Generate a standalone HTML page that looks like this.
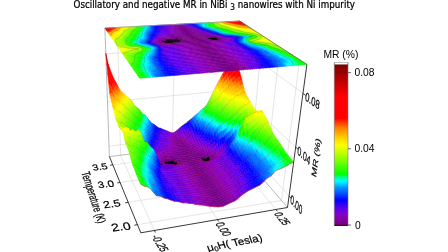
<!DOCTYPE html><html><head><meta charset="utf-8"><title>MR plot</title><style>html,body{margin:0;padding:0;background:#fff}svg{display:block}.s path{fill:currentColor;stroke:currentColor;stroke-width:.5;stroke-linejoin:round}.s .m{fill:none;stroke:#f03030;stroke-width:.65;stroke-opacity:.8}</style></head><body><svg width="448" height="252" viewBox="0 0 448 252"><rect width="448" height="252" fill="#fff"/><g stroke="#d4d4d4" stroke-width="0.6"><line x1="154.5" y1="230.5" x2="120.6" y2="155.2" /><line x1="120.6" y1="155.2" x2="117.4" y2="27.5" /><line x1="217.4" y1="219.6" x2="172.2" y2="148.7" /><line x1="172.2" y1="148.7" x2="175" y2="24.5" /><line x1="275.8" y1="209.5" x2="220.8" y2="142.5" /><line x1="220.8" y1="142.5" x2="228.9" y2="21.6" /><line x1="137.4" y1="224.7" x2="281.5" y2="200.5" /><line x1="281.5" y1="200.5" x2="299.6" y2="59.8" /><line x1="128.2" y1="202.3" x2="265" y2="181.3" /><line x1="265" y1="181.3" x2="279.9" y2="47" /><line x1="120.1" y1="182.5" x2="250.2" y2="164.1" /><line x1="250.2" y1="164.1" x2="262.4" y2="35.8" /><line x1="112.8" y1="164.9" x2="236.9" y2="148.6" /><line x1="236.9" y1="148.6" x2="247" y2="25.8" /><line x1="109" y1="146.2" x2="231.4" y2="131.5" /><line x1="231.4" y1="131.5" x2="289.1" y2="196" /><line x1="107.5" y1="101.9" x2="234.5" y2="89.8" /><line x1="234.5" y1="89.8" x2="295.7" y2="147.2" /><line x1="105.8" y1="53.8" x2="237.9" y2="45" /><line x1="237.9" y1="45" x2="302.9" y2="93.5" /></g><g stroke="#9a9a9a" stroke-width="0.7"><line x1="109.4" y1="156.6" x2="230.6" y2="141.3" /><line x1="230.6" y1="141.3" x2="287.5" y2="207.5" /><line x1="230.6" y1="141.3" x2="239.7" y2="21.1" /><line x1="109.4" y1="156.6" x2="104.9" y2="28.1" /><line x1="104.9" y1="28.1" x2="239.7" y2="21.1" /><line x1="239.7" y1="21.1" x2="306.9" y2="64.5" /></g><g class="s"><path class="m" d="M105.8 53.5l2.3 10.5l2.2 6.2l2.1 5.5l2.1 4.6l2 3.2l2 4.2l2 3.1l1.9 2.1l1.9 1.5l1.9 1.5l1.9 2.2l1.9 .9l1.9 2.3l1.9 3.5l1.8 1.8l1.9 1.5l1.8 1.4l1.8 2.4l1.9 2.4l1.8 .5l1.8 2l1.7 2.6l1.8 2.2l1.8 1.9l1.7 .8l1.8 1.2l1.7 1.4l1.8 1.1l1.7 .3l1.7 .9l1.7 .6l1.8 .7l1.7 .7l1.7 .8l1.7 .5l1.6 .5l1.8-.6l1.7-1.2l1.7-1.3l1.8-1.7l1.7-1.4l1.7-1.3l1.7-1.3l1.8-1l1.7-1.6l1.7-1.5l1.8-1.3l1.7-1.6l1.8-1.7l1.7-1.3l1.7-1.2l1.8-2.2l1.7-1.5l1.8-1.2l1.7-1.6l1.8-2.3l1.8-3.4l1.9-3.7l1.9-4.1l1.9-3.7l1.9-4l1.9-3.7l1.9-3.3l1.9-3.6l1.8-2.8l1.9-2.4l1.8-2l1.8-1.6l1.8-1.9l1.7-1l1.7-.7l1.7-.6"/><path d="M225.2 75.9l1.9-2.5l1.8-2.1l1.8-1.4l1.8-1.7l1.8-1.5l1.7-.8l1.7-.5l-1.1-3.7l-1.7 .6l-1.7 .7l-1.7 1l-1.8 1.9l-1.8 1.6l-1.8 2l-1.9 2.4z" color="#f00"/><path d="M223.4 78.4l1.8-2.5l-1-4l-1.8 2.8z" color="#f10"/><path d="M221.5 81.6l1.9-3.2l-1-3.7l-1.9 3.6z" color="#f50"/><path d="M219.7 84.2l1.8-2.6l-1-3.3l-1.9 3.3z" color="#f90"/><path d="M217.8 87.8l1.9-3.6l-1.1-2.6l-1.9 3.7z" color="#fb0"/><path d="M215.9 91.3l1.9-3.5l-1.1-2.5l-1.9 4z" color="#fd0"/><path d="M214 94.4l1.9-3.1l-1.1-2l-1.9 3.7z" color="#df0"/><path d="M212.1 97.8l1.9-3.4l-1.1-1.4l-1.9 4.1z" color="#bf0"/><path d="M210.3 101l1.8-3.2l-1.1-.7l-1.9 3.7z" color="#7f0"/><path d="M208.5 103.9l1.8-2.9l-1.2-.2l-1.8 3.4z" color="#4f0"/><path d="M206.7 106.5l1.8-2.6l-1.2 .3l-1.8 2.3z" color="#2f0"/><path d="M204.9 108.5l1.8-2l-1.2 0l-1.7 1.6z" color="#0f0"/><path d="M203.1 109.8l1.8-1.3l-1.1-.4l-1.8 1.2z" color="#0f8"/><path d="M201.4 111.2l1.7-1.4l-1.1-.5l-1.7 1.5z" color="#0fb"/><path d="M199.6 113.4l1.8-2.2l-1.1-.4l-1.8 2.2z" color="#0fe"/><path d="M197.9 114.5l1.7-1.1l-1.1-.4l-1.7 1.2z" color="#0cf"/><path d="M196.1 116.1l1.8-1.6l-1.1-.3l-1.7 1.3z" color="#0af"/><path d="M194.4 117.9l1.7-1.8l-1-.6l-1.8 1.7z" color="#09f"/><path d="M192.6 120l1.8-2.1l-1.1-.7l-1.7 1.6z" color="#06f"/><path d="M190.8 122l1.8-2l-1-1.2l-1.8 1.3z" color="#04f"/><path d="M189.1 123.7l1.7-1.7l-1-1.9l-1.7 1.5z" color="#02f"/><path d="M187.3 125.7l1.8-2l-1-2.1l-1.7 1.6z" color="#00f"/><path d="M185.6 126.9l1.7-1.2l-.9-2.5l-1.8 1z" color="#10f"/><path d="M183.8 128.3l1.8-1.4l-1-2.7l-1.7 1.3z" color="#20f"/><path d="M182.1 129.7l1.7-1.4l-.9-2.8l-1.7 1.3z" color="#30e"/><path d="M180.4 131.2l1.7-1.5l-.9-2.9l-1.7 1.4z" color="#50e"/><path d="M178.6 132.8l1.8-1.6l-.9-3l-1.8 1.7z" color="#60d"/><path d="M176.9 134.2l1.7-1.4l-.9-2.9l-1.7 1.3z" color="#70c"/><path d="M175.2 135l1.7-.8l-.9-3l-1.7 1.2z" color="#80c"/><path d="M173.5 135.3l1.7-.3l-.9-2.6l-1.8 .6z" color="#80b"/><path d="M170.1 134.1l1.7 .6l1.7 .6l-1-2.3l-1.6-.5l-1.7-.5z" color="#80c"/><path d="M168.4 133.4l1.7 .7l-.9-2.1l-1.7-.8z" color="#70c"/><path d="M166.6 132.6l1.8 .8l-.9-2.2l-1.7-.7z" color="#60d"/><path d="M164.9 131.9l1.7 .7l-.8-2.1l-1.8-.7z" color="#60e"/><path d="M163.2 131.3l1.7 .6l-.9-2.1l-1.7-.6z" color="#50e"/><path d="M161.5 130.7l1.7 .6l-.9-2.1l-1.7-.9z" color="#30e"/><path d="M159.7 130.4l1.8 .3l-.9-2.4l-1.7-.3z" color="#20f"/><path d="M158 129.3l1.7 1.1l-.8-2.4l-1.8-1.1z" color="#10f"/><path d="M156.2 128l1.8 1.3l-.9-2.4l-1.7-1.4z" color="#00f"/><path d="M154.5 127l1.7 1l-.8-2.5l-1.8-1.2z" color="#01f"/><path d="M152.7 126.1l1.8 .9l-.9-2.7l-1.7-.8z" color="#04f"/><path d="M151 124.1l1.7 2l-.8-2.6l-1.8-1.9z" color="#05f"/><path d="M149.2 121.7l1.8 2.4l-.9-2.5l-1.8-2.2z" color="#07f"/><path d="M147.4 119.4l1.8 2.3l-.9-2.3l-1.7-2.6z" color="#0cf"/><path d="M145.6 117.6l1.8 1.8l-.8-2.6l-1.8-2z" color="#0fe"/><path d="M143.8 116.8l1.8 .8l-.8-2.8l-1.8-.5z" color="#0f8"/><path d="M142 114.8l1.8 2l-.8-2.5l-1.9-2.4z" color="#0f3"/><path d="M140.1 112.4l1.9 2.4l-.9-2.9l-1.8-2.4z" color="#2f0"/><path d="M138.3 111l1.8 1.4l-.8-2.9l-1.8-1.4z" color="#4f0"/><path d="M136.4 109.4l1.9 1.6l-.8-2.9l-1.9-1.5z" color="#5f0"/><path d="M134.6 107.8l1.8 1.6l-.8-2.8l-1.8-1.8z" color="#7f0"/><path d="M132.7 105.1l1.9 2.7l-.8-3l-1.9-3.5z" color="#9f0"/><path d="M130.8 102.9l1.9 2.2l-.8-3.8l-1.9-2.3z" color="#cf0"/><path d="M128.9 101.7l1.9 1.2l-.8-3.9l-1.9-.9z" color="#df0"/><path d="M127 99.5l1.9 2.2l-.8-3.6l-1.9-2.2z" color="#ff0"/><path d="M125.1 98.1l1.9 1.4l-.8-3.6l-1.9-1.5z" color="#fe0"/><path d="M123.2 96.7l1.9 1.4l-.8-3.7l-1.9-1.5z" color="#fd0"/><path d="M121.2 94.4l2 2.3l-.8-3.8l-1.9-2.1z" color="#fb0"/><path d="M119.3 91.4l1.9 3l-.7-3.6l-2-3.1z" color="#fa0"/><path d="M117.3 87.8l2 3.6l-.8-3.7l-2-4.2z" color="#f50"/><path d="M115.3 85.3l2 2.5l-.8-4.3l-2-3.2z" color="#f10"/><path d="M109 71.3l2.1 5.5l2.1 4.8l2.1 3.7l-.8-5l-2.1-4.6l-2.1-5.5l-2.2-6.2z" color="#f00"/><path d="M106.8 63.6l2.2 7.7l-.9-7.3l-2.3-10.5z" color="#c00"/><path d="M228.1 77.4l1.9-2.4l1.7-1l1.8-1.6l1.8-2l1.8-.9l1.7-.5l-1.1-3.6l-1.7 .5l-1.7 .8l-1.8 1.5l-1.8 1.7l-1.8 1.4l-1.8 2.1z" color="#f00"/><path d="M226.3 80l1.8-2.6l-1-4l-1.9 2.5z" color="#f30"/><path d="M224.4 82.2l1.9-2.2l-1.1-4.1l-1.8 2.5z" color="#f50"/><path d="M222.6 84.9l1.8-2.7l-1-3.8l-1.9 3.2z" color="#f80"/><path d="M220.8 86.7l1.8-1.8l-1.1-3.3l-1.8 2.6z" color="#fb0"/><path d="M218.9 90.3l1.9-3.6l-1.1-2.5l-1.9 3.6z" color="#fc0"/><path d="M217 93.5l1.9-3.2l-1.1-2.5l-1.9 3.5z" color="#ff0"/><path d="M215.2 95.9l1.8-2.4l-1.1-2.2l-1.9 3.1z" color="#df0"/><path d="M213.3 98.6l1.9-2.7l-1.2-1.5l-1.9 3.4z" color="#bf0"/><path d="M211.5 101.3l1.8-2.7l-1.2-.8l-1.8 3.2z" color="#8f0"/><path d="M209.7 103.7l1.8-2.4l-1.2-.3l-1.8 2.9z" color="#6f0"/><path d="M207.8 106.5l1.9-2.8l-1.2 .2l-1.8 2.6z" color="#3f0"/><path d="M206 108.9l1.8-2.4l-1.1 0l-1.8 2z" color="#1f0"/><path d="M204.3 110.2l1.7-1.3l-1.1-.4l-1.8 1.3z" color="#0f3"/><path d="M202.5 111.6l1.8-1.4l-1.2-.4l-1.7 1.4z" color="#0f8"/><path d="M200.7 113.8l1.8-2.2l-1.1-.4l-1.8 2.2z" color="#0fb"/><path d="M199 114.8l1.7-1l-1.1-.4l-1.7 1.1z" color="#0ef"/><path d="M197.2 116.7l1.8-1.9l-1.1-.3l-1.8 1.6z" color="#0cf"/><path d="M195.4 118.7l1.8-2l-1.1-.6l-1.7 1.8z" color="#09f"/><path d="M193.6 121.3l1.8-2.6l-1-.8l-1.8 2.1z" color="#06f"/><path d="M191.8 123.9l1.8-2.6l-1-1.3l-1.8 2z" color="#04f"/><path d="M190.1 125.8l1.7-1.9l-1-1.9l-1.7 1.7z" color="#01f"/><path d="M188.3 128.2l1.8-2.4l-1-2.1l-1.8 2z" color="#10f"/><path d="M186.5 129.7l1.8-1.5l-1-2.5l-1.7 1.2z" color="#20f"/><path d="M184.8 131.2l1.7-1.5l-.9-2.8l-1.8 1.4z" color="#30e"/><path d="M183 132.6l1.8-1.4l-1-2.9l-1.7 1.4z" color="#60e"/><path d="M181.3 134.2l1.7-1.6l-.9-2.9l-1.7 1.5z" color="#60d"/><path d="M179.5 135.7l1.8-1.5l-.9-3l-1.8 1.6z" color="#70c"/><path d="M177.8 137.3l1.7-1.6l-.9-2.9l-1.7 1.4z" color="#80b"/><path d="M174.4 137.6l1.7 .1l1.7-.4l-.9-3.1l-1.7 .8l-1.7 .3z" color="#80a"/><path d="M172.7 136.8l1.7 .8l-.9-2.3l-1.7-.6z" color="#80b"/><path d="M169.3 135.6l1.7 .7l1.7 .5l-.9-2.1l-1.7-.6l-1.7-.7z" color="#80c"/><path d="M167.5 134.8l1.8 .8l-.9-2.2l-1.8-.8z" color="#70c"/><path d="M165.8 134l1.7 .8l-.9-2.2l-1.7-.7z" color="#60d"/><path d="M164.1 133.5l1.7 .5l-.9-2.1l-1.7-.6z" color="#60e"/><path d="M162.3 133l1.8 .5l-.9-2.2l-1.7-.6z" color="#50e"/><path d="M160.6 132.8l1.7 .2l-.8-2.3l-1.8-.3z" color="#30e"/><path d="M158.8 131.7l1.8 1.1l-.9-2.4l-1.7-1.1z" color="#20f"/><path d="M157.1 130.6l1.7 1.1l-.8-2.4l-1.8-1.3z" color="#10f"/><path d="M155.3 129.8l1.8 .8l-.9-2.6l-1.7-1z" color="#00f"/><path d="M153.6 128.7l1.7 1.1l-.8-2.8l-1.8-.9z" color="#01f"/><path d="M151.8 126.5l1.8 2.2l-.9-2.6l-1.7-2z" color="#04f"/><path d="M150 124.1l1.8 2.4l-.8-2.4l-1.8-2.4z" color="#06f"/><path d="M148.2 122.1l1.8 2l-.8-2.4l-1.8-2.3z" color="#0af"/><path d="M146.4 120.5l1.8 1.6l-.8-2.7l-1.8-1.8z" color="#0ef"/><path d="M144.6 119.4l1.8 1.1l-.8-2.9l-1.8-.8z" color="#0fe"/><path d="M142.8 117.8l1.8 1.6l-.8-2.6l-1.8-2z" color="#0f8"/><path d="M140.9 115.3l1.9 2.5l-.8-3l-1.9-2.4z" color="#0f0"/><path d="M139.1 113.8l1.8 1.5l-.8-2.9l-1.8-1.4z" color="#2f0"/><path d="M137.2 112.2l1.9 1.6l-.8-2.8l-1.9-1.6z" color="#4f0"/><path d="M135.4 110.8l1.8 1.4l-.8-2.8l-1.8-1.6z" color="#6f0"/><path d="M133.5 108.8l1.9 2l-.8-3l-1.9-2.7z" color="#8f0"/><path d="M131.6 106.9l1.9 1.9l-.8-3.7l-1.9-2.2z" color="#af0"/><path d="M129.7 105.3l1.9 1.6l-.8-4l-1.9-1.2z" color="#cf0"/><path d="M127.8 103.2l1.9 2.1l-.8-3.6l-1.9-2.2z" color="#df0"/><path d="M125.9 101.8l1.9 1.4l-.8-3.7l-1.9-1.4z" color="#ef0"/><path d="M124 100.5l1.9 1.3l-.8-3.7l-1.9-1.4z" color="#fe0"/><path d="M122 98.1l2 2.4l-.8-3.8l-2-2.3z" color="#fd0"/><path d="M120 95.1l2 3l-.8-3.7l-1.9-3z" color="#fb0"/><path d="M118.1 92.1l1.9 3l-.7-3.7l-2-3.6z" color="#f90"/><path d="M116.1 90.5l2 1.6l-.8-4.3l-2-2.5z" color="#f50"/><path d="M114.1 87.5l2 3l-.8-5.2l-2.1-3.7z" color="#f30"/><path d="M107.7 73.7l2.2 4.9l2.1 4.9l2.1 4l-.9-5.9l-2.1-4.8l-2.1-5.5l-2.2-7.7z" color="#f00"/><path d="M232.8 78.1l1.7-1.5l1.9-2.5l1.8-1l1.7-.4l-1.1-3.7l-1.7 .5l-1.8 .9l-1.8 2l-1.8 1.6z" color="#f00"/><path d="M231 78.8l1.8-.7l-1.1-4.1l-1.7 1z" color="#f10"/><path d="M229.1 81.4l1.9-2.6l-1-3.8l-1.9 2.4z" color="#f30"/><path d="M227.3 84.1l1.8-2.7l-1-4l-1.8 2.6z" color="#f70"/><path d="M225.5 85.9l1.8-1.8l-1-4.1l-1.9 2.2z" color="#f90"/><path d="M221.9 89.3l1.7-1.1l1.9-2.3l-1.1-3.7l-1.8 2.7l-1.8 1.8z" color="#fb0"/><path d="M220 92.8l1.9-3.5l-1.1-2.6l-1.9 3.6z" color="#fd0"/><path d="M218.1 95.6l1.9-2.8l-1.1-2.5l-1.9 3.2z" color="#ef0"/><path d="M216.3 97.3l1.8-1.7l-1.1-2.1l-1.8 2.4z" color="#df0"/><path d="M214.5 99.3l1.8-2l-1.1-1.4l-1.9 2.7z" color="#bf0"/><path d="M212.7 101.5l1.8-2.2l-1.2-.7l-1.8 2.7z" color="#9f0"/><path d="M210.9 103.4l1.8-1.9l-1.2-.2l-1.8 2.4z" color="#7f0"/><path d="M209 106.5l1.9-3.1l-1.2 .3l-1.9 2.8z" color="#4f0"/><path d="M207.2 109.4l1.8-2.9l-1.2 0l-1.8 2.4z" color="#2f0"/><path d="M205.4 110.7l1.8-1.3l-1.2-.5l-1.7 1.3z" color="#0f0"/><path d="M203.7 112l1.7-1.3l-1.1-.5l-1.8 1.4z" color="#0f3"/><path d="M201.8 114.2l1.9-2.2l-1.2-.4l-1.8 2.2z" color="#0fb"/><path d="M200.1 115.1l1.7-.9l-1.1-.4l-1.7 1z" color="#0fe"/><path d="M198.3 117.3l1.8-2.2l-1.1-.3l-1.8 1.9z" color="#0ef"/><path d="M196.5 119.4l1.8-2.1l-1.1-.6l-1.8 2z" color="#0af"/><path d="M194.7 122.6l1.8-3.2l-1.1-.7l-1.8 2.6z" color="#07f"/><path d="M192.8 125.8l1.9-3.2l-1.1-1.3l-1.8 2.6z" color="#04f"/><path d="M191.1 128l1.7-2.2l-1-1.9l-1.7 1.9z" color="#01f"/><path d="M189.2 130.8l1.9-2.8l-1-2.2l-1.8 2.4z" color="#20f"/><path d="M187.5 132.5l1.7-1.7l-.9-2.6l-1.8 1.5z" color="#50e"/><path d="M185.7 134l1.8-1.5l-1-2.8l-1.7 1.5z" color="#60e"/><path d="M184 135.6l1.7-1.6l-.9-2.8l-1.8 1.4z" color="#60d"/><path d="M182.2 137.3l1.8-1.7l-1-3l-1.7 1.6z" color="#80c"/><path d="M180.5 138.7l1.7-1.4l-.9-3.1l-1.8 1.5z" color="#80b"/><path d="M178.7 140.3l1.8-1.6l-1-3l-1.7 1.6z" color="#80a"/><path d="M175.3 139.9l1.7 .5l1.7-.1l-.9-3l-1.7 .4l-1.7-.1z" color="#809"/><path d="M173.6 139.1l1.7 .8l-.9-2.3l-1.7-.8z" color="#80a"/><path d="M171.9 138.5l1.7 .6l-.9-2.3l-1.7-.5z" color="#80b"/><path d="M170.2 137.8l1.7 .7l-.9-2.2l-1.7-.7z" color="#80c"/><path d="M168.4 137l1.8 .8l-.9-2.2l-1.8-.8z" color="#70c"/><path d="M166.7 136.2l1.7 .8l-.9-2.2l-1.7-.8z" color="#60d"/><path d="M163.2 135.4l1.8 .2l1.7 .6l-.9-2.2l-1.7-.5l-1.8-.5z" color="#60e"/><path d="M159.7 134.1l1.8 1.2l1.7 .1l-.9-2.4l-1.7-.2l-1.8-1.1z" color="#50e"/><path d="M158 133.1l1.7 1l-.9-2.4l-1.7-1.1z" color="#20f"/><path d="M156.2 132.5l1.8 .6l-.9-2.5l-1.8-.8z" color="#10f"/><path d="M154.4 131.4l1.8 1.1l-.9-2.7l-1.7-1.1z" color="#00f"/><path d="M152.6 129l1.8 2.4l-.8-2.7l-1.8-2.2z" color="#02f"/><path d="M150.9 126.5l1.7 2.5l-.8-2.5l-1.8-2.4z" color="#05f"/><path d="M149.1 124.7l1.8 1.8l-.9-2.4l-1.8-2z" color="#09f"/><path d="M147.2 123.3l1.9 1.4l-.9-2.6l-1.8-1.6z" color="#0cf"/><path d="M145.4 122l1.8 1.3l-.8-2.8l-1.8-1.1z" color="#0ef"/><path d="M143.6 120.8l1.8 1.2l-.8-2.6l-1.8-1.6z" color="#0fb"/><path d="M141.8 118.3l1.8 2.5l-.8-3l-1.9-2.5z" color="#0f3"/><path d="M139.9 116.6l1.9 1.7l-.9-3l-1.8-1.5z" color="#1f0"/><path d="M138.1 115l1.8 1.6l-.8-2.8l-1.9-1.6z" color="#2f0"/><path d="M136.2 113.8l1.9 1.2l-.9-2.8l-1.8-1.4z" color="#4f0"/><path d="M134.3 112.6l1.9 1.2l-.8-3l-1.9-2z" color="#6f0"/><path d="M132.4 110.9l1.9 1.7l-.8-3.8l-1.9-1.9z" color="#7f0"/><path d="M130.5 109l1.9 1.9l-.8-4l-1.9-1.6z" color="#9f0"/><path d="M128.6 106.8l1.9 2.2l-.8-3.7l-1.9-2.1z" color="#bf0"/><path d="M124.8 104.4l1.9 1.2l1.9 1.2l-.8-3.6l-1.9-1.4l-1.9-1.3z" color="#df0"/><path d="M122.8 101.7l2 2.7l-.8-3.9l-2-2.4z" color="#ff0"/><path d="M120.8 98.9l2 2.8l-.8-3.6l-2-3z" color="#fd0"/><path d="M118.8 96.4l2 2.5l-.8-3.8l-1.9-3z" color="#fb0"/><path d="M116.9 95.6l1.9 .8l-.7-4.3l-2-1.6z" color="#f90"/><path d="M114.9 93.4l2 2.2l-.8-5.1l-2-3z" color="#f70"/><path d="M112.8 90.1l2.1 3.3l-.8-5.9l-2.1-4z" color="#f40"/><path d="M108.7 83.8l2.1 2.2l2 4.1l-.8-6.6l-2.1-4.9l-2.2-4.9z" color="#f00"/><path d="M237.5 77.9l1.8-1.2l1.7-.3l-1.1-3.7l-1.7 .4l-1.8 1z" color="#f00"/><path d="M235.6 80.8l1.9-2.9l-1.1-3.8l-1.9 2.5z" color="#f10"/><path d="M232.1 82.6l1.7-.4l1.8-1.4l-1.1-4.2l-1.7 1.5l-1.8 .7z" color="#f40"/><path d="M230.2 85.4l1.9-2.8l-1.1-3.8l-1.9 2.6z" color="#f70"/><path d="M228.3 88.2l1.9-2.8l-1.1-4l-1.8 2.7z" color="#f90"/><path d="M226.5 89.7l1.8-1.5l-1-4.1l-1.8 1.8z" color="#fb0"/><path d="M224.7 91.5l1.8-1.8l-1-3.8l-1.9 2.3z" color="#fc0"/><path d="M223 91.9l1.7-.4l-1.1-3.3l-1.7 1.1z" color="#fd0"/><path d="M221.1 95.3l1.9-3.4l-1.1-2.6l-1.9 3.5z" color="#fe0"/><path d="M217.5 98.8l1.7-1.1l1.9-2.4l-1.1-2.5l-1.9 2.8l-1.8 1.7z" color="#df0"/><path d="M215.7 100.1l1.8-1.3l-1.2-1.5l-1.8 2z" color="#bf0"/><path d="M213.9 101.8l1.8-1.7l-1.2-.8l-1.8 2.2z" color="#af0"/><path d="M212.1 103.2l1.8-1.4l-1.2-.3l-1.8 1.9z" color="#8f0"/><path d="M210.2 106.5l1.9-3.3l-1.2 .2l-1.9 3.1z" color="#6f0"/><path d="M208.3 109.8l1.9-3.3l-1.2 0l-1.8 2.9z" color="#3f0"/><path d="M206.6 111.1l1.7-1.3l-1.1-.4l-1.8 1.3z" color="#1f0"/><path d="M204.8 112.4l1.8-1.3l-1.2-.4l-1.7 1.3z" color="#0f0"/><path d="M203 114.6l1.8-2.2l-1.1-.4l-1.9 2.2z" color="#0f8"/><path d="M201.2 115.4l1.8-.8l-1.2-.4l-1.7 .9z" color="#0fb"/><path d="M199.4 117.9l1.8-2.5l-1.1-.3l-1.8 2.2z" color="#0fe"/><path d="M197.6 120.2l1.8-2.3l-1.1-.6l-1.8 2.1z" color="#0cf"/><path d="M195.7 123.9l1.9-3.7l-1.1-.8l-1.8 3.2z" color="#07f"/><path d="M193.9 127.8l1.8-3.9l-1-1.3l-1.9 3.2z" color="#04f"/><path d="M192.1 130.1l1.8-2.3l-1.1-2l-1.7 2.2z" color="#00f"/><path d="M190.2 133.4l1.9-3.3l-1-2.1l-1.9 2.8z" color="#30e"/><path d="M188.5 135.2l1.7-1.8l-1-2.6l-1.7 1.7z" color="#60e"/><path d="M186.7 136.9l1.8-1.7l-1-2.7l-1.8 1.5z" color="#60d"/><path d="M184.9 138.5l1.8-1.6l-1-2.9l-1.7 1.6z" color="#80c"/><path d="M183.1 140.3l1.8-1.8l-.9-2.9l-1.8 1.7z" color="#80b"/><path d="M181.4 141.7l1.7-1.4l-.9-3l-1.7 1.4z" color="#809"/><path d="M179.6 143.4l1.8-1.7l-.9-3l-1.8 1.6z" color="#709"/><path d="M177.9 143.1l1.7 .3l-.9-3.1l-1.7 .1z" color="#708"/><path d="M176.2 142.3l1.7 .8l-.9-2.7l-1.7-.5z" color="#709"/><path d="M174.5 141.3l1.7 1l-.9-2.4l-1.7-.8z" color="#809"/><path d="M172.8 140.7l1.7 .6l-.9-2.2l-1.7-.6z" color="#80a"/><path d="M171.1 140.1l1.7 .6l-.9-2.2l-1.7-.7z" color="#80b"/><path d="M169.3 139.3l1.8 .8l-.9-2.3l-1.8-.8z" color="#80c"/><path d="M167.6 138.3l1.7 1l-.9-2.3l-1.7-.8z" color="#70c"/><path d="M164.1 137.8l1.8 0l1.7 .5l-.9-2.1l-1.7-.6l-1.8-.2z" color="#60d"/><path d="M160.6 136.6l1.8 1.2l1.7 0l-.9-2.4l-1.7-.1l-1.8-1.2z" color="#60e"/><path d="M158.8 135.7l1.8 .9l-.9-2.5l-1.7-1z" color="#30e"/><path d="M157.1 135.3l1.7 .4l-.8-2.6l-1.8-.6z" color="#20f"/><path d="M155.3 134.1l1.8 1.2l-.9-2.8l-1.8-1.1z" color="#10f"/><path d="M153.5 131.5l1.8 2.6l-.9-2.7l-1.8-2.4z" color="#01f"/><path d="M151.7 128.9l1.8 2.6l-.9-2.5l-1.7-2.5z" color="#04f"/><path d="M149.9 127.4l1.8 1.5l-.8-2.4l-1.8-1.8z" color="#07f"/><path d="M148.1 126.2l1.8 1.2l-.8-2.7l-1.9-1.4z" color="#09f"/><path d="M146.3 124.7l1.8 1.5l-.9-2.9l-1.8-1.3z" color="#0cf"/><path d="M144.4 123.8l1.9 .9l-.9-2.7l-1.8-1.2z" color="#0ef"/><path d="M142.6 121.2l1.8 2.6l-.8-3l-1.8-2.5z" color="#0fb"/><path d="M140.7 119.5l1.9 1.7l-.8-2.9l-1.9-1.7z" color="#0f3"/><path d="M138.9 117.9l1.8 1.6l-.8-2.9l-1.8-1.6z" color="#1f0"/><path d="M137 116.9l1.9 1l-.8-2.9l-1.9-1.2z" color="#3f0"/><path d="M135.1 116.4l1.9 .5l-.8-3.1l-1.9-1.2z" color="#4f0"/><path d="M133.2 114.9l1.9 1.5l-.8-3.8l-1.9-1.7z" color="#5f0"/><path d="M131.3 112.6l1.9 2.3l-.8-4l-1.9-1.9z" color="#7f0"/><path d="M129.4 110.5l1.9 2.1l-.8-3.6l-1.9-2.2z" color="#9f0"/><path d="M127.5 109.4l1.9 1.1l-.8-3.7l-1.9-1.2z" color="#bf0"/><path d="M125.6 108.2l1.9 1.2l-.8-3.8l-1.9-1.2z" color="#cf0"/><path d="M123.6 105.4l2 2.8l-.8-3.8l-2-2.7z" color="#df0"/><path d="M121.6 102.6l2 2.8l-.8-3.7l-2-2.8z" color="#fe0"/><path d="M119.6 100.7l2 1.9l-.8-3.7l-2-2.5z" color="#fd0"/><path d="M115.7 99.3l2 1.4l1.9 0l-.8-4.3l-1.9-.8l-2-2.2z" color="#fb0"/><path d="M113.7 96.8l2 2.5l-.8-5.9l-2.1-3.3z" color="#f90"/><path d="M111.6 93.3l2.1 3.5l-.9-6.7l-2-4.1z" color="#f50"/><path d="M109.7 93.8l1.9-.5l-.8-7.3l-2.1-2.2z" color="#f30"/><path class="m" d="M109.7 93.8l1.9-.5l2.1 3.5l2 2.5l2 1.4l1.9 0l2 1.9l2 2.8l2 2.8l1.9 1.2l1.9 1.1l1.9 2.1l1.9 2.3l1.9 1.5l1.9 .5l1.9 1l1.8 1.6l1.9 1.7l1.8 2.6l1.9 .9l1.8 1.5l1.8 1.2l1.8 1.5l1.8 2.6l1.8 2.6l1.8 1.2l1.7 .4l1.8 .9l1.8 1.2l1.7 0l1.8 0l1.7 .5l1.7 1l1.8 .8l1.7 .6l1.7 .6l1.7 1l1.7 .8l1.7 .3l1.8-1.7l1.7-1.4l1.8-1.8l1.8-1.6l1.8-1.7l1.7-1.8l1.9-3.3l1.8-2.3l1.8-3.9l1.9-3.7l1.8-2.3l1.8-2.5l1.8-.8l1.8-2.2l1.8-1.3l1.7-1.3l1.9-3.3l1.9-3.3l1.8-1.4l1.8-1.7l1.8-1.3l1.7-1.1l1.9-2.4l1.9-3.4l1.7-.4l1.8-1.8l1.8-1.5l1.9-2.8l1.9-2.8l1.7-.4l1.8-1.4l1.9-2.9l1.8-1.2l1.7-.3"/><path d="M240.3 80.8l1.7-.3l-1-4.1l-1.7 .3z" color="#f10"/><path d="M238.6 81.7l1.7-.9l-1-4.1l-1.8 1.2z" color="#f30"/><path d="M236.7 84.4l1.9-2.7l-1.1-3.8l-1.9 2.9z" color="#f40"/><path d="M234.9 85.6l1.8-1.2l-1.1-3.6l-1.8 1.4z" color="#f70"/><path d="M233.2 86l1.7-.4l-1.1-3.4l-1.7 .4z" color="#f80"/><path d="M231.3 88.6l1.9-2.6l-1.1-3.4l-1.9 2.8z" color="#f90"/><path d="M229.4 90.9l1.9-2.3l-1.1-3.2l-1.9 2.8z" color="#fb0"/><path d="M227.6 92.3l1.8-1.4l-1.1-2.7l-1.8 1.5z" color="#fc0"/><path d="M225.8 94.2l1.8-1.9l-1.1-2.6l-1.8 1.8z" color="#fd0"/><path d="M224.1 94.9l1.7-.7l-1.1-2.7l-1.7 .4z" color="#fe0"/><path d="M222.2 98l1.9-3.1l-1.1-3l-1.9 3.4z" color="#ff0"/><path d="M220.3 100.6l1.9-2.6l-1.1-2.7l-1.9 2.4z" color="#df0"/><path d="M218.5 102l1.8-1.4l-1.1-2.9l-1.7 1.1z" color="#bf0"/><path d="M216.7 103.3l1.8-1.3l-1-3.2l-1.8 1.3z" color="#af0"/><path d="M214.9 104.8l1.8-1.5l-1-3.2l-1.8 1.7z" color="#9f0"/><path d="M213.1 106.4l1.8-1.6l-1-3l-1.8 1.4z" color="#8f0"/><path d="M211.3 109.3l1.8-2.9l-1-3.2l-1.9 3.3z" color="#6f0"/><path d="M209.4 112.5l1.9-3.2l-1.1-2.8l-1.9 3.3z" color="#3f0"/><path d="M207.6 113.8l1.8-1.3l-1.1-2.7l-1.7 1.3z" color="#1f0"/><path d="M205.8 115l1.8-1.2l-1-2.7l-1.8 1.3z" color="#0f0"/><path d="M204 117.4l1.8-2.4l-1-2.6l-1.8 2.2z" color="#0f8"/><path d="M202.2 118.5l1.8-1.1l-1-2.8l-1.8 .8z" color="#0fb"/><path d="M200.4 121.2l1.8-2.7l-1-3.1l-1.8 2.5z" color="#0ef"/><path d="M198.6 123.6l1.8-2.4l-1-3.3l-1.8 2.3z" color="#0af"/><path d="M196.7 127.3l1.9-3.7l-1-3.4l-1.9 3.7z" color="#06f"/><path d="M194.9 130.6l1.8-3.3l-1-3.4l-1.8 3.9z" color="#02f"/><path d="M193.1 132.8l1.8-2.2l-1-2.8l-1.8 2.3z" color="#10f"/><path d="M191.2 135.7l1.9-2.9l-1-2.7l-1.9 3.3z" color="#50e"/><path d="M189.4 137.4l1.8-1.7l-1-2.3l-1.7 1.8z" color="#60d"/><path d="M187.7 139l1.7-1.6l-.9-2.2l-1.8 1.7z" color="#70c"/><path d="M185.9 140.4l1.8-1.4l-1-2.1l-1.8 1.6z" color="#80b"/><path d="M184.1 142l1.8-1.6l-1-1.9l-1.8 1.8z" color="#80a"/><path d="M182.4 143.4l1.7-1.4l-1-1.7l-1.7 1.4z" color="#709"/><path d="M177.2 143.8l1.7 .7l1.7 .3l1.8-1.4l-1-1.7l-1.8 1.7l-1.7-.3l-1.7-.8z" color="#708"/><path d="M175.5 142.9l1.7 .9l-1-1.5l-1.7-1z" color="#709"/><path d="M173.7 142.3l1.8 .6l-1-1.6l-1.7-.6z" color="#809"/><path d="M172 141.8l1.7 .5l-.9-1.6l-1.7-.6z" color="#80a"/><path d="M170.3 141l1.7 .8l-.9-1.7l-1.8-.8z" color="#80b"/><path d="M168.5 140.2l1.8 .8l-1-1.7l-1.7-1z" color="#80c"/><path d="M166.8 139.7l1.7 .5l-.9-1.9l-1.7-.5z" color="#70c"/><path d="M163.3 139.4l1.7 .1l1.8 .2l-.9-1.9l-1.8 0l-1.7 0z" color="#60d"/><path d="M161.5 138.3l1.8 1.1l-.9-1.6l-1.8-1.2z" color="#60e"/><path d="M159.7 137.5l1.8 .8l-.9-1.7l-1.8-.9z" color="#50e"/><path d="M157.9 137.1l1.8 .4l-.9-1.8l-1.7-.4z" color="#30e"/><path d="M156.1 136.1l1.8 1l-.8-1.8l-1.8-1.2z" color="#20f"/><path d="M154.4 134l1.7 2.1l-.8-2l-1.8-2.6z" color="#00f"/><path d="M152.6 131.8l1.8 2.2l-.9-2.5l-1.8-2.6z" color="#02f"/><path d="M150.8 130.3l1.8 1.5l-.9-2.9l-1.8-1.5z" color="#05f"/><path d="M148.9 128.9l1.9 1.4l-.9-2.9l-1.8-1.2z" color="#07f"/><path d="M147.1 127.4l1.8 1.5l-.8-2.7l-1.8-1.5z" color="#09f"/><path d="M145.3 126.4l1.8 1l-.8-2.7l-1.9-.9z" color="#0cf"/><path d="M143.4 123.9l1.9 2.5l-.9-2.6l-1.8-2.6z" color="#0fe"/><path d="M141.6 122.1l1.8 1.8l-.8-2.7l-1.9-1.7z" color="#0f8"/><path d="M139.7 120.4l1.9 1.7l-.9-2.6l-1.8-1.6z" color="#0f0"/><path d="M137.8 119.1l1.9 1.3l-.8-2.5l-1.9-1z" color="#1f0"/><path d="M135.9 118.7l1.9 .4l-.8-2.2l-1.9-.5z" color="#2f0"/><path d="M134 117.3l1.9 1.4l-.8-2.3l-1.9-1.5z" color="#3f0"/><path d="M132.1 115.5l1.9 1.8l-.8-2.4l-1.9-2.3z" color="#5f0"/><path d="M130.2 113.5l1.9 2l-.8-2.9l-1.9-2.1z" color="#7f0"/><path d="M128.3 112.2l1.9 1.3l-.8-3l-1.9-1.1z" color="#9f0"/><path d="M126.3 111.1l2 1.1l-.8-2.8l-1.9-1.2z" color="#af0"/><path d="M124.4 108.5l1.9 2.6l-.7-2.9l-2-2.8z" color="#cf0"/><path d="M122.4 106.2l2 2.3l-.8-3.1l-2-2.8z" color="#ef0"/><path d="M120.4 104.3l2 1.9l-.8-3.6l-2-1.9z" color="#fe0"/><path d="M116.5 102.4l2 1.3l1.9 .6l-.8-3.6l-1.9 0l-2-1.4z" color="#fd0"/><path d="M114.5 100.4l2 2l-.8-3.1l-2-2.5z" color="#fb0"/><path d="M112.4 97l2.1 3.4l-.8-3.6l-2.1-3.5z" color="#f90"/><path d="M110.4 96.9l2 .1l-.8-3.7l-1.9 .5z" color="#f80"/><path d="M239.7 85.6l1.7-.6l1.7-.5l-1.1-4l-1.7 .3l-1.7 .9z" color="#f50"/><path d="M237.8 88l1.9-2.4l-1.1-3.9l-1.9 2.7z" color="#f80"/><path d="M236 89l1.8-1l-1.1-3.6l-1.8 1.2z" color="#f90"/><path d="M234.3 89.4l1.7-.4l-1.1-3.4l-1.7 .4z" color="#fa0"/><path d="M232.4 91.8l1.9-2.4l-1.1-3.4l-1.9 2.6z" color="#fb0"/><path d="M230.6 93.7l1.8-1.9l-1.1-3.2l-1.9 2.3z" color="#fc0"/><path d="M228.8 94.9l1.8-1.2l-1.2-2.8l-1.8 1.4z" color="#fd0"/><path d="M227 96.8l1.8-1.9l-1.2-2.6l-1.8 1.9z" color="#fe0"/><path d="M225.2 97.9l1.8-1.1l-1.2-2.6l-1.7 .7z" color="#ff0"/><path d="M223.3 100.8l1.9-2.9l-1.1-3l-1.9 3.1z" color="#df0"/><path d="M221.4 103.4l1.9-2.6l-1.1-2.8l-1.9 2.6z" color="#cf0"/><path d="M219.6 105.2l1.8-1.8l-1.1-2.8l-1.8 1.4z" color="#af0"/><path d="M217.8 106.5l1.8-1.3l-1.1-3.2l-1.8 1.3z" color="#8f0"/><path d="M216 107.8l1.8-1.3l-1.1-3.2l-1.8 1.5z" color="#7f0"/><path d="M214.2 109.6l1.8-1.8l-1.1-3l-1.8 1.6z" color="#6f0"/><path d="M212.3 112.2l1.9-2.6l-1.1-3.2l-1.8 2.9z" color="#4f0"/><path d="M210.5 115.2l1.8-3l-1-2.9l-1.9 3.2z" color="#1f0"/><path d="M208.7 116.6l1.8-1.4l-1.1-2.7l-1.8 1.3z" color="#0f3"/><path d="M206.9 117.7l1.8-1.1l-1.1-2.8l-1.8 1.2z" color="#0f8"/><path d="M205.1 120.2l1.8-2.5l-1.1-2.7l-1.8 2.4z" color="#0fb"/><path d="M203.3 121.7l1.8-1.5l-1.1-2.8l-1.8 1.1z" color="#0ef"/><path d="M201.4 124.5l1.9-2.8l-1.1-3.2l-1.8 2.7z" color="#0af"/><path d="M199.6 127.1l1.8-2.6l-1-3.3l-1.8 2.4z" color="#07f"/><path d="M197.7 130.7l1.9-3.6l-1-3.5l-1.9 3.7z" color="#04f"/><path d="M195.8 133.5l1.9-2.8l-1-3.4l-1.8 3.3z" color="#00f"/><path d="M194.1 135.4l1.7-1.9l-.9-2.9l-1.8 2.2z" color="#30e"/><path d="M192.2 138l1.9-2.6l-1-2.6l-1.9 2.9z" color="#60e"/><path d="M190.4 139.6l1.8-1.6l-1-2.3l-1.8 1.7z" color="#70c"/><path d="M188.7 141.1l1.7-1.5l-1-2.2l-1.7 1.6z" color="#80c"/><path d="M186.9 142.4l1.8-1.3l-1-2.1l-1.8 1.4z" color="#80b"/><path d="M185.1 143.8l1.8-1.4l-1-2l-1.8 1.6z" color="#809"/><path d="M183.4 145.1l1.7-1.3l-1-1.8l-1.7 1.4z" color="#709"/><path d="M178.2 145.4l1.7 .6l1.7 .3l1.8-1.2l-1-1.7l-1.8 1.4l-1.7-.3l-1.7-.7z" color="#708"/><path d="M176.4 144.6l1.8 .8l-1-1.6l-1.7-.9z" color="#709"/><path d="M174.7 144l1.7 .6l-.9-1.7l-1.8-.6z" color="#809"/><path d="M173 143.5l1.7 .5l-1-1.7l-1.7-.5z" color="#80a"/><path d="M171.2 142.8l1.8 .7l-1-1.7l-1.7-.8z" color="#80b"/><path d="M169.5 142.1l1.7 .7l-.9-1.8l-1.8-.8z" color="#80c"/><path d="M165.9 141.2l1.8 .4l1.8 .5l-1-1.9l-1.7-.5l-1.8-.2z" color="#70c"/><path d="M164.2 141l1.7 .2l-.9-1.7l-1.7-.1z" color="#60d"/><path d="M162.4 140l1.8 1l-.9-1.6l-1.8-1.1z" color="#60e"/><path d="M158.8 138.9l1.8 .5l1.8 .6l-.9-1.7l-1.8-.8l-1.8-.4z" color="#50e"/><path d="M157 138.2l1.8 .7l-.9-1.8l-1.8-1z" color="#30e"/><path d="M155.2 136.5l1.8 1.7l-.9-2.1l-1.7-2.1z" color="#10f"/><path d="M153.4 134.8l1.8 1.7l-.8-2.5l-1.8-2.2z" color="#01f"/><path d="M151.6 133.3l1.8 1.5l-.8-3l-1.8-1.5z" color="#04f"/><path d="M149.8 131.5l1.8 1.8l-.8-3l-1.9-1.4z" color="#06f"/><path d="M148 130.2l1.8 1.3l-.9-2.6l-1.8-1.5z" color="#07f"/><path d="M146.1 129l1.9 1.2l-.9-2.8l-1.8-1z" color="#0af"/><path d="M144.3 126.6l1.8 2.4l-.8-2.6l-1.9-2.5z" color="#0ef"/><path d="M142.4 124.8l1.9 1.8l-.9-2.7l-1.8-1.8z" color="#0fb"/><path d="M140.5 123l1.9 1.8l-.8-2.7l-1.9-1.7z" color="#0f3"/><path d="M138.6 121.4l1.9 1.6l-.8-2.6l-1.9-1.3z" color="#0f0"/><path d="M136.7 121l1.9 .4l-.8-2.3l-1.9-.4z" color="#1f0"/><path d="M134.8 119.8l1.9 1.2l-.8-2.3l-1.9-1.4z" color="#2f0"/><path d="M132.9 118.5l1.9 1.3l-.8-2.5l-1.9-1.8z" color="#4f0"/><path d="M131 116.4l1.9 2.1l-.8-3l-1.9-2z" color="#6f0"/><path d="M129.1 114.9l1.9 1.5l-.8-2.9l-1.9-1.3z" color="#8f0"/><path d="M127.1 113.9l2 1l-.8-2.7l-2-1.1z" color="#9f0"/><path d="M125.2 111.6l1.9 2.3l-.8-2.8l-1.9-2.6z" color="#bf0"/><path d="M123.2 109.8l2 1.8l-.8-3.1l-2-2.3z" color="#df0"/><path d="M121.2 107.8l2 2l-.8-3.6l-2-1.9z" color="#ef0"/><path d="M119.2 106.8l2 1l-.8-3.5l-1.9-.6z" color="#ff0"/><path d="M117.3 105.6l1.9 1.2l-.7-3.1l-2-1.3z" color="#fe0"/><path d="M115.2 103.9l2.1 1.7l-.8-3.2l-2-2z" color="#fd0"/><path d="M113.2 100.8l2 3.1l-.7-3.5l-2.1-3.4z" color="#fb0"/><path d="M111.2 100l2 .8l-.8-3.8l-2-.1z" color="#fa0"/><path d="M240.8 89.5l1.7-.4l1.7-.5l-1.1-4.1l-1.7 .5l-1.7 .6z" color="#f90"/><path d="M238.9 91.6l1.9-2.1l-1.1-3.9l-1.9 2.4z" color="#fa0"/><path d="M235.4 92.8l1.7-.3l1.8-.9l-1.1-3.6l-1.8 1l-1.7 .4z" color="#fb0"/><path d="M233.5 95l1.9-2.2l-1.1-3.4l-1.9 2.4z" color="#fc0"/><path d="M231.7 96.5l1.8-1.5l-1.1-3.2l-1.8 1.9z" color="#fd0"/><path d="M230 97.5l1.7-1l-1.1-2.8l-1.8 1.2z" color="#fe0"/><path d="M228.1 99.5l1.9-2l-1.2-2.6l-1.8 1.9z" color="#ff0"/><path d="M226.3 100.9l1.8-1.4l-1.1-2.7l-1.8 1.1z" color="#df0"/><path d="M224.4 103.5l1.9-2.6l-1.1-3l-1.9 2.9z" color="#cf0"/><path d="M222.5 106.3l1.9-2.8l-1.1-2.7l-1.9 2.6z" color="#af0"/><path d="M220.7 108.4l1.8-2.1l-1.1-2.9l-1.8 1.8z" color="#8f0"/><path d="M218.9 109.8l1.8-1.4l-1.1-3.2l-1.8 1.3z" color="#7f0"/><path d="M217.1 110.9l1.8-1.1l-1.1-3.3l-1.8 1.3z" color="#5f0"/><path d="M215.3 112.8l1.8-1.9l-1.1-3.1l-1.8 1.8z" color="#4f0"/><path d="M213.4 115l1.9-2.2l-1.1-3.2l-1.9 2.6z" color="#2f0"/><path d="M211.5 117.9l1.9-2.9l-1.1-2.8l-1.8 3z" color="#0f0"/><path d="M209.7 119.3l1.8-1.4l-1-2.7l-1.8 1.4z" color="#0f8"/><path d="M208 120.3l1.7-1l-1-2.7l-1.8 1.1z" color="#0fb"/><path d="M206.1 123l1.9-2.7l-1.1-2.6l-1.8 2.5z" color="#0ef"/><path d="M204.3 124.9l1.8-1.9l-1-2.8l-1.8 1.5z" color="#0af"/><path d="M202.4 127.8l1.9-2.9l-1-3.2l-1.9 2.8z" color="#07f"/><path d="M200.6 130.5l1.8-2.7l-1-3.3l-1.8 2.6z" color="#05f"/><path d="M198.7 134.1l1.9-3.6l-1-3.4l-1.9 3.6z" color="#01f"/><path d="M196.9 136.4l1.8-2.3l-1-3.4l-1.9 2.8z" color="#20f"/><path d="M195.1 138.1l1.8-1.7l-1.1-2.9l-1.7 1.9z" color="#50e"/><path d="M193.2 140.4l1.9-2.3l-1-2.7l-1.9 2.6z" color="#60d"/><path d="M191.5 141.9l1.7-1.5l-1-2.4l-1.8 1.6z" color="#80c"/><path d="M189.7 143.3l1.8-1.4l-1.1-2.3l-1.7 1.5z" color="#80b"/><path d="M187.9 144.3l1.8-1l-1-2.2l-1.8 1.3z" color="#80a"/><path d="M186.1 145.6l1.8-1.3l-1-1.9l-1.8 1.4z" color="#809"/><path d="M184.4 146.8l1.7-1.2l-1-1.8l-1.7 1.3z" color="#709"/><path d="M179.1 147l1.8 .5l1.7 .2l1.8-.9l-1-1.7l-1.8 1.2l-1.7-.3l-1.7-.6z" color="#708"/><path d="M177.4 146.3l1.7 .7l-.9-1.6l-1.8-.8z" color="#709"/><path d="M175.7 145.7l1.7 .6l-1-1.7l-1.7-.6z" color="#809"/><path d="M173.9 145.2l1.8 .5l-1-1.7l-1.7-.5z" color="#80a"/><path d="M172.2 144.6l1.7 .6l-.9-1.7l-1.8-.7z" color="#80b"/><path d="M168.6 143.5l1.8 .5l1.8 .6l-1-1.8l-1.7-.7l-1.8-.5z" color="#80c"/><path d="M166.9 142.9l1.7 .6l-.9-1.9l-1.8-.4z" color="#70c"/><path d="M163.3 141.7l1.8 .9l1.8 .3l-1-1.7l-1.7-.2l-1.8-1z" color="#60d"/><path d="M161.5 141.2l1.8 .5l-.9-1.7l-1.8-.6z" color="#60e"/><path d="M159.7 140.7l1.8 .5l-.9-1.8l-1.8-.5z" color="#50e"/><path d="M157.9 140.3l1.8 .4l-.9-1.8l-1.8-.7z" color="#30e"/><path d="M156.1 138.9l1.8 1.4l-.9-2.1l-1.8-1.7z" color="#20f"/><path d="M154.3 137.9l1.8 1l-.9-2.4l-1.8-1.7z" color="#00f"/><path d="M152.5 136.3l1.8 1.6l-.9-3.1l-1.8-1.5z" color="#01f"/><path d="M150.7 134.1l1.8 2.2l-.9-3l-1.8-1.8z" color="#04f"/><path d="M148.8 133.1l1.9 1l-.9-2.6l-1.8-1.3z" color="#06f"/><path d="M147 131.6l1.8 1.5l-.8-2.9l-1.9-1.2z" color="#07f"/><path d="M145.1 129.4l1.9 2.2l-.9-2.6l-1.8-2.4z" color="#0af"/><path d="M143.2 127.4l1.9 2l-.8-2.8l-1.9-1.8z" color="#0fe"/><path d="M141.3 125.6l1.9 1.8l-.8-2.6l-1.9-1.8z" color="#0fb"/><path d="M139.5 123.7l1.8 1.9l-.8-2.6l-1.9-1.6z" color="#0f3"/><path d="M135.7 122.3l1.9 1l1.9 .4l-.9-2.3l-1.9-.4l-1.9-1.2z" color="#1f0"/><path d="M133.7 121.4l2 .9l-.9-2.5l-1.9-1.3z" color="#3f0"/><path d="M131.8 119.5l1.9 1.9l-.8-2.9l-1.9-2.1z" color="#4f0"/><path d="M129.9 117.8l1.9 1.7l-.8-3.1l-1.9-1.5z" color="#6f0"/><path d="M127.9 116.8l2 1l-.8-2.9l-2-1z" color="#8f0"/><path d="M126 114.7l1.9 2.1l-.8-2.9l-1.9-2.3z" color="#9f0"/><path d="M124 113.4l2 1.3l-.8-3.1l-2-1.8z" color="#bf0"/><path d="M122 111.4l2 2l-.8-3.6l-2-2z" color="#df0"/><path d="M120 109.8l2 1.6l-.8-3.6l-2-1z" color="#ef0"/><path d="M118 108.8l2 1l-.8-3l-1.9-1.2z" color="#ff0"/><path d="M116 107.5l2 1.3l-.7-3.2l-2.1-1.7z" color="#fe0"/><path d="M114 104.6l2 2.9l-.8-3.6l-2-3.1z" color="#fd0"/><path d="M111.9 103.1l2.1 1.5l-.8-3.8l-2-.8z" color="#fb0"/><path d="M241.9 93.4l1.7-.1l1.7-.6l-1.1-4.1l-1.7 .5l-1.7 .4z" color="#fb0"/><path d="M240 95.2l1.9-1.8l-1.1-3.9l-1.9 2.1z" color="#fc0"/><path d="M234.7 98.3l1.8-2l1.8-.4l1.7-.7l-1.1-3.6l-1.8 .9l-1.7 .3l-1.9 2.2z" color="#fd0"/><path d="M231.1 100.1l1.8-.8l1.8-1l-1.2-3.3l-1.8 1.5l-1.7 1z" color="#ff0"/><path d="M227.4 104l1.9-1.8l1.8-2.1l-1.1-2.6l-1.9 2l-1.8 1.4z" color="#df0"/><path d="M225.5 106.3l1.9-2.3l-1.1-3.1l-1.9 2.6z" color="#bf0"/><path d="M223.6 109.2l1.9-2.9l-1.1-2.8l-1.9 2.8z" color="#9f0"/><path d="M221.8 111.6l1.8-2.4l-1.1-2.9l-1.8 2.1z" color="#6f0"/><path d="M220 113l1.8-1.4l-1.1-3.2l-1.8 1.4z" color="#5f0"/><path d="M218.2 114l1.8-1l-1.1-3.2l-1.8 1.1z" color="#4f0"/><path d="M216.3 116.1l1.9-2.1l-1.1-3.1l-1.8 1.9z" color="#2f0"/><path d="M214.5 117.9l1.8-1.8l-1-3.3l-1.9 2.2z" color="#1f0"/><path d="M212.6 120.7l1.9-2.8l-1.1-2.9l-1.9 2.9z" color="#0f8"/><path d="M210.8 122.1l1.8-1.4l-1.1-2.8l-1.8 1.4z" color="#0fb"/><path d="M209 123l1.8-.9l-1.1-2.8l-1.7 1z" color="#0fe"/><path d="M207.2 125.8l1.8-2.8l-1-2.7l-1.9 2.7z" color="#0cf"/><path d="M205.3 128.1l1.9-2.3l-1.1-2.8l-1.8 1.9z" color="#09f"/><path d="M203.4 131.2l1.9-3.1l-1-3.2l-1.9 2.9z" color="#05f"/><path d="M201.6 134l1.8-2.8l-1-3.4l-1.8 2.7z" color="#02f"/><path d="M199.7 137.6l1.9-3.6l-1-3.5l-1.9 3.6z" color="#10f"/><path d="M197.9 139.3l1.8-1.7l-1-3.5l-1.8 2.3z" color="#50e"/><path d="M196.1 140.8l1.8-1.5l-1-2.9l-1.8 1.7z" color="#60e"/><path d="M194.3 142.7l1.8-1.9l-1-2.7l-1.9 2.3z" color="#70c"/><path d="M192.5 144.1l1.8-1.4l-1.1-2.3l-1.7 1.5z" color="#80b"/><path d="M190.7 145.5l1.8-1.4l-1-2.2l-1.8 1.4z" color="#80a"/><path d="M187.1 147.4l1.8-1.2l1.8-.7l-1-2.2l-1.8 1l-1.8 1.3z" color="#809"/><path d="M185.4 148.5l1.7-1.1l-1-1.8l-1.7 1.2z" color="#709"/><path d="M180.1 148.5l1.8 .5l1.7 .1l1.8-.6l-1-1.7l-1.8 .9l-1.7-.2l-1.8-.5z" color="#708"/><path d="M178.4 147.9l1.7 .6l-1-1.5l-1.7-.7z" color="#709"/><path d="M176.6 147.4l1.8 .5l-1-1.6l-1.7-.6z" color="#809"/><path d="M173.1 146.4l1.8 .6l1.7 .4l-.9-1.7l-1.8-.5l-1.7-.6z" color="#80a"/><path d="M171.4 145.9l1.7 .5l-.9-1.8l-1.8-.6z" color="#80b"/><path d="M169.6 145.5l1.8 .4l-1-1.9l-1.8-.5z" color="#80c"/><path d="M166 144.2l1.8 .5l1.8 .8l-1-2l-1.7-.6l-1.8-.3z" color="#70c"/><path d="M164.2 143.5l1.8 .7l-.9-1.6l-1.8-.9z" color="#60d"/><path d="M162.4 143.1l1.8 .4l-.9-1.8l-1.8-.5z" color="#60e"/><path d="M158.8 142.4l1.8 .1l1.8 .6l-.9-1.9l-1.8-.5l-1.8-.4z" color="#50e"/><path d="M157 141.5l1.8 .9l-.9-2.1l-1.8-1.4z" color="#30e"/><path d="M155.2 140.9l1.8 .6l-.9-2.6l-1.8-1z" color="#20f"/><path d="M153.4 139.3l1.8 1.6l-.9-3l-1.8-1.6z" color="#00f"/><path d="M151.5 136.8l1.9 2.5l-.9-3l-1.8-2.2z" color="#02f"/><path d="M149.7 135.9l1.8 .9l-.8-2.7l-1.9-1z" color="#05f"/><path d="M147.8 134.3l1.9 1.6l-.9-2.8l-1.8-1.5z" color="#06f"/><path d="M146 132.1l1.8 2.2l-.8-2.7l-1.9-2.2z" color="#09f"/><path d="M144.1 130.1l1.9 2l-.9-2.7l-1.9-2z" color="#0cf"/><path d="M142.2 128.2l1.9 1.9l-.9-2.7l-1.9-1.8z" color="#0fe"/><path d="M140.3 126l1.9 2.2l-.9-2.6l-1.8-1.9z" color="#0f8"/><path d="M138.4 125.7l1.9 .3l-.8-2.3l-1.9-.4z" color="#0f0"/><path d="M134.6 124.4l1.9 .4l1.9 .9l-.8-2.4l-1.9-1l-2-.9z" color="#1f0"/><path d="M132.6 122.5l2 1.9l-.9-3l-1.9-1.9z" color="#3f0"/><path d="M130.7 120.6l1.9 1.9l-.8-3l-1.9-1.7z" color="#5f0"/><path d="M128.7 119.6l2 1l-.8-2.8l-2-1z" color="#6f0"/><path d="M126.8 117.8l1.9 1.8l-.8-2.8l-1.9-2.1z" color="#8f0"/><path d="M124.8 117.1l2 .7l-.8-3.1l-2-1.3z" color="#9f0"/><path d="M122.8 115l2 2.1l-.8-3.7l-2-2z" color="#bf0"/><path d="M118.8 112l2 .9l2 2.1l-.8-3.6l-2-1.6l-2-1z" color="#df0"/><path d="M116.8 111.1l2 .9l-.8-3.2l-2-1.3z" color="#ef0"/><path d="M114.7 108.5l2.1 2.6l-.8-3.6l-2-2.9z" color="#fe0"/><path d="M112.7 106.2l2 2.3l-.7-3.9l-2.1-1.5z" color="#fc0"/><path class="m" d="M112.7 106.2l2 2.3l2.1 2.6l2 .9l2 .9l2 2.1l2 2.1l2 .7l1.9 1.8l2 1l1.9 1.9l2 1.9l1.9 .4l1.9 .9l1.9 .3l1.9 2.2l1.9 1.9l1.9 2l1.8 2.2l1.9 1.6l1.8 .9l1.9 2.5l1.8 1.6l1.8 .6l1.8 .9l1.8 .1l1.8 .6l1.8 .4l1.8 .7l1.8 .5l1.8 .8l1.8 .4l1.7 .5l1.8 .6l1.7 .4l1.8 .5l1.7 .6l1.8 .5l1.7 .1l1.8-.6l1.7-1.1l1.8-1.2l1.8-.7l1.8-1.4l1.8-1.4l1.8-1.9l1.8-1.5l1.8-1.7l1.9-3.6l1.8-2.8l1.9-3.1l1.9-2.3l1.8-2.8l1.8-.9l1.8-1.4l1.9-2.8l1.8-1.8l1.9-2.1l1.8-1l1.8-1.4l1.8-2.4l1.9-2.9l1.9-2.3l1.9-1.8l1.8-2.1l1.8-.8l1.8-1l1.8-2l1.8-.4l1.7-.7l1.9-1.8l1.7-.1l1.7-.6"/><path d="M244.8 95.6l1.7-.6l-1.2-2.3l-1.7 .6z" color="#fc0"/><path d="M241.2 97.7l1.9-1.5l1.7-.6l-1.2-2.3l-1.7 .1l-1.9 1.8z" color="#fd0"/><path d="M237.7 98.9l1.8-.4l1.7-.8l-1.2-2.5l-1.7 .7l-1.8 .4z" color="#fe0"/><path d="M235.9 100.8l1.8-1.9l-1.2-2.6l-1.8 2z" color="#ff0"/><path d="M234.1 102.1l1.8-1.3l-1.2-2.5l-1.8 1z" color="#ef0"/><path d="M230.4 105.3l1.8-1.9l1.9-1.3l-1.2-2.8l-1.8 .8l-1.8 2.1z" color="#df0"/><path d="M228.6 106.9l1.8-1.6l-1.1-3.1l-1.9 1.8z" color="#bf0"/><path d="M226.7 109.2l1.9-2.3l-1.2-2.9l-1.9 2.3z" color="#9f0"/><path d="M224.8 111.8l1.9-2.6l-1.2-2.9l-1.9 2.9z" color="#7f0"/><path d="M222.9 114.2l1.9-2.4l-1.2-2.6l-1.8 2.4z" color="#5f0"/><path d="M221.1 115.5l1.8-1.3l-1.1-2.6l-1.8 1.4z" color="#3f0"/><path d="M219.3 116.5l1.8-1l-1.1-2.5l-1.8 1z" color="#2f0"/><path d="M217.5 118.4l1.8-1.9l-1.1-2.5l-1.9 2.1z" color="#1f0"/><path d="M215.6 120l1.9-1.6l-1.2-2.3l-1.8 1.8z" color="#0f3"/><path d="M213.8 122.7l1.8-2.7l-1.1-2.1l-1.9 2.8z" color="#0fb"/><path d="M211.9 124.5l1.9-1.8l-1.2-2l-1.8 1.4z" color="#0ef"/><path d="M210.1 126.5l1.8-2l-1.1-2.4l-1.8 .9z" color="#0cf"/><path d="M208.2 129.2l1.9-2.7l-1.1-3.5l-1.8 2.8z" color="#09f"/><path d="M206.3 131.6l1.9-2.4l-1-3.4l-1.9 2.3z" color="#06f"/><path d="M204.5 134.4l1.8-2.8l-1-3.5l-1.9 3.1z" color="#04f"/><path d="M202.6 137l1.9-2.6l-1.1-3.2l-1.8 2.8z" color="#00f"/><path d="M200.7 140.1l1.9-3.1l-1-3l-1.9 3.6z" color="#30e"/><path d="M198.9 141.7l1.8-1.6l-1-2.5l-1.8 1.7z" color="#60e"/><path d="M197.1 143.2l1.8-1.5l-1-2.4l-1.8 1.5z" color="#60d"/><path d="M195.3 144.9l1.8-1.7l-1-2.4l-1.8 1.9z" color="#80c"/><path d="M193.5 146.2l1.8-1.3l-1-2.2l-1.8 1.4z" color="#80b"/><path d="M191.7 147.3l1.8-1.1l-1-2.1l-1.8 1.4z" color="#80a"/><path d="M190 148l1.7-.7l-1-1.8l-1.8 .7z" color="#809"/><path d="M188.2 149.1l1.8-1.1l-1.1-1.8l-1.8 1.2z" color="#709"/><path d="M181.1 150.3l1.8 .3l1.7 .1l1.8-.7l1.8-.9l-1.1-1.7l-1.7 1.1l-1.8 .6l-1.7-.1l-1.8-.5z" color="#708"/><path d="M179.4 149.9l1.7 .4l-1-1.8l-1.7-.6z" color="#709"/><path d="M175.8 149.3l1.8 .2l1.8 .4l-1-2l-1.8-.5l-1.7-.4z" color="#809"/><path d="M174.1 148.8l1.7 .5l-.9-2.3l-1.8-.6z" color="#80a"/><path d="M170.5 148l1.8 .3l1.8 .5l-1-2.4l-1.7-.5l-1.8-.4z" color="#80b"/><path d="M168.7 147.4l1.8 .6l-.9-2.5l-1.8-.8z" color="#80c"/><path d="M165.1 146.4l1.8 .6l1.8 .4l-.9-2.7l-1.8-.5l-1.8-.7z" color="#70c"/><path d="M163.3 146l1.8 .4l-.9-2.9l-1.8-.4z" color="#60d"/><path d="M159.7 145.4l1.8 .1l1.8 .5l-.9-2.9l-1.8-.6l-1.8-.1z" color="#60e"/><path d="M157.9 144.4l1.8 1l-.9-3l-1.8-.9z" color="#50e"/><path d="M156.1 143.9l1.8 .5l-.9-2.9l-1.8-.6z" color="#30e"/><path d="M154.2 142.4l1.9 1.5l-.9-3l-1.8-1.6z" color="#20f"/><path d="M152.4 140.3l1.8 2.1l-.8-3.1l-1.9-2.5z" color="#00f"/><path d="M150.5 139.4l1.9 .9l-.9-3.5l-1.8-.9z" color="#02f"/><path d="M148.7 137.4l1.8 2l-.8-3.5l-1.9-1.6z" color="#05f"/><path d="M146.8 135.1l1.9 2.3l-.9-3.1l-1.8-2.2z" color="#07f"/><path d="M144.9 132.7l1.9 2.4l-.8-3l-1.9-2z" color="#0af"/><path d="M143 130.7l1.9 2l-.8-2.6l-1.9-1.9z" color="#0ef"/><path d="M141.1 128.7l1.9 2l-.8-2.5l-1.9-2.2z" color="#0fb"/><path d="M137.3 127.7l1.9 .8l1.9 .2l-.8-2.7l-1.9-.3l-1.9-.9z" color="#0f3"/><path d="M135.4 127l1.9 .7l-.8-2.9l-1.9-.4z" color="#0f0"/><path d="M133.4 125l2 2l-.8-2.6l-2-1.9z" color="#2f0"/><path d="M131.5 123.6l1.9 1.4l-.8-2.5l-1.9-1.9z" color="#3f0"/><path d="M129.5 122.4l2 1.2l-.8-3l-2-1z" color="#5f0"/><path d="M127.6 120.8l1.9 1.6l-.8-2.8l-1.9-1.8z" color="#6f0"/><path d="M125.6 119.9l2 .9l-.8-3l-2-.7z" color="#8f0"/><path d="M123.6 117.9l2 2l-.8-2.8l-2-2.1z" color="#9f0"/><path d="M121.6 115.7l2 2.2l-.8-2.9l-2-2.1z" color="#bf0"/><path d="M117.6 114.2l2 .4l2 1.1l-.8-2.8l-2-.9l-2-.9z" color="#df0"/><path d="M115.5 111.6l2.1 2.6l-.8-3.1l-2.1-2.6z" color="#ff0"/><path d="M113.4 109.2l2.1 2.4l-.8-3.1l-2-2.3z" color="#fd0"/><path d="M244.3 99l1.8-1.1l1.7-.6l-1.3-2.3l-1.7 .6l-1.7 .6z" color="#fd0"/><path d="M242.5 100.1l1.8-1.1l-1.2-2.8l-1.9 1.5z" color="#fe0"/><path d="M238.9 101.6l1.8-.5l1.8-1l-1.3-2.4l-1.7 .8l-1.8 .4z" color="#ff0"/><path d="M237.1 103.3l1.8-1.7l-1.2-2.7l-1.8 1.9z" color="#ef0"/><path d="M235.2 105l1.9-1.7l-1.2-2.5l-1.8 1.3z" color="#df0"/><path d="M233.4 106.8l1.8-1.8l-1.1-2.9l-1.9 1.3z" color="#cf0"/><path d="M231.5 108.4l1.9-1.6l-1.2-3.4l-1.8 1.9z" color="#bf0"/><path d="M229.7 109.8l1.8-1.4l-1.1-3.1l-1.8 1.6z" color="#9f0"/><path d="M227.8 112.1l1.9-2.3l-1.1-2.9l-1.9 2.3z" color="#8f0"/><path d="M225.9 114.5l1.9-2.4l-1.1-2.9l-1.9 2.6z" color="#6f0"/><path d="M224.1 116.8l1.8-2.3l-1.1-2.7l-1.9 2.4z" color="#4f0"/><path d="M222.2 118.1l1.9-1.3l-1.2-2.6l-1.8 1.3z" color="#2f0"/><path d="M220.4 119.1l1.8-1l-1.1-2.6l-1.8 1z" color="#1f0"/><path d="M218.6 120.6l1.8-1.5l-1.1-2.6l-1.8 1.9z" color="#0f0"/><path d="M216.8 122l1.8-1.4l-1.1-2.2l-1.9 1.6z" color="#0f3"/><path d="M214.9 124.8l1.9-2.8l-1.2-2l-1.8 2.7z" color="#0fb"/><path d="M213 127l1.9-2.2l-1.1-2.1l-1.9 1.8z" color="#0ef"/><path d="M211.1 129.9l1.9-2.9l-1.1-2.5l-1.8 2z" color="#0af"/><path d="M209.2 132.6l1.9-2.7l-1-3.4l-1.9 2.7z" color="#06f"/><path d="M207.4 135.2l1.8-2.6l-1-3.4l-1.9 2.4z" color="#04f"/><path d="M205.5 137.6l1.9-2.4l-1.1-3.6l-1.8 2.8z" color="#01f"/><path d="M203.6 140l1.9-2.4l-1-3.2l-1.9 2.6z" color="#20f"/><path d="M201.8 142.7l1.8-2.7l-1-3l-1.9 3.1z" color="#50e"/><path d="M200 144.2l1.8-1.5l-1.1-2.6l-1.8 1.6z" color="#60d"/><path d="M198.2 145.5l1.8-1.3l-1.1-2.5l-1.8 1.5z" color="#70c"/><path d="M196.4 147l1.8-1.5l-1.1-2.3l-1.8 1.7z" color="#80b"/><path d="M194.6 148.2l1.8-1.2l-1.1-2.1l-1.8 1.3z" color="#80a"/><path d="M191 149.8l1.8-.6l1.8-1l-1.1-2l-1.8 1.1l-1.7 .7z" color="#809"/><path d="M189.2 150.8l1.8-1l-1-1.8l-1.8 1.1z" color="#709"/><path d="M182.1 152.1l1.8 .1l1.7 .1l1.8-.7l1.8-.8l-1-1.7l-1.8 .9l-1.8 .7l-1.7-.1l-1.8-.3z" color="#708"/><path d="M176.8 151.5l1.8 .1l1.8 .2l1.7 .3l-1-1.8l-1.7-.4l-1.8-.4l-1.8-.2z" color="#709"/><path d="M175 151.2l1.8 .3l-1-2.2l-1.7-.5z" color="#809"/><path d="M171.5 150.5l1.8 .2l1.7 .5l-.9-2.4l-1.8-.5l-1.8-.3z" color="#80a"/><path d="M169.7 150.1l1.8 .4l-1-2.5l-1.8-.6z" color="#80b"/><path d="M166.1 149.3l1.8 .5l1.8 .3l-1-2.7l-1.8-.4l-1.8-.6z" color="#80c"/><path d="M162.4 148.5l1.9 .4l1.8 .4l-1-2.9l-1.8-.4l-1.8-.5z" color="#70c"/><path d="M160.6 148.4l1.8 .1l-.9-3l-1.8-.1z" color="#60d"/><path d="M158.8 147.5l1.8 .9l-.9-3l-1.8-1z" color="#60e"/><path d="M157 146.9l1.8 .6l-.9-3.1l-1.8-.5z" color="#50e"/><path d="M155.1 145.6l1.9 1.3l-.9-3l-1.9-1.5z" color="#30e"/><path d="M153.3 143.8l1.8 1.8l-.9-3.2l-1.8-2.1z" color="#10f"/><path d="M151.4 142.9l1.9 .9l-.9-3.5l-1.9-.9z" color="#00f"/><path d="M149.6 140.6l1.8 2.3l-.9-3.5l-1.8-2z" color="#02f"/><path d="M147.7 138l1.9 2.6l-.9-3.2l-1.9-2.3z" color="#05f"/><path d="M145.8 135.4l1.9 2.6l-.9-2.9l-1.9-2.4z" color="#09f"/><path d="M143.9 133.1l1.9 2.3l-.9-2.7l-1.9-2z" color="#0cf"/><path d="M142 131.5l1.9 1.6l-.9-2.4l-1.9-2z" color="#0fe"/><path d="M140.1 131.4l1.9 .1l-.9-2.8l-1.9-.2z" color="#0fb"/><path d="M138.1 130.7l2 .7l-.9-2.9l-1.9-.8z" color="#0f8"/><path d="M136.2 129.6l1.9 1.1l-.8-3l-1.9-.7z" color="#0f3"/><path d="M134.3 127.5l1.9 2.1l-.8-2.6l-2-2z" color="#1f0"/><path d="M132.3 126.7l2 .8l-.9-2.5l-1.9-1.4z" color="#2f0"/><path d="M130.3 125.2l2 1.5l-.8-3.1l-2-1.2z" color="#4f0"/><path d="M128.4 123.8l1.9 1.4l-.8-2.8l-1.9-1.6z" color="#5f0"/><path d="M126.4 122.8l2 1l-.8-3l-2-.9z" color="#6f0"/><path d="M124.4 120.8l2 2l-.8-2.9l-2-2z" color="#8f0"/><path d="M122.4 118.5l2 2.3l-.8-2.9l-2-2.2z" color="#af0"/><path d="M120.3 117.3l2.1 1.2l-.8-2.8l-2-1.1z" color="#cf0"/><path d="M116.3 114.7l2.1 2.5l1.9 .1l-.7-2.7l-2-.4l-2.1-2.6z" color="#df0"/><path d="M114.2 112.2l2.1 2.5l-.8-3.1l-2.1-2.4z" color="#ff0"/><path d="M247.3 100.2l1.8-.6l-1.3-2.3l-1.7 .6z" color="#fd0"/><path d="M245.5 101.8l1.8-1.6l-1.2-2.3l-1.8 1.1z" color="#fe0"/><path d="M243.7 102.6l1.8-.8l-1.2-2.8l-1.8 1.1z" color="#ff0"/><path d="M240.1 104.4l1.8-.7l1.8-1.1l-1.2-2.5l-1.8 1l-1.8 .5z" color="#ef0"/><path d="M238.3 105.8l1.8-1.4l-1.2-2.8l-1.8 1.7z" color="#df0"/><path d="M236.4 107.9l1.9-2.1l-1.2-2.5l-1.9 1.7z" color="#cf0"/><path d="M234.5 110.1l1.9-2.2l-1.2-2.9l-1.8 1.8z" color="#af0"/><path d="M232.7 111.5l1.8-1.4l-1.1-3.3l-1.9 1.6z" color="#9f0"/><path d="M230.9 112.7l1.8-1.2l-1.2-3.1l-1.8 1.4z" color="#8f0"/><path d="M229 115.1l1.9-2.4l-1.2-2.9l-1.9 2.3z" color="#6f0"/><path d="M227.1 117.1l1.9-2l-1.2-3l-1.9 2.4z" color="#4f0"/><path d="M225.2 119.4l1.9-2.3l-1.2-2.6l-1.8 2.3z" color="#2f0"/><path d="M223.4 120.6l1.8-1.2l-1.1-2.6l-1.9 1.3z" color="#1f0"/><path d="M221.6 121.7l1.8-1.1l-1.2-2.5l-1.8 1z" color="#0f0"/><path d="M219.8 122.9l1.8-1.2l-1.2-2.6l-1.8 1.5z" color="#0f3"/><path d="M218 124.1l1.8-1.2l-1.2-2.3l-1.8 1.4z" color="#0f8"/><path d="M216.1 126.8l1.9-2.7l-1.2-2.1l-1.9 2.8z" color="#0fe"/><path d="M214.2 129.5l1.9-2.7l-1.2-2l-1.9 2.2z" color="#0cf"/><path d="M212.2 133.4l2-3.9l-1.2-2.5l-1.9 2.9z" color="#07f"/><path d="M210.3 136l1.9-2.6l-1.1-3.5l-1.9 2.7z" color="#04f"/><path d="M208.4 138.8l1.9-2.8l-1.1-3.4l-1.8 2.6z" color="#01f"/><path d="M206.5 140.8l1.9-2l-1-3.6l-1.9 2.4z" color="#10f"/><path d="M204.7 143l1.8-2.2l-1-3.2l-1.9 2.4z" color="#30e"/><path d="M202.8 145.2l1.9-2.2l-1.1-3l-1.8 2.7z" color="#60e"/><path d="M201 146.7l1.8-1.5l-1-2.5l-1.8 1.5z" color="#70c"/><path d="M199.2 147.9l1.8-1.2l-1-2.5l-1.8 1.3z" color="#80c"/><path d="M197.4 149.2l1.8-1.3l-1-2.4l-1.8 1.5z" color="#80b"/><path d="M195.6 150.3l1.8-1.1l-1-2.2l-1.8 1.2z" color="#80a"/><path d="M193.8 151l1.8-.7l-1-2.1l-1.8 1z" color="#809"/><path d="M190.3 152.5l1.8-.8l1.7-.7l-1-1.8l-1.8 .6l-1.8 1z" color="#709"/><path d="M181.4 153.7l1.7 .2l1.8 0l1.8 0l1.8-.8l1.8-.6l-1.1-1.7l-1.8 .8l-1.8 .7l-1.7-.1l-1.8-.1l-1.7-.3z" color="#708"/><path d="M176 153.5l1.8 .3l1.8-.1l1.8 0l-1-1.9l-1.8-.2l-1.8-.1l-1.8-.3z" color="#709"/><path d="M172.4 153.1l1.8 .1l1.8 .3l-1-2.3l-1.7-.5l-1.8-.2z" color="#809"/><path d="M168.8 152.6l1.8 .2l1.8 .3l-.9-2.6l-1.8-.4l-1.8-.3z" color="#80a"/><path d="M165.2 151.8l1.8 .5l1.8 .3l-.9-2.8l-1.8-.5l-1.8-.4z" color="#80b"/><path d="M163.3 151.5l1.9 .3l-.9-2.9l-1.9-.4z" color="#80c"/><path d="M159.7 150.5l1.8 .9l1.8 .1l-.9-3l-1.8-.1l-1.8-.9z" color="#70c"/><path d="M157.8 150l1.9 .5l-.9-3l-1.8-.6z" color="#60d"/><path d="M156 148.8l1.8 1.2l-.8-3.1l-1.9-1.3z" color="#60e"/><path d="M154.2 147.4l1.8 1.4l-.9-3.2l-1.8-1.8z" color="#30e"/><path d="M152.3 146.4l1.9 1l-.9-3.6l-1.9-.9z" color="#20f"/><path d="M150.4 143.8l1.9 2.6l-.9-3.5l-1.8-2.3z" color="#00f"/><path d="M148.6 141l1.8 2.8l-.8-3.2l-1.9-2.6z" color="#04f"/><path d="M146.7 138.1l1.9 2.9l-.9-3l-1.9-2.6z" color="#07f"/><path d="M144.8 135.6l1.9 2.5l-.9-2.7l-1.9-2.3z" color="#0af"/><path d="M142.8 134.4l2 1.2l-.9-2.5l-1.9-1.6z" color="#0ef"/><path d="M140.9 134.3l1.9 .1l-.8-2.9l-1.9-.1z" color="#0fe"/><path d="M139 133.7l1.9 .6l-.8-2.9l-2-.7z" color="#0fb"/><path d="M137.1 132.2l1.9 1.5l-.9-3l-1.9-1.1z" color="#0f8"/><path d="M135.1 130.1l2 2.1l-.9-2.6l-1.9-2.1z" color="#0f0"/><path d="M133.1 129.8l2 .3l-.8-2.6l-2-.8z" color="#1f0"/><path d="M131.2 128.1l1.9 1.7l-.8-3.1l-2-1.5z" color="#2f0"/><path d="M129.2 126.9l2 1.2l-.9-2.9l-1.9-1.4z" color="#4f0"/><path d="M127.2 125.7l2 1.2l-.8-3.1l-2-1z" color="#5f0"/><path d="M125.2 123.8l2 1.9l-.8-2.9l-2-2z" color="#7f0"/><path d="M123.2 121.3l2 2.5l-.8-3l-2-2.3z" color="#9f0"/><path d="M119.1 120.3l2-.3l2.1 1.3l-.8-2.8l-2.1-1.2l-1.9-.1z" color="#bf0"/><path d="M117.1 117.9l2 2.4l-.7-3.1l-2.1-2.5z" color="#df0"/><path d="M115 115.3l2.1 2.6l-.8-3.2l-2.1-2.5z" color="#ef0"/><path d="M248.6 102.6l1.8-.7l-1.3-2.3l-1.8 .6z" color="#fe0"/><path d="M246.7 104.6l1.9-2l-1.3-2.4l-1.8 1.6z" color="#ff0"/><path d="M245 105.1l1.7-.5l-1.2-2.8l-1.8 .8z" color="#ef0"/><path d="M241.4 107.1l1.7-.8l1.9-1.2l-1.3-2.5l-1.8 1.1l-1.8 .7z" color="#df0"/><path d="M239.5 108.3l1.9-1.2l-1.3-2.7l-1.8 1.4z" color="#cf0"/><path d="M237.6 110.9l1.9-2.6l-1.2-2.5l-1.9 2.1z" color="#bf0"/><path d="M235.7 113.5l1.9-2.6l-1.2-3l-1.9 2.2z" color="#9f0"/><path d="M233.8 114.7l1.9-1.2l-1.2-3.4l-1.8 1.4z" color="#7f0"/><path d="M232 115.6l1.8-.9l-1.1-3.2l-1.8 1.2z" color="#6f0"/><path d="M230.1 118l1.9-2.4l-1.1-2.9l-1.9 2.4z" color="#5f0"/><path d="M228.3 119.8l1.8-1.8l-1.1-2.9l-1.9 2z" color="#3f0"/><path d="M226.4 122.1l1.9-2.3l-1.2-2.7l-1.9 2.3z" color="#1f0"/><path d="M224.6 123.2l1.8-1.1l-1.2-2.7l-1.8 1.2z" color="#0f0"/><path d="M222.7 124.3l1.9-1.1l-1.2-2.6l-1.8 1.1z" color="#0f3"/><path d="M220.9 125.3l1.8-1l-1.1-2.6l-1.8 1.2z" color="#0f8"/><path d="M219.1 126.2l1.8-.9l-1.1-2.4l-1.8 1.2z" color="#0fb"/><path d="M217.2 128.9l1.9-2.7l-1.1-2.1l-1.9 2.7z" color="#0ef"/><path d="M215.3 132l1.9-3.1l-1.1-2.1l-1.9 2.7z" color="#0af"/><path d="M213.2 136.9l2.1-4.9l-1.1-2.5l-2 3.9z" color="#06f"/><path d="M211.3 139.5l1.9-2.6l-1-3.5l-1.9 2.6z" color="#01f"/><path d="M209.4 142.4l1.9-2.9l-1-3.5l-1.9 2.8z" color="#10f"/><path d="M207.6 144.1l1.8-1.7l-1-3.6l-1.9 2z" color="#30e"/><path d="M205.8 146l1.8-1.9l-1.1-3.3l-1.8 2.2z" color="#60e"/><path d="M203.9 147.8l1.9-1.8l-1.1-3l-1.9 2.2z" color="#70c"/><path d="M202.1 149.2l1.8-1.4l-1.1-2.6l-1.8 1.5z" color="#80c"/><path d="M200.3 150.3l1.8-1.1l-1.1-2.5l-1.8 1.2z" color="#80b"/><path d="M198.5 151.4l1.8-1.1l-1.1-2.4l-1.8 1.3z" color="#80a"/><path d="M196.7 152.4l1.8-1l-1.1-2.2l-1.8 1.1z" color="#809"/><path d="M193.1 153.5l1.8-.6l1.8-.5l-1.1-2.1l-1.8 .7l-1.7 .7z" color="#709"/><path d="M187.7 155.5l1.8-.8l1.8-.5l1.8-.7l-1-1.8l-1.8 .8l-1.8 .6l-1.8 .8z" color="#708"/><path d="M185.9 155.6l1.8-.1l-1-1.6l-1.8 0z" color="#707"/><path d="M177 155.9l1.8 .3l1.8-.4l1.8-.1l1.8 0l1.7-.1l-1-1.7l-1.8 0l-1.7-.2l-1.8 0l-1.8 .1l-1.8-.3z" color="#708"/><path d="M173.4 155.7l1.8 0l1.8 .2l-1-2.4l-1.8-.3l-1.8-.1z" color="#709"/><path d="M169.7 155.4l1.9 .2l1.8 .1l-1-2.6l-1.8-.3l-1.8-.2z" color="#809"/><path d="M166.1 154.8l1.8 .5l1.8 .1l-.9-2.8l-1.8-.3l-1.8-.5z" color="#80a"/><path d="M162.4 154.4l1.9 .2l1.8 .2l-.9-3l-1.9-.3l-1.8-.1z" color="#80b"/><path d="M160.6 153.5l1.8 .9l-.9-3l-1.8-.9z" color="#80c"/><path d="M158.8 153l1.8 .5l-.9-3l-1.9-.5z" color="#70c"/><path d="M156.9 152.1l1.9 .9l-1-3l-1.8-1.2z" color="#60d"/><path d="M155 151l1.9 1.1l-.9-3.3l-1.8-1.4z" color="#60e"/><path d="M153.2 149.9l1.8 1.1l-.8-3.6l-1.9-1z" color="#50e"/><path d="M151.3 147l1.9 2.9l-.9-3.5l-1.9-2.6z" color="#20f"/><path d="M149.4 144l1.9 3l-.9-3.2l-1.8-2.8z" color="#01f"/><path d="M147.5 140.8l1.9 3.2l-.8-3l-1.9-2.9z" color="#05f"/><path d="M145.6 138.1l1.9 2.7l-.8-2.7l-1.9-2.5z" color="#09f"/><path d="M143.7 137.2l1.9 .9l-.8-2.5l-2-1.2z" color="#0cf"/><path d="M139.8 136.8l2 .4l1.9 0l-.9-2.8l-1.9-.1l-1.9-.6z" color="#0ef"/><path d="M137.9 134.8l1.9 2l-.8-3.1l-1.9-1.5z" color="#0fb"/><path d="M135.9 132.7l2 2.1l-.8-2.6l-2-2.1z" color="#0f3"/><path d="M134 132.9l1.9-.2l-.8-2.6l-2-.3z" color="#0f0"/><path d="M132 130.9l2 2l-.9-3.1l-1.9-1.7z" color="#1f0"/><path d="M130 130l2 .9l-.8-2.8l-2-1.2z" color="#2f0"/><path d="M128 128.6l2 1.4l-.8-3.1l-2-1.2z" color="#4f0"/><path d="M126 126.7l2 1.9l-.8-2.9l-2-1.9z" color="#5f0"/><path d="M124 124.2l2 2.5l-.8-2.9l-2-2.5z" color="#8f0"/><path d="M121.9 122.7l2.1 1.5l-.8-2.9l-2.1-1.3z" color="#9f0"/><path d="M119.9 123.4l2-.7l-.8-2.7l-2 .3z" color="#af0"/><path d="M117.9 121l2 2.4l-.8-3.1l-2-2.4z" color="#bf0"/><path d="M115.8 118.3l2.1 2.7l-.8-3.1l-2.1-2.6z" color="#df0"/><path class="m" d="M115.8 118.3l2.1 2.7l2 2.4l2-.7l2.1 1.5l2 2.5l2 1.9l2 1.4l2 .9l2 2l1.9-.2l2 2.1l1.9 2l2 .4l1.9 0l1.9 .9l1.9 2.7l1.9 3.2l1.9 3l1.9 2.9l1.8 1.1l1.9 1.1l1.9 .9l1.8 .5l1.8 .9l1.9 .2l1.8 .2l1.8 .5l1.8 .1l1.9 .2l1.8 .1l1.8 0l1.8 .2l1.8 .3l1.8-.4l1.8-.1l1.8 0l1.7-.1l1.8-.1l1.8-.8l1.8-.5l1.8-.7l1.8-.6l1.8-.5l1.8-1l1.8-1.1l1.8-1.1l1.8-1.4l1.9-1.8l1.8-1.9l1.8-1.7l1.9-2.9l1.9-2.6l2.1-4.9l1.9-3.1l1.9-2.7l1.8-.9l1.8-1l1.9-1.1l1.8-1.1l1.9-2.3l1.8-1.8l1.9-2.4l1.8-.9l1.9-1.2l1.9-2.6l1.9-2.6l1.9-1.2l1.7-.8l1.9-1.2l1.7-.5l1.9-2l1.8-.7"/><path d="M249.9 105.1l1.8-1l-1.3-2.2l-1.8 .7z" color="#ff0"/><path d="M246.1 108.9l1.9-1.7l1.9-2.1l-1.3-2.5l-1.9 2l-1.7 .5z" color="#df0"/><path d="M244.2 110.6l1.9-1.7l-1.1-3.8l-1.9 1.2z" color="#cf0"/><path d="M242.4 111.6l1.8-1l-1.1-4.3l-1.7 .8z" color="#bf0"/><path d="M240.6 113.5l1.8-1.9l-1-4.5l-1.9 1.2z" color="#af0"/><path d="M238.7 115.6l1.9-2.1l-1.1-5.2l-1.9 2.6z" color="#8f0"/><path d="M236.7 118l2-2.4l-1.1-4.7l-1.9 2.6z" color="#6f0"/><path d="M234.9 119.7l1.8-1.7l-1-4.5l-1.9 1.2z" color="#5f0"/><path d="M233.1 120.3l1.8-.6l-1.1-5l-1.8 .9z" color="#4f0"/><path d="M231.1 123.2l2-2.9l-1.1-4.7l-1.9 2.4z" color="#2f0"/><path d="M229.3 125.3l1.8-2.1l-1-5.2l-1.8 1.8z" color="#0f0"/><path d="M227.4 127.2l1.9-1.9l-1-5.5l-1.9 2.3z" color="#0f3"/><path d="M225.6 128.5l1.8-1.3l-1-5.1l-1.8 1.1z" color="#0fb"/><path d="M223.7 130.1l1.9-1.6l-1-5.3l-1.9 1.1z" color="#0fe"/><path d="M221.9 131.4l1.8-1.3l-1-5.8l-1.8 1z" color="#0ef"/><path d="M220.1 132.3l1.8-.9l-1-6.1l-1.8 .9z" color="#0cf"/><path d="M218.2 134.6l1.9-2.3l-1-6.1l-1.9 2.7z" color="#0af"/><path d="M216.2 137.4l2-2.8l-1-5.7l-1.9 3.1z" color="#06f"/><path d="M214.2 141.5l2-4.1l-.9-5.4l-2.1 4.9z" color="#02f"/><path d="M212.4 143.7l1.8-2.2l-1-4.6l-1.9 2.6z" color="#10f"/><path d="M210.5 146.3l1.9-2.6l-1.1-4.2l-1.9 2.9z" color="#30e"/><path d="M208.6 147.9l1.9-1.6l-1.1-3.9l-1.8 1.7z" color="#60e"/><path d="M206.8 149.6l1.8-1.7l-1-3.8l-1.8 1.9z" color="#70c"/><path d="M205 151.2l1.8-1.6l-1-3.6l-1.9 1.8z" color="#80c"/><path d="M201.4 153l1.7-.7l1.9-1.1l-1.1-3.4l-1.8 1.4l-1.8 1.1z" color="#80a"/><path d="M199.6 153.8l1.8-.8l-1.1-2.7l-1.8 1.1z" color="#809"/><path d="M194.2 155.2l1.8-.4l1.8-.5l1.8-.5l-1.1-2.4l-1.8 1l-1.8 .5l-1.8 .6z" color="#709"/><path d="M188.8 157l1.8-.6l1.8-.5l1.8-.7l-1.1-1.7l-1.8 .7l-1.8 .5l-1.8 .8z" color="#708"/><path d="M187 157.1l1.8-.1l-1.1-1.5l-1.8 .1z" color="#707"/><path d="M176.2 157.6l1.8 0l1.8 .1l1.8-.3l1.8-.1l1.8 0l1.8-.2l-1.1-1.5l-1.7 .1l-1.8 0l-1.8 .1l-1.8 .4l-1.8-.3l-1.8-.2z" color="#708"/><path d="M168.9 158.2l1.8 0l1.8-.1l1.9-.3l1.8-.2l-1-1.9l-1.8 0l-1.8-.1l-1.9-.2l-1.8-.1z" color="#709"/><path d="M163.3 158.1l1.9 .2l1.8-.1l1.9 0l-1-2.9l-1.8-.5l-1.8-.2l-1.9-.2z" color="#809"/><path d="M161.5 157.3l1.8 .8l-.9-3.7l-1.8-.9z" color="#80a"/><path d="M159.7 156.7l1.8 .6l-.9-3.8l-1.8-.5z" color="#80b"/><path d="M157.8 155.8l1.9 .9l-.9-3.7l-1.9-.9z" color="#80c"/><path d="M155.9 154.7l1.9 1.1l-.9-3.7l-1.9-1.1z" color="#70c"/><path d="M154.1 153.6l1.8 1.1l-.9-3.7l-1.8-1.1z" color="#60d"/><path d="M152.2 150.7l1.9 2.9l-.9-3.7l-1.9-2.9z" color="#30e"/><path d="M150.3 148.1l1.9 2.6l-.9-3.7l-1.9-3z" color="#00f"/><path d="M148.4 145.2l1.9 2.9l-.9-4.1l-1.9-3.2z" color="#04f"/><path d="M146.5 142.4l1.9 2.8l-.9-4.4l-1.9-2.7z" color="#06f"/><path d="M144.6 140.7l1.9 1.7l-.9-4.3l-1.9-.9z" color="#0af"/><path d="M140.7 139.6l1.9 .4l2 .7l-.9-3.5l-1.9 0l-2-.4z" color="#0cf"/><path d="M138.8 138l1.9 1.6l-.9-2.8l-1.9-2z" color="#0ef"/><path d="M136.8 135.2l2 2.8l-.9-3.2l-2-2.1z" color="#0f8"/><path d="M134.8 135.2l2 0l-.9-2.5l-1.9 .2z" color="#0f3"/><path d="M132.8 133.6l2 1.6l-.8-2.3l-2-2z" color="#0f0"/><path d="M130.8 132.7l2 .9l-.8-2.7l-2-.9z" color="#1f0"/><path d="M128.8 131.1l2 1.6l-.8-2.7l-2-1.4z" color="#3f0"/><path d="M126.8 129.1l2 2l-.8-2.5l-2-1.9z" color="#4f0"/><path d="M124.7 126l2.1 3.1l-.8-2.4l-2-2.5z" color="#7f0"/><path d="M120.7 125.3l2-.4l2 1.1l-.7-1.8l-2.1-1.5l-2 .7z" color="#9f0"/><path d="M118.6 123l2.1 2.3l-.8-1.9l-2-2.4z" color="#af0"/><path d="M116.5 120.4l2.1 2.6l-.7-2l-2.1-2.7z" color="#df0"/><path d="M251.2 107.5l1.8-1.1l-1.3-2.3l-1.8 1z" color="#ef0"/><path d="M249.3 109.8l1.9-2.3l-1.3-2.4l-1.9 2.1z" color="#df0"/><path d="M247.3 112.6l2-2.8l-1.3-2.6l-1.9 1.7z" color="#bf0"/><path d="M245.4 115l1.9-2.4l-1.2-3.7l-1.9 1.7z" color="#9f0"/><path d="M243.5 116.2l1.9-1.2l-1.2-4.4l-1.8 1z" color="#8f0"/><path d="M241.6 118.8l1.9-2.6l-1.1-4.6l-1.8 1.9z" color="#7f0"/><path d="M239.7 120.3l1.9-1.5l-1-5.3l-1.9 2.1z" color="#5f0"/><path d="M237.8 122.6l1.9-2.3l-1-4.7l-2 2.4z" color="#3f0"/><path d="M235.9 124.7l1.9-2.1l-1.1-4.6l-1.8 1.7z" color="#1f0"/><path d="M234.2 125l1.7-.3l-1-5l-1.8 .6z" color="#0f0"/><path d="M232.2 128.3l2-3.3l-1.1-4.7l-2 2.9z" color="#0f3"/><path d="M230.2 130.7l2-2.4l-1.1-5.1l-1.8 2.1z" color="#0fb"/><path d="M228.4 132.3l1.8-1.6l-.9-5.4l-1.9 1.9z" color="#0ef"/><path d="M226.5 133.8l1.9-1.5l-1-5.1l-1.8 1.3z" color="#0cf"/><path d="M224.7 135.9l1.8-2.1l-.9-5.3l-1.9 1.6z" color="#09f"/><path d="M222.8 137.5l1.9-1.6l-1-5.8l-1.8 1.3z" color="#07f"/><path d="M221 138.4l1.8-.9l-.9-6.1l-1.8 .9z" color="#06f"/><path d="M219.1 140.3l1.9-1.9l-.9-6.1l-1.9 2.3z" color="#05f"/><path d="M217.2 142.8l1.9-2.5l-.9-5.7l-2 2.8z" color="#02f"/><path d="M215.3 146.1l1.9-3.3l-1-5.4l-2 4.1z" color="#10f"/><path d="M213.4 148l1.9-1.9l-1.1-4.6l-1.8 2.2z" color="#50e"/><path d="M211.5 150.2l1.9-2.2l-1-4.3l-1.9 2.6z" color="#60d"/><path d="M209.7 151.6l1.8-1.4l-1-3.9l-1.9 1.6z" color="#80c"/><path d="M207.8 153.1l1.9-1.5l-1.1-3.7l-1.8 1.7z" color="#80b"/><path d="M206 154.5l1.8-1.4l-1-3.5l-1.8 1.6z" color="#80a"/><path d="M204.2 155.5l1.8-1l-1-3.3l-1.9 1.1z" color="#809"/><path d="M197.1 156.6l1.8-.3l1.7-.1l1.8-.5l1.8-.2l-1.1-3.2l-1.7 .7l-1.8 .8l-1.8 .5l-1.8 .5z" color="#709"/><path d="M189.9 158.5l1.8-.4l1.8-.6l1.8-.5l1.8-.4l-1.1-1.8l-1.8 .4l-1.8 .7l-1.8 .5l-1.8 .6z" color="#708"/><path d="M186.3 159l1.8-.3l1.8-.2l-1.1-1.5l-1.8 .1l-1.8 .2z" color="#707"/><path d="M164.3 161.8l1.8 .2l1.9-.4l1.8-.3l1.9-.3l1.8-.4l1.8-.7l1.9-.3l1.8-.2l1.8-.2l1.8-.1l1.9-.2l1.8 .1l-1.1-1.7l-1.8 0l-1.8 .1l-1.8 .3l-1.8-.1l-1.8 0l-1.8 .2l-1.9 .3l-1.8 .1l-1.8 0l-1.9 0l-1.8 .1l-1.9-.2z" color="#708"/><path d="M162.4 161l1.9 .8l-1-3.7l-1.8-.8z" color="#709"/><path d="M160.6 160.4l1.8 .6l-.9-3.7l-1.8-.6z" color="#809"/><path d="M158.7 159.5l1.9 .9l-.9-3.7l-1.9-.9z" color="#80a"/><path d="M156.8 158.5l1.9 1l-.9-3.7l-1.9-1.1z" color="#80b"/><path d="M155 157.3l1.8 1.2l-.9-3.8l-1.8-1.1z" color="#80c"/><path d="M153.1 154.5l1.9 2.8l-.9-3.7l-1.9-2.9z" color="#60e"/><path d="M151.2 152.2l1.9 2.3l-.9-3.8l-1.9-2.6z" color="#30e"/><path d="M149.3 149.7l1.9 2.5l-.9-4.1l-1.9-2.9z" color="#00f"/><path d="M147.4 146.7l1.9 3l-.9-4.5l-1.9-2.8z" color="#04f"/><path d="M145.5 144.2l1.9 2.5l-.9-4.3l-1.9-1.7z" color="#06f"/><path d="M143.5 142.8l2 1.4l-.9-3.5l-2-.7z" color="#09f"/><path d="M141.6 142.5l1.9 .3l-.9-2.8l-1.9-.4z" color="#0af"/><path d="M139.6 141.2l2 1.3l-.9-2.9l-1.9-1.6z" color="#0cf"/><path d="M137.6 137.8l2 3.4l-.8-3.2l-2-2.8z" color="#0fe"/><path d="M135.7 137.6l1.9 .2l-.8-2.6l-2 0z" color="#0f8"/><path d="M133.7 136.3l2 1.3l-.9-2.4l-2-1.6z" color="#0f3"/><path d="M131.7 135.5l2 .8l-.9-2.7l-2-.9z" color="#0f0"/><path d="M129.7 133.6l2 1.9l-.9-2.8l-2-1.6z" color="#2f0"/><path d="M127.6 131.5l2.1 2.1l-.9-2.5l-2-2z" color="#3f0"/><path d="M125.5 127.9l2.1 3.6l-.8-2.4l-2.1-3.1z" color="#6f0"/><path d="M123.5 127.2l2 .7l-.8-1.9l-2-1.1z" color="#8f0"/><path d="M121.5 127.3l2-.1l-.8-2.3l-2 .4z" color="#9f0"/><path d="M119.4 125l2.1 2.3l-.8-2l-2.1-2.3z" color="#af0"/><path d="M117.3 122.4l2.1 2.6l-.8-2l-2.1-2.6z" color="#cf0"/><path d="M252.5 110l1.9-1.3l-1.4-2.3l-1.8 1.1z" color="#df0"/><path d="M250.5 112.5l2-2.5l-1.3-2.5l-1.9 2.3z" color="#cf0"/><path d="M248.5 116.4l2-3.9l-1.2-2.7l-2 2.8z" color="#af0"/><path d="M246.5 119.4l2-3l-1.2-3.8l-1.9 2.4z" color="#7f0"/><path d="M244.6 120.8l1.9-1.4l-1.1-4.4l-1.9 1.2z" color="#5f0"/><path d="M242.6 124.1l2-3.3l-1.1-4.6l-1.9 2.6z" color="#3f0"/><path d="M240.8 125.1l1.8-1l-1-5.3l-1.9 1.5z" color="#2f0"/><path d="M238.9 127.2l1.9-2.1l-1.1-4.8l-1.9 2.3z" color="#0f0"/><path d="M236.9 129.8l2-2.6l-1.1-4.6l-1.9 2.1z" color="#0f8"/><path d="M235.2 129.7l1.7 .1l-1-5.1l-1.7 .3z" color="#0fb"/><path d="M233.2 133.5l2-3.8l-1-4.7l-2 3.3z" color="#0fe"/><path d="M231.2 136.2l2-2.7l-1-5.2l-2 2.4z" color="#0af"/><path d="M229.4 137.5l1.8-1.3l-1-5.5l-1.8 1.6z" color="#07f"/><path d="M227.5 139.1l1.9-1.6l-1-5.2l-1.9 1.5z" color="#06f"/><path d="M225.6 141.7l1.9-2.6l-1-5.3l-1.8 2.1z" color="#04f"/><path d="M223.7 143.7l1.9-2l-.9-5.8l-1.9 1.6z" color="#01f"/><path d="M221.9 144.6l1.8-.9l-.9-6.2l-1.8 .9z" color="#00f"/><path d="M220.1 146.1l1.8-1.5l-.9-6.2l-1.9 1.9z" color="#10f"/><path d="M218.2 148.2l1.9-2.1l-1-5.8l-1.9 2.5z" color="#20f"/><path d="M216.3 150.8l1.9-2.6l-1-5.4l-1.9 3.3z" color="#60e"/><path d="M214.4 152.3l1.9-1.5l-1-4.7l-1.9 1.9z" color="#70c"/><path d="M212.6 154.1l1.8-1.8l-1-4.3l-1.9 2.2z" color="#80c"/><path d="M210.7 155.4l1.9-1.3l-1.1-3.9l-1.8 1.4z" color="#80a"/><path d="M208.9 156.8l1.8-1.4l-1-3.8l-1.9 1.5z" color="#809"/><path d="M207.1 157.9l1.8-1.1l-1.1-3.7l-1.8 1.4z" color="#709"/><path d="M191 160l1.8-.2l1.8-.6l1.8-.4l1.8-.3l1.8-.2l1.7 .3l1.8-.1l1.8 .2l1.8-.8l-1.1-3.4l-1.8 1l-1.8 .2l-1.8 .5l-1.7 .1l-1.8 .3l-1.8 .4l-1.8 .5l-1.8 .6l-1.8 .4z" color="#708"/><path d="M187.3 160.7l1.8-.3l1.9-.4l-1.1-1.5l-1.8 .2l-1.8 .3z" color="#707"/><path d="M176.3 162l1.9-.4l1.8-.5l1.9-.4l1.8 0l1.8-.1l1.8 .1l-1-1.7l-1.8-.1l-1.9 .2l-1.8 .1l-1.8 .2l-1.8 .2l-1.9 .3z" color="#708"/><path d="M174.5 163.1l1.8-1.1l-1-2.1l-1.8 .7z" color="#707"/><path d="M165.2 165.5l1.8 .3l1.9-.8l1.9-.7l1.8-.4l1.9-.8l-1-2.5l-1.8 .4l-1.9 .3l-1.8 .3l-1.9 .4l-1.8-.2z" color="#000"/><path d="M163.3 164.8l1.9 .7l-.9-3.7l-1.9-.8z" color="#707"/><path d="M161.5 164.2l1.8 .6l-.9-3.8l-1.8-.6z" color="#708"/><path d="M159.6 163.2l1.9 1l-.9-3.8l-1.9-.9z" color="#709"/><path d="M157.8 162.3l1.8 .9l-.9-3.7l-1.9-1z" color="#809"/><path d="M155.9 161l1.9 1.3l-1-3.8l-1.8-1.2z" color="#80a"/><path d="M154 158.3l1.9 2.7l-.9-3.7l-1.9-2.8z" color="#70c"/><path d="M152.1 156.3l1.9 2l-.9-3.8l-1.9-2.3z" color="#60e"/><path d="M150.2 154.2l1.9 2.1l-.9-4.1l-1.9-2.5z" color="#30e"/><path d="M148.3 151l1.9 3.2l-.9-4.5l-1.9-3z" color="#00f"/><path d="M146.3 147.7l2 3.3l-.9-4.3l-1.9-2.5z" color="#04f"/><path d="M144.4 145.6l1.9 2.1l-.8-3.5l-2-1.4z" color="#07f"/><path d="M142.4 145.4l2 .2l-.9-2.8l-1.9-.3z" color="#09f"/><path d="M140.5 144.4l1.9 1l-.8-2.9l-2-1.3z" color="#0af"/><path d="M138.5 140.3l2 4.1l-.9-3.2l-2-3.4z" color="#0ef"/><path d="M136.5 140l2 .3l-.9-2.5l-1.9-.2z" color="#0fb"/><path d="M134.5 139l2 1l-.8-2.4l-2-1.3z" color="#0f8"/><path d="M132.5 138.3l2 .7l-.8-2.7l-2-.8z" color="#0f3"/><path d="M130.5 136.1l2 2.2l-.8-2.8l-2-1.9z" color="#1f0"/><path d="M128.4 133.9l2.1 2.2l-.8-2.5l-2.1-2.1z" color="#3f0"/><path d="M126.3 129.7l2.1 4.2l-.8-2.4l-2.1-3.6z" color="#6f0"/><path d="M122.3 129.3l2 .2l2 .2l-.8-1.8l-2-.7l-2 .1z" color="#8f0"/><path d="M120.2 126.9l2.1 2.4l-.8-2l-2.1-2.3z" color="#9f0"/><path d="M118.1 124.5l2.1 2.4l-.8-1.9l-2.1-2.6z" color="#cf0"/><path d="M253.8 112.5l1.9-1.5l-1.3-2.3l-1.9 1.3z" color="#df0"/><path d="M251.8 115.1l2-2.6l-1.3-2.5l-2 2.5z" color="#bf0"/><path d="M249.6 120.2l2.2-5.1l-1.3-2.6l-2 3.9z" color="#8f0"/><path d="M247.6 123.8l2-3.6l-1.1-3.8l-2 3z" color="#4f0"/><path d="M245.7 125.4l1.9-1.6l-1.1-4.4l-1.9 1.4z" color="#2f0"/><path d="M243.6 129.4l2.1-4l-1.1-4.6l-2 3.3z" color="#0f0"/><path d="M241.9 129.8l1.7-.4l-1-5.3l-1.8 1z" color="#0f8"/><path d="M240 131.9l1.9-2.1l-1.1-4.7l-1.9 2.1z" color="#0fb"/><path d="M238 134.9l2-3l-1.1-4.7l-2 2.6z" color="#0ef"/><path d="M236.3 134.4l1.7 .5l-1.1-5.1l-1.7-.1z" color="#0cf"/><path d="M234.2 138.7l2.1-4.3l-1.1-4.7l-2 3.8z" color="#09f"/><path d="M232.2 141.7l2-3l-1-5.2l-2 2.7z" color="#05f"/><path d="M230.4 142.7l1.8-1l-1-5.5l-1.8 1.3z" color="#02f"/><path d="M228.5 144.4l1.9-1.7l-1-5.2l-1.9 1.6z" color="#01f"/><path d="M226.6 147.5l1.9-3.1l-1-5.3l-1.9 2.6z" color="#10f"/><path d="M224.7 149.8l1.9-2.3l-1-5.8l-1.9 2z" color="#30e"/><path d="M222.9 150.7l1.8-.9l-1-6.1l-1.8 .9z" color="#50e"/><path d="M221 151.9l1.9-1.2l-1-6.1l-1.8 1.5z" color="#60e"/><path d="M219.2 153.7l1.8-1.8l-.9-5.8l-1.9 2.1z" color="#60d"/><path d="M217.3 155.4l1.9-1.7l-1-5.5l-1.9 2.6z" color="#80c"/><path d="M215.5 156.6l1.8-1.2l-1-4.6l-1.9 1.5z" color="#80a"/><path d="M213.6 158l1.9-1.4l-1.1-4.3l-1.8 1.8z" color="#809"/><path d="M211.8 159.3l1.8-1.3l-1-3.9l-1.9 1.3z" color="#709"/><path d="M210 160.4l1.8-1.1l-1.1-3.9l-1.8 1.4z" color="#708"/><path d="M202.8 161l1.8 .3l1.7 .6l1.8-.6l1.9-.9l-1.1-3.6l-1.8 1.1l-1.8 .8l-1.8-.2l-1.8 .1z" color="#000"/><path d="M201.1 160.4l1.7 .6l-1.1-2.4l-1.7-.3z" color="#707"/><path d="M190.2 162l1.9-.5l1.8 0l1.8-.6l1.8-.4l1.8-.1l1.8 0l-1.1-2.1l-1.8 .2l-1.8 .3l-1.8 .4l-1.8 .6l-1.8 .2l-1.9 .4z" color="#708"/><path d="M188.4 162.4l1.8-.4l-1.1-1.6l-1.8 .3z" color="#707"/><path d="M179.2 163.6l1.9-.8l1.8-.5l1.9 .1l1.8-.2l1.8 .2l-1.1-1.7l-1.8-.1l-1.8 .1l-1.8 0l-1.9 .4l-1.8 .5z" color="#708"/><path d="M177.4 164.2l1.8-.6l-1-2l-1.9 .4z" color="#707"/><path d="M160.5 166.9l1.9 1.1l1.9 .6l1.8 .6l1.9 .4l1.9-1.1l1.8-1.1l1.9-.6l1.9-1.1l1.9-1.5l-1.1-2.2l-1.8 1.1l-1.9 .8l-1.8 .4l-1.9 .7l-1.9 .8l-1.8-.3l-1.9-.7l-1.8-.6l-1.9-1z" color="#000"/><path d="M158.7 166.1l1.8 .8l-.9-3.7l-1.8-.9z" color="#708"/><path d="M156.8 164.7l1.9 1.4l-.9-3.8l-1.9-1.3z" color="#709"/><path d="M154.9 162.2l1.9 2.5l-.9-3.7l-1.9-2.7z" color="#80b"/><path d="M153 160.4l1.9 1.8l-.9-3.9l-1.9-2z" color="#70c"/><path d="M151.1 158.8l1.9 1.6l-.9-4.1l-1.9-2.1z" color="#60e"/><path d="M149.2 155.3l1.9 3.5l-.9-4.6l-1.9-3.2z" color="#20f"/><path d="M147.2 151.3l2 4l-.9-4.3l-2-3.3z" color="#01f"/><path d="M145.3 148.5l1.9 2.8l-.9-3.6l-1.9-2.1z" color="#05f"/><path d="M141.4 147.7l1.9 .6l2 .2l-.9-2.9l-2-.2l-1.9-1z" color="#07f"/><path d="M139.4 142.9l2 4.8l-.9-3.3l-2-4.1z" color="#0cf"/><path d="M137.4 142.4l2 .5l-.9-2.6l-2-.3z" color="#0fe"/><path d="M135.4 141.7l2 .7l-.9-2.4l-2-1z" color="#0fb"/><path d="M133.4 141.1l2 .6l-.9-2.7l-2-.7z" color="#0f8"/><path d="M131.3 138.7l2.1 2.4l-.9-2.8l-2-2.2z" color="#0f0"/><path d="M129.3 136.4l2 2.3l-.8-2.6l-2.1-2.2z" color="#2f0"/><path d="M127.2 131.6l2.1 4.8l-.9-2.5l-2.1-4.2z" color="#5f0"/><path d="M125.1 131.9l2.1-.3l-.9-1.9l-2-.2z" color="#7f0"/><path d="M123.1 131.3l2 .6l-.8-2.4l-2-.2z" color="#8f0"/><path d="M121 128.9l2.1 2.4l-.8-2l-2.1-2.4z" color="#9f0"/><path d="M118.8 126.7l2.2 2.2l-.8-2l-2.1-2.4z" color="#bf0"/><path class="m" d="M118.8 126.7l2.2 2.2l2.1 2.4l2 .6l2.1-.3l2.1 4.8l2 2.3l2.1 2.4l2 .6l2 .7l2 .5l2 4.8l1.9 .6l2 .2l1.9 2.8l2 4l1.9 3.5l1.9 1.6l1.9 1.8l1.9 2.5l1.9 1.4l1.8 .8l1.9 1.1l1.9 .6l1.8 .6l1.9 .4l1.9-1.1l1.8-1.1l1.9-.6l1.9-1.1l1.9-1.5l1.8-.6l1.9-.8l1.8-.5l1.9 .1l1.8-.2l1.8 .2l1.8-.4l1.9-.5l1.8 0l1.8-.6l1.8-.4l1.8-.1l1.8 0l1.7 .6l1.8 .3l1.7 .6l1.8-.6l1.9-.9l1.8-1.1l1.8-1.3l1.9-1.4l1.8-1.2l1.9-1.7l1.8-1.8l1.9-1.2l1.8-.9l1.9-2.3l1.9-3.1l1.9-1.7l1.8-1l2-3l2.1-4.3l1.7 .5l2-3l1.9-2.1l1.7-.4l2.1-4l1.9-1.6l2-3.6l2.2-5.1l2-2.6l1.9-1.5"/><path d="M255.4 112.3l1.9-1.4l-1.6 .1l-1.9 1.5z" color="#df0"/><path d="M253.5 114.6l1.9-2.3l-1.6 .2l-2 2.6z" color="#bf0"/><path d="M251.4 118.3l2.1-3.7l-1.7 .5l-2.2 5.1z" color="#8f0"/><path d="M249.4 121.1l2-2.8l-1.8 1.9l-2 3.6z" color="#5f0"/><path d="M247.5 122.6l1.9-1.5l-1.8 2.7l-1.9 1.6z" color="#3f0"/><path d="M245.5 125.7l2-3.1l-1.8 2.8l-2.1 4z" color="#1f0"/><path d="M243.6 126.6l1.9-.9l-1.9 3.7l-1.7 .4z" color="#0f3"/><path d="M241.7 128.3l1.9-1.7l-1.7 3.2l-1.9 2.1z" color="#0f8"/><path d="M239.8 130.7l1.9-2.4l-1.7 3.6l-2 3z" color="#0fe"/><path d="M237.9 132.1l1.9-1.4l-1.8 4.2l-1.7-.5z" color="#0cf"/><path d="M235.8 136.9l2.1-4.8l-1.6 2.3l-2.1 4.3z" color="#09f"/><path d="M233.8 140.2l2-3.3l-1.6 1.8l-2 3z" color="#05f"/><path d="M231.9 141.7l1.9-1.5l-1.6 1.5l-1.8 1z" color="#02f"/><path d="M230 143.5l1.9-1.8l-1.5 1l-1.9 1.7z" color="#01f"/><path d="M228 146.5l2-3l-1.5 .9l-1.9 3.1z" color="#10f"/><path d="M226.1 149.3l1.9-2.8l-1.4 1l-1.9 2.3z" color="#50e"/><path d="M224.2 150.8l1.9-1.5l-1.4 .5l-1.8 .9z" color="#60d"/><path d="M222.3 152.4l1.9-1.6l-1.3-.1l-1.9 1.2z" color="#70c"/><path d="M220.5 154l1.8-1.6l-1.3-.5l-1.8 1.8z" color="#80c"/><path d="M218.6 155.7l1.9-1.7l-1.3-.3l-1.9 1.7z" color="#80b"/><path d="M216.8 156.7l1.8-1l-1.3-.3l-1.8 1.2z" color="#80a"/><path d="M214.9 157.9l1.9-1.2l-1.3-.1l-1.9 1.4z" color="#809"/><path d="M213.1 159.2l1.8-1.3l-1.3 .1l-1.8 1.3z" color="#709"/><path d="M211.2 160.3l1.9-1.1l-1.3 .1l-1.8 1.1z" color="#708"/><path d="M205.8 161.4l1.8 .2l1.8-.5l1.8-.8l-1.2 .1l-1.9 .9l-1.8 .6l-1.7-.6z" color="#000"/><path d="M204.1 161.4l1.7 0l-1.2-.1l-1.8-.3z" color="#707"/><path d="M191.3 163.6l1.9-.4l1.8-.2l1.8-.6l1.9-.6l1.8-.4l1.8-.2l1.8 .2l-1.3-.4l-1.7-.6l-1.8 0l-1.8 .1l-1.8 .4l-1.8 .6l-1.8 0l-1.9 .5z" color="#708"/><path d="M189.5 163.7l1.8-.1l-1.1-1.6l-1.8 .4z" color="#707"/><path d="M178.4 164.6l1.9-.4l1.9-.5l1.8-.4l1.8 .2l1.9 0l1.8 .2l-1.1-1.3l-1.8-.2l-1.8 .2l-1.9-.1l-1.8 .5l-1.9 .8l-1.8 .6z" color="#708"/><path d="M176.5 165.8l1.9-1.2l-1-.4l-1.9 1.5z" color="#707"/><path d="M163.4 167.1l1.9 .5l1.9 .5l1.8 .3l1.9-.8l1.9-.7l1.9-.4l1.8-.7l-1-.1l-1.9 1.1l-1.9 .6l-1.8 1.1l-1.9 1.1l-1.9-.4l-1.8-.6l-1.9-.6z" color="#000"/><path d="M161.5 166.3l1.9 .8l-1 .9l-1.9-1.1z" color="#707"/><path d="M159.6 165.9l1.9 .4l-1 .6l-1.8-.8z" color="#708"/><path d="M157.7 164.9l1.9 1l-.9 .2l-1.9-1.4z" color="#709"/><path d="M155.9 161.8l1.8 3.1l-.9-.2l-1.9-2.5z" color="#80a"/><path d="M154 159.4l1.9 2.4l-1 .4l-1.9-1.8z" color="#70c"/><path d="M152 157.1l2 2.3l-1 1l-1.9-1.6z" color="#60e"/><path d="M150.1 153.8l1.9 3.3l-.9 1.7l-1.9-3.5z" color="#20f"/><path d="M148.1 150.4l2 3.4l-.9 1.5l-2-4z" color="#01f"/><path d="M146.2 147.7l1.9 2.7l-.9 .9l-1.9-2.8z" color="#06f"/><path d="M144.2 146.9l2 .8l-.9 .8l-2-.2z" color="#07f"/><path d="M142.2 146.4l2 .5l-.9 1.4l-1.9-.6z" color="#09f"/><path d="M140.2 141.9l2 4.5l-.8 1.3l-2-4.8z" color="#0ef"/><path d="M138.2 140.3l2 1.6l-.8 1l-2-.5z" color="#0fb"/><path d="M134.2 138.7l2 .1l2 1.5l-.8 2.1l-2-.7l-2-.6z" color="#0f3"/><path d="M132.1 136.9l2.1 1.8l-.8 2.4l-2.1-2.4z" color="#1f0"/><path d="M130 134.7l2.1 2.2l-.8 1.8l-2-2.3z" color="#3f0"/><path d="M127.9 131.5l2.1 3.2l-.7 1.7l-2.1-4.8z" color="#6f0"/><path d="M123.8 130.2l2.1 .7l2 .6l-.7 .1l-2.1 .3l-2-.6z" color="#8f0"/><path d="M121.7 128.7l2.1 1.5l-.7 1.1l-2.1-2.4z" color="#af0"/><path d="M119.6 127l2.1 1.7l-.7 .2l-2.2-2.2z" color="#cf0"/><path d="M255.1 114.1l1.9-2l1.9-1.3l-1.6 .1l-1.9 1.4l-1.9 2.3z" color="#df0"/><path d="M253.1 116.2l2-2.1l-1.6 .5l-2.1 3.7z" color="#bf0"/><path d="M251.2 118.5l1.9-2.3l-1.7 2.1l-2 2.8z" color="#8f0"/><path d="M249.3 119.6l1.9-1.1l-1.8 2.6l-1.9 1.5z" color="#7f0"/><path d="M247.3 121.9l2-2.3l-1.8 3l-2 3.1z" color="#5f0"/><path d="M245.4 123.3l1.9-1.4l-1.8 3.8l-1.9 .9z" color="#3f0"/><path d="M243.6 124.7l1.8-1.4l-1.8 3.3l-1.9 1.7z" color="#2f0"/><path d="M241.6 126.6l2-1.9l-1.9 3.6l-1.9 2.4z" color="#1f0"/><path d="M239.6 129.7l2-3.1l-1.8 4.1l-1.9 1.4z" color="#0f3"/><path d="M237.4 135.1l2.2-5.4l-1.7 2.4l-2.1 4.8z" color="#0fe"/><path d="M235.3 138.7l2.1-3.6l-1.6 1.8l-2 3.3z" color="#09f"/><path d="M233.4 140.8l1.9-2.1l-1.5 1.5l-1.9 1.5z" color="#06f"/><path d="M231.5 142.5l1.9-1.7l-1.5 .9l-1.9 1.8z" color="#04f"/><path d="M229.5 145.5l2-3l-1.5 1l-2 3z" color="#01f"/><path d="M227.5 148.8l2-3.3l-1.5 1l-1.9 2.8z" color="#20f"/><path d="M225.6 150.8l1.9-2l-1.4 .5l-1.9 1.5z" color="#50e"/><path d="M223.7 153l1.9-2.2l-1.4 0l-1.9 1.6z" color="#60e"/><path d="M221.8 154.4l1.9-1.4l-1.4-.6l-1.8 1.6z" color="#70c"/><path d="M219.9 155.9l1.9-1.5l-1.3-.4l-1.9 1.7z" color="#80c"/><path d="M218.1 156.7l1.8-.8l-1.3-.2l-1.8 1z" color="#80b"/><path d="M216.3 157.7l1.8-1l-1.3 0l-1.9 1.2z" color="#80a"/><path d="M214.4 159.1l1.9-1.4l-1.4 .2l-1.8 1.3z" color="#809"/><path d="M210.7 160.8l1.9-.6l1.8-1.1l-1.3 .1l-1.9 1.1l-1.8 .8z" color="#709"/><path d="M205.3 161.9l1.8-.4l1.8-.2l1.8-.5l-1.3 .3l-1.8 .5l-1.8-.2l-1.7 0z" color="#708"/><path d="M199.8 163l1.9-.5l1.8-.5l1.8-.1l-1.2-.5l-1.8-.2l-1.8 .2l-1.8 .4z" color="#709"/><path d="M194.3 165l1.8-.5l1.9-.6l1.8-.9l-1.1-1.2l-1.9 .6l-1.8 .6l-1.8 .2z" color="#708"/><path d="M192.4 165.3l1.9-.3l-1.1-1.8l-1.9 .4z" color="#707"/><path d="M187 164.6l1.8 .2l1.8 .3l1.8 .2l-1.1-1.7l-1.8 .1l-1.8-.2l-1.9 0z" color="#708"/><path d="M179.5 165.1l1.9-.3l1.9-.2l1.8-.3l1.9 .3l-1.2-1.1l-1.8-.2l-1.8 .4l-1.9 .5l-1.9 .4z" color="#709"/><path d="M172 166.7l1.9-.2l1.9-.2l1.8-.3l1.9-.9l-1.1-.5l-1.9 1.2l-1.8 .7l-1.9 .4l-1.9 .7z" color="#708"/><path d="M168.2 167l1.9 .3l1.9-.6l-1.1 .9l-1.9 .8l-1.8-.3z" color="#707"/><path d="M166.3 166.5l1.9 .5l-1 1.1l-1.9-.5z" color="#708"/><path d="M162.5 165.7l1.9 .5l1.9 .3l-1 1.1l-1.9-.5l-1.9-.8z" color="#709"/><path d="M160.6 165.7l1.9 0l-1 .6l-1.9-.4z" color="#809"/><path d="M158.7 165l1.9 .7l-1 .2l-1.9-1z" color="#80a"/><path d="M156.8 161.4l1.9 3.6l-1-.1l-1.8-3.1z" color="#80c"/><path d="M154.9 158.3l1.9 3.1l-.9 .4l-1.9-2.4z" color="#60e"/><path d="M153 155.4l1.9 2.9l-.9 1.1l-2-2.3z" color="#20f"/><path d="M151 152.2l2 3.2l-1 1.7l-1.9-3.3z" color="#01f"/><path d="M149.1 149.5l1.9 2.7l-.9 1.6l-2-3.4z" color="#05f"/><path d="M147.1 146.9l2 2.6l-1 .9l-1.9-2.7z" color="#09f"/><path d="M145.1 145.5l2 1.4l-.9 .8l-2-.8z" color="#0cf"/><path d="M143.1 145.1l2 .4l-.9 1.4l-2-.5z" color="#0ef"/><path d="M141.1 140.8l2 4.3l-.9 1.3l-2-4.5z" color="#0fb"/><path d="M139 138.1l2.1 2.7l-.9 1.1l-2-1.6z" color="#0f0"/><path d="M137 135.8l2 2.3l-.8 2.2l-2-1.5z" color="#2f0"/><path d="M135 136.3l2-.5l-.8 3l-2-.1z" color="#3f0"/><path d="M132.9 135l2.1 1.3l-.8 2.4l-2.1-1.8z" color="#4f0"/><path d="M130.8 133l2.1 2l-.8 1.9l-2.1-2.2z" color="#6f0"/><path d="M128.7 131.3l2.1 1.7l-.8 1.7l-2.1-3.2z" color="#8f0"/><path d="M126.6 129.9l2.1 1.4l-.8 .2l-2-.6z" color="#af0"/><path d="M124.5 129.1l2.1 .8l-.7 1l-2.1-.7z" color="#bf0"/><path d="M122.4 128.4l2.1 .7l-.7 1.1l-2.1-1.5z" color="#cf0"/><path d="M120.3 127.3l2.1 1.1l-.7 .3l-2.1-1.7z" color="#df0"/><path d="M258.7 111.9l1.8-1.2l-1.6 .1l-1.9 1.3z" color="#ff0"/><path d="M254.9 114.2l1.8-.6l2-1.7l-1.7 .2l-1.9 2l-2 2.1z" color="#df0"/><path d="M253 115.7l1.9-1.5l-1.8 2l-1.9 2.3z" color="#cf0"/><path d="M251.1 116.6l1.9-.9l-1.8 2.8l-1.9 1.1z" color="#bf0"/><path d="M249.2 118.1l1.9-1.5l-1.8 3l-2 2.3z" color="#9f0"/><path d="M247.3 120l1.9-1.9l-1.9 3.8l-1.9 1.4z" color="#8f0"/><path d="M245.4 120.9l1.9-.9l-1.9 3.3l-1.8 1.4z" color="#7f0"/><path d="M243.5 122.3l1.9-1.4l-1.8 3.8l-2 1.9z" color="#6f0"/><path d="M241.3 127.2l2.2-4.9l-1.9 4.3l-2 3.1z" color="#3f0"/><path d="M239 133.3l2.3-6.1l-1.7 2.5l-2.2 5.4z" color="#0f3"/><path d="M236.9 137.2l2.1-3.9l-1.6 1.8l-2.1 3.6z" color="#0ef"/><path d="M234.9 139.8l2-2.6l-1.6 1.5l-1.9 2.1z" color="#09f"/><path d="M233 141.5l1.9-1.7l-1.5 1l-1.9 1.7z" color="#06f"/><path d="M231 144.5l2-3l-1.5 1l-2 3z" color="#04f"/><path d="M229 148.2l2-3.7l-1.5 1l-2 3.3z" color="#01f"/><path d="M227 150.8l2-2.6l-1.5 .6l-1.9 2z" color="#20f"/><path d="M225 153.5l2-2.7l-1.4 0l-1.9 2.2z" color="#50e"/><path d="M223.2 154.8l1.8-1.3l-1.3-.5l-1.9 1.4z" color="#60d"/><path d="M221.3 156.1l1.9-1.3l-1.4-.4l-1.9 1.5z" color="#70c"/><path d="M217.6 157.6l1.9-.8l1.8-.7l-1.4-.2l-1.8 .8l-1.8 1z" color="#80c"/><path d="M215.7 159l1.9-1.4l-1.3 .1l-1.9 1.4z" color="#80b"/><path d="M213.9 160.1l1.8-1.1l-1.3 .1l-1.8 1.1z" color="#80a"/><path d="M204.7 162.8l1.8-.4l1.9-.8l1.8-.6l1.9-.4l1.8-.5l-1.3 .1l-1.9 .6l-1.8 .5l-1.8 .2l-1.8 .4l-1.8 .1z" color="#809"/><path d="M201 164.2l1.8-.6l1.9-.8l-1.2-.8l-1.8 .5l-1.9 .5z" color="#709"/><path d="M195.4 166.8l1.9-.9l1.8-.5l1.9-1.2l-1.2-1.2l-1.8 .9l-1.9 .6l-1.8 .5z" color="#708"/><path d="M193.6 167l1.8-.2l-1.1-1.8l-1.9 .3z" color="#707"/><path d="M189.9 166.2l1.8 .2l1.9 .6l-1.2-1.7l-1.8-.2l-1.8-.3z" color="#708"/><path d="M186.2 165.4l1.9 .3l1.8 .5l-1.1-1.4l-1.8-.2l-1.9-.3z" color="#709"/><path d="M169.3 165.9l1.9 .2l1.9-.3l1.9 .2l1.8 0l1.9 .1l1.9-.6l1.9-.1l1.9 .1l1.8-.1l-1.1-1.1l-1.8 .3l-1.9 .2l-1.9 .3l-1.9 .9l-1.8 .3l-1.9 .2l-1.9 .2l-1.9 .6l-1.9-.3z" color="#809"/><path d="M165.5 165.3l1.9 .2l1.9 .4l-1.1 1.1l-1.9-.5l-1.9-.3z" color="#80a"/><path d="M159.7 165.2l1.9 .3l1.9-.4l2 .2l-1.1 .9l-1.9-.5l-1.9 0l-1.9-.7z" color="#80b"/><path d="M157.8 161.1l1.9 4.1l-1-.2l-1.9-3.6z" color="#60d"/><path d="M155.9 157.1l1.9 4l-1 .3l-1.9-3.1z" color="#30e"/><path d="M153.9 153.7l2 3.4l-1 1.2l-1.9-2.9z" color="#01f"/><path d="M152 150.6l1.9 3.1l-.9 1.7l-2-3.2z" color="#05f"/><path d="M150 148.6l2 2l-1 1.6l-1.9-2.7z" color="#09f"/><path d="M148 146.1l2 2.5l-.9 .9l-2-2.6z" color="#0cf"/><path d="M146 144l2 2.1l-.9 .8l-2-1.4z" color="#0fe"/><path d="M144 143.8l2 .2l-.9 1.5l-2-.4z" color="#0fb"/><path d="M142 139.7l2 4.1l-.9 1.3l-2-4.3z" color="#0f0"/><path d="M139.9 135.8l2.1 3.9l-.9 1.1l-2.1-2.7z" color="#3f0"/><path d="M137.8 132.7l2.1 3.1l-.9 2.3l-2-2.3z" color="#6f0"/><path d="M133.7 133.1l2.1 .7l2-1.1l-.8 3.1l-2 .5l-2.1-1.3z" color="#7f0"/><path d="M131.6 131.2l2.1 1.9l-.8 1.9l-2.1-2z" color="#9f0"/><path d="M129.5 131.1l2.1 .1l-.8 1.8l-2.1-1.7z" color="#af0"/><path d="M127.4 129l2.1 2.1l-.8 .2l-2.1-1.4z" color="#cf0"/><path d="M121.1 127.6l2.1 .5l2.1-.1l2.1 1l-.8 .9l-2.1-.8l-2.1-.7l-2.1-1.1z" color="#df0"/><path d="M260.3 111.7l1.9-1l-1.7 0l-1.8 1.2z" color="#fe0"/><path d="M256.7 112.1l1.7 .9l1.9-1.3l-1.6 .2l-2 1.7l-1.8 .6z" color="#ff0"/><path d="M253 113.6l1.9-.7l1.8-.8l-1.8 2.1l-1.9 1.5l-1.9 .9z" color="#ef0"/><path d="M249.2 116.6l2-2.4l1.8-.6l-1.9 3l-1.9 1.5l-1.9 1.9z" color="#df0"/><path d="M247.3 117.1l1.9-.5l-1.9 3.4l-1.9 .9z" color="#cf0"/><path d="M245.4 117.9l1.9-.8l-1.9 3.8l-1.9 1.4z" color="#bf0"/><path d="M243.1 124.7l2.3-6.8l-1.9 4.4l-2.2 4.9z" color="#8f0"/><path d="M240.7 131.4l2.4-6.7l-1.8 2.5l-2.3 6.1z" color="#2f0"/><path d="M238.5 135.7l2.2-4.3l-1.7 1.9l-2.1 3.9z" color="#0f8"/><path d="M236.5 138.8l2-3.1l-1.6 1.5l-2 2.6z" color="#0ef"/><path d="M234.6 140.5l1.9-1.7l-1.6 1l-1.9 1.7z" color="#0af"/><path d="M232.6 143.4l2-2.9l-1.6 1l-2 3z" color="#07f"/><path d="M230.4 147.7l2.2-4.3l-1.6 1.1l-2 3.7z" color="#04f"/><path d="M228.4 150.9l2-3.2l-1.4 .5l-2 2.6z" color="#00f"/><path d="M226.4 154.1l2-3.2l-1.4-.1l-2 2.7z" color="#30e"/><path d="M224.5 155.1l1.9-1l-1.4-.6l-1.8 1.3z" color="#60e"/><path d="M220.8 156.9l1.9-.5l1.8-1.3l-1.3-.3l-1.9 1.3l-1.8 .7z" color="#60d"/><path d="M217.1 158.9l1.9-1.5l1.8-.5l-1.3-.1l-1.9 .8l-1.9 1.4z" color="#70c"/><path d="M215.2 160l1.9-1.1l-1.4 .1l-1.8 1.1z" color="#80c"/><path d="M209.7 161.8l1.9-1.2l1.8-.3l1.8-.3l-1.3 .1l-1.8 .5l-1.9 .4l-1.8 .6z" color="#80b"/><path d="M205.9 163.7l1.9-.9l1.9-1l-1.3-.2l-1.9 .8l-1.8 .4z" color="#80a"/><path d="M204.1 164.7l1.8-1l-1.2-.9l-1.9 .8z" color="#809"/><path d="M200.3 167l1.9-1.5l1.9-.8l-1.3-1.1l-1.8 .6l-1.9 1.2z" color="#709"/><path d="M196.5 168.6l1.9-1.2l1.9-.4l-1.2-1.6l-1.8 .5l-1.9 .9z" color="#708"/><path d="M194.7 168.6l1.8 0l-1.1-1.8l-1.8 .2z" color="#707"/><path d="M192.9 167.8l1.8 .8l-1.1-1.6l-1.9-.6z" color="#708"/><path d="M189.2 166.8l1.8 .7l1.9 .3l-1.2-1.4l-1.8-.2l-1.8-.5z" color="#709"/><path d="M185.5 166.4l1.8 .1l1.9 .3l-1.1-1.1l-1.9-.3l-1.8 .1z" color="#809"/><path d="M178 165.8l1.8 .4l1.9-.3l1.9 .2l1.9 .3l-1.1-.9l-1.9-.1l-1.9 .1l-1.9 .6l-1.9-.1z" color="#80a"/><path d="M174.2 164.9l1.9 .6l1.9 .3l-1.2 .2l-1.8 0l-1.9-.2z" color="#80b"/><path d="M168.4 164.4l2 .3l1.9 .2l1.9 0l-1.1 .9l-1.9 .3l-1.9-.2l-1.9-.4z" color="#80c"/><path d="M160.7 165.3l1.9 0l2-.9l1.9 0l1.9 0l-1 1.1l-1.9-.2l-2-.2l-1.9 .4l-1.9-.3z" color="#70c"/><path d="M158.8 160.7l1.9 4.6l-1-.1l-1.9-4.1z" color="#60e"/><path d="M156.9 156l1.9 4.7l-1 .4l-1.9-4z" color="#00f"/><path d="M154.9 151.9l2 4.1l-1 1.1l-2-3.4z" color="#05f"/><path d="M152.9 149l2 2.9l-1 1.8l-1.9-3.1z" color="#09f"/><path d="M150.9 147.7l2 1.3l-.9 1.6l-2-2z" color="#0cf"/><path d="M148.9 145.3l2 2.4l-.9 .9l-2-2.5z" color="#0fe"/><path d="M146.9 142.5l2 2.8l-.9 .8l-2-2.1z" color="#0f3"/><path d="M144.9 142.4l2 .1l-.9 1.5l-2-.2z" color="#0f0"/><path d="M142.8 138.6l2.1 3.8l-.9 1.4l-2-4.1z" color="#2f0"/><path d="M140.8 133.5l2 5.1l-.8 1.1l-2.1-3.9z" color="#6f0"/><path d="M138.7 129.6l2.1 3.9l-.9 2.3l-2.1-3.1z" color="#af0"/><path d="M134.5 131.1l2.1 .1l2.1-1.6l-.9 3.1l-2 1.1l-2.1-.7z" color="#bf0"/><path d="M132.4 129.4l2.1 1.7l-.8 2l-2.1-1.9z" color="#cf0"/><path d="M128.2 128l2.2 2.9l2-1.5l-.8 1.8l-2.1-.1l-2.1-2.1z" color="#df0"/><path d="M126.1 126.9l2.1 1.1l-.8 1l-2.1-1z" color="#ef0"/><path d="M121.9 128l2.1-.2l2.1-.9l-.8 1.1l-2.1 .1l-2.1-.5z" color="#ff0"/><path class="m" d="M121.9 128l2.1-.2l2.1-.9l2.1 1.1l2.2 2.9l2-1.5l2.1 1.7l2.1 .1l2.1-1.6l2.1 3.9l2 5.1l2.1 3.8l2 .1l2 2.8l2 2.4l2 1.3l2 2.9l2 4.1l1.9 4.7l1.9 4.6l1.9 0l2-.9l1.9 0l1.9 0l2 .3l1.9 .2l1.9 0l1.9 .6l1.9 .3l1.8 .4l1.9-.3l1.9 .2l1.9 .3l1.8 .1l1.9 .3l1.8 .7l1.9 .3l1.8 .8l1.8 0l1.9-1.2l1.9-.4l1.9-1.5l1.9-.8l1.8-1l1.9-.9l1.9-1l1.9-1.2l1.8-.3l1.8-.3l1.9-1.1l1.9-1.5l1.8-.5l1.9-.5l1.8-1.3l1.9-1l2-3.2l2-3.2l2.2-4.3l2-2.9l1.9-1.7l2-3.1l2.2-4.3l2.4-6.7l2.3-6.8l1.9-.8l1.9-.5l2-2.4l1.8-.6l1.9-.7l1.8-.8l1.7 .9l1.9-1.3l1.9-1"/><path d="M261.7 114.5l1.9-1.3l-1.4-2.5l-1.9 1z" color="#fe0"/><path d="M256.1 117.3l1.9-1.4l1.8 .2l1.9-1.6l-1.4-2.8l-1.9 1.3l-1.7-.9l-1.8 .8z" color="#ff0"/><path d="M254.2 118.6l1.9-1.3l-1.2-4.4l-1.9 .7z" color="#ef0"/><path d="M250.2 122.1l2.1-2.6l1.9-.9l-1.2-5l-1.8 .6l-2 2.4z" color="#df0"/><path d="M248.3 123.4l1.9-1.3l-1-5.5l-1.9 .5z" color="#cf0"/><path d="M246.5 123.9l1.8-.5l-1-6.3l-1.9 .8z" color="#bf0"/><path d="M244.2 129.4l2.3-5.5l-1.1-6l-2.3 6.8z" color="#8f0"/><path d="M241.9 135.1l2.3-5.7l-1.1-4.7l-2.4 6.7z" color="#3f0"/><path d="M239.8 138.3l2.1-3.2l-1.2-3.7l-2.2 4.3z" color="#0f3"/><path d="M237.8 140.9l2-2.6l-1.3-2.6l-2 3.1z" color="#0fe"/><path d="M235.9 143l1.9-2.1l-1.3-2.1l-1.9 1.7z" color="#0cf"/><path d="M233.8 146.1l2.1-3.1l-1.3-2.5l-2 2.9z" color="#09f"/><path d="M231.8 149.7l2-3.6l-1.2-2.7l-2.2 4.3z" color="#05f"/><path d="M229.7 152.8l2.1-3.1l-1.4-2l-2 3.2z" color="#00f"/><path d="M227.7 155.9l2-3.1l-1.3-1.9l-2 3.2z" color="#20f"/><path d="M225.8 156.9l1.9-1l-1.3-1.8l-1.9 1z" color="#50e"/><path d="M223.9 158.1l1.9-1.2l-1.3-1.8l-1.8 1.3z" color="#60e"/><path d="M220.3 159.3l1.8-.6l1.8-.6l-1.2-1.7l-1.9 .5l-1.8 .5z" color="#60d"/><path d="M216.5 161.5l1.9-1l1.9-1.2l-1.3-1.9l-1.9 1.5l-1.9 1.1z" color="#70c"/><path d="M212.8 162.4l1.8-.4l1.9-.5l-1.3-1.5l-1.8 .3l-1.8 .3z" color="#80c"/><path d="M209 164.5l1.9-1l1.9-1.1l-1.2-1.8l-1.9 1.2l-1.9 1z" color="#80b"/><path d="M207.1 165.4l1.9-.9l-1.2-1.7l-1.9 .9z" color="#80a"/><path d="M203.4 167.3l1.9-.9l1.8-1l-1.2-1.7l-1.8 1l-1.9 .8z" color="#809"/><path d="M201.5 168.6l1.9-1.3l-1.2-1.8l-1.9 1.5z" color="#709"/><path d="M197.7 170.3l1.9-1.1l1.9-.6l-1.2-1.6l-1.9 .4l-1.9 1.2z" color="#708"/><path d="M195.8 170.3l1.9 0l-1.2-1.7l-1.8 0z" color="#707"/><path d="M194 169.5l1.8 .8l-1.1-1.7l-1.8-.8z" color="#708"/><path d="M190.3 168.7l1.9 .6l1.8 .2l-1.1-1.7l-1.9-.3l-1.8-.7z" color="#709"/><path d="M188.5 168.3l1.8 .4l-1.1-1.9l-1.9-.3z" color="#809"/><path d="M184.7 167.9l1.9 .3l1.9 .1l-1.2-1.8l-1.8-.1l-1.9-.3z" color="#80a"/><path d="M179 167.4l1.9 .4l1.9-.1l1.9 .2l-1.1-1.8l-1.9-.2l-1.9 .3l-1.8-.4z" color="#80b"/><path d="M175.2 166.7l1.9 .5l1.9 .2l-1-1.6l-1.9-.3l-1.9-.6z" color="#80c"/><path d="M171.4 166.3l1.9 .3l1.9 .1l-1-1.8l-1.9 0l-1.9-.2z" color="#70c"/><path d="M161.7 166.9l1.9-.2l2-.6l1.9 .1l2 0l1.9 .1l-1-1.6l-2-.3l-1.9 0l-1.9 0l-2 .9l-1.9 0z" color="#60d"/><path d="M159.8 163.4l1.9 3.5l-1-1.6l-1.9-4.6z" color="#50e"/><path d="M157.8 159.9l2 3.5l-1-2.7l-1.9-4.7z" color="#00f"/><path d="M155.9 156l1.9 3.9l-.9-3.9l-2-4.1z" color="#05f"/><path d="M153.9 152.8l2 3.2l-1-4.1l-2-2.9z" color="#09f"/><path d="M151.9 151.2l2 1.6l-1-3.8l-2-1.3z" color="#0ef"/><path d="M149.9 148.7l2 2.5l-1-3.5l-2-2.4z" color="#0fb"/><path d="M147.9 146.1l2 2.6l-1-3.4l-2-2.8z" color="#0f3"/><path d="M145.8 145.7l2.1 .4l-1-3.6l-2-.1z" color="#1f0"/><path d="M143.8 142.7l2 3l-.9-3.3l-2.1-3.8z" color="#3f0"/><path d="M141.7 138.3l2.1 4.4l-1-4.1l-2-5.1z" color="#6f0"/><path d="M139.6 135.1l2.1 3.2l-.9-4.8l-2.1-3.9z" color="#af0"/><path d="M135.4 135.4l2.1 .6l2.1-.9l-.9-5.5l-2.1 1.6l-2.1-.1z" color="#bf0"/><path d="M133.3 133.9l2.1 1.5l-.9-4.3l-2.1-1.7z" color="#cf0"/><path d="M129.1 132.3l2.2 2.2l2-.6l-.9-4.5l-2 1.5l-2.2-2.9z" color="#df0"/><path d="M127 131.5l2.1 .8l-.9-4.3l-2.1-1.1z" color="#ef0"/><path d="M122.7 131.5l2.2 .3l2.1-.3l-.9-4.6l-2.1 .9l-2.1 .2z" color="#ff0"/><path d="M263.1 117.4l1.9-1.6l-1.4-2.6l-1.9 1.3z" color="#ff0"/><path d="M261.1 119.3l2-1.9l-1.4-2.9l-1.9 1.6z" color="#ef0"/><path d="M257.3 121.7l2-2l1.8-.4l-1.3-3.2l-1.8-.2l-1.9 1.4z" color="#df0"/><path d="M255.3 123.7l2-2l-1.2-4.4l-1.9 1.3z" color="#cf0"/><path d="M253.4 124.9l1.9-1.2l-1.1-5.1l-1.9 .9z" color="#bf0"/><path d="M251.3 127.7l2.1-2.8l-1.1-5.4l-2.1 2.6z" color="#af0"/><path d="M249.4 129.6l1.9-1.9l-1.1-5.6l-1.9 1.3z" color="#8f0"/><path d="M247.5 129.9l1.9-.3l-1.1-6.2l-1.8 .5z" color="#7f0"/><path d="M245.3 134.2l2.2-4.3l-1-6l-2.3 5.5z" color="#5f0"/><path d="M243.1 138.8l2.2-4.6l-1.1-4.8l-2.3 5.7z" color="#0f0"/><path d="M241.1 141l2-2.2l-1.2-3.7l-2.1 3.2z" color="#0fb"/><path d="M239.2 143l1.9-2l-1.3-2.7l-2 2.6z" color="#0ef"/><path d="M237.2 145.5l2-2.5l-1.4-2.1l-1.9 2.1z" color="#0af"/><path d="M235.1 148.7l2.1-3.2l-1.3-2.5l-2.1 3.1z" color="#07f"/><path d="M233.1 151.7l2-3l-1.3-2.6l-2 3.6z" color="#04f"/><path d="M231 154.7l2.1-3l-1.3-2l-2.1 3.1z" color="#00f"/><path d="M229 157.7l2-3l-1.3-1.9l-2 3.1z" color="#30e"/><path d="M227.1 158.8l1.9-1.1l-1.3-1.8l-1.9 1z" color="#50e"/><path d="M225.2 159.8l1.9-1l-1.3-1.9l-1.9 1.2z" color="#60e"/><path d="M221.5 161.2l1.9-.7l1.8-.7l-1.3-1.7l-1.8 .6l-1.8 .6z" color="#60d"/><path d="M217.8 162.9l1.8-.8l1.9-.9l-1.2-1.9l-1.9 1.2l-1.9 1z" color="#70c"/><path d="M214 164.3l1.9-.7l1.9-.7l-1.3-1.4l-1.9 .5l-1.8 .4z" color="#80c"/><path d="M210.2 166.2l1.9-.9l1.9-1l-1.2-1.9l-1.9 1.1l-1.9 1z" color="#80b"/><path d="M208.4 167.2l1.8-1l-1.2-1.7l-1.9 .9z" color="#80a"/><path d="M204.6 169.1l1.9-1l1.9-.9l-1.3-1.8l-1.8 1l-1.9 .9z" color="#809"/><path d="M202.7 170.2l1.9-1.1l-1.2-1.8l-1.9 1.3z" color="#709"/><path d="M198.9 172l1.9-1.1l1.9-.7l-1.2-1.6l-1.9 .6l-1.9 1.1z" color="#708"/><path d="M197 172l1.9 0l-1.2-1.7l-1.9 0z" color="#707"/><path d="M195.2 171.3l1.8 .7l-1.2-1.7l-1.8-.8z" color="#708"/><path d="M191.4 170.6l1.9 .4l1.9 .3l-1.2-1.8l-1.8-.2l-1.9-.6z" color="#709"/><path d="M189.6 170.1l1.8 .5l-1.1-1.9l-1.8-.4z" color="#809"/><path d="M183.9 169.5l1.9 .2l1.9 .3l1.9 .1l-1.1-1.8l-1.9-.1l-1.9-.3l-1.9-.2z" color="#80a"/><path d="M180.1 169.1l1.9 .3l1.9 .1l-1.1-1.8l-1.9 .1l-1.9-.4z" color="#80b"/><path d="M176.3 168.6l1.9 .3l1.9 .2l-1.1-1.7l-1.9-.2l-1.9-.5z" color="#80c"/><path d="M172.4 167.9l2 .4l1.9 .3l-1.1-1.9l-1.9-.1l-1.9-.3z" color="#70c"/><path d="M162.7 168.5l1.9-.3l2-.4l2 .2l1.9 .1l1.9-.2l-1-1.6l-1.9-.1l-2 0l-1.9-.1l-2 .6l-1.9 .2z" color="#60d"/><path d="M160.7 166.2l2 2.3l-1-1.6l-1.9-3.5z" color="#50e"/><path d="M158.8 163.9l1.9 2.3l-.9-2.8l-2-3.5z" color="#10f"/><path d="M156.8 160.2l2 3.7l-1-4l-1.9-3.9z" color="#02f"/><path d="M154.9 156.7l1.9 3.5l-.9-4.2l-2-3.2z" color="#06f"/><path d="M152.9 154.8l2 1.9l-1-3.9l-2-1.6z" color="#0af"/><path d="M150.8 152.2l2.1 2.6l-1-3.6l-2-2.5z" color="#0ef"/><path d="M148.8 149.6l2 2.6l-.9-3.5l-2-2.6z" color="#0f8"/><path d="M146.8 149.1l2 .5l-.9-3.5l-2.1-.4z" color="#0f3"/><path d="M144.7 146.8l2.1 2.3l-1-3.4l-2-3z" color="#1f0"/><path d="M142.6 143.1l2.1 3.7l-.9-4.1l-2.1-4.4z" color="#4f0"/><path d="M140.5 140.6l2.1 2.5l-.9-4.8l-2.1-3.2z" color="#7f0"/><path d="M138.5 140.8l2-.2l-.9-5.5l-2.1 .9z" color="#8f0"/><path d="M136.4 139.6l2.1 1.2l-1-4.8l-2.1-.6z" color="#9f0"/><path d="M134.3 138.5l2.1 1.1l-1-4.2l-2.1-1.5z" color="#af0"/><path d="M132.1 138.1l2.2 .4l-1-4.6l-2 .6z" color="#bf0"/><path d="M130 136.6l2.1 1.5l-.8-3.6l-2.2-2.2z" color="#cf0"/><path d="M123.6 135l2.1 .9l2.2 .3l2.1 .4l-.9-4.3l-2.1-.8l-2.1 .3l-2.2-.3z" color="#df0"/><path d="M264.5 120.3l2-1.9l-1.5-2.6l-1.9 1.6z" color="#ef0"/><path d="M262.5 122.5l2-2.2l-1.4-2.9l-2 1.9z" color="#df0"/><path d="M260.6 123.5l1.9-1l-1.4-3.2l-1.8 .4z" color="#cf0"/><path d="M258.5 126.1l2.1-2.6l-1.3-3.8l-2 2z" color="#bf0"/><path d="M256.5 128.7l2-2.6l-1.2-4.4l-2 2z" color="#9f0"/><path d="M254.5 130.3l2-1.6l-1.2-5l-1.9 1.2z" color="#8f0"/><path d="M252.4 133.2l2.1-2.9l-1.1-5.4l-2.1 2.8z" color="#6f0"/><path d="M250.4 135.8l2-2.6l-1.1-5.5l-1.9 1.9z" color="#4f0"/><path d="M248.6 135.9l1.8-.1l-1-6.2l-1.9 .3z" color="#3f0"/><path d="M246.5 139l2.1-3.1l-1.1-6l-2.2 4.3z" color="#1f0"/><path d="M244.4 142.5l2.1-3.5l-1.2-4.8l-2.2 4.6z" color="#0f8"/><path d="M242.5 143.8l1.9-1.3l-1.3-3.7l-2 2.2z" color="#0ef"/><path d="M240.5 145.2l2-1.4l-1.4-2.8l-1.9 2z" color="#0cf"/><path d="M238.5 148l2-2.8l-1.3-2.2l-2 2.5z" color="#09f"/><path d="M236.4 151.4l2.1-3.4l-1.3-2.5l-2.1 3.2z" color="#06f"/><path d="M234.4 153.7l2-2.3l-1.3-2.7l-2 3z" color="#02f"/><path d="M232.4 156.7l2-3l-1.3-2l-2.1 3z" color="#00f"/><path d="M230.3 159.5l2.1-2.8l-1.4-2l-2 3z" color="#30e"/><path d="M228.4 160.6l1.9-1.1l-1.3-1.8l-1.9 1.1z" color="#50e"/><path d="M226.5 161.6l1.9-1l-1.3-1.8l-1.9 1z" color="#60e"/><path d="M222.8 163.1l1.9-.8l1.8-.7l-1.3-1.8l-1.8 .7l-1.9 .7z" color="#60d"/><path d="M219.1 164.4l1.8-.6l1.9-.7l-1.3-1.9l-1.9 .9l-1.8 .8z" color="#70c"/><path d="M215.3 166.1l1.9-.8l1.9-.9l-1.3-1.5l-1.9 .7l-1.9 .7z" color="#80c"/><path d="M211.5 167.9l1.9-.9l1.9-.9l-1.3-1.8l-1.9 1l-1.9 .9z" color="#80b"/><path d="M209.6 168.9l1.9-1l-1.3-1.7l-1.8 1z" color="#80a"/><path d="M205.8 170.9l1.9-1.1l1.9-.9l-1.2-1.7l-1.9 .9l-1.9 1z" color="#809"/><path d="M203.9 171.9l1.9-1l-1.2-1.8l-1.9 1.1z" color="#709"/><path d="M200 173.7l2-1l1.9-.8l-1.2-1.7l-1.9 .7l-1.9 1.1z" color="#708"/><path d="M198.2 173.6l1.8 .1l-1.1-1.7l-1.9 0z" color="#707"/><path d="M196.3 173l1.9 .6l-1.2-1.6l-1.8-.7z" color="#708"/><path d="M192.6 172.6l1.9 .2l1.8 .2l-1.1-1.7l-1.9-.3l-1.9-.4z" color="#709"/><path d="M188.8 171.7l1.9 .3l1.9 .6l-1.2-2l-1.8-.5l-1.9-.1z" color="#809"/><path d="M185 171.3l1.9 .3l1.9 .1l-1.1-1.7l-1.9-.3l-1.9-.2z" color="#80a"/><path d="M181.2 170.8l1.9 .3l1.9 .2l-1.1-1.8l-1.9-.1l-1.9-.3z" color="#80b"/><path d="M177.4 170.5l1.9 .2l1.9 .1l-1.1-1.7l-1.9-.2l-1.9-.3z" color="#80c"/><path d="M173.5 169.6l1.9 .5l2 .4l-1.1-1.9l-1.9-.3l-2-.4z" color="#70c"/><path d="M167.6 169.5l2 .3l1.9 .2l2-.4l-1.1-1.7l-1.9 .2l-1.9-.1l-2-.2z" color="#60d"/><path d="M165.7 169.7l1.9-.2l-1-1.7l-2 .4z" color="#60e"/><path d="M163.7 170.1l2-.4l-1.1-1.5l-1.9 .3z" color="#60d"/><path d="M161.7 168.9l2 1.2l-1-1.6l-2-2.3z" color="#60e"/><path d="M159.8 167.9l1.9 1l-1-2.7l-1.9-2.3z" color="#30e"/><path d="M157.8 164.3l2 3.6l-1-4l-2-3.7z" color="#00f"/><path d="M155.8 160.5l2 3.8l-1-4.1l-1.9-3.5z" color="#04f"/><path d="M153.8 158.4l2 2.1l-.9-3.8l-2-1.9z" color="#07f"/><path d="M151.8 155.8l2 2.6l-.9-3.6l-2.1-2.6z" color="#0af"/><path d="M149.8 153.2l2 2.6l-1-3.6l-2-2.6z" color="#0fe"/><path d="M147.7 152.5l2.1 .7l-1-3.6l-2-.5z" color="#0f8"/><path d="M145.7 151l2 1.5l-.9-3.4l-2.1-2.3z" color="#0f3"/><path d="M143.6 148l2.1 3l-1-4.2l-2.1-3.7z" color="#2f0"/><path d="M141.5 146.1l2.1 1.9l-1-4.9l-2.1-2.5z" color="#4f0"/><path d="M139.4 145.6l2.1 .5l-1-5.5l-2 .2z" color="#5f0"/><path d="M137.3 143.9l2.1 1.7l-.9-4.8l-2.1-1.2z" color="#6f0"/><path d="M135.2 143l2.1 .9l-.9-4.3l-2.1-1.1z" color="#8f0"/><path d="M133 141.8l2.2 1.2l-.9-4.5l-2.2-.4z" color="#9f0"/><path d="M128.8 140.9l2.1 .1l2.1 .8l-.9-3.7l-2.1-1.5l-2.1-.4z" color="#af0"/><path d="M126.6 140l2.2 .9l-.9-4.7l-2.2-.3z" color="#bf0"/><path d="M124.5 138.6l2.1 1.4l-.9-4.1l-2.1-.9z" color="#cf0"/><path d="M265.9 123.2l2-2.2l-1.4-2.6l-2 1.9z" color="#df0"/><path d="M263.8 125.7l2.1-2.5l-1.4-2.9l-2 2.2z" color="#cf0"/><path d="M261.9 127.3l1.9-1.6l-1.3-3.2l-1.9 1z" color="#af0"/><path d="M259.7 130.6l2.2-3.3l-1.3-3.8l-2.1 2.6z" color="#9f0"/><path d="M257.6 133.8l2.1-3.2l-1.2-4.5l-2 2.6z" color="#6f0"/><path d="M255.6 135.8l2-2l-1.1-5.1l-2 1.6z" color="#4f0"/><path d="M253.5 138.8l2.1-3l-1.1-5.5l-2.1 2.9z" color="#2f0"/><path d="M251.4 142.1l2.1-3.3l-1.1-5.6l-2 2.6z" color="#0f0"/><path d="M249.6 141.9l1.8 .2l-1-6.3l-1.8 .1z" color="#0f3"/><path d="M247.7 143.8l1.9-1.9l-1-6l-2.1 3.1z" color="#0f8"/><path d="M245.6 146.3l2.1-2.5l-1.2-4.8l-2.1 3.5z" color="#0ef"/><path d="M243.8 146.5l1.8-.2l-1.2-3.8l-1.9 1.3z" color="#0cf"/><path d="M241.9 147.3l1.9-.8l-1.3-2.7l-2 1.4z" color="#0af"/><path d="M239.8 150.5l2.1-3.2l-1.4-2.1l-2 2.8z" color="#09f"/><path d="M237.7 154.2l2.1-3.7l-1.3-2.5l-2.1 3.4z" color="#05f"/><path d="M235.8 155.7l1.9-1.5l-1.3-2.8l-2 2.3z" color="#01f"/><path d="M233.7 158.6l2.1-2.9l-1.4-2l-2 3z" color="#10f"/><path d="M231.7 161.4l2-2.8l-1.3-1.9l-2.1 2.8z" color="#30e"/><path d="M227.9 163.4l1.9-.9l1.9-1.1l-1.4-1.9l-1.9 1.1l-1.9 1z" color="#60e"/><path d="M224.1 165.1l1.9-1l1.9-.7l-1.4-1.8l-1.8 .7l-1.9 .8z" color="#60d"/><path d="M220.4 165.9l1.8-.5l1.9-.3l-1.3-2l-1.9 .7l-1.8 .6z" color="#70c"/><path d="M216.5 168l2-.9l1.9-1.2l-1.3-1.5l-1.9 .9l-1.9 .8z" color="#80c"/><path d="M212.7 169.6l1.9-.8l1.9-.8l-1.2-1.9l-1.9 .9l-1.9 .9z" color="#80b"/><path d="M210.8 170.7l1.9-1.1l-1.2-1.7l-1.9 1z" color="#80a"/><path d="M207 172.8l1.9-1.2l1.9-.9l-1.2-1.8l-1.9 .9l-1.9 1.1z" color="#809"/><path d="M205.1 173.6l1.9-.8l-1.2-1.9l-1.9 1z" color="#709"/><path d="M201.2 175.5l2-1.1l1.9-.8l-1.2-1.7l-1.9 .8l-2 1z" color="#708"/><path d="M199.4 175.3l1.8 .2l-1.2-1.8l-1.8-.1z" color="#707"/><path d="M197.5 174.8l1.9 .5l-1.2-1.7l-1.9-.6z" color="#708"/><path d="M193.7 174.6l1.9 0l1.9 .2l-1.2-1.8l-1.8-.2l-1.9-.2z" color="#709"/><path d="M190 173.6l1.9 .3l1.8 .7l-1.1-2l-1.9-.6l-1.9-.3z" color="#809"/><path d="M186.2 173.1l1.9 .4l1.9 .1l-1.2-1.9l-1.9-.1l-1.9-.3z" color="#80a"/><path d="M182.3 172.5l1.9 .2l2 .4l-1.2-1.8l-1.9-.2l-1.9-.3z" color="#80b"/><path d="M178.4 172.4l2 0l1.9 .1l-1.1-1.7l-1.9-.1l-1.9-.2z" color="#80c"/><path d="M174.6 171.2l1.9 .7l1.9 .5l-1-1.9l-2-.4l-1.9-.5z" color="#70c"/><path d="M168.7 171.2l1.9 .5l2 .2l2-.7l-1.1-1.6l-2 .4l-1.9-.2l-2-.3z" color="#60d"/><path d="M162.7 171.7l2 .1l2-.6l2 0l-1.1-1.7l-1.9 .2l-2 .4l-2-1.2z" color="#60e"/><path d="M160.7 171.9l2-.2l-1-2.8l-1.9-1z" color="#50e"/><path d="M158.8 168.6l1.9 3.3l-.9-4l-2-3.6z" color="#20f"/><path d="M156.8 164.4l2 4.2l-1-4.3l-2-3.8z" color="#01f"/><path d="M154.8 162l2 2.4l-1-3.9l-2-2.1z" color="#05f"/><path d="M152.8 159.3l2 2.7l-1-3.6l-2-2.6z" color="#09f"/><path d="M150.7 156.8l2.1 2.5l-1-3.5l-2-2.6z" color="#0cf"/><path d="M148.7 155.9l2 .9l-.9-3.6l-2.1-.7z" color="#0fe"/><path d="M146.6 155.1l2.1 .8l-1-3.4l-2-1.5z" color="#0fb"/><path d="M144.5 152.8l2.1 2.3l-.9-4.1l-2.1-3z" color="#0f3"/><path d="M142.4 151.7l2.1 1.1l-.9-4.8l-2.1-1.9z" color="#1f0"/><path d="M140.3 150.4l2.1 1.3l-.9-5.6l-2.1-.5z" color="#2f0"/><path d="M138.2 148.2l2.1 2.2l-.9-4.8l-2.1-1.7z" color="#4f0"/><path d="M136.1 147.6l2.1 .6l-.9-4.3l-2.1-.9z" color="#5f0"/><path d="M134 145.5l2.1 2.1l-.9-4.6l-2.2-1.2z" color="#6f0"/><path d="M129.7 145.6l2.1-.2l2.2 .1l-1-3.7l-2.1-.8l-2.1-.1z" color="#8f0"/><path d="M127.5 144.1l2.2 1.5l-.9-4.7l-2.2-.9z" color="#9f0"/><path d="M125.3 142.1l2.2 2l-.9-4.1l-2.1-1.4z" color="#af0"/><path class="m" d="M125.3 142.1l2.2 2l2.2 1.5l2.1-.2l2.2 .1l2.1 2.1l2.1 .6l2.1 2.2l2.1 1.3l2.1 1.1l2.1 2.3l2.1 .8l2 .9l2.1 2.5l2 2.7l2 2.4l2 4.2l1.9 3.3l2-.2l2 .1l2-.6l2 0l1.9 .5l2 .2l2-.7l1.9 .7l1.9 .5l2 0l1.9 .1l1.9 .2l2 .4l1.9 .4l1.9 .1l1.9 .3l1.8 .7l1.9 0l1.9 .2l1.9 .5l1.8 .2l2-1.1l1.9-.8l1.9-.8l1.9-1.2l1.9-.9l1.9-1.1l1.9-.8l1.9-.8l2-.9l1.9-1.2l1.8-.5l1.9-.3l1.9-1l1.9-.7l1.9-.9l1.9-1.1l2-2.8l2.1-2.9l1.9-1.5l2.1-3.7l2.1-3.2l1.9-.8l1.8-.2l2.1-2.5l1.9-1.9l1.8 .2l2.1-3.3l2.1-3l2-2l2.1-3.2l2.2-3.3l1.9-1.6l2.1-2.5l2-2.2"/><path d="M267.3 126.2l2-1.9l-1.4-3.3l-2 2.2z" color="#cf0"/><path d="M265.2 128.6l2.1-2.4l-1.4-3l-2.1 2.5z" color="#bf0"/><path d="M263.2 130.8l2-2.2l-1.4-2.9l-1.9 1.6z" color="#9f0"/><path d="M261.1 133.6l2.1-2.8l-1.3-3.5l-2.2 3.3z" color="#7f0"/><path d="M259 136.4l2.1-2.8l-1.4-3l-2.1 3.2z" color="#4f0"/><path d="M257 138.5l2-2.1l-1.4-2.6l-2 2z" color="#2f0"/><path d="M255 141l2-2.5l-1.4-2.7l-2.1 3z" color="#0f0"/><path d="M252.9 144.1l2.1-3.1l-1.5-2.2l-2.1 3.3z" color="#0f8"/><path d="M251 144.8l1.9-.7l-1.5-2l-1.8-.2z" color="#0fe"/><path d="M249 146.6l2-1.8l-1.4-2.9l-1.9 1.9z" color="#0ef"/><path d="M247 148.6l2-2l-1.3-2.8l-2.1 2.5z" color="#0cf"/><path d="M245.1 149.3l1.9-.7l-1.4-2.3l-1.8 .2z" color="#0af"/><path d="M243.2 150.6l1.9-1.3l-1.3-2.8l-1.9 .8z" color="#09f"/><path d="M241.1 153.2l2.1-2.6l-1.3-3.3l-2.1 3.2z" color="#07f"/><path d="M239.1 156.3l2-3.1l-1.3-2.7l-2.1 3.7z" color="#04f"/><path d="M237.1 157.8l2-1.5l-1.4-2.1l-1.9 1.5z" color="#01f"/><path d="M235.1 160.6l2-2.8l-1.3-2.1l-2.1 2.9z" color="#10f"/><path d="M233 163.1l2.1-2.5l-1.4-2l-2 2.8z" color="#30e"/><path d="M229.2 164.9l1.9-.8l1.9-1l-1.3-1.7l-1.9 1.1l-1.9 .9z" color="#60e"/><path d="M225.4 166.6l1.9-.9l1.9-.8l-1.3-1.5l-1.9 .7l-1.9 1z" color="#60d"/><path d="M221.7 167.7l1.9-.5l1.8-.6l-1.3-1.5l-1.9 .3l-1.8 .5z" color="#70c"/><path d="M217.8 169.6l1.9-.8l2-1.1l-1.3-1.8l-1.9 1.2l-2 .9z" color="#80c"/><path d="M214 171.4l1.9-.9l1.9-.9l-1.3-1.6l-1.9 .8l-1.9 .8z" color="#80b"/><path d="M212.1 172.5l1.9-1.1l-1.3-1.8l-1.9 1.1z" color="#80a"/><path d="M208.2 174.4l2-1.1l1.9-.8l-1.3-1.8l-1.9 .9l-1.9 1.2z" color="#809"/><path d="M206.3 175.3l1.9-.9l-1.2-1.6l-1.9 .8z" color="#709"/><path d="M202.4 177.3l2-1.1l1.9-.9l-1.2-1.7l-1.9 .8l-2 1.1z" color="#708"/><path d="M200.6 177.1l1.8 .2l-1.2-1.8l-1.8-.2z" color="#707"/><path d="M198.7 176.6l1.9 .5l-1.2-1.8l-1.9-.5z" color="#708"/><path d="M194.9 176.3l1.9 .1l1.9 .2l-1.2-1.8l-1.9-.2l-1.9 0z" color="#709"/><path d="M191.1 175.4l1.9 .3l1.9 .6l-1.2-1.7l-1.8-.7l-1.9-.3z" color="#809"/><path d="M187.3 175l1.9 .2l1.9 .2l-1.1-1.8l-1.9-.1l-1.9-.4z" color="#80a"/><path d="M183.4 174.3l2 .3l1.9 .4l-1.1-1.9l-2-.4l-1.9-.2z" color="#80b"/><path d="M179.6 174.2l1.9 0l1.9 .1l-1.1-1.8l-1.9-.1l-2 0z" color="#80c"/><path d="M175.7 173.2l1.9 .5l2 .5l-1.2-1.8l-1.9-.5l-1.9-.7z" color="#70c"/><path d="M169.7 173l2 .6l2 0l2-.4l-1.1-2l-2 .7l-2-.2l-1.9-.5z" color="#60d"/><path d="M161.7 173.3l2.1 0l1.9 .2l2-.5l2 0l-1-1.8l-2 0l-2 .6l-2-.1l-2 .2z" color="#60e"/><path d="M159.8 170.8l1.9 2.5l-1-1.4l-1.9-3.3z" color="#30e"/><path d="M157.8 167.7l2 3.1l-1-2.2l-2-4.2z" color="#00f"/><path d="M155.8 165.4l2 2.3l-1-3.3l-2-2.4z" color="#04f"/><path d="M153.7 162.9l2.1 2.5l-1-3.4l-2-2.7z" color="#06f"/><path d="M151.7 160.7l2 2.2l-.9-3.6l-2.1-2.5z" color="#0af"/><path d="M149.6 159.5l2.1 1.2l-1-3.9l-2-.9z" color="#0cf"/><path d="M147.6 158.4l2 1.1l-.9-3.6l-2.1-.8z" color="#0fe"/><path d="M145.5 156.3l2.1 2.1l-1-3.3l-2.1-2.3z" color="#0fb"/><path d="M143.4 155l2.1 1.3l-1-3.5l-2.1-1.1z" color="#0f3"/><path d="M141.3 153.3l2.1 1.7l-1-3.3l-2.1-1.3z" color="#0f0"/><path d="M139.1 151.5l2.2 1.8l-1-2.9l-2.1-2.2z" color="#2f0"/><path d="M137 150.7l2.1 .8l-.9-3.3l-2.1-.6z" color="#3f0"/><path d="M134.9 148.5l2.1 2.2l-.9-3.1l-2.1-2.1z" color="#5f0"/><path d="M132.7 147.9l2.2 .6l-.9-3l-2.2-.1z" color="#6f0"/><path d="M128.4 146.2l2.2 1.2l2.1 .5l-.9-2.5l-2.1 .2l-2.2-1.5z" color="#7f0"/><path d="M126.2 144.4l2.2 1.8l-.9-2.1l-2.2-2z" color="#9f0"/><path d="M268.7 129.2l2-1.6l-1.4-3.3l-2 1.9z" color="#bf0"/><path d="M266.7 131.6l2-2.4l-1.4-3l-2.1 2.4z" color="#9f0"/><path d="M264.6 134.3l2.1-2.7l-1.5-3l-2 2.2z" color="#7f0"/><path d="M262.5 136.7l2.1-2.4l-1.4-3.5l-2.1 2.8z" color="#5f0"/><path d="M260.5 139l2-2.3l-1.4-3.1l-2.1 2.8z" color="#3f0"/><path d="M258.4 141.2l2.1-2.2l-1.5-2.6l-2 2.1z" color="#1f0"/><path d="M256.4 143.2l2-2l-1.4-2.7l-2 2.5z" color="#0f3"/><path d="M254.3 146.1l2.1-2.9l-1.4-2.2l-2.1 3.1z" color="#0fb"/><path d="M252.4 147.6l1.9-1.5l-1.4-2l-1.9 .7z" color="#0ef"/><path d="M250.4 149.5l2-1.9l-1.4-2.8l-2 1.8z" color="#0cf"/><path d="M248.4 151l2-1.5l-1.4-2.9l-2 2z" color="#0af"/><path d="M246.5 152l1.9-1l-1.4-2.4l-1.9 .7z" color="#09f"/><path d="M244.5 153.9l2-1.9l-1.4-2.7l-1.9 1.3z" color="#07f"/><path d="M242.5 155.9l2-2l-1.3-3.3l-2.1 2.6z" color="#05f"/><path d="M240.4 158.5l2.1-2.6l-1.4-2.7l-2 3.1z" color="#02f"/><path d="M238.5 159.9l1.9-1.4l-1.3-2.2l-2 1.5z" color="#00f"/><path d="M236.4 162.5l2.1-2.6l-1.4-2.1l-2 2.8z" color="#10f"/><path d="M234.4 164.9l2-2.4l-1.3-1.9l-2.1 2.5z" color="#30e"/><path d="M230.6 166.4l1.9-.8l1.9-.7l-1.4-1.8l-1.9 1l-1.9 .8z" color="#60e"/><path d="M226.8 168.2l1.9-.8l1.9-1l-1.4-1.5l-1.9 .8l-1.9 .9z" color="#60d"/><path d="M223 169.5l1.9-.6l1.9-.7l-1.4-1.6l-1.8 .6l-1.9 .5z" color="#70c"/><path d="M219.1 171.3l2-.7l1.9-1.1l-1.3-1.8l-2 1.1l-1.9 .8z" color="#80c"/><path d="M215.3 173.1l1.9-1l1.9-.8l-1.3-1.7l-1.9 .9l-1.9 .9z" color="#80b"/><path d="M213.4 174.3l1.9-1.2l-1.3-1.7l-1.9 1.1z" color="#80a"/><path d="M209.5 176.1l1.9-1.1l2-.7l-1.3-1.8l-1.9 .8l-2 1.1z" color="#809"/><path d="M207.6 177l1.9-.9l-1.3-1.7l-1.9 .9z" color="#709"/><path d="M203.7 179.2l1.9-1.1l2-1.1l-1.3-1.7l-1.9 .9l-2 1.1z" color="#708"/><path d="M201.8 178.9l1.9 .3l-1.3-1.9l-1.8-.2z" color="#707"/><path d="M199.9 178.4l1.9 .5l-1.2-1.8l-1.9-.5z" color="#708"/><path d="M196.1 178l1.9 .2l1.9 .2l-1.2-1.8l-1.9-.2l-1.9-.1z" color="#709"/><path d="M192.3 177.2l1.9 .3l1.9 .5l-1.2-1.7l-1.9-.6l-1.9-.3z" color="#809"/><path d="M188.4 176.8l2 .2l1.9 .2l-1.2-1.8l-1.9-.2l-1.9-.2z" color="#80a"/><path d="M184.6 176.2l1.9 .2l1.9 .4l-1.1-1.8l-1.9-.4l-2-.3z" color="#80b"/><path d="M180.7 176.1l1.9-.1l2 .2l-1.2-1.9l-1.9-.1l-1.9 0z" color="#80c"/><path d="M176.8 175.1l1.9 .4l2 .6l-1.1-1.9l-2-.5l-1.9-.5z" color="#70c"/><path d="M170.8 174.9l2 .6l2-.1l2-.3l-1.1-1.9l-2 .4l-2 0l-2-.6z" color="#60d"/><path d="M162.8 174.8l2 .2l2 .2l2-.4l2 .1l-1.1-1.9l-2 0l-2 .5l-1.9-.2l-2.1 0z" color="#60e"/><path d="M160.8 173.1l2 1.7l-1.1-1.5l-1.9-2.5z" color="#30e"/><path d="M158.8 171l2 2.1l-1-2.3l-2-3.1z" color="#10f"/><path d="M156.8 168.8l2 2.2l-1-3.3l-2-2.3z" color="#01f"/><path d="M154.7 166.5l2.1 2.3l-1-3.4l-2.1-2.5z" color="#05f"/><path d="M152.7 164.7l2 1.8l-1-3.6l-2-2.2z" color="#07f"/><path d="M150.6 163.1l2.1 1.6l-1-4l-2.1-1.2z" color="#0af"/><path d="M148.5 161.6l2.1 1.5l-1-3.6l-2-1.1z" color="#0cf"/><path d="M146.4 159.9l2.1 1.7l-.9-3.2l-2.1-2.1z" color="#0fe"/><path d="M144.3 158.3l2.1 1.6l-.9-3.6l-2.1-1.3z" color="#0fb"/><path d="M142.2 156.2l2.1 2.1l-.9-3.3l-2.1-1.7z" color="#0f3"/><path d="M140.1 154.7l2.1 1.5l-.9-2.9l-2.2-1.8z" color="#1f0"/><path d="M138 153.8l2.1 .9l-1-3.2l-2.1-.8z" color="#2f0"/><path d="M135.8 151.6l2.2 2.2l-1-3.1l-2.1-2.2z" color="#4f0"/><path d="M133.6 150.4l2.2 1.2l-.9-3.1l-2.2-.6z" color="#5f0"/><path d="M131.5 149.2l2.1 1.2l-.9-2.5l-2.1-.5z" color="#6f0"/><path d="M129.3 148.3l2.2 .9l-.9-1.8l-2.2-1.2z" color="#7f0"/><path d="M127.1 146.6l2.2 1.7l-.9-2.1l-2.2-1.8z" color="#9f0"/><path d="M270.2 132.3l1.9-1.4l-1.4-3.3l-2 1.6z" color="#9f0"/><path d="M268.1 134.5l2.1-2.2l-1.5-3.1l-2 2.4z" color="#8f0"/><path d="M266 137.8l2.1-3.3l-1.4-2.9l-2.1 2.7z" color="#6f0"/><path d="M263.9 139.8l2.1-2l-1.4-3.5l-2.1 2.4z" color="#4f0"/><path d="M261.9 141.6l2-1.8l-1.4-3.1l-2 2.3z" color="#2f0"/><path d="M259.9 143.9l2-2.3l-1.4-2.6l-2.1 2.2z" color="#0f0"/><path d="M257.9 145.5l2-1.6l-1.5-2.7l-2 2z" color="#0f8"/><path d="M255.8 148.1l2.1-2.6l-1.5-2.3l-2.1 2.9z" color="#0fb"/><path d="M253.7 150.6l2.1-2.5l-1.5-2l-1.9 1.5z" color="#0ef"/><path d="M251.7 152.4l2-1.8l-1.3-3l-2 1.9z" color="#0af"/><path d="M249.8 153.4l1.9-1l-1.3-2.9l-2 1.5z" color="#09f"/><path d="M247.8 154.8l2-1.4l-1.4-2.4l-1.9 1z" color="#07f"/><path d="M245.8 157.3l2-2.5l-1.3-2.8l-2 1.9z" color="#06f"/><path d="M243.8 158.7l2-1.4l-1.3-3.4l-2 2z" color="#04f"/><path d="M241.8 160.7l2-2l-1.3-2.8l-2.1 2.6z" color="#02f"/><path d="M239.9 162.1l1.9-1.4l-1.4-2.2l-1.9 1.4z" color="#00f"/><path d="M237.8 164.4l2.1-2.3l-1.4-2.2l-2.1 2.6z" color="#20f"/><path d="M235.8 166.6l2-2.2l-1.4-1.9l-2 2.4z" color="#30e"/><path d="M232 168l1.9-.8l1.9-.6l-1.4-1.7l-1.9 .7l-1.9 .8z" color="#60e"/><path d="M228.2 169.9l1.9-.9l1.9-1l-1.4-1.6l-1.9 1l-1.9 .8z" color="#60d"/><path d="M224.3 171.4l1.9-.7l2-.8l-1.4-1.7l-1.9 .7l-1.9 .6z" color="#70c"/><path d="M220.5 173l1.9-.6l1.9-1l-1.3-1.9l-1.9 1.1l-2 .7z" color="#80c"/><path d="M216.6 174.9l1.9-1.1l2-.8l-1.4-1.7l-1.9 .8l-1.9 1z" color="#80b"/><path d="M214.6 176.1l2-1.2l-1.3-1.8l-1.9 1.2z" color="#80a"/><path d="M210.8 177.7l1.9-1l1.9-.6l-1.2-1.8l-2 .7l-1.9 1.1z" color="#809"/><path d="M208.8 178.8l2-1.1l-1.3-1.6l-1.9 .9z" color="#709"/><path d="M204.9 181l2-1.1l1.9-1.1l-1.2-1.8l-2 1.1l-1.9 1.1z" color="#708"/><path d="M203 180.8l1.9 .2l-1.2-1.8l-1.9-.3z" color="#707"/><path d="M201.1 180.3l1.9 .5l-1.2-1.9l-1.9-.5z" color="#708"/><path d="M197.3 179.8l1.9 .2l1.9 .3l-1.2-1.9l-1.9-.2l-1.9-.2z" color="#709"/><path d="M193.5 179l1.9 .4l1.9 .4l-1.2-1.8l-1.9-.5l-1.9-.3z" color="#809"/><path d="M189.6 178.7l1.9 .1l2 .2l-1.2-1.8l-1.9-.2l-2-.2z" color="#80a"/><path d="M185.7 178l2 .3l1.9 .4l-1.2-1.9l-1.9-.4l-1.9-.2z" color="#80b"/><path d="M181.8 177.9l2-.1l1.9 .2l-1.1-1.8l-2-.2l-1.9 .1z" color="#80c"/><path d="M177.9 177.1l1.9 .3l2 .5l-1.1-1.8l-2-.6l-1.9-.4z" color="#70c"/><path d="M171.9 176.8l2 .6l2-.3l2 0l-1.1-2l-2 .3l-2 .1l-2-.6z" color="#60d"/><path d="M165.8 176.6l2.1 .3l2-.2l2 .1l-1.1-1.9l-2-.1l-2 .4l-2-.2z" color="#60e"/><path d="M163.8 176.2l2 .4l-1-1.6l-2-.2z" color="#50e"/><path d="M161.8 175.3l2 .9l-1-1.4l-2-1.7z" color="#30e"/><path d="M159.8 174.3l2 1l-1-2.2l-2-2.1z" color="#20f"/><path d="M157.7 172.3l2.1 2l-1-3.3l-2-2.2z" color="#00f"/><path d="M155.7 170.2l2 2.1l-.9-3.5l-2.1-2.3z" color="#02f"/><path d="M153.6 168.7l2.1 1.5l-1-3.7l-2-1.8z" color="#05f"/><path d="M151.6 166.8l2 1.9l-.9-4l-2.1-1.6z" color="#07f"/><path d="M149.5 164.9l2.1 1.9l-1-3.7l-2.1-1.5z" color="#0af"/><path d="M147.4 163.4l2.1 1.5l-1-3.3l-2.1-1.7z" color="#0cf"/><path d="M145.3 161.6l2.1 1.8l-1-3.5l-2.1-1.6z" color="#0fe"/><path d="M143.2 159.2l2.1 2.4l-1-3.3l-2.1-2.1z" color="#0f8"/><path d="M141 158l2.2 1.2l-1-3l-2.1-1.5z" color="#0f0"/><path d="M138.9 157l2.1 1l-.9-3.3l-2.1-.9z" color="#1f0"/><path d="M136.7 154.7l2.2 2.3l-.9-3.2l-2.2-2.2z" color="#3f0"/><path d="M134.5 152.9l2.2 1.8l-.9-3.1l-2.2-1.2z" color="#4f0"/><path d="M132.4 151.1l2.1 1.8l-.9-2.5l-2.1-1.2z" color="#6f0"/><path d="M130.2 150.5l2.2 .6l-.9-1.9l-2.2-.9z" color="#7f0"/><path d="M128 148.9l2.2 1.6l-.9-2.2l-2.2-1.7z" color="#8f0"/><path d="M271.6 135.3l2-1l-1.5-3.4l-1.9 1.4z" color="#8f0"/><path d="M269.6 137.5l2-2.2l-1.4-3l-2.1 2.2z" color="#7f0"/><path d="M267.3 141.3l2.3-3.8l-1.5-3l-2.1 3.3z" color="#4f0"/><path d="M265.3 142.9l2-1.6l-1.3-3.5l-2.1 2z" color="#2f0"/><path d="M263.4 144.3l1.9-1.4l-1.4-3.1l-2 1.8z" color="#1f0"/><path d="M261.3 146.7l2.1-2.4l-1.5-2.7l-2 2.3z" color="#0f3"/><path d="M259.4 147.7l1.9-1l-1.4-2.8l-2 1.6z" color="#0f8"/><path d="M257.3 150.2l2.1-2.5l-1.5-2.2l-2.1 2.6z" color="#0fe"/><path d="M255.1 153.5l2.2-3.3l-1.5-2.1l-2.1 2.5z" color="#0cf"/><path d="M253.1 155.3l2-1.8l-1.4-2.9l-2 1.8z" color="#09f"/><path d="M251.2 155.8l1.9-.5l-1.4-2.9l-1.9 1z" color="#07f"/><path d="M249.2 157.7l2-1.9l-1.4-2.4l-2 1.4z" color="#06f"/><path d="M247.1 160.7l2.1-3l-1.4-2.9l-2 2.5z" color="#04f"/><path d="M245.2 161.5l1.9-.8l-1.3-3.4l-2 1.4z" color="#02f"/><path d="M243.2 163l2-1.5l-1.4-2.8l-2 2z" color="#01f"/><path d="M241.3 164.2l1.9-1.2l-1.4-2.3l-1.9 1.4z" color="#00f"/><path d="M239.2 166.4l2.1-2.2l-1.4-2.1l-2.1 2.3z" color="#20f"/><path d="M237.2 168.4l2-2l-1.4-2l-2 2.2z" color="#50e"/><path d="M233.4 169.6l1.9-.8l1.9-.4l-1.4-1.8l-1.9 .6l-1.9 .8z" color="#60e"/><path d="M229.5 171.5l2-.8l1.9-1.1l-1.4-1.6l-1.9 1l-1.9 .9z" color="#60d"/><path d="M225.7 173.2l1.9-.7l1.9-1l-1.3-1.6l-2 .8l-1.9 .7z" color="#70c"/><path d="M221.8 174.8l1.9-.6l2-1l-1.4-1.8l-1.9 1l-1.9 .6z" color="#80c"/><path d="M217.9 176.8l2-1.3l1.9-.7l-1.3-1.8l-2 .8l-1.9 1.1z" color="#80b"/><path d="M215.9 177.9l2-1.1l-1.3-1.9l-2 1.2z" color="#80a"/><path d="M212.1 179.4l1.9-1l1.9-.5l-1.3-1.8l-1.9 .6l-1.9 1z" color="#809"/><path d="M210.1 180.6l2-1.2l-1.3-1.7l-2 1.1z" color="#709"/><path d="M206.1 182.9l2-1.1l2-1.2l-1.3-1.8l-1.9 1.1l-2 1.1z" color="#708"/><path d="M204.2 182.6l1.9 .3l-1.2-1.9l-1.9-.2z" color="#707"/><path d="M202.4 182.1l1.8 .5l-1.2-1.8l-1.9-.5z" color="#708"/><path d="M198.5 181.5l1.9 .4l2 .2l-1.3-1.8l-1.9-.3l-1.9-.2z" color="#709"/><path d="M194.7 180.9l1.9 .4l1.9 .2l-1.2-1.7l-1.9-.4l-1.9-.4z" color="#809"/><path d="M190.8 180.6l1.9 .1l2 .2l-1.2-1.9l-2-.2l-1.9-.1z" color="#80a"/><path d="M186.9 179.9l1.9 .3l2 .4l-1.2-1.9l-1.9-.4l-2-.3z" color="#80b"/><path d="M182.9 179.7l2-.1l2 .3l-1.2-1.9l-1.9-.2l-2 .1z" color="#80c"/><path d="M179 179l2 .2l1.9 .5l-1.1-1.8l-2-.5l-1.9-.3z" color="#70c"/><path d="M173 178.7l2 .6l2-.4l2 .1l-1.1-1.9l-2 0l-2 .3l-2-.6z" color="#60d"/><path d="M166.9 178.3l2 .4l2.1-.1l2 .1l-1.1-1.9l-2-.1l-2 .2l-2.1-.3z" color="#60e"/><path d="M164.9 177.7l2 .6l-1.1-1.7l-2-.4z" color="#50e"/><path d="M160.8 177.6l2 .1l2.1 0l-1.1-1.5l-2-.9l-2-1z" color="#30e"/><path d="M158.8 175.8l2 1.8l-1-3.3l-2.1-2z" color="#10f"/><path d="M156.7 173.9l2.1 1.9l-1.1-3.5l-2-2.1z" color="#01f"/><path d="M154.6 172.7l2.1 1.2l-1-3.7l-2.1-1.5z" color="#02f"/><path d="M152.6 170.4l2 2.3l-1-4l-2-1.9z" color="#05f"/><path d="M150.5 168.2l2.1 2.2l-1-3.6l-2.1-1.9z" color="#07f"/><path d="M148.4 167l2.1 1.2l-1-3.3l-2.1-1.5z" color="#0af"/><path d="M146.3 165l2.1 2l-1-3.6l-2.1-1.8z" color="#0ef"/><path d="M144.1 162.2l2.2 2.8l-1-3.4l-2.1-2.4z" color="#0fb"/><path d="M142 161.4l2.1 .8l-.9-3l-2.2-1.2z" color="#0f3"/><path d="M139.8 160.2l2.2 1.2l-1-3.4l-2.1-1z" color="#0f0"/><path d="M137.7 157.9l2.1 2.3l-.9-3.2l-2.2-2.3z" color="#1f0"/><path d="M135.5 155.5l2.2 2.4l-1-3.2l-2.2-1.8z" color="#4f0"/><path d="M133.3 152.9l2.2 2.6l-1-2.6l-2.1-1.8z" color="#6f0"/><path d="M131.1 152.6l2.2 .3l-.9-1.8l-2.2-.6z" color="#7f0"/><path d="M128.9 151.2l2.2 1.4l-.9-2.1l-2.2-1.6z" color="#8f0"/><path class="m" d="M128.9 151.2l2.2 1.4l2.2 .3l2.2 2.6l2.2 2.4l2.1 2.3l2.2 1.2l2.1 .8l2.2 2.8l2.1 2l2.1 1.2l2.1 2.2l2 2.3l2.1 1.2l2.1 1.9l2 1.8l2 .1l2.1 0l2 .6l2 .4l2.1-.1l2 .1l2 .6l2-.4l2 .1l2 .2l1.9 .5l2-.1l2 .3l1.9 .3l2 .4l1.9 .1l2 .2l1.9 .4l1.9 .2l1.9 .4l2 .2l1.8 .5l1.9 .3l2-1.1l2-1.2l2-1.2l1.9-1l1.9-.5l2-1.1l2-1.3l1.9-.7l1.9-.6l2-1l1.9-.7l1.9-1l2-.8l1.9-1.1l1.9-.8l1.9-.4l2-2l2.1-2.2l1.9-1.2l2-1.5l1.9-.8l2.1-3l2-1.9l1.9-.5l2-1.8l2.2-3.3l2.1-2.5l1.9-1l2.1-2.4l1.9-1.4l2-1.6l2.3-3.8l2-2.2l2-1"/><path d="M273.2 137.9l1.9-1.4l-1.5-2.2l-2 1z" color="#7f0"/><path d="M271.1 140.3l2.1-2.4l-1.6-2.6l-2 2.2z" color="#5f0"/><path d="M268.9 143.6l2.2-3.3l-1.5-2.8l-2.3 3.8z" color="#3f0"/><path d="M266.9 145.3l2-1.7l-1.6-2.3l-2 1.6z" color="#1f0"/><path d="M264.9 146.7l2-1.4l-1.6-2.4l-1.9 1.4z" color="#0f0"/><path d="M262.8 148.7l2.1-2l-1.5-2.4l-2.1 2.4z" color="#0f8"/><path d="M260.8 150.1l2-1.4l-1.5-2l-1.9 1z" color="#0fb"/><path d="M258.8 152.4l2-2.3l-1.4-2.4l-2.1 2.5z" color="#0fe"/><path d="M256.7 155.2l2.1-2.8l-1.5-2.2l-2.2 3.3z" color="#0af"/><path d="M252.7 157.6l1.9-.6l2.1-1.8l-1.6-1.7l-2 1.8l-1.9 .5z" color="#07f"/><path d="M250.7 159.4l2-1.8l-1.5-1.8l-2 1.9z" color="#06f"/><path d="M248.6 162.1l2.1-2.7l-1.5-1.7l-2.1 3z" color="#04f"/><path d="M246.7 163.3l1.9-1.2l-1.5-1.4l-1.9 .8z" color="#01f"/><path d="M244.7 164.9l2-1.6l-1.5-1.8l-2 1.5z" color="#00f"/><path d="M242.7 166.1l2-1.2l-1.5-1.9l-1.9 1.2z" color="#10f"/><path d="M240.7 168l2-1.9l-1.4-1.9l-2.1 2.2z" color="#20f"/><path d="M236.8 170.5l1.9-.4l2-2.1l-1.5-1.6l-2 2l-1.9 .4z" color="#50e"/><path d="M232.9 172.4l1.9-1.1l2-.8l-1.5-1.7l-1.9 .8l-1.9 1.1z" color="#60e"/><path d="M230.9 173.3l2-.9l-1.4-1.7l-2 .8z" color="#60d"/><path d="M227 175.1l2-.9l1.9-.9l-1.4-1.8l-1.9 1l-1.9 .7z" color="#70c"/><path d="M223.2 176.6l1.9-.7l1.9-.8l-1.3-1.9l-2 1l-1.9 .6z" color="#80c"/><path d="M219.2 178.5l2-1.1l2-.8l-1.4-1.8l-1.9 .7l-2 1.3z" color="#80b"/><path d="M217.3 179.7l1.9-1.2l-1.3-1.7l-2 1.1z" color="#80a"/><path d="M213.3 181.3l2-1l2-.6l-1.4-1.8l-1.9 .5l-1.9 1z" color="#809"/><path d="M211.4 182.6l1.9-1.3l-1.2-1.9l-2 1.2z" color="#709"/><path d="M207.4 184.7l2-1l2-1.1l-1.3-2l-2 1.2l-2 1.1z" color="#708"/><path d="M205.5 184.5l1.9 .2l-1.3-1.8l-1.9-.3z" color="#707"/><path d="M203.6 184l1.9 .5l-1.3-1.9l-1.8-.5z" color="#708"/><path d="M199.8 183.4l1.9 .4l1.9 .2l-1.2-1.9l-2-.2l-1.9-.4z" color="#709"/><path d="M195.9 182.8l1.9 .3l2 .3l-1.3-1.9l-1.9-.2l-1.9-.4z" color="#809"/><path d="M192 182.4l1.9 .1l2 .3l-1.2-1.9l-2-.2l-1.9-.1z" color="#80a"/><path d="M188.1 181.9l1.9 .2l2 .3l-1.2-1.8l-2-.4l-1.9-.3z" color="#80b"/><path d="M184.1 181.6l2-.1l2 .4l-1.2-2l-2-.3l-2 .1z" color="#80c"/><path d="M180.1 181.1l2 .1l2 .4l-1.2-1.9l-1.9-.5l-2-.2z" color="#70c"/><path d="M174.1 180.6l2 .6l2-.3l2 .2l-1.1-2.1l-2-.1l-2 .4l-2-.6z" color="#60d"/><path d="M168 180.2l2 .2l2.1 .1l2 .1l-1.1-1.9l-2-.1l-2.1 .1l-2-.4z" color="#60e"/><path d="M165.9 179.8l2.1 .4l-1.1-1.9l-2-.6z" color="#50e"/><path d="M161.8 179.6l2.1-.1l2 .3l-1-2.1l-2.1 0l-2-.1z" color="#30e"/><path d="M159.8 177.9l2 1.7l-1-2l-2-1.8z" color="#20f"/><path d="M157.7 175.9l2.1 2l-1-2.1l-2.1-1.9z" color="#00f"/><path d="M155.7 174.7l2 1.2l-1-2l-2.1-1.2z" color="#02f"/><path d="M153.6 172.8l2.1 1.9l-1.1-2l-2-2.3z" color="#04f"/><path d="M151.5 170.9l2.1 1.9l-1-2.4l-2.1-2.2z" color="#06f"/><path d="M149.4 169.1l2.1 1.8l-1-2.7l-2.1-1.2z" color="#09f"/><path d="M147.2 167.3l2.2 1.8l-1-2.1l-2.1-2z" color="#0cf"/><path d="M145.1 164.9l2.1 2.4l-.9-2.3l-2.2-2.8z" color="#0fe"/><path d="M142.9 164.1l2.2 .8l-1-2.7l-2.1-.8z" color="#0f8"/><path d="M140.8 163l2.1 1.1l-.9-2.7l-2.2-1.2z" color="#0f3"/><path d="M138.6 160.8l2.2 2.2l-1-2.8l-2.1-2.3z" color="#1f0"/><path d="M136.4 158.8l2.2 2l-.9-2.9l-2.2-2.4z" color="#3f0"/><path d="M134.2 156.4l2.2 2.4l-.9-3.3l-2.2-2.6z" color="#5f0"/><path d="M132 155.9l2.2 .5l-.9-3.5l-2.2-.3z" color="#6f0"/><path d="M129.8 154.4l2.2 1.5l-.9-3.3l-2.2-1.4z" color="#7f0"/><path d="M274.7 140.5l2-1.7l-1.6-2.3l-1.9 1.4z" color="#6f0"/><path d="M272.6 143l2.1-2.5l-1.5-2.6l-2.1 2.4z" color="#5f0"/><path d="M270.4 145.9l2.2-2.9l-1.5-2.7l-2.2 3.3z" color="#2f0"/><path d="M268.4 147.6l2-1.7l-1.5-2.3l-2 1.7z" color="#0f0"/><path d="M266.4 149.2l2-1.6l-1.5-2.3l-2 1.4z" color="#0f3"/><path d="M264.4 150.8l2-1.6l-1.5-2.5l-2.1 2z" color="#0f8"/><path d="M262.3 152.5l2.1-1.7l-1.6-2.1l-2 1.4z" color="#0fb"/><path d="M260.3 154.7l2-2.2l-1.5-2.4l-2 2.3z" color="#0ef"/><path d="M258.2 157l2.1-2.3l-1.5-2.3l-2.1 2.8z" color="#0af"/><path d="M254.3 159.4l1.9-.8l2-1.6l-1.5-1.8l-2.1 1.8l-1.9 .6z" color="#07f"/><path d="M252.2 161.2l2.1-1.8l-1.6-1.8l-2 1.8z" color="#06f"/><path d="M250.2 163.5l2-2.3l-1.5-1.8l-2.1 2.7z" color="#04f"/><path d="M248.2 165.1l2-1.6l-1.6-1.4l-1.9 1.2z" color="#01f"/><path d="M246.1 166.8l2.1-1.7l-1.5-1.8l-2 1.6z" color="#00f"/><path d="M244.2 168l1.9-1.2l-1.4-1.9l-2 1.2z" color="#10f"/><path d="M242.2 169.6l2-1.6l-1.5-1.9l-2 1.9z" color="#20f"/><path d="M240.1 171.7l2.1-2.1l-1.5-1.6l-2 2.1z" color="#30e"/><path d="M238.2 172.2l1.9-.5l-1.4-1.6l-1.9 .4z" color="#50e"/><path d="M234.3 174.2l2-1.2l1.9-.8l-1.4-1.7l-2 .8l-1.9 1.1z" color="#60e"/><path d="M232.3 175.1l2-.9l-1.4-1.8l-2 .9z" color="#60d"/><path d="M228.4 177.1l2-1.2l1.9-.8l-1.4-1.8l-1.9 .9l-2 .9z" color="#70c"/><path d="M224.5 178.4l2-.7l1.9-.6l-1.4-2l-1.9 .8l-1.9 .7z" color="#80c"/><path d="M220.6 180.3l2-1l1.9-.9l-1.3-1.8l-2 .8l-2 1.1z" color="#80b"/><path d="M218.6 181.4l2-1.1l-1.4-1.8l-1.9 1.2z" color="#80a"/><path d="M214.7 183.3l1.9-1l2-.9l-1.3-1.7l-2 .6l-2 1z" color="#809"/><path d="M212.7 184.6l2-1.3l-1.4-2l-1.9 1.3z" color="#709"/><path d="M204.9 185.9l1.9 .4l1.9 .2l2-.8l2-1.1l-1.3-2l-2 1.1l-2 1l-1.9-.2l-1.9-.5z" color="#708"/><path d="M201 185.3l1.9 .4l2 .2l-1.3-1.9l-1.9-.2l-1.9-.4z" color="#709"/><path d="M197.1 184.8l2 .2l1.9 .3l-1.2-1.9l-2-.3l-1.9-.3z" color="#809"/><path d="M193.2 184.2l2 .1l1.9 .5l-1.2-2l-2-.3l-1.9-.1z" color="#80a"/><path d="M189.2 183.8l2 .2l2 .2l-1.2-1.8l-2-.3l-1.9-.2z" color="#80b"/><path d="M185.3 183.5l2-.1l1.9 .4l-1.1-1.9l-2-.4l-2 .1z" color="#80c"/><path d="M179.2 183l2.1 .1l2 0l2 .4l-1.2-1.9l-2-.4l-2-.1l-2-.2z" color="#70c"/><path d="M175.2 182.5l2 .5l2 0l-1.1-2.1l-2 .3l-2-.6z" color="#60d"/><path d="M169.1 182.2l2 0l2.1 .2l2 .1l-1.1-1.9l-2-.1l-2.1-.1l-2-.2z" color="#60e"/><path d="M167 181.9l2.1 .3l-1.1-2l-2.1-.4z" color="#50e"/><path d="M162.9 181.6l2.1-.2l2 .5l-1.1-2.1l-2-.3l-2.1 .1z" color="#30e"/><path d="M160.8 180.1l2.1 1.5l-1.1-2l-2-1.7z" color="#20f"/><path d="M158.8 178l2 2.1l-1-2.2l-2.1-2z" color="#00f"/><path d="M156.7 176.6l2.1 1.4l-1.1-2.1l-2-1.2z" color="#01f"/><path d="M154.6 175.2l2.1 1.4l-1-1.9l-2.1-1.9z" color="#04f"/><path d="M152.5 173.6l2.1 1.6l-1-2.4l-2.1-1.9z" color="#06f"/><path d="M150.4 171.3l2.1 2.3l-1-2.7l-2.1-1.8z" color="#09f"/><path d="M148.2 169.6l2.2 1.7l-1-2.2l-2.2-1.8z" color="#0cf"/><path d="M146.1 167.6l2.1 2l-1-2.3l-2.1-2.4z" color="#0fe"/><path d="M143.9 166.9l2.2 .7l-1-2.7l-2.2-.8z" color="#0fb"/><path d="M141.7 165.8l2.2 1.1l-1-2.8l-2.1-1.1z" color="#0f8"/><path d="M139.6 163.7l2.1 2.1l-.9-2.8l-2.2-2.2z" color="#0f0"/><path d="M137.4 162.2l2.2 1.5l-1-2.9l-2.2-2z" color="#2f0"/><path d="M135.1 159.9l2.3 2.3l-1-3.4l-2.2-2.4z" color="#4f0"/><path d="M132.9 159.2l2.2 .7l-.9-3.5l-2.2-.5z" color="#5f0"/><path d="M130.7 157.7l2.2 1.5l-.9-3.3l-2.2-1.5z" color="#6f0"/><path d="M276.2 143.2l2.1-2.1l-1.6-2.3l-2 1.7z" color="#5f0"/><path d="M274.1 145.8l2.1-2.6l-1.5-2.7l-2.1 2.5z" color="#4f0"/><path d="M272 148.2l2.1-2.4l-1.5-2.8l-2.2 2.9z" color="#1f0"/><path d="M269.9 150l2.1-1.8l-1.6-2.3l-2 1.7z" color="#0f0"/><path d="M267.9 151.7l2-1.7l-1.5-2.4l-2 1.6z" color="#0f8"/><path d="M265.9 152.9l2-1.2l-1.5-2.5l-2 1.6z" color="#0fb"/><path d="M263.9 155l2-2.1l-1.5-2.1l-2.1 1.7z" color="#0fe"/><path d="M261.8 157l2.1-2l-1.6-2.5l-2 2.2z" color="#0cf"/><path d="M259.8 158.7l2-1.7l-1.5-2.3l-2.1 2.3z" color="#0af"/><path d="M255.8 161.2l2-.9l2-1.6l-1.6-1.7l-2 1.6l-1.9 .8z" color="#07f"/><path d="M253.8 162.9l2-1.7l-1.5-1.8l-2.1 1.8z" color="#06f"/><path d="M251.7 164.9l2.1-2l-1.6-1.7l-2 2.3z" color="#04f"/><path d="M249.7 166.9l2-2l-1.5-1.4l-2 1.6z" color="#02f"/><path d="M247.6 168.8l2.1-1.9l-1.5-1.8l-2.1 1.7z" color="#00f"/><path d="M245.6 169.9l2-1.1l-1.5-2l-1.9 1.2z" color="#10f"/><path d="M243.7 171.3l1.9-1.4l-1.4-1.9l-2 1.6z" color="#20f"/><path d="M241.6 173.4l2.1-2.1l-1.5-1.7l-2.1 2.1z" color="#30e"/><path d="M239.7 174l1.9-.6l-1.5-1.7l-1.9 .5z" color="#50e"/><path d="M235.7 176l2-1.3l2-.7l-1.5-1.8l-1.9 .8l-2 1.2z" color="#60e"/><path d="M233.8 177l1.9-1l-1.4-1.8l-2 .9z" color="#60d"/><path d="M229.8 179l2-1.4l2-.6l-1.5-1.9l-1.9 .8l-2 1.2z" color="#70c"/><path d="M225.9 180.3l2-.7l1.9-.6l-1.4-1.9l-1.9 .6l-2 .7z" color="#80c"/><path d="M221.9 182.2l2-.9l2-1l-1.4-1.9l-1.9 .9l-2 1z" color="#80b"/><path d="M220 183.2l1.9-1l-1.3-1.9l-2 1.1z" color="#80a"/><path d="M216 185.2l2-1l2-1l-1.4-1.8l-2 .9l-1.9 1z" color="#809"/><path d="M214 186.6l2-1.4l-1.3-1.9l-2 1.3z" color="#709"/><path d="M206.1 187.9l2 .3l1.9 .2l2-.8l2-1l-1.3-2l-2 1.1l-2 .8l-1.9-.2l-1.9-.4z" color="#708"/><path d="M202.3 187.3l1.9 .3l1.9 .3l-1.2-2l-2-.2l-1.9-.4z" color="#709"/><path d="M198.3 186.7l2 .2l2 .4l-1.3-2l-1.9-.3l-2-.2z" color="#809"/><path d="M196.4 186.1l1.9 .6l-1.2-1.9l-1.9-.5z" color="#80a"/><path d="M190.4 185.7l2 .3l2 0l2 .1l-1.2-1.8l-2-.1l-2-.2l-2-.2z" color="#80b"/><path d="M186.4 185.4l2.1-.1l1.9 .4l-1.2-1.9l-1.9-.4l-2 .1z" color="#80c"/><path d="M180.4 185l2 .1l2 0l2 .3l-1.1-1.9l-2-.4l-2 0l-2.1-.1z" color="#70c"/><path d="M176.3 184.4l2.1 .5l2 .1l-1.2-2l-2 0l-2-.5z" color="#60d"/><path d="M172.2 184l2.1 .4l2 0l-1.1-1.9l-2-.1l-2.1-.2z" color="#60e"/><path d="M168.1 184l2.1 .2l2-.2l-1.1-1.8l-2 0l-2.1-.3z" color="#50e"/><path d="M164 183.6l2-.3l2.1 .7l-1.1-2.1l-2-.5l-2.1 .2z" color="#30e"/><path d="M161.9 182.2l2.1 1.4l-1.1-2l-2.1-1.5z" color="#20f"/><path d="M159.8 180l2.1 2.2l-1.1-2.1l-2-2.1z" color="#00f"/><path d="M157.7 178.6l2.1 1.4l-1-2l-2.1-1.4z" color="#01f"/><path d="M155.6 177.6l2.1 1l-1-2l-2.1-1.4z" color="#04f"/><path d="M153.5 176.3l2.1 1.3l-1-2.4l-2.1-1.6z" color="#05f"/><path d="M151.4 173.5l2.1 2.8l-1-2.7l-2.1-2.3z" color="#07f"/><path d="M149.2 172l2.2 1.5l-1-2.2l-2.2-1.7z" color="#0af"/><path d="M147.1 170.4l2.1 1.6l-1-2.4l-2.1-2z" color="#0ef"/><path d="M144.9 169.8l2.2 .6l-1-2.8l-2.2-.7z" color="#0fe"/><path d="M142.7 168.7l2.2 1.1l-1-2.9l-2.2-1.1z" color="#0fb"/><path d="M140.5 166.6l2.2 2.1l-1-2.9l-2.1-2.1z" color="#0f3"/><path d="M138.3 165.6l2.2 1l-.9-2.9l-2.2-1.5z" color="#1f0"/><path d="M136.1 163.5l2.2 2.1l-.9-3.4l-2.3-2.3z" color="#2f0"/><path d="M133.9 162.6l2.2 .9l-1-3.6l-2.2-.7z" color="#4f0"/><path d="M131.6 161l2.3 1.6l-1-3.4l-2.2-1.5z" color="#5f0"/><path d="M277.8 145.9l2.1-2.5l-1.6-2.3l-2.1 2.1z" color="#5f0"/><path d="M275.6 148.6l2.2-2.7l-1.6-2.7l-2.1 2.6z" color="#3f0"/><path d="M273.6 150.6l2-2l-1.5-2.8l-2.1 2.4z" color="#1f0"/><path d="M271.5 152.5l2.1-1.9l-1.6-2.4l-2.1 1.8z" color="#0f3"/><path d="M269.5 154.2l2-1.7l-1.6-2.5l-2 1.7z" color="#0f8"/><path d="M267.5 155l2-.8l-1.6-2.5l-2 1.2z" color="#0fb"/><path d="M265.4 157.4l2.1-2.4l-1.6-2.1l-2 2.1z" color="#0fe"/><path d="M263.3 159.4l2.1-2l-1.5-2.4l-2.1 2z" color="#0cf"/><path d="M261.4 160.5l1.9-1.1l-1.5-2.4l-2 1.7z" color="#0af"/><path d="M257.4 163l1.9-1l2.1-1.5l-1.6-1.8l-2 1.6l-2 .9z" color="#07f"/><path d="M255.3 164.7l2.1-1.7l-1.6-1.8l-2 1.7z" color="#06f"/><path d="M253.3 166.4l2-1.7l-1.5-1.8l-2.1 2z" color="#04f"/><path d="M251.2 168.8l2.1-2.4l-1.6-1.5l-2 2z" color="#02f"/><path d="M249.1 170.8l2.1-2l-1.5-1.9l-2.1 1.9z" color="#00f"/><path d="M247.1 171.8l2-1l-1.5-2l-2 1.1z" color="#10f"/><path d="M245.2 172.9l1.9-1.1l-1.5-1.9l-1.9 1.4z" color="#20f"/><path d="M243.1 175.1l2.1-2.2l-1.5-1.6l-2.1 2.1z" color="#30e"/><path d="M241.1 175.8l2-.7l-1.5-1.7l-1.9 .6z" color="#50e"/><path d="M237.2 177.8l2-1.3l1.9-.7l-1.4-1.8l-2 .7l-2 1.3z" color="#60e"/><path d="M233.3 179.3l1.9-.4l2-1.1l-1.5-1.8l-1.9 1l-2 .6z" color="#60d"/><path d="M231.2 181l2.1-1.7l-1.5-1.7l-2 1.4z" color="#70c"/><path d="M227.3 182.1l2-.7l1.9-.4l-1.4-2l-1.9 .6l-2 .7z" color="#80c"/><path d="M223.3 184l2-.7l2-1.2l-1.4-1.8l-2 1l-2 .9z" color="#80b"/><path d="M221.3 185l2-1l-1.4-1.8l-1.9 1z" color="#80a"/><path d="M217.3 187.2l2-1l2-1.2l-1.3-1.8l-2 1l-2 1z" color="#809"/><path d="M215.3 188.7l2-1.5l-1.3-2l-2 1.4z" color="#709"/><path d="M207.4 189.8l2 .2l1.9 .2l2-.6l2-.9l-1.3-2.1l-2 1l-2 .8l-1.9-.2l-2-.3z" color="#708"/><path d="M203.5 189.3l2 .3l1.9 .2l-1.3-1.9l-1.9-.3l-1.9-.3z" color="#709"/><path d="M199.6 188.7l2 .2l1.9 .4l-1.2-2l-2-.4l-2-.2z" color="#809"/><path d="M197.6 188l2 .7l-1.3-2l-1.9-.6z" color="#80a"/><path d="M191.7 187.7l2 .2l2-.1l1.9 .2l-1.2-1.9l-2-.1l-2 0l-2-.3z" color="#80b"/><path d="M187.6 187.3l2.1 0l2 .4l-1.3-2l-1.9-.4l-2.1 .1z" color="#80c"/><path d="M181.5 187.1l2.1 .1l2 0l2 .1l-1.2-1.9l-2-.3l-2 0l-2-.1z" color="#70c"/><path d="M177.5 186.4l2 .4l2 .3l-1.1-2.1l-2-.1l-2.1-.5z" color="#60d"/><path d="M173.4 185.8l2 .6l2.1 0l-1.2-2l-2 0l-2.1-.4z" color="#60e"/><path d="M167.1 185.2l2.1 1l2.1 0l2.1-.4l-1.2-1.8l-2 .2l-2.1-.2l-2.1-.7z" color="#50e"/><path d="M165 185.7l2.1-.5l-1.1-1.9l-2 .3z" color="#30e"/><path d="M163 184.5l2 1.2l-1-2.1l-2.1-1.4z" color="#20f"/><path d="M160.9 182.1l2.1 2.4l-1.1-2.3l-2.1-2.2z" color="#10f"/><path d="M158.8 180.7l2.1 1.4l-1.1-2.1l-2.1-1.4z" color="#01f"/><path d="M156.7 180.1l2.1 .6l-1.1-2.1l-2.1-1z" color="#04f"/><path d="M154.5 179.1l2.2 1l-1.1-2.5l-2.1-1.3z" color="#05f"/><path d="M152.4 175.7l2.1 3.4l-1-2.8l-2.1-2.8z" color="#07f"/><path d="M150.2 174.4l2.2 1.3l-1-2.2l-2.2-1.5z" color="#0af"/><path d="M148.1 173.2l2.1 1.2l-1-2.4l-2.1-1.6z" color="#0cf"/><path d="M143.7 171.6l2.2 1l2.2 .6l-1-2.8l-2.2-.6l-2.2-1.1z" color="#0fe"/><path d="M141.5 169.6l2.2 2l-1-2.9l-2.2-2.1z" color="#0f8"/><path d="M139.3 169l2.2 .6l-1-3l-2.2-1z" color="#0f3"/><path d="M137.1 167l2.2 2l-1-3.4l-2.2-2.1z" color="#1f0"/><path d="M134.8 166l2.3 1l-1-3.5l-2.2-.9z" color="#2f0"/><path d="M132.6 164.3l2.2 1.7l-.9-3.4l-2.3-1.6z" color="#4f0"/><path class="m" d="M132.6 164.3l2.2 1.7l2.3 1l2.2 2l2.2 .6l2.2 2l2.2 1l2.2 .6l2.1 1.2l2.2 1.3l2.1 3.4l2.2 1l2.1 .6l2.1 1.4l2.1 2.4l2 1.2l2.1-.5l2.1 1l2.1 0l2.1-.4l2 .6l2.1 0l2 .4l2 .3l2.1 .1l2 0l2 .1l2.1 0l2 .4l2 .2l2-.1l1.9 .2l2 .7l2 .2l1.9 .4l2 .3l1.9 .2l2 .2l1.9 .2l2-.6l2-.9l2-1.5l2-1l2-1.2l2-1l2-.7l2-1.2l2-.7l1.9-.4l2.1-1.7l1.9-.4l2-1.1l2-1.3l1.9-.7l2-.7l2.1-2.2l1.9-1.1l2-1l2.1-2l2.1-2.4l2-1.7l2.1-1.7l1.9-1l2.1-1.5l1.9-1.1l2.1-2l2.1-2.4l2-.8l2-1.7l2.1-1.9l2-2l2.2-2.7l2.1-2.5"/><path d="M279.4 148.4l2.2-2.5l-1.7-2.5l-2.1 2.5z" color="#4f0"/><path d="M277.3 151l2.1-2.6l-1.6-2.5l-2.2 2.7z" color="#2f0"/><path d="M275.2 152.9l2.1-1.9l-1.7-2.4l-2 2z" color="#0f0"/><path d="M273.1 154.6l2.1-1.7l-1.6-2.3l-2.1 1.9z" color="#0f3"/><path d="M271.1 156.3l2-1.7l-1.6-2.1l-2 1.7z" color="#0fb"/><path d="M269.1 157.2l2-.9l-1.6-2.1l-2 .8z" color="#0fe"/><path d="M267 159.7l2.1-2.5l-1.6-2.2l-2.1 2.4z" color="#0ef"/><path d="M264.9 161.3l2.1-1.6l-1.6-2.3l-2.1 2z" color="#0af"/><path d="M262.9 162.5l2-1.2l-1.6-1.9l-1.9 1.1z" color="#09f"/><path d="M260.9 164.2l2-1.7l-1.5-2l-2.1 1.5z" color="#07f"/><path d="M256.9 166.6l2-1.6l2-.8l-1.6-2.2l-1.9 1l-2.1 1.7z" color="#06f"/><path d="M254.8 168.2l2.1-1.6l-1.6-1.9l-2 1.7z" color="#04f"/><path d="M252.7 170.4l2.1-2.2l-1.5-1.8l-2.1 2.4z" color="#02f"/><path d="M250.7 172.2l2-1.8l-1.5-1.6l-2.1 2z" color="#00f"/><path d="M248.7 173.2l2-1l-1.6-1.4l-2 1z" color="#10f"/><path d="M246.7 174.4l2-1.2l-1.6-1.4l-1.9 1.1z" color="#20f"/><path d="M244.6 176.4l2.1-2l-1.5-1.5l-2.1 2.2z" color="#30e"/><path d="M240.7 178.1l2-.9l1.9-.8l-1.5-1.3l-2 .7l-1.9 .7z" color="#50e"/><path d="M238.7 179.5l2-1.4l-1.5-1.6l-2 1.3z" color="#60e"/><path d="M234.7 181.1l2-.6l2-1l-1.5-1.7l-2 1.1l-1.9 .4z" color="#60d"/><path d="M232.7 182.7l2-1.6l-1.4-1.8l-2.1 1.7z" color="#70c"/><path d="M228.7 183.9l2-.7l2-.5l-1.5-1.7l-1.9 .4l-2 .7z" color="#80c"/><path d="M224.7 185.9l2-.8l2-1.2l-1.4-1.8l-2 1.2l-2 .7z" color="#80b"/><path d="M222.7 186.9l2-1l-1.4-1.9l-2 1z" color="#80a"/><path d="M218.7 189.2l2-1.1l2-1.2l-1.4-1.9l-2 1.2l-2 1z" color="#809"/><path d="M216.6 190.4l2.1-1.2l-1.4-2l-2 1.5z" color="#709"/><path d="M208.7 191.8l2 .3l1.9 .1l2-.8l2-1l-1.3-1.7l-2 .9l-2 .6l-1.9-.2l-2-.2z" color="#708"/><path d="M204.8 191.2l2 .2l1.9 .4l-1.3-2l-1.9-.2l-2-.3z" color="#709"/><path d="M200.9 190.6l2 .2l1.9 .4l-1.3-1.9l-1.9-.4l-2-.2z" color="#809"/><path d="M198.9 190l2 .6l-1.3-1.9l-2-.7z" color="#80a"/><path d="M192.9 189.7l2 .1l2 .1l2 .1l-1.3-2l-1.9-.2l-2 .1l-2-.2z" color="#80b"/><path d="M188.8 189.3l2.1 .1l2 .3l-1.2-2l-2-.4l-2.1 0z" color="#80c"/><path d="M182.7 188.8l2.1 .2l2 .1l2 .2l-1.2-2l-2-.1l-2 0l-2.1-.1z" color="#70c"/><path d="M178.6 188.4l2.1 .3l2 .1l-1.2-1.7l-2-.3l-2-.4z" color="#60d"/><path d="M174.5 187.9l2.1 .4l2 .1l-1.1-2l-2.1 0l-2-.6z" color="#60e"/><path d="M168.2 187.2l2.1 .8l2.1 .1l2.1-.2l-1.1-2.1l-2.1 .4l-2.1 0l-2.1-1z" color="#50e"/><path d="M166.1 187.2l2.1 0l-1.1-2l-2.1 .5z" color="#30e"/><path d="M164 186.2l2.1 1l-1.1-1.5l-2-1.2z" color="#20f"/><path d="M161.9 184.4l2.1 1.8l-1-1.7l-2.1-2.4z" color="#10f"/><path d="M159.8 183l2.1 1.4l-1-2.3l-2.1-1.4z" color="#01f"/><path d="M157.7 182.3l2.1 .7l-1-2.3l-2.1-.6z" color="#02f"/><path d="M155.6 181.3l2.1 1l-1-2.2l-2.2-1z" color="#04f"/><path d="M153.4 178.3l2.2 3l-1.1-2.2l-2.1-3.4z" color="#06f"/><path d="M151.3 177l2.1 1.3l-1-2.6l-2.2-1.3z" color="#0af"/><path d="M149.1 176l2.2 1l-1.1-2.6l-2.1-1.2z" color="#0cf"/><path d="M146.9 175.5l2.2 .5l-1-2.8l-2.2-.6z" color="#0ef"/><path d="M144.7 174l2.2 1.5l-1-2.9l-2.2-1z" color="#0fe"/><path d="M142.5 172l2.2 2l-1-2.4l-2.2-2z" color="#0fb"/><path d="M140.3 171.4l2.2 .6l-1-2.4l-2.2-.6z" color="#0f3"/><path d="M138 169.5l2.3 1.9l-1-2.4l-2.2-2z" color="#0f0"/><path d="M135.8 168.1l2.2 1.4l-.9-2.5l-2.3-1z" color="#2f0"/><path d="M133.5 166.8l2.3 1.3l-1-2.1l-2.2-1.7z" color="#3f0"/><path d="M281 151l2.2-2.6l-1.6-2.5l-2.2 2.5z" color="#3f0"/><path d="M278.9 153.4l2.1-2.4l-1.6-2.6l-2.1 2.6z" color="#1f0"/><path d="M276.8 155.2l2.1-1.8l-1.6-2.4l-2.1 1.9z" color="#0f3"/><path d="M274.8 156.7l2-1.5l-1.6-2.3l-2.1 1.7z" color="#0f8"/><path d="M272.7 158.3l2.1-1.6l-1.7-2.1l-2 1.7z" color="#0fb"/><path d="M270.7 159.4l2-1.1l-1.6-2l-2 .9z" color="#0fe"/><path d="M268.5 162.1l2.2-2.7l-1.6-2.2l-2.1 2.5z" color="#0ef"/><path d="M266.5 163.3l2-1.2l-1.5-2.4l-2.1 1.6z" color="#0af"/><path d="M264.5 164.4l2-1.1l-1.6-2l-2 1.2z" color="#09f"/><path d="M262.5 166.3l2-1.9l-1.6-1.9l-2 1.7z" color="#07f"/><path d="M260.5 167.1l2-.8l-1.6-2.1l-2 .8z" color="#06f"/><path d="M258.5 168.4l2-1.3l-1.6-2.1l-2 1.6z" color="#05f"/><path d="M256.4 170.1l2.1-1.7l-1.6-1.8l-2.1 1.6z" color="#04f"/><path d="M254.3 172l2.1-1.9l-1.6-1.9l-2.1 2.2z" color="#02f"/><path d="M252.3 173.6l2-1.6l-1.6-1.6l-2 1.8z" color="#00f"/><path d="M248.3 175.8l2-1.2l2-1l-1.6-1.4l-2 1l-2 1.2z" color="#10f"/><path d="M246.2 177.7l2.1-1.9l-1.6-1.4l-2.1 2z" color="#20f"/><path d="M242.2 179.8l2-1.1l2-1l-1.6-1.3l-1.9 .8l-2 .9z" color="#50e"/><path d="M240.2 181.2l2-1.4l-1.5-1.7l-2 1.4z" color="#60e"/><path d="M236.2 182.9l2-.8l2-.9l-1.5-1.7l-2 1l-2 .6z" color="#60d"/><path d="M234.1 184.4l2.1-1.5l-1.5-1.8l-2 1.6z" color="#70c"/><path d="M230.2 185.7l2-.8l1.9-.5l-1.4-1.7l-2 .5l-2 .7z" color="#80c"/><path d="M226.1 187.9l2-.9l2.1-1.3l-1.5-1.8l-2 1.2l-2 .8z" color="#80b"/><path d="M224.1 188.9l2-1l-1.4-2l-2 1z" color="#80a"/><path d="M220 191.2l2.1-1.1l2-1.2l-1.4-2l-2 1.2l-2 1.1z" color="#809"/><path d="M218 192.3l2-1.1l-1.3-2l-2.1 1.2z" color="#709"/><path d="M210 193.8l2 .3l2 .1l2-.9l2-1l-1.4-1.9l-2 1l-2 .8l-1.9-.1l-2-.3z" color="#708"/><path d="M206.1 193.1l2 .3l1.9 .4l-1.3-2l-1.9-.4l-2-.2z" color="#709"/><path d="M202.2 192.6l1.9 .1l2 .4l-1.3-1.9l-1.9-.4l-2-.2z" color="#809"/><path d="M200.2 192.1l2 .5l-1.3-2l-2-.6z" color="#80a"/><path d="M194.1 191.7l2.1 .1l2 .2l2 .1l-1.3-2.1l-2-.1l-2-.1l-2-.1z" color="#80b"/><path d="M190.1 191.3l2 .2l2 .2l-1.2-2l-2-.3l-2.1-.1z" color="#80c"/><path d="M186 190.8l2 .3l2.1 .2l-1.3-2l-2-.2l-2-.1z" color="#70c"/><path d="M179.8 190.5l2.1 .2l2-.1l2.1 .2l-1.2-1.8l-2.1-.2l-2-.1l-2.1-.3z" color="#60d"/><path d="M175.6 189.9l2.1 .4l2.1 .2l-1.2-2.1l-2-.1l-2.1-.4z" color="#60e"/><path d="M171.5 189.9l2.1 0l2 0l-1.1-2l-2.1 .2l-2.1-.1z" color="#50e"/><path d="M167.3 188.8l2.1 .4l2.1 .7l-1.2-1.9l-2.1-.8l-2.1 0z" color="#30e"/><path d="M165.1 187.9l2.2 .9l-1.2-1.6l-2.1-1z" color="#20f"/><path d="M163 186.6l2.1 1.3l-1.1-1.7l-2.1-1.8z" color="#10f"/><path d="M160.9 185.4l2.1 1.2l-1.1-2.2l-2.1-1.4z" color="#01f"/><path d="M158.8 184.6l2.1 .8l-1.1-2.4l-2.1-.7z" color="#02f"/><path d="M156.6 183.6l2.2 1l-1.1-2.3l-2.1-1z" color="#04f"/><path d="M154.5 180.9l2.1 2.7l-1-2.3l-2.2-3z" color="#06f"/><path d="M152.3 179.6l2.2 1.3l-1.1-2.6l-2.1-1.3z" color="#09f"/><path d="M150.1 178.8l2.2 .8l-1-2.6l-2.2-1z" color="#0af"/><path d="M147.9 178.4l2.2 .4l-1-2.8l-2.2-.5z" color="#0cf"/><path d="M145.7 176.4l2.2 2l-1-2.9l-2.2-1.5z" color="#0ef"/><path d="M143.5 174.4l2.2 2l-1-2.4l-2.2-2z" color="#0fb"/><path d="M141.2 173.7l2.3 .7l-1-2.4l-2.2-.6z" color="#0f8"/><path d="M139 172l2.2 1.7l-.9-2.3l-2.3-1.9z" color="#0f0"/><path d="M136.7 170.3l2.3 1.7l-1-2.5l-2.2-1.4z" color="#1f0"/><path d="M134.5 169.3l2.2 1l-.9-2.2l-2.3-1.3z" color="#3f0"/><path d="M282.7 153.6l2.2-2.7l-1.7-2.5l-2.2 2.6z" color="#2f0"/><path d="M280.5 155.8l2.2-2.2l-1.7-2.6l-2.1 2.4z" color="#0f0"/><path d="M278.5 157.5l2-1.7l-1.6-2.4l-2.1 1.8z" color="#0f3"/><path d="M276.4 158.8l2.1-1.3l-1.7-2.3l-2 1.5z" color="#0f8"/><path d="M274.4 160.4l2-1.6l-1.6-2.1l-2.1 1.6z" color="#0fb"/><path d="M272.3 161.7l2.1-1.3l-1.7-2.1l-2 1.1z" color="#0fe"/><path d="M270.1 164.4l2.2-2.7l-1.6-2.3l-2.2 2.7z" color="#0cf"/><path d="M268.2 165.3l1.9-.9l-1.6-2.3l-2 1.2z" color="#0af"/><path d="M266.2 166.4l2-1.1l-1.7-2l-2 1.1z" color="#09f"/><path d="M264 168.6l2.2-2.2l-1.7-2l-2 1.9z" color="#07f"/><path d="M262.1 169.2l1.9-.6l-1.5-2.3l-2 .8z" color="#06f"/><path d="M260.1 170.2l2-1l-1.6-2.1l-2 1.3z" color="#05f"/><path d="M258 172l2.1-1.8l-1.6-1.8l-2.1 1.7z" color="#04f"/><path d="M255.9 173.6l2.1-1.6l-1.6-1.9l-2.1 1.9z" color="#02f"/><path d="M253.9 175.1l2-1.5l-1.6-1.6l-2 1.6z" color="#01f"/><path d="M251.9 176l2-.9l-1.6-1.5l-2 1z" color="#00f"/><path d="M249.9 177.2l2-1.2l-1.6-1.4l-2 1.2z" color="#10f"/><path d="M247.8 179l2.1-1.8l-1.6-1.4l-2.1 1.9z" color="#20f"/><path d="M245.8 180.2l2-1.2l-1.6-1.3l-2 1z" color="#30e"/><path d="M243.7 181.5l2.1-1.3l-1.6-1.5l-2 1.1z" color="#50e"/><path d="M241.7 182.9l2-1.4l-1.5-1.7l-2 1.4z" color="#60e"/><path d="M237.7 184.7l2-.9l2-.9l-1.5-1.7l-2 .9l-2 .8z" color="#60d"/><path d="M233.6 186.7l2-.6l2.1-1.4l-1.5-1.8l-2.1 1.5l-1.9 .5z" color="#70c"/><path d="M231.6 187.6l2-.9l-1.4-1.8l-2 .8z" color="#80c"/><path d="M227.5 189.8l2.1-.9l2-1.3l-1.4-1.9l-2.1 1.3l-2 .9z" color="#80b"/><path d="M225.5 190.8l2-1l-1.4-1.9l-2 1z" color="#80a"/><path d="M221.4 193.2l2.1-1.2l2-1.2l-1.4-1.9l-2 1.2l-2.1 1.1z" color="#809"/><path d="M219.4 194.1l2-.9l-1.4-2l-2 1.1z" color="#709"/><path d="M211.4 195.8l1.9 .4l2 0l2.1-1.1l2-1l-1.4-1.8l-2 1l-2 .9l-2-.1l-2-.3z" color="#708"/><path d="M207.4 195.1l2 .2l2 .5l-1.4-2l-1.9-.4l-2-.3z" color="#709"/><path d="M203.5 194.6l2 .1l1.9 .4l-1.3-2l-2-.4l-1.9-.1z" color="#809"/><path d="M199.4 194.1l2.1 .1l2 .4l-1.3-2l-2-.5l-2-.1z" color="#80a"/><path d="M195.4 193.7l2 .1l2 .3l-1.2-2.1l-2-.2l-2.1-.1z" color="#80b"/><path d="M191.3 193.4l2.1 .2l2 .1l-1.3-2l-2-.2l-2-.2z" color="#80c"/><path d="M187.2 192.7l2.1 .4l2 .3l-1.2-2.1l-2.1-.2l-2-.3z" color="#70c"/><path d="M181 192.6l2.1 .1l2.1-.3l2 .3l-1.2-1.9l-2.1-.2l-2 .1l-2.1-.2z" color="#60d"/><path d="M176.8 192l2.1 .4l2.1 .2l-1.2-2.1l-2.1-.2l-2.1-.4z" color="#60e"/><path d="M172.6 191.8l2.1 .1l2.1 .1l-1.2-2.1l-2 0l-2.1 0z" color="#50e"/><path d="M168.4 190.4l2.1 .8l2.1 .6l-1.1-1.9l-2.1-.7l-2.1-.4z" color="#30e"/><path d="M166.3 189.7l2.1 .7l-1.1-1.6l-2.2-.9z" color="#20f"/><path d="M164.1 188.9l2.2 .8l-1.2-1.8l-2.1-1.3z" color="#10f"/><path d="M162 187.8l2.1 1.1l-1.1-2.3l-2.1-1.2z" color="#01f"/><path d="M159.8 186.9l2.2 .9l-1.1-2.4l-2.1-.8z" color="#02f"/><path d="M157.7 185.9l2.1 1l-1-2.3l-2.2-1z" color="#04f"/><path d="M155.5 183.6l2.2 2.3l-1.1-2.3l-2.1-2.7z" color="#06f"/><path d="M153.3 182.3l2.2 1.3l-1-2.7l-2.2-1.3z" color="#09f"/><path d="M148.9 181.3l2.2 .4l2.2 .6l-1-2.7l-2.2-.8l-2.2-.4z" color="#0af"/><path d="M146.7 178.8l2.2 2.5l-1-2.9l-2.2-2z" color="#0ef"/><path d="M144.5 176.8l2.2 2l-1-2.4l-2.2-2z" color="#0fb"/><path d="M142.2 176.1l2.3 .7l-1-2.4l-2.3-.7z" color="#0f8"/><path d="M140 174.6l2.2 1.5l-1-2.4l-2.2-1.7z" color="#0f3"/><path d="M137.7 172.5l2.3 2.1l-1-2.6l-2.3-1.7z" color="#1f0"/><path d="M135.4 171.8l2.3 .7l-1-2.2l-2.2-1z" color="#2f0"/><path d="M284.3 156.2l2.2-2.8l-1.6-2.5l-2.2 2.7z" color="#2f0"/><path d="M282.2 158.3l2.1-2.1l-1.6-2.6l-2.2 2.2z" color="#0f0"/><path d="M280.1 159.8l2.1-1.5l-1.7-2.5l-2 1.7z" color="#0f8"/><path d="M278.1 161l2-1.2l-1.6-2.3l-2.1 1.3z" color="#0fb"/><path d="M276 162.6l2.1-1.6l-1.7-2.2l-2 1.6z" color="#0fe"/><path d="M274 164l2-1.4l-1.6-2.2l-2.1 1.3z" color="#0ef"/><path d="M271.8 166.8l2.2-2.8l-1.7-2.3l-2.2 2.7z" color="#0cf"/><path d="M267.8 168.4l2-1.1l2-.5l-1.7-2.4l-1.9 .9l-2 1.1z" color="#09f"/><path d="M265.7 170.8l2.1-2.4l-1.6-2l-2.2 2.2z" color="#07f"/><path d="M263.7 171.3l2-.5l-1.7-2.2l-1.9 .6z" color="#06f"/><path d="M261.7 172.1l2-.8l-1.6-2.1l-2 1z" color="#05f"/><path d="M259.6 173.9l2.1-1.8l-1.6-1.9l-2.1 1.8z" color="#04f"/><path d="M257.6 175.3l2-1.4l-1.6-1.9l-2.1 1.6z" color="#02f"/><path d="M255.5 176.6l2.1-1.3l-1.7-1.7l-2 1.5z" color="#01f"/><path d="M251.5 178.7l2-1.3l2-.8l-1.6-1.5l-2 .9l-2 1.2z" color="#00f"/><path d="M249.4 180.4l2.1-1.7l-1.6-1.5l-2.1 1.8z" color="#20f"/><path d="M247.3 181.7l2.1-1.3l-1.6-1.4l-2 1.2z" color="#30e"/><path d="M245.3 183.2l2-1.5l-1.5-1.5l-2.1 1.3z" color="#50e"/><path d="M241.2 185.5l2-.9l2.1-1.4l-1.6-1.7l-2 1.4l-2 .9z" color="#60e"/><path d="M239.2 186.6l2-1.1l-1.5-1.7l-2 .9z" color="#60d"/><path d="M235.1 188.6l2-.7l2.1-1.3l-1.5-1.9l-2.1 1.4l-2 .6z" color="#70c"/><path d="M231 190.9l2.1-1.5l2-.8l-1.5-1.9l-2 .9l-2 1.3z" color="#80c"/><path d="M229 191.8l2-.9l-1.4-2l-2.1 .9z" color="#80b"/><path d="M226.9 192.8l2.1-1l-1.5-2l-2 1z" color="#80a"/><path d="M222.8 195.2l2.1-1.2l2-1.2l-1.4-2l-2 1.2l-2.1 1.2z" color="#809"/><path d="M218.8 197l2-1.1l2-.7l-1.4-2l-2 .9l-2 1z" color="#709"/><path d="M212.7 197.9l2 .5l2-.1l2.1-1.3l-1.4-1.9l-2.1 1.1l-2 0l-1.9-.4z" color="#708"/><path d="M208.8 197.1l2 .2l1.9 .6l-1.3-2.1l-2-.5l-2-.2z" color="#709"/><path d="M204.8 196.6l2 .1l2 .4l-1.4-2l-1.9-.4l-2-.1z" color="#809"/><path d="M200.7 196.3l2.1 0l2 .3l-1.3-2l-2-.4l-2.1-.1z" color="#80a"/><path d="M196.7 195.7l2 .1l2 .5l-1.3-2.2l-2-.3l-2-.1z" color="#80b"/><path d="M192.6 195.5l2 .3l2.1-.1l-1.3-2l-2-.1l-2.1-.2z" color="#80c"/><path d="M188.5 194.5l2 .7l2.1 .3l-1.3-2.1l-2-.3l-2.1-.4z" color="#70c"/><path d="M182.2 194.7l2.1 .1l2.1-.5l2.1 .2l-1.3-1.8l-2-.3l-2.1 .3l-2.1-.1z" color="#60d"/><path d="M178 194.1l2.1 .3l2.1 .3l-1.2-2.1l-2.1-.2l-2.1-.4z" color="#60e"/><path d="M173.8 193.6l2.1 .2l2.1 .3l-1.2-2.1l-2.1-.1l-2.1-.1z" color="#50e"/><path d="M171.6 193.3l2.2 .3l-1.2-1.8l-2.1-.6z" color="#30e"/><path d="M169.5 192.1l2.1 1.2l-1.1-2.1l-2.1-.8z" color="#20f"/><path d="M165.2 191.2l2.2 .2l2.1 .7l-1.1-1.7l-2.1-.7l-2.2-.8z" color="#10f"/><path d="M163.1 190.3l2.1 .9l-1.1-2.3l-2.1-1.1z" color="#00f"/><path d="M160.9 189.2l2.2 1.1l-1.1-2.5l-2.2-.9z" color="#02f"/><path d="M158.8 188.3l2.1 .9l-1.1-2.3l-2.1-1z" color="#04f"/><path d="M156.6 186.3l2.2 2l-1.1-2.4l-2.2-2.3z" color="#05f"/><path d="M154.4 184.9l2.2 1.4l-1.1-2.7l-2.2-1.3z" color="#07f"/><path d="M152.2 184.5l2.2 .4l-1.1-2.6l-2.2-.6z" color="#09f"/><path d="M150 184.3l2.2 .2l-1.1-2.8l-2.2-.4z" color="#0af"/><path d="M147.7 181.3l2.3 3l-1.1-3l-2.2-2.5z" color="#0cf"/><path d="M145.5 179.3l2.2 2l-1-2.5l-2.2-2z" color="#0fe"/><path d="M143.3 178.5l2.2 .8l-1-2.5l-2.3-.7z" color="#0f8"/><path d="M141 177.2l2.3 1.3l-1.1-2.4l-2.2-1.5z" color="#0f3"/><path d="M138.7 174.7l2.3 2.5l-1-2.6l-2.3-2.1z" color="#1f0"/><path d="M136.4 174.4l2.3 .3l-1-2.2l-2.3-.7z" color="#2f0"/><path class="m" d="M136.4 174.4l2.3 .3l2.3 2.5l2.3 1.3l2.2 .8l2.2 2l2.3 3l2.2 .2l2.2 .4l2.2 1.4l2.2 2l2.1 .9l2.2 1.1l2.1 .9l2.2 .2l2.1 .7l2.1 1.2l2.2 .3l2.1 .2l2.1 .3l2.1 .3l2.1 .3l2.1 .1l2.1-.5l2.1 .2l2 .7l2.1 .3l2 .3l2.1-.1l2 .1l2 .5l2.1 0l2 .3l2 .1l2 .4l2 .2l1.9 .6l2 .5l2-.1l2.1-1.3l2-1.1l2-.7l2.1-1.2l2-1.2l2.1-1l2-.9l2.1-1.5l2-.8l2-.7l2.1-1.3l2-1.1l2-.9l2.1-1.4l2-1.5l2.1-1.3l2.1-1.7l2-1.3l2-.8l2.1-1.3l2-1.4l2.1-1.8l2-.8l2-.5l2.1-2.4l2-1.1l2-.5l2.2-2.8l2-1.4l2.1-1.6l2-1.2l2.1-1.5l2.1-2.1l2.2-2.8"/><path d="M286.1 157.9l2.2-2.3l-1.8-2.2l-2.2 2.8z" color="#1f0"/><path d="M284 159.6l2.1-1.7l-1.8-1.7l-2.1 2.1z" color="#0f0"/><path d="M281.9 161.2l2.1-1.6l-1.8-1.3l-2.1 1.5z" color="#0f8"/><path d="M279.9 162.3l2-1.1l-1.8-1.4l-2 1.2z" color="#0fb"/><path d="M277.8 163.8l2.1-1.5l-1.8-1.3l-2.1 1.6z" color="#0fe"/><path d="M275.8 165.1l2-1.3l-1.8-1.2l-2 1.4z" color="#0ef"/><path d="M273.6 167.4l2.2-2.3l-1.8-1.1l-2.2 2.8z" color="#0cf"/><path d="M271.7 167.9l1.9-.5l-1.8-.6l-2 .5z" color="#0af"/><path d="M269.6 169l2.1-1.1l-1.9-.6l-2 1.1z" color="#09f"/><path d="M267.4 171.5l2.2-2.5l-1.8-.6l-2.1 2.4z" color="#07f"/><path d="M265.4 172.5l2-1l-1.7-.7l-2 .5z" color="#06f"/><path d="M261.3 175.1l2.1-1.8l2-.8l-1.7-1.2l-2 .8l-2.1 1.8z" color="#05f"/><path d="M259.2 176.7l2.1-1.6l-1.7-1.2l-2 1.4z" color="#02f"/><path d="M257.2 178.1l2-1.4l-1.6-1.4l-2.1 1.3z" color="#01f"/><path d="M253.1 180.5l2-1.2l2.1-1.2l-1.7-1.5l-2 .8l-2 1.3z" color="#00f"/><path d="M251 182l2.1-1.5l-1.6-1.8l-2.1 1.7z" color="#10f"/><path d="M248.9 183.3l2.1-1.3l-1.6-1.6l-2.1 1.3z" color="#20f"/><path d="M246.9 184.7l2-1.4l-1.6-1.6l-2 1.5z" color="#30e"/><path d="M244.8 185.9l2.1-1.2l-1.6-1.5l-2.1 1.4z" color="#50e"/><path d="M242.8 186.8l2-.9l-1.6-1.3l-2 .9z" color="#60e"/><path d="M238.7 189.4l2-1.4l2.1-1.2l-1.6-1.3l-2 1.1l-2.1 1.3z" color="#60d"/><path d="M236.6 190.3l2.1-.9l-1.6-1.5l-2 .7z" color="#70c"/><path d="M232.5 193l2.1-1.6l2-1.1l-1.5-1.7l-2 .8l-2.1 1.5z" color="#80c"/><path d="M230.4 194.1l2.1-1.1l-1.5-2.1l-2 .9z" color="#80b"/><path d="M228.4 195l2-.9l-1.4-2.3l-2.1 1z" color="#80a"/><path d="M224.3 197.3l2-1.1l2.1-1.2l-1.5-2.2l-2 1.2l-2.1 1.2z" color="#809"/><path d="M220.2 199.1l2-1l2.1-.8l-1.5-2.1l-2 .7l-2 1.1z" color="#709"/><path d="M214.1 200.1l2 .3l2-.1l2.1-1.2l-1.4-2.1l-2.1 1.3l-2 .1l-2-.5z" color="#708"/><path d="M210.1 199.4l2 .2l2 .5l-1.4-2.2l-1.9-.6l-2-.2z" color="#709"/><path d="M206.1 199l2 .1l2 .3l-1.3-2.3l-2-.4l-2-.1z" color="#809"/><path d="M202 198.6l2.1 0l2 .4l-1.3-2.4l-2-.3l-2.1 0z" color="#80a"/><path d="M197.9 198l2.1 .1l2 .5l-1.3-2.3l-2-.5l-2-.1z" color="#80b"/><path d="M193.8 197.7l2.1 .3l2 0l-1.2-2.3l-2.1 .1l-2-.3z" color="#80c"/><path d="M189.7 196.8l2.1 .6l2 .3l-1.2-2.2l-2.1-.3l-2-.7z" color="#70c"/><path d="M183.4 196.8l2.1 .1l2.1-.4l2.1 .3l-1.2-2.3l-2.1-.2l-2.1 .5l-2.1-.1z" color="#60d"/><path d="M179.2 196.3l2.1 .2l2.1 .3l-1.2-2.1l-2.1-.3l-2.1-.3z" color="#60e"/><path d="M174.9 195.6l2.2 .3l2.1 .4l-1.2-2.2l-2.1-.3l-2.1-.2z" color="#50e"/><path d="M172.8 195.3l2.1 .3l-1.1-2l-2.2-.3z" color="#30e"/><path d="M170.7 194.3l2.1 1l-1.2-2l-2.1-1.2z" color="#20f"/><path d="M166.4 193.3l2.1 .3l2.2 .7l-1.2-2.2l-2.1-.7l-2.2-.2z" color="#10f"/><path d="M164.2 192.4l2.2 .9l-1.2-2.1l-2.1-.9z" color="#00f"/><path d="M162 191.5l2.2 .9l-1.1-2.1l-2.2-1.1z" color="#01f"/><path d="M159.9 190.6l2.1 .9l-1.1-2.3l-2.1-.9z" color="#02f"/><path d="M157.7 188.7l2.2 1.9l-1.1-2.3l-2.2-2z" color="#05f"/><path d="M153.3 187.3l2.2 .3l2.2 1.1l-1.1-2.4l-2.2-1.4l-2.2-.4z" color="#07f"/><path d="M151 186.5l2.3 .8l-1.1-2.8l-2.2-.2z" color="#09f"/><path d="M148.8 183.6l2.2 2.9l-1-2.2l-2.3-3z" color="#0cf"/><path d="M146.5 181.5l2.3 2.1l-1.1-2.3l-2.2-2z" color="#0fe"/><path d="M144.3 180.6l2.2 .9l-1-2.2l-2.2-.8z" color="#0f8"/><path d="M142 179.4l2.3 1.2l-1-2.1l-2.3-1.3z" color="#0f3"/><path d="M139.7 177.3l2.3 2.1l-1-2.2l-2.3-2.5z" color="#0f0"/><path d="M137.4 176.7l2.3 .6l-1-2.6l-2.3-.3z" color="#2f0"/><path d="M287.9 159.6l2.1-1.8l-1.7-2.2l-2.2 2.3z" color="#1f0"/><path d="M285.9 161l2-1.4l-1.8-1.7l-2.1 1.7z" color="#0f0"/><path d="M283.7 162.7l2.2-1.7l-1.9-1.4l-2.1 1.6z" color="#0f3"/><path d="M281.7 163.6l2-.9l-1.8-1.5l-2 1.1z" color="#0f8"/><path d="M279.7 165l2-1.4l-1.8-1.3l-2.1 1.5z" color="#0fb"/><path d="M277.6 166.2l2.1-1.2l-1.9-1.2l-2 1.3z" color="#0fe"/><path d="M275.5 168l2.1-1.8l-1.8-1.1l-2.2 2.3z" color="#0ef"/><path d="M273.5 168.6l2-.6l-1.9-.6l-1.9 .5z" color="#0cf"/><path d="M271.5 169.6l2-1l-1.8-.7l-2.1 1.1z" color="#0af"/><path d="M269.3 172.3l2.2-2.7l-1.9-.6l-2.2 2.5z" color="#09f"/><path d="M267.2 173.7l2.1-1.4l-1.9-.8l-2 1z" color="#07f"/><path d="M265.2 174.6l2-.9l-1.8-1.2l-2 .8z" color="#06f"/><path d="M263.1 176.2l2.1-1.6l-1.8-1.3l-2.1 1.8z" color="#05f"/><path d="M260.9 178.1l2.2-1.9l-1.8-1.1l-2.1 1.6z" color="#04f"/><path d="M258.8 179.7l2.1-1.6l-1.7-1.4l-2 1.4z" color="#02f"/><path d="M256.7 181.2l2.1-1.5l-1.6-1.6l-2.1 1.2z" color="#01f"/><path d="M254.7 182.3l2-1.1l-1.6-1.9l-2 1.2z" color="#00f"/><path d="M252.6 183.6l2.1-1.3l-1.6-1.8l-2.1 1.5z" color="#10f"/><path d="M250.6 184.8l2-1.2l-1.6-1.6l-2.1 1.3z" color="#20f"/><path d="M248.5 186.1l2.1-1.3l-1.7-1.5l-2 1.4z" color="#30e"/><path d="M244.4 188.2l2-.9l2.1-1.2l-1.6-1.4l-2.1 1.2l-2 .9z" color="#50e"/><path d="M242.3 189.5l2.1-1.3l-1.6-1.4l-2.1 1.2z" color="#60e"/><path d="M240.2 190.9l2.1-1.4l-1.6-1.5l-2 1.4z" color="#60d"/><path d="M236.1 193.4l2.1-1.4l2-1.1l-1.5-1.5l-2.1 .9l-2 1.1z" color="#70c"/><path d="M234 195.1l2.1-1.7l-1.5-2l-2.1 1.6z" color="#80c"/><path d="M231.9 196.4l2.1-1.3l-1.5-2.1l-2.1 1.1z" color="#80b"/><path d="M229.8 197.3l2.1-.9l-1.5-2.3l-2 .9z" color="#80a"/><path d="M225.7 199.4l2.1-1.1l2-1l-1.4-2.3l-2.1 1.2l-2 1.1z" color="#809"/><path d="M223.6 200.3l2.1-.9l-1.4-2.1l-2.1 .8z" color="#709"/><path d="M213.5 202l2 .3l2 .2l2-.2l2.1-1l2-1l-1.4-2.2l-2 1l-2.1 1.2l-2 .1l-2-.3l-2-.5z" color="#708"/><path d="M211.5 201.8l2 .2l-1.4-2.4l-2-.2z" color="#709"/><path d="M205.4 201l2 .4l2 .1l2.1 .3l-1.4-2.4l-2-.3l-2-.1l-2-.4z" color="#809"/><path d="M203.3 201l2.1 0l-1.3-2.4l-2.1 0z" color="#80a"/><path d="M197.2 200.3l2 0l2.1 .2l2 .5l-1.3-2.4l-2-.5l-2.1-.1l-2 0z" color="#80b"/><path d="M193 199.7l2.1 .3l2.1 .3l-1.3-2.3l-2.1-.3l-2-.3z" color="#80c"/><path d="M191 199.1l2 .6l-1.2-2.3l-2.1-.6z" color="#70c"/><path d="M184.6 198.8l2.1 .3l2.2-.3l2.1 .3l-1.3-2.3l-2.1-.3l-2.1 .4l-2.1-.1z" color="#60d"/><path d="M180.4 198.5l2.1 .1l2.1 .2l-1.2-2l-2.1-.3l-2.1-.2z" color="#60e"/><path d="M176.1 197.6l2.2 .3l2.1 .6l-1.2-2.2l-2.1-.4l-2.2-.3z" color="#50e"/><path d="M174 197.3l2.1 .3l-1.2-2l-2.1-.3z" color="#30e"/><path d="M171.8 196.6l2.2 .7l-1.2-2l-2.1-1z" color="#20f"/><path d="M167.5 195.4l2.2 .5l2.1 .7l-1.1-2.3l-2.2-.7l-2.1-.3z" color="#10f"/><path d="M165.3 194.5l2.2 .9l-1.1-2.1l-2.2-.9z" color="#00f"/><path d="M163.2 193.7l2.1 .8l-1.1-2.1l-2.2-.9z" color="#01f"/><path d="M161 192.9l2.2 .8l-1.2-2.2l-2.1-.9z" color="#02f"/><path d="M158.8 191.2l2.2 1.7l-1.1-2.3l-2.2-1.9z" color="#05f"/><path d="M156.6 190.3l2.2 .9l-1.1-2.5l-2.2-1.1z" color="#06f"/><path d="M154.3 190.1l2.3 .2l-1.1-2.7l-2.2-.3z" color="#07f"/><path d="M152.1 188.8l2.2 1.3l-1-2.8l-2.3-.8z" color="#09f"/><path d="M149.8 186l2.3 2.8l-1.1-2.3l-2.2-2.9z" color="#0cf"/><path d="M147.6 183.7l2.2 2.3l-1-2.4l-2.3-2.1z" color="#0fe"/><path d="M145.3 182.6l2.3 1.1l-1.1-2.2l-2.2-.9z" color="#0f8"/><path d="M143 181.7l2.3 .9l-1-2l-2.3-1.2z" color="#0f3"/><path d="M140.7 180l2.3 1.7l-1-2.3l-2.3-2.1z" color="#0f0"/><path d="M138.4 179.1l2.3 .9l-1-2.7l-2.3-.6z" color="#2f0"/><path d="M289.8 161.3l2-1.3l-1.8-2.2l-2.1 1.8z" color="#1f0"/><path d="M287.7 162.4l2.1-1.1l-1.9-1.7l-2 1.4z" color="#0f0"/><path d="M285.6 164.1l2.1-1.7l-1.8-1.4l-2.2 1.7z" color="#0f3"/><path d="M283.6 164.9l2-.8l-1.9-1.4l-2 .9z" color="#0f8"/><path d="M279.5 167.3l2-1l2.1-1.4l-1.9-1.3l-2 1.4l-2.1 1.2z" color="#0fb"/><path d="M277.4 168.6l2.1-1.3l-1.9-1.1l-2.1 1.8z" color="#0fe"/><path d="M273.4 170.2l2-1l2-.6l-1.9-.6l-2 .6l-2 1z" color="#0ef"/><path d="M271.1 173.1l2.3-2.9l-1.9-.6l-2.2 2.7z" color="#0af"/><path d="M266.9 175.8l2.1-.9l2.1-1.8l-1.8-.8l-2.1 1.4l-2 .9z" color="#07f"/><path d="M264.8 177.4l2.1-1.6l-1.7-1.2l-2.1 1.6z" color="#06f"/><path d="M262.7 179.5l2.1-2.1l-1.7-1.2l-2.2 1.9z" color="#04f"/><path d="M260.5 181.3l2.2-1.8l-1.8-1.4l-2.1 1.6z" color="#02f"/><path d="M258.4 183.1l2.1-1.8l-1.7-1.6l-2.1 1.5z" color="#01f"/><path d="M256.3 184l2.1-.9l-1.7-1.9l-2 1.1z" color="#00f"/><path d="M254.3 185.2l2-1.2l-1.6-1.7l-2.1 1.3z" color="#10f"/><path d="M250.1 187.6l2.1-1.2l2.1-1.2l-1.7-1.6l-2 1.2l-2.1 1.3z" color="#20f"/><path d="M248.1 188.6l2-1l-1.6-1.5l-2.1 1.2z" color="#30e"/><path d="M246 189.7l2.1-1.1l-1.7-1.3l-2 .9z" color="#50e"/><path d="M243.9 191.1l2.1-1.4l-1.6-1.5l-2.1 1.3z" color="#60e"/><path d="M239.7 193.7l2.1-1.3l2.1-1.3l-1.6-1.6l-2.1 1.4l-2 1.1z" color="#60d"/><path d="M237.6 195.5l2.1-1.8l-1.5-1.7l-2.1 1.4z" color="#70c"/><path d="M235.5 197.2l2.1-1.7l-1.5-2.1l-2.1 1.7z" color="#80c"/><path d="M231.3 199.5l2.1-.9l2.1-1.4l-1.5-2.1l-2.1 1.3l-2.1 .9z" color="#80a"/><path d="M227.1 201.6l2.1-1.1l2.1-1l-1.5-2.2l-2 1l-2.1 1.1z" color="#809"/><path d="M225.1 202.5l2-.9l-1.4-2.2l-2.1 .9z" color="#709"/><path d="M214.9 204.4l2 .2l2 0l2-.2l2.1-.9l2.1-1l-1.5-2.2l-2 1l-2.1 1l-2 .2l-2-.2l-2-.3z" color="#708"/><path d="M210.8 203.9l2 .3l2.1 .2l-1.4-2.4l-2-.2l-2.1-.3z" color="#709"/><path d="M206.7 203.5l2.1 .4l2 0l-1.4-2.4l-2-.1l-2-.4z" color="#809"/><path d="M202.6 202.9l2.1 .5l2 .1l-1.3-2.5l-2.1 0l-2-.5z" color="#80a"/><path d="M198.5 202.6l2.1 .1l2 .2l-1.3-2.4l-2.1-.2l-2 0z" color="#80b"/><path d="M194.3 202l2.1 .3l2.1 .3l-1.3-2.3l-2.1-.3l-2.1-.3z" color="#80c"/><path d="M192.2 201.4l2.1 .6l-1.3-2.3l-2-.6z" color="#70c"/><path d="M185.9 200.9l2.1 .4l2.1-.2l2.1 .3l-1.2-2.3l-2.1-.3l-2.2 .3l-2.1-.3z" color="#60d"/><path d="M181.6 200.7l2.2 0l2.1 .2l-1.3-2.1l-2.1-.2l-2.1-.1z" color="#60e"/><path d="M177.3 199.7l2.2 .4l2.1 .6l-1.2-2.2l-2.1-.6l-2.2-.3z" color="#50e"/><path d="M175.2 199.3l2.1 .4l-1.2-2.1l-2.1-.3z" color="#30e"/><path d="M173 198.9l2.2 .4l-1.2-2l-2.2-.7z" color="#20f"/><path d="M168.7 197.5l2.2 .6l2.1 .8l-1.2-2.3l-2.1-.7l-2.2-.5z" color="#10f"/><path d="M166.5 196.6l2.2 .9l-1.2-2.1l-2.2-.9z" color="#00f"/><path d="M164.3 196l2.2 .6l-1.2-2.1l-2.1-.8z" color="#01f"/><path d="M162.1 195.2l2.2 .8l-1.1-2.3l-2.2-.8z" color="#02f"/><path d="M159.9 193.7l2.2 1.5l-1.1-2.3l-2.2-1.7z" color="#04f"/><path d="M155.4 193l2.3 .1l2.2 .6l-1.1-2.5l-2.2-.9l-2.3-.2z" color="#06f"/><path d="M153.2 191.1l2.2 1.9l-1.1-2.9l-2.2-1.3z" color="#07f"/><path d="M150.9 188.4l2.3 2.7l-1.1-2.3l-2.3-2.8z" color="#0af"/><path d="M148.6 185.9l2.3 2.5l-1.1-2.4l-2.2-2.3z" color="#0fe"/><path d="M146.3 184.7l2.3 1.2l-1-2.2l-2.3-1.1z" color="#0f8"/><path d="M144 184l2.3 .7l-1-2.1l-2.3-.9z" color="#0f3"/><path d="M141.7 182.6l2.3 1.4l-1-2.3l-2.3-1.7z" color="#0f0"/><path d="M139.4 181.5l2.3 1.1l-1-2.6l-2.3-.9z" color="#1f0"/><path d="M291.6 163l2-.7l-1.8-2.3l-2 1.3z" color="#1f0"/><path d="M289.6 163.8l2-.8l-1.8-1.7l-2.1 1.1z" color="#0f0"/><path d="M285.5 166.3l2-.7l2.1-1.8l-1.9-1.4l-2.1 1.7l-2 .8z" color="#0f3"/><path d="M283.4 167.6l2.1-1.3l-1.9-1.4l-2.1 1.4z" color="#0f8"/><path d="M281.3 168.5l2.1-.9l-1.9-1.3l-2 1z" color="#0fb"/><path d="M275.3 170.8l2-.9l2-.7l2-.7l-1.8-1.2l-2.1 1.3l-2 .6l-2 1z" color="#0fe"/><path d="M273 173.8l2.3-3l-1.9-.6l-2.3 2.9z" color="#0cf"/><path d="M270.8 176.1l2.2-2.3l-1.9-.7l-2.1 1.8z" color="#09f"/><path d="M268.7 177.1l2.1-1l-1.8-1.2l-2.1 .9z" color="#07f"/><path d="M266.6 178.6l2.1-1.5l-1.8-1.3l-2.1 1.6z" color="#06f"/><path d="M264.4 180.9l2.2-2.3l-1.8-1.2l-2.1 2.1z" color="#05f"/><path d="M262.2 182.9l2.2-2l-1.7-1.4l-2.2 1.8z" color="#02f"/><path d="M260 185.1l2.2-2.2l-1.7-1.6l-2.1 1.8z" color="#01f"/><path d="M258 185.9l2-.8l-1.6-2l-2.1 .9z" color="#00f"/><path d="M253.9 188l2-1.1l2.1-1l-1.7-1.9l-2 1.2l-2.1 1.2z" color="#10f"/><path d="M251.8 189.1l2.1-1.1l-1.7-1.6l-2.1 1.2z" color="#20f"/><path d="M247.7 191.1l2-1.1l2.1-.9l-1.7-1.5l-2 1l-2.1 1.1z" color="#30e"/><path d="M245.5 192.6l2.2-1.5l-1.7-1.4l-2.1 1.4z" color="#50e"/><path d="M243.4 193.9l2.1-1.3l-1.6-1.5l-2.1 1.3z" color="#60e"/><path d="M241.3 195.5l2.1-1.6l-1.6-1.5l-2.1 1.3z" color="#60d"/><path d="M239.1 197.5l2.2-2l-1.6-1.8l-2.1 1.8z" color="#70c"/><path d="M237 199.4l2.1-1.9l-1.5-2l-2.1 1.7z" color="#80b"/><path d="M232.8 201.8l2-.8l2.2-1.6l-1.5-2.2l-2.1 1.4l-2.1 .9z" color="#80a"/><path d="M230.7 202.7l2.1-.9l-1.5-2.3l-2.1 1z" color="#809"/><path d="M226.5 204.7l2.1-1l2.1-1l-1.5-2.2l-2.1 1.1l-2 .9z" color="#709"/><path d="M216.2 206.8l2.1 .1l2-.2l2.1-.2l2-.8l2.1-1l-1.4-2.2l-2.1 1l-2.1 .9l-2 .2l-2 0l-2-.2z" color="#708"/><path d="M210.1 206.4l2.1 0l2 .3l2 .1l-1.3-2.4l-2.1-.2l-2-.3l-2 0z" color="#709"/><path d="M206 205.8l2.1 .1l2 .5l-1.3-2.5l-2.1-.4l-2-.1z" color="#809"/><path d="M204 205.3l2 .5l-1.3-2.4l-2.1-.5z" color="#80a"/><path d="M199.8 205l2.1 0l2.1 .3l-1.4-2.4l-2-.2l-2.1-.1z" color="#80b"/><path d="M195.6 204.4l2.1 .2l2.1 .4l-1.3-2.4l-2.1-.3l-2.1-.3z" color="#80c"/><path d="M191.4 203.4l2.1 .4l2.1 .6l-1.3-2.4l-2.1-.6l-2.1-.3z" color="#70c"/><path d="M187.2 203l2.1 .5l2.1-.1l-1.3-2.3l-2.1 .2l-2.1-.4z" color="#60d"/><path d="M182.9 203l2.1-.2l2.2 .2l-1.3-2.1l-2.1-.2l-2.2 0z" color="#60e"/><path d="M180.7 202.2l2.2 .8l-1.3-2.3l-2.1-.6z" color="#50e"/><path d="M176.4 201.3l2.2 .4l2.1 .5l-1.2-2.1l-2.2-.4l-2.1-.4z" color="#30e"/><path d="M174.2 201.2l2.2 .1l-1.2-2l-2.2-.4z" color="#20f"/><path d="M169.9 199.7l2.1 .7l2.2 .8l-1.2-2.3l-2.1-.8l-2.2-.6z" color="#10f"/><path d="M167.7 198.8l2.2 .9l-1.2-2.2l-2.2-.9z" color="#00f"/><path d="M165.4 198.4l2.3 .4l-1.2-2.2l-2.2-.6z" color="#01f"/><path d="M163.2 197.6l2.2 .8l-1.1-2.4l-2.2-.8z" color="#02f"/><path d="M161 196.3l2.2 1.3l-1.1-2.4l-2.2-1.5z" color="#04f"/><path d="M158.8 195.9l2.2 .4l-1.1-2.6l-2.2-.6z" color="#05f"/><path d="M156.5 195.8l2.3 .1l-1.1-2.8l-2.3-.1z" color="#06f"/><path d="M154.3 193.4l2.2 2.4l-1.1-2.8l-2.2-1.9z" color="#07f"/><path d="M152 190.8l2.3 2.6l-1.1-2.3l-2.3-2.7z" color="#0af"/><path d="M149.7 188.1l2.3 2.7l-1.1-2.4l-2.3-2.5z" color="#0fe"/><path d="M147.4 186.8l2.3 1.3l-1.1-2.2l-2.3-1.2z" color="#0f8"/><path d="M145.1 186.4l2.3 .4l-1.1-2.1l-2.3-.7z" color="#0f3"/><path d="M142.8 185.3l2.3 1.1l-1.1-2.4l-2.3-1.4z" color="#0f0"/><path d="M140.4 183.9l2.4 1.4l-1.1-2.7l-2.3-1.1z" color="#1f0"/><path class="m" d="M140.4 183.9l2.4 1.4l2.3 1.1l2.3 .4l2.3 1.3l2.3 2.7l2.3 2.6l2.2 2.4l2.3 .1l2.2 .4l2.2 1.3l2.2 .8l2.3 .4l2.2 .9l2.1 .7l2.2 .8l2.2 .1l2.2 .4l2.1 .5l2.2 .8l2.1-.2l2.2 .2l2.1 .5l2.1-.1l2.1 .4l2.1 .6l2.1 .2l2.1 .4l2.1 0l2.1 .3l2 .5l2.1 .1l2 .5l2.1 0l2 .3l2 .1l2.1 .1l2-.2l2.1-.2l2-.8l2.1-1l2.1-1l2.1-1l2.1-.9l2-.8l2.2-1.6l2.1-1.9l2.2-2l2.1-1.6l2.1-1.3l2.2-1.5l2-1.1l2.1-.9l2.1-1.1l2-1.1l2.1-1l2-.8l2.2-2.2l2.2-2l2.2-2.3l2.1-1.5l2.1-1l2.2-2.3l2.3-3l2-.9l2-.7l2-.7l2.1-.9l2.1-1.3l2-.7l2.1-1.8l2-.8l2-.7"/></g><g class="s"><path d="M228.8 22.6l1.7-.1l1.8-.1l1.8-.1l1.7-.1l1.8-.1l1.7-.1l1.7-.1l-1.3-.8l-1.7 0l-1.8 .1l-1.7 .1l-1.7 .1l-1.8 .1l-1.7 .1l-1.8 .1z" color="#f00"/><path d="M227 22.7l1.8-.1l-1.3-.9l-1.7 .1z" color="#f10"/><path d="M225.3 22.8l1.7-.1l-1.2-.9l-1.8 .1z" color="#f50"/><path d="M223.5 22.9l1.8-.1l-1.3-.9l-1.8 .1z" color="#f90"/><path d="M221.7 22.9l1.8 0l-1.3-.9l-1.7 .1z" color="#fb0"/><path d="M219.9 23l1.8-.1l-1.2-.8l-1.8 .1z" color="#fd0"/><path d="M218.1 23.1l1.8-.1l-1.2-.8l-1.8 .1z" color="#df0"/><path d="M216.4 23.2l1.7-.1l-1.2-.8l-1.8 0z" color="#bf0"/><path d="M214.6 23.3l1.8-.1l-1.3-.9l-1.7 .1z" color="#7f0"/><path d="M212.8 23.4l1.8-.1l-1.2-.9l-1.8 .1z" color="#4f0"/><path d="M211 23.5l1.8-.1l-1.2-.9l-1.8 .1z" color="#2f0"/><path d="M209.2 23.6l1.8-.1l-1.2-.9l-1.8 .1z" color="#0f0"/><path d="M207.4 23.7l1.8-.1l-1.2-.9l-1.8 .1z" color="#0f8"/><path d="M205.6 23.8l1.8-.1l-1.2-.9l-1.8 .1z" color="#0fb"/><path d="M203.7 23.9l1.9-.1l-1.2-.9l-1.8 .1z" color="#0fe"/><path d="M201.9 24l1.8-.1l-1.1-.9l-1.8 .1z" color="#0cf"/><path d="M200.1 24.1l1.8-.1l-1.1-.9l-1.9 .1z" color="#0af"/><path d="M198.3 24.2l1.8-.1l-1.2-.9l-1.8 .1z" color="#09f"/><path d="M196.4 24.3l1.9-.1l-1.2-.9l-1.8 .1z" color="#06f"/><path d="M194.6 24.4l1.8-.1l-1.1-.9l-1.8 .1z" color="#04f"/><path d="M192.8 24.5l1.8-.1l-1.1-.9l-1.9 .1z" color="#02f"/><path d="M190.9 24.6l1.9-.1l-1.2-.9l-1.8 .1z" color="#00f"/><path d="M189.1 24.7l1.8-.1l-1.1-.9l-1.8 .1z" color="#10f"/><path d="M187.2 24.8l1.9-.1l-1.1-.9l-1.9 .1z" color="#20f"/><path d="M185.4 24.9l1.8-.1l-1.1-.9l-1.8 .1z" color="#30e"/><path d="M183.5 25l1.9-.1l-1.1-.9l-1.9 .1z" color="#50e"/><path d="M181.6 25.1l1.9-.1l-1.1-.9l-1.8 .1z" color="#60d"/><path d="M179.8 25.2l1.8-.1l-1-.9l-1.9 .1z" color="#70c"/><path d="M177.9 25.3l1.9-.1l-1.1-.9l-1.8 .1z" color="#80c"/><path d="M176 25.4l1.9-.1l-1-.9l-1.9 .1z" color="#80b"/><path d="M172.3 25.6l1.8-.1l1.9-.1l-1-.9l-1.9 .1l-1.9 .1z" color="#80c"/><path d="M170.4 25.7l1.9-.1l-1.1-.9l-1.8 .1z" color="#70c"/><path d="M168.5 25.8l1.9-.1l-1-.9l-1.9 .1z" color="#60d"/><path d="M166.6 25.9l1.9-.1l-1-.9l-1.9 0z" color="#60e"/><path d="M164.7 26l1.9-.1l-1-1l-1.9 .1z" color="#50e"/><path d="M162.8 26.1l1.9-.1l-1-1l-1.9 .1z" color="#30e"/><path d="M160.9 26.2l1.9-.1l-1-1l-1.9 .1z" color="#20f"/><path d="M159 26.3l1.9-.1l-1-1l-1.9 .1z" color="#10f"/><path d="M157 26.4l2-.1l-1-1l-1.9 .1z" color="#00f"/><path d="M155.1 26.5l1.9-.1l-.9-1l-1.9 .1z" color="#01f"/><path d="M153.2 26.6l1.9-.1l-.9-1l-1.9 .2z" color="#04f"/><path d="M151.2 26.7l2-.1l-.9-.9l-2 .1z" color="#05f"/><path d="M149.3 26.8l1.9-.1l-.9-.9l-1.9 .1z" color="#07f"/><path d="M147.4 26.9l1.9-.1l-.9-.9l-1.9 .1z" color="#0cf"/><path d="M145.4 27l2-.1l-.9-.9l-2 .1z" color="#0fe"/><path d="M143.5 27.1l1.9-.1l-.9-.9l-1.9 .1z" color="#0f8"/><path d="M141.5 27.2l2-.1l-.9-.9l-1.9 .1z" color="#0f3"/><path d="M139.6 27.3l1.9-.1l-.8-.9l-2 .1z" color="#2f0"/><path d="M137.6 27.4l2-.1l-.9-.9l-1.9 .1z" color="#4f0"/><path d="M135.6 27.5l2-.1l-.8-.9l-2 .1z" color="#5f0"/><path d="M133.7 27.6l1.9-.1l-.8-.9l-2 .1z" color="#7f0"/><path d="M131.7 27.7l2-.1l-.9-.9l-1.9 .1z" color="#9f0"/><path d="M129.7 27.8l2-.1l-.8-.9l-2 .1z" color="#cf0"/><path d="M127.7 27.9l2-.1l-.8-.9l-2 .1z" color="#df0"/><path d="M125.7 28l2-.1l-.8-.9l-2 .1z" color="#ff0"/><path d="M123.7 28.1l2-.1l-.8-.9l-1.9 .1z" color="#fe0"/><path d="M121.7 28.3l2-.2l-.7-.9l-2 .1z" color="#fd0"/><path d="M119.7 28.4l2-.1l-.7-1l-2 .1z" color="#fb0"/><path d="M117.7 28.5l2-.1l-.7-1l-2 .1z" color="#fa0"/><path d="M115.7 28.6l2-.1l-.7-1l-2 .1z" color="#f50"/><path d="M113.7 28.7l2-.1l-.7-1l-2 .1z" color="#f10"/><path d="M107.6 29l2-.1l2.1-.1l2-.1l-.7-1l-2 .1l-2.1 .1l-2 .1z" color="#f00"/><path d="M105.6 29.1l2-.1l-.7-1l-2 .1z" color="#c00"/><path d="M231.8 23.4l1.8-.1l1.8-.1l1.7-.1l1.8-.1l1.7-.1l1.8-.1l-1.4-.9l-1.7 .1l-1.7 .1l-1.8 .1l-1.7 .1l-1.8 .1l-1.8 .1z" color="#f00"/><path d="M230.1 23.5l1.7-.1l-1.3-.9l-1.7 .1z" color="#f30"/><path d="M228.3 23.5l1.8 0l-1.3-.9l-1.8 .1z" color="#f50"/><path d="M226.5 23.6l1.8-.1l-1.3-.8l-1.7 .1z" color="#f80"/><path d="M224.8 23.7l1.7-.1l-1.2-.8l-1.8 .1z" color="#fb0"/><path d="M223 23.8l1.8-.1l-1.3-.8l-1.8 0z" color="#fc0"/><path d="M221.2 23.9l1.8-.1l-1.3-.9l-1.8 .1z" color="#ff0"/><path d="M219.4 24l1.8-.1l-1.3-.9l-1.8 .1z" color="#df0"/><path d="M217.6 24.1l1.8-.1l-1.3-.9l-1.7 .1z" color="#bf0"/><path d="M215.8 24.2l1.8-.1l-1.2-.9l-1.8 .1z" color="#8f0"/><path d="M214 24.3l1.8-.1l-1.2-.9l-1.8 .1z" color="#6f0"/><path d="M212.2 24.4l1.8-.1l-1.2-.9l-1.8 .1z" color="#3f0"/><path d="M210.4 24.5l1.8-.1l-1.2-.9l-1.8 .1z" color="#1f0"/><path d="M208.6 24.6l1.8-.1l-1.2-.9l-1.8 .1z" color="#0f3"/><path d="M206.7 24.7l1.9-.1l-1.2-.9l-1.8 .1z" color="#0f8"/><path d="M204.9 24.8l1.8-.1l-1.1-.9l-1.9 .1z" color="#0fb"/><path d="M203.1 24.9l1.8-.1l-1.2-.9l-1.8 .1z" color="#0ef"/><path d="M201.3 25l1.8-.1l-1.2-.9l-1.8 .1z" color="#0cf"/><path d="M199.4 25.1l1.9-.1l-1.2-.9l-1.8 .1z" color="#09f"/><path d="M197.6 25.2l1.8-.1l-1.1-.9l-1.9 .1z" color="#06f"/><path d="M195.7 25.3l1.9-.1l-1.2-.9l-1.8 .1z" color="#04f"/><path d="M193.9 25.4l1.8-.1l-1.1-.9l-1.8 .1z" color="#01f"/><path d="M192 25.5l1.9-.1l-1.1-.9l-1.9 .1z" color="#10f"/><path d="M190.2 25.6l1.8-.1l-1.1-.9l-1.8 .1z" color="#20f"/><path d="M188.3 25.7l1.9-.1l-1.1-.9l-1.9 .1z" color="#30e"/><path d="M186.5 25.8l1.8-.1l-1.1-.9l-1.8 .1z" color="#60e"/><path d="M184.6 25.9l1.9-.1l-1.1-.9l-1.9 .1z" color="#60d"/><path d="M182.7 26l1.9-.1l-1.1-.9l-1.9 .1z" color="#70c"/><path d="M180.8 26.1l1.9-.1l-1.1-.9l-1.8 .1z" color="#80b"/><path d="M177.1 26.3l1.9-.1l1.8-.1l-1-.9l-1.9 .1l-1.9 .1z" color="#80a"/><path d="M175.2 26.4l1.9-.1l-1.1-.9l-1.9 .1z" color="#80b"/><path d="M171.4 26.6l1.9-.1l1.9-.1l-1.1-.9l-1.8 .1l-1.9 .1z" color="#80c"/><path d="M169.5 26.7l1.9-.1l-1-.9l-1.9 .1z" color="#70c"/><path d="M167.6 26.8l1.9-.1l-1-.9l-1.9 .1z" color="#60d"/><path d="M165.7 26.9l1.9-.1l-1-.9l-1.9 .1z" color="#60e"/><path d="M163.8 27l1.9-.1l-1-.9l-1.9 .1z" color="#50e"/><path d="M161.8 27.1l2-.1l-1-.9l-1.9 .1z" color="#30e"/><path d="M159.9 27.2l1.9-.1l-.9-.9l-1.9 .1z" color="#20f"/><path d="M158 27.3l1.9-.1l-.9-.9l-2 .1z" color="#10f"/><path d="M156 27.4l2-.1l-1-.9l-1.9 .1z" color="#00f"/><path d="M154.1 27.5l1.9-.1l-.9-.9l-1.9 .1z" color="#01f"/><path d="M152.2 27.6l1.9-.1l-.9-.9l-2 .1z" color="#04f"/><path d="M150.2 27.7l2-.1l-1-.9l-1.9 .1z" color="#06f"/><path d="M148.3 27.8l1.9-.1l-.9-.9l-1.9 .1z" color="#0af"/><path d="M146.3 27.9l2-.1l-.9-.9l-2 .1z" color="#0ef"/><path d="M144.4 28.1l1.9-.2l-.9-.9l-1.9 .1z" color="#0fe"/><path d="M142.4 28.2l2-.1l-.9-1l-2 .1z" color="#0f8"/><path d="M140.4 28.3l2-.1l-.9-1l-1.9 .1z" color="#0f0"/><path d="M138.5 28.4l1.9-.1l-.8-1l-2 .1z" color="#2f0"/><path d="M136.5 28.5l2-.1l-.9-1l-2 .1z" color="#4f0"/><path d="M134.5 28.6l2-.1l-.9-1l-1.9 .1z" color="#6f0"/><path d="M132.5 28.7l2-.1l-.8-1l-2 .1z" color="#8f0"/><path d="M130.5 28.8l2-.1l-.8-1l-2 .1z" color="#af0"/><path d="M128.5 28.9l2-.1l-.8-1l-2 .1z" color="#cf0"/><path d="M126.5 29l2-.1l-.8-1l-2 .1z" color="#df0"/><path d="M124.5 29.1l2-.1l-.8-1l-2 .1z" color="#ef0"/><path d="M122.5 29.2l2-.1l-.8-1l-2 .2z" color="#fe0"/><path d="M120.5 29.3l2-.1l-.8-.9l-2 .1z" color="#fd0"/><path d="M118.5 29.4l2-.1l-.8-.9l-2 .1z" color="#fb0"/><path d="M116.4 29.6l2.1-.2l-.8-.9l-2 .1z" color="#f90"/><path d="M114.4 29.7l2-.1l-.7-1l-2 .1z" color="#f50"/><path d="M112.4 29.8l2-.1l-.7-1l-2 .1z" color="#f30"/><path d="M106.3 30.1l2-.1l2-.1l2.1-.1l-.7-1l-2.1 .1l-2 .1l-2 .1z" color="#f00"/><path d="M236.7 24.1l1.8-.1l1.7-.1l1.8-.1l1.7-.1l-1.3-.9l-1.8 .1l-1.7 .1l-1.8 .1l-1.7 .1z" color="#f00"/><path d="M234.9 24.1l1.8 0l-1.3-.9l-1.8 .1z" color="#f10"/><path d="M233.2 24.2l1.7-.1l-1.3-.8l-1.8 .1z" color="#f30"/><path d="M231.4 24.3l1.8-.1l-1.4-.8l-1.7 .1z" color="#f70"/><path d="M229.6 24.4l1.8-.1l-1.3-.8l-1.8 0z" color="#f90"/><path d="M226 24.6l1.8-.1l1.8-.1l-1.3-.9l-1.8 .1l-1.7 .1z" color="#fb0"/><path d="M224.2 24.7l1.8-.1l-1.2-.9l-1.8 .1z" color="#fd0"/><path d="M222.4 24.8l1.8-.1l-1.2-.9l-1.8 .1z" color="#ef0"/><path d="M220.6 24.9l1.8-.1l-1.2-.9l-1.8 .1z" color="#df0"/><path d="M218.8 25l1.8-.1l-1.2-.9l-1.8 .1z" color="#bf0"/><path d="M217 25.1l1.8-.1l-1.2-.9l-1.8 .1z" color="#9f0"/><path d="M215.2 25.2l1.8-.1l-1.2-.9l-1.8 .1z" color="#7f0"/><path d="M213.4 25.3l1.8-.1l-1.2-.9l-1.8 .1z" color="#4f0"/><path d="M211.6 25.4l1.8-.1l-1.2-.9l-1.8 .1z" color="#2f0"/><path d="M209.8 25.5l1.8-.1l-1.2-.9l-1.8 .1z" color="#0f0"/><path d="M207.9 25.6l1.9-.1l-1.2-.9l-1.9 .1z" color="#0f3"/><path d="M206.1 25.7l1.8-.1l-1.2-.9l-1.8 .1z" color="#0fb"/><path d="M204.3 25.8l1.8-.1l-1.2-.9l-1.8 .1z" color="#0fe"/><path d="M202.4 25.9l1.9-.1l-1.2-.9l-1.8 .1z" color="#0ef"/><path d="M200.6 26l1.8-.1l-1.1-.9l-1.9 .1z" color="#0af"/><path d="M198.7 26.1l1.9-.1l-1.2-.9l-1.8 .1z" color="#07f"/><path d="M196.9 26.2l1.8-.1l-1.1-.9l-1.9 .1z" color="#04f"/><path d="M195 26.3l1.9-.1l-1.2-.9l-1.8 .1z" color="#01f"/><path d="M193.2 26.4l1.8-.1l-1.1-.9l-1.9 .1z" color="#20f"/><path d="M191.3 26.5l1.9-.1l-1.2-.9l-1.8 .1z" color="#50e"/><path d="M189.4 26.6l1.9-.1l-1.1-.9l-1.9 .1z" color="#60e"/><path d="M187.6 26.7l1.8-.1l-1.1-.9l-1.8 .1z" color="#60d"/><path d="M185.7 26.8l1.9-.1l-1.1-.9l-1.9 .1z" color="#80c"/><path d="M183.8 26.9l1.9-.1l-1.1-.9l-1.9 .1z" color="#80b"/><path d="M181.9 27l1.9-.1l-1.1-.9l-1.9 .1z" color="#80a"/><path d="M178.1 27.2l1.9-.1l1.9-.1l-1.1-.9l-1.8 .1l-1.9 .1z" color="#809"/><path d="M176.2 27.3l1.9-.1l-1-.9l-1.9 .1z" color="#80a"/><path d="M174.3 27.4l1.9-.1l-1-.9l-1.9 .1z" color="#80b"/><path d="M172.4 27.5l1.9-.1l-1-.9l-1.9 .1z" color="#80c"/><path d="M170.5 27.6l1.9-.1l-1-.9l-1.9 .1z" color="#70c"/><path d="M168.6 27.8l1.9-.2l-1-.9l-1.9 .1z" color="#60d"/><path d="M164.7 28l2-.1l1.9-.1l-1-1l-1.9 .1l-1.9 .1z" color="#60e"/><path d="M160.9 28.2l1.9-.1l1.9-.1l-.9-1l-2 .1l-1.9 .1z" color="#50e"/><path d="M158.9 28.3l2-.1l-1-1l-1.9 .1z" color="#20f"/><path d="M157 28.4l1.9-.1l-.9-1l-2 .1z" color="#10f"/><path d="M155.1 28.5l1.9-.1l-1-1l-1.9 .1z" color="#00f"/><path d="M153.1 28.6l2-.1l-1-1l-1.9 .1z" color="#02f"/><path d="M151.1 28.7l2-.1l-.9-1l-2 .1z" color="#05f"/><path d="M149.2 28.8l1.9-.1l-.9-1l-1.9 .1z" color="#09f"/><path d="M147.2 28.9l2-.1l-.9-1l-2 .1z" color="#0cf"/><path d="M145.3 29l1.9-.1l-.9-1l-1.9 .2z" color="#0ef"/><path d="M143.3 29.1l2-.1l-.9-.9l-2 .1z" color="#0fb"/><path d="M141.3 29.2l2-.1l-.9-.9l-2 .1z" color="#0f3"/><path d="M139.3 29.3l2-.1l-.9-.9l-1.9 .1z" color="#1f0"/><path d="M137.3 29.4l2-.1l-.8-.9l-2 .1z" color="#2f0"/><path d="M135.3 29.6l2-.2l-.8-.9l-2 .1z" color="#4f0"/><path d="M133.3 29.7l2-.1l-.8-1l-2 .1z" color="#6f0"/><path d="M131.3 29.8l2-.1l-.8-1l-2 .1z" color="#7f0"/><path d="M129.3 29.9l2-.1l-.8-1l-2 .1z" color="#9f0"/><path d="M127.3 30l2-.1l-.8-1l-2 .1z" color="#bf0"/><path d="M123.3 30.2l2-.1l2-.1l-.8-1l-2 .1l-2 .1z" color="#df0"/><path d="M121.3 30.3l2-.1l-.8-1l-2 .1z" color="#ff0"/><path d="M119.2 30.4l2.1-.1l-.8-1l-2 .1z" color="#fd0"/><path d="M117.2 30.5l2-.1l-.7-1l-2.1 .2z" color="#fb0"/><path d="M115.2 30.7l2-.2l-.8-.9l-2 .1z" color="#f90"/><path d="M113.1 30.8l2.1-.1l-.8-1l-2 .1z" color="#f70"/><path d="M111.1 30.9l2-.1l-.7-1l-2.1 .1z" color="#f40"/><path d="M107 31.1l2-.1l2.1-.1l-.8-1l-2 .1l-2 .1z" color="#f00"/><path d="M241.6 24.8l1.8-.1l1.7-.1l-1.4-.9l-1.7 .1l-1.8 .1z" color="#f00"/><path d="M239.8 24.9l1.8-.1l-1.4-.9l-1.7 .1z" color="#f10"/><path d="M236.3 25l1.8 0l1.7-.1l-1.3-.9l-1.8 .1l-1.8 0z" color="#f40"/><path d="M234.5 25.1l1.8-.1l-1.4-.9l-1.7 .1z" color="#f70"/><path d="M232.7 25.2l1.8-.1l-1.3-.9l-1.8 .1z" color="#f90"/><path d="M230.9 25.3l1.8-.1l-1.3-.9l-1.8 .1z" color="#fb0"/><path d="M229.1 25.4l1.8-.1l-1.3-.9l-1.8 .1z" color="#fc0"/><path d="M227.3 25.5l1.8-.1l-1.3-.9l-1.8 .1z" color="#fd0"/><path d="M225.5 25.6l1.8-.1l-1.3-.9l-1.8 .1z" color="#fe0"/><path d="M221.9 25.8l1.8-.1l1.8-.1l-1.3-.9l-1.8 .1l-1.8 .1z" color="#df0"/><path d="M220.1 25.9l1.8-.1l-1.3-.9l-1.8 .1z" color="#bf0"/><path d="M218.3 26l1.8-.1l-1.3-.9l-1.8 .1z" color="#af0"/><path d="M216.5 26.1l1.8-.1l-1.3-.9l-1.8 .1z" color="#8f0"/><path d="M214.6 26.2l1.9-.1l-1.3-.9l-1.8 .1z" color="#6f0"/><path d="M212.8 26.3l1.8-.1l-1.2-.9l-1.8 .1z" color="#3f0"/><path d="M211 26.4l1.8-.1l-1.2-.9l-1.8 .1z" color="#1f0"/><path d="M209.1 26.5l1.9-.1l-1.2-.9l-1.9 .1z" color="#0f0"/><path d="M207.3 26.6l1.8-.1l-1.2-.9l-1.8 .1z" color="#0f8"/><path d="M205.5 26.7l1.8-.1l-1.2-.9l-1.8 .1z" color="#0fb"/><path d="M203.6 26.8l1.9-.1l-1.2-.9l-1.9 .1z" color="#0fe"/><path d="M201.8 26.9l1.8-.1l-1.2-.9l-1.8 .1z" color="#0cf"/><path d="M199.9 27l1.9-.1l-1.2-.9l-1.9 .1z" color="#07f"/><path d="M198 27.1l1.9-.1l-1.2-.9l-1.8 .1z" color="#04f"/><path d="M196.2 27.2l1.8-.1l-1.1-.9l-1.9 .1z" color="#00f"/><path d="M194.3 27.4l1.9-.2l-1.2-.9l-1.8 .1z" color="#30e"/><path d="M192.4 27.5l1.9-.1l-1.1-1l-1.9 .1z" color="#60e"/><path d="M190.6 27.6l1.8-.1l-1.1-1l-1.9 .1z" color="#60d"/><path d="M188.7 27.7l1.9-.1l-1.2-1l-1.8 .1z" color="#80c"/><path d="M186.8 27.8l1.9-.1l-1.1-1l-1.9 .1z" color="#80b"/><path d="M184.9 27.9l1.9-.1l-1.1-1l-1.9 .1z" color="#809"/><path d="M183 28l1.9-.1l-1.1-1l-1.9 .1z" color="#709"/><path d="M181.1 28.1l1.9-.1l-1.1-1l-1.9 .1z" color="#708"/><path d="M179.2 28.2l1.9-.1l-1.1-1l-1.9 .1z" color="#709"/><path d="M177.3 28.3l1.9-.1l-1.1-1l-1.9 .1z" color="#809"/><path d="M175.4 28.4l1.9-.1l-1.1-1l-1.9 .1z" color="#80a"/><path d="M173.5 28.5l1.9-.1l-1.1-1l-1.9 .1z" color="#80b"/><path d="M171.5 28.6l2-.1l-1.1-1l-1.9 .1z" color="#80c"/><path d="M169.6 28.7l1.9-.1l-1-1l-1.9 .2z" color="#70c"/><path d="M165.7 28.9l2-.1l1.9-.1l-1-.9l-1.9 .1l-2 .1z" color="#60d"/><path d="M161.9 29.1l1.9-.1l1.9-.1l-1-.9l-1.9 .1l-1.9 .1z" color="#60e"/><path d="M159.9 29.2l2-.1l-1-.9l-2 .1z" color="#30e"/><path d="M158 29.3l1.9-.1l-1-.9l-1.9 .1z" color="#20f"/><path d="M156 29.5l2-.2l-1-.9l-1.9 .1z" color="#10f"/><path d="M154 29.6l2-.1l-.9-1l-2 .1z" color="#01f"/><path d="M152.1 29.7l1.9-.1l-.9-1l-2 .1z" color="#04f"/><path d="M150.1 29.8l2-.1l-1-1l-1.9 .1z" color="#07f"/><path d="M148.1 29.9l2-.1l-.9-1l-2 .1z" color="#09f"/><path d="M146.2 30l1.9-.1l-.9-1l-1.9 .1z" color="#0cf"/><path d="M144.2 30.1l2-.1l-.9-1l-2 .1z" color="#0ef"/><path d="M142.2 30.2l2-.1l-.9-1l-2 .1z" color="#0fb"/><path d="M140.2 30.3l2-.1l-.9-1l-2 .1z" color="#0f3"/><path d="M138.2 30.4l2-.1l-.9-1l-2 .1z" color="#1f0"/><path d="M136.2 30.5l2-.1l-.9-1l-2 .2z" color="#3f0"/><path d="M134.2 30.7l2-.2l-.9-.9l-2 .1z" color="#4f0"/><path d="M132.2 30.8l2-.1l-.9-1l-2 .1z" color="#5f0"/><path d="M130.2 30.9l2-.1l-.9-1l-2 .1z" color="#7f0"/><path d="M128.1 31l2.1-.1l-.9-1l-2 .1z" color="#9f0"/><path d="M126.1 31.1l2-.1l-.8-1l-2 .1z" color="#bf0"/><path d="M124.1 31.2l2-.1l-.8-1l-2 .1z" color="#cf0"/><path d="M122 31.3l2.1-.1l-.8-1l-2 .1z" color="#df0"/><path d="M120 31.4l2-.1l-.7-1l-2.1 .1z" color="#fe0"/><path d="M118 31.5l2-.1l-.8-1l-2 .1z" color="#fd0"/><path d="M113.8 31.8l2.1-.1l2.1-.2l-.8-1l-2 .2l-2.1 .1z" color="#fb0"/><path d="M111.8 31.9l2-.1l-.7-1l-2 .1z" color="#f90"/><path d="M109.7 32l2.1-.1l-.7-1l-2.1 .1z" color="#f50"/><path d="M107.7 32.1l2-.1l-.7-1l-2 .1z" color="#f30"/><path d="M244.7 25.6l1.8-.1l-1.4-.9l-1.7 .1z" color="#f10"/><path d="M243 25.7l1.7-.1l-1.3-.9l-1.8 .1z" color="#f30"/><path d="M241.2 25.8l1.8-.1l-1.4-.9l-1.8 .1z" color="#f40"/><path d="M239.4 25.9l1.8-.1l-1.4-.9l-1.7 .1z" color="#f70"/><path d="M237.6 26l1.8-.1l-1.3-.9l-1.8 0z" color="#f80"/><path d="M235.8 26.1l1.8-.1l-1.3-1l-1.8 .1z" color="#f90"/><path d="M234 26.2l1.8-.1l-1.3-1l-1.8 .1z" color="#fb0"/><path d="M232.2 26.3l1.8-.1l-1.3-1l-1.8 .1z" color="#fc0"/><path d="M230.4 26.4l1.8-.1l-1.3-1l-1.8 .1z" color="#fd0"/><path d="M228.6 26.5l1.8-.1l-1.3-1l-1.8 .1z" color="#fe0"/><path d="M226.8 26.6l1.8-.1l-1.3-1l-1.8 .1z" color="#ff0"/><path d="M225 26.7l1.8-.1l-1.3-1l-1.8 .1z" color="#df0"/><path d="M223.2 26.8l1.8-.1l-1.3-1l-1.8 .1z" color="#bf0"/><path d="M221.4 26.9l1.8-.1l-1.3-1l-1.8 .1z" color="#af0"/><path d="M219.6 27l1.8-.1l-1.3-1l-1.8 .1z" color="#9f0"/><path d="M217.7 27.1l1.9-.1l-1.3-1l-1.8 .1z" color="#8f0"/><path d="M215.9 27.2l1.8-.1l-1.2-1l-1.9 .1z" color="#6f0"/><path d="M214.1 27.3l1.8-.1l-1.3-1l-1.8 .1z" color="#3f0"/><path d="M212.2 27.4l1.9-.1l-1.3-1l-1.8 .1z" color="#1f0"/><path d="M210.4 27.5l1.8-.1l-1.2-1l-1.9 .1z" color="#0f0"/><path d="M208.5 27.6l1.9-.1l-1.3-1l-1.8 .1z" color="#0f8"/><path d="M206.7 27.7l1.8-.1l-1.2-1l-1.8 .1z" color="#0fb"/><path d="M204.8 27.8l1.9-.1l-1.2-1l-1.9 .1z" color="#0ef"/><path d="M203 27.9l1.8-.1l-1.2-1l-1.8 .1z" color="#0af"/><path d="M201.1 28l1.9-.1l-1.2-1l-1.9 .1z" color="#06f"/><path d="M199.2 28.1l1.9-.1l-1.2-1l-1.9 .1z" color="#02f"/><path d="M197.3 28.2l1.9-.1l-1.2-1l-1.8 .1z" color="#10f"/><path d="M195.5 28.3l1.8-.1l-1.1-1l-1.9 .2z" color="#50e"/><path d="M193.6 28.4l1.9-.1l-1.2-.9l-1.9 .1z" color="#60d"/><path d="M191.7 28.5l1.9-.1l-1.2-.9l-1.8 .1z" color="#70c"/><path d="M189.8 28.6l1.9-.1l-1.1-.9l-1.9 .1z" color="#80b"/><path d="M187.9 28.7l1.9-.1l-1.1-.9l-1.9 .1z" color="#80a"/><path d="M186 28.8l1.9-.1l-1.1-.9l-1.9 .1z" color="#709"/><path d="M180.3 29.1l1.9-.1l1.9-.1l1.9-.1l-1.1-.9l-1.9 .1l-1.9 .1l-1.9 .1z" color="#708"/><path d="M178.4 29.2l1.9-.1l-1.1-.9l-1.9 .1z" color="#709"/><path d="M176.4 29.4l2-.2l-1.1-.9l-1.9 .1z" color="#809"/><path d="M174.5 29.5l1.9-.1l-1-1l-1.9 .1z" color="#80a"/><path d="M172.6 29.6l1.9-.1l-1-1l-2 .1z" color="#80b"/><path d="M170.6 29.7l2-.1l-1.1-1l-1.9 .1z" color="#80c"/><path d="M168.7 29.8l1.9-.1l-1-1l-1.9 .1z" color="#70c"/><path d="M164.8 30l2-.1l1.9-.1l-1-1l-2 .1l-1.9 .1z" color="#60d"/><path d="M162.9 30.1l1.9-.1l-1-1l-1.9 .1z" color="#60e"/><path d="M160.9 30.2l2-.1l-1-1l-2 .1z" color="#50e"/><path d="M158.9 30.3l2-.1l-1-1l-1.9 .1z" color="#30e"/><path d="M157 30.4l1.9-.1l-.9-1l-2 .2z" color="#20f"/><path d="M155 30.5l2-.1l-1-.9l-2 .1z" color="#00f"/><path d="M153 30.7l2-.2l-1-.9l-1.9 .1z" color="#02f"/><path d="M151 30.8l2-.1l-.9-1l-2 .1z" color="#05f"/><path d="M149.1 30.9l1.9-.1l-.9-1l-2 .1z" color="#07f"/><path d="M147.1 31l2-.1l-1-1l-1.9 .1z" color="#09f"/><path d="M145.1 31.1l2-.1l-.9-1l-2 .1z" color="#0cf"/><path d="M143.1 31.2l2-.1l-.9-1l-2 .1z" color="#0fe"/><path d="M141.1 31.3l2-.1l-.9-1l-2 .1z" color="#0f8"/><path d="M139.1 31.4l2-.1l-.9-1l-2 .1z" color="#0f0"/><path d="M137 31.5l2.1-.1l-.9-1l-2 .1z" color="#1f0"/><path d="M135 31.6l2-.1l-.8-1l-2 .2z" color="#2f0"/><path d="M133 31.8l2-.2l-.8-.9l-2 .1z" color="#3f0"/><path d="M131 31.9l2-.1l-.8-1l-2 .1z" color="#5f0"/><path d="M128.9 32l2.1-.1l-.8-1l-2.1 .1z" color="#7f0"/><path d="M126.9 32.1l2-.1l-.8-1l-2 .1z" color="#9f0"/><path d="M124.9 32.2l2-.1l-.8-1l-2 .1z" color="#af0"/><path d="M122.8 32.3l2.1-.1l-.8-1l-2.1 .1z" color="#cf0"/><path d="M120.8 32.4l2-.1l-.8-1l-2 .1z" color="#ef0"/><path d="M118.7 32.6l2.1-.2l-.8-1l-2 .1z" color="#fe0"/><path d="M114.6 32.8l2.1-.1l2-.1l-.7-1.1l-2.1 .2l-2.1 .1z" color="#fd0"/><path d="M112.5 32.9l2.1-.1l-.8-1l-2 .1z" color="#fb0"/><path d="M110.4 33l2.1-.1l-.7-1l-2.1 .1z" color="#f90"/><path d="M108.4 33.1l2-.1l-.7-1l-2 .1z" color="#f80"/><path d="M244.4 26.6l1.7-.1l1.8-.1l-1.4-.9l-1.8 .1l-1.7 .1z" color="#f50"/><path d="M242.6 26.7l1.8-.1l-1.4-.9l-1.8 .1z" color="#f80"/><path d="M240.8 26.8l1.8-.1l-1.4-.9l-1.8 .1z" color="#f90"/><path d="M239 26.9l1.8-.1l-1.4-.9l-1.8 .1z" color="#fa0"/><path d="M237.2 27l1.8-.1l-1.4-.9l-1.8 .1z" color="#fb0"/><path d="M235.4 27.1l1.8-.1l-1.4-.9l-1.8 .1z" color="#fc0"/><path d="M233.6 27.2l1.8-.1l-1.4-.9l-1.8 .1z" color="#fd0"/><path d="M231.8 27.3l1.8-.1l-1.4-.9l-1.8 .1z" color="#fe0"/><path d="M230 27.4l1.8-.1l-1.4-.9l-1.8 .1z" color="#ff0"/><path d="M228.2 27.5l1.8-.1l-1.4-.9l-1.8 .1z" color="#df0"/><path d="M226.3 27.6l1.9-.1l-1.4-.9l-1.8 .1z" color="#cf0"/><path d="M224.5 27.7l1.8-.1l-1.3-.9l-1.8 .1z" color="#af0"/><path d="M222.7 27.8l1.8-.1l-1.3-.9l-1.8 .1z" color="#8f0"/><path d="M220.8 27.9l1.9-.1l-1.3-.9l-1.8 .1z" color="#7f0"/><path d="M219 28l1.8-.1l-1.2-.9l-1.9 .1z" color="#6f0"/><path d="M217.2 28.1l1.8-.1l-1.3-.9l-1.8 .1z" color="#4f0"/><path d="M215.3 28.2l1.9-.1l-1.3-.9l-1.8 .1z" color="#1f0"/><path d="M213.5 28.3l1.8-.1l-1.2-.9l-1.9 .1z" color="#0f3"/><path d="M211.6 28.4l1.9-.1l-1.3-.9l-1.8 .1z" color="#0f8"/><path d="M209.8 28.5l1.8-.1l-1.2-.9l-1.9 .1z" color="#0fb"/><path d="M207.9 28.6l1.9-.1l-1.3-.9l-1.8 .1z" color="#0ef"/><path d="M206 28.7l1.9-.1l-1.2-.9l-1.9 .1z" color="#0af"/><path d="M204.2 28.8l1.8-.1l-1.2-.9l-1.8 .1z" color="#07f"/><path d="M202.3 28.9l1.9-.1l-1.2-.9l-1.9 .1z" color="#04f"/><path d="M200.4 29l1.9-.1l-1.2-.9l-1.9 .1z" color="#00f"/><path d="M198.5 29.1l1.9-.1l-1.2-.9l-1.9 .1z" color="#30e"/><path d="M196.6 29.3l1.9-.2l-1.2-.9l-1.8 .1z" color="#60e"/><path d="M194.7 29.4l1.9-.1l-1.1-1l-1.9 .1z" color="#70c"/><path d="M192.8 29.5l1.9-.1l-1.1-1l-1.9 .1z" color="#80c"/><path d="M190.9 29.6l1.9-.1l-1.1-1l-1.9 .1z" color="#80b"/><path d="M189 29.7l1.9-.1l-1.1-1l-1.9 .1z" color="#809"/><path d="M187.1 29.8l1.9-.1l-1.1-1l-1.9 .1z" color="#709"/><path d="M181.4 30.1l1.9-.1l1.9-.1l1.9-.1l-1.1-1l-1.9 .1l-1.9 .1l-1.9 .1z" color="#708"/><path d="M179.4 30.2l2-.1l-1.1-1l-1.9 .1z" color="#709"/><path d="M177.5 30.3l1.9-.1l-1-1l-2 .2z" color="#809"/><path d="M175.6 30.4l1.9-.1l-1.1-.9l-1.9 .1z" color="#80a"/><path d="M173.6 30.5l2-.1l-1.1-.9l-1.9 .1z" color="#80b"/><path d="M171.7 30.6l1.9-.1l-1-.9l-2 .1z" color="#80c"/><path d="M167.8 30.9l1.9-.1l2-.2l-1.1-.9l-1.9 .1l-1.9 .1z" color="#70c"/><path d="M165.8 31l2-.1l-1-1l-2 .1z" color="#60d"/><path d="M163.9 31.1l1.9-.1l-1-1l-1.9 .1z" color="#60e"/><path d="M159.9 31.3l2-.1l2-.1l-1-1l-2 .1l-2 .1z" color="#50e"/><path d="M157.9 31.4l2-.1l-1-1l-1.9 .1z" color="#30e"/><path d="M156 31.5l1.9-.1l-.9-1l-2 .1z" color="#10f"/><path d="M154 31.6l2-.1l-1-1l-2 .2z" color="#01f"/><path d="M152 31.8l2-.2l-1-.9l-2 .1z" color="#04f"/><path d="M150 31.9l2-.1l-1-1l-1.9 .1z" color="#06f"/><path d="M148 32l2-.1l-.9-1l-2 .1z" color="#07f"/><path d="M146 32.1l2-.1l-.9-1l-2 .1z" color="#0af"/><path d="M144 32.2l2-.1l-.9-1l-2 .1z" color="#0ef"/><path d="M142 32.3l2-.1l-.9-1l-2 .1z" color="#0fb"/><path d="M139.9 32.4l2.1-.1l-.9-1l-2 .1z" color="#0f3"/><path d="M137.9 32.5l2-.1l-.8-1l-2.1 .1z" color="#0f0"/><path d="M135.9 32.7l2-.2l-.9-1l-2 .1z" color="#1f0"/><path d="M133.9 32.8l2-.1l-.9-1.1l-2 .2z" color="#2f0"/><path d="M131.8 32.9l2.1-.1l-.9-1l-2 .1z" color="#4f0"/><path d="M129.8 33l2-.1l-.8-1l-2.1 .1z" color="#6f0"/><path d="M127.7 33.1l2.1-.1l-.9-1l-2 .1z" color="#8f0"/><path d="M125.7 33.2l2-.1l-.8-1l-2 .1z" color="#9f0"/><path d="M123.6 33.3l2.1-.1l-.8-1l-2.1 .1z" color="#bf0"/><path d="M121.6 33.5l2-.2l-.8-1l-2 .1z" color="#df0"/><path d="M119.5 33.6l2.1-.1l-.8-1.1l-2.1 .2z" color="#ef0"/><path d="M117.4 33.7l2.1-.1l-.8-1l-2 .1z" color="#ff0"/><path d="M115.3 33.8l2.1-.1l-.7-1l-2.1 .1z" color="#fe0"/><path d="M113.3 33.9l2-.1l-.7-1l-2.1 .1z" color="#fd0"/><path d="M111.2 34l2.1-.1l-.8-1l-2.1 .1z" color="#fb0"/><path d="M109.1 34.2l2.1-.2l-.8-1l-2 .1z" color="#fa0"/><path d="M245.8 27.5l1.8-.1l1.7-.1l-1.4-.9l-1.8 .1l-1.7 .1z" color="#f90"/><path d="M244 27.6l1.8-.1l-1.4-.9l-1.8 .1z" color="#fa0"/><path d="M240.4 27.8l1.8-.1l1.8-.1l-1.4-.9l-1.8 .1l-1.8 .1z" color="#fb0"/><path d="M238.6 27.9l1.8-.1l-1.4-.9l-1.8 .1z" color="#fc0"/><path d="M236.8 28l1.8-.1l-1.4-.9l-1.8 .1z" color="#fd0"/><path d="M234.9 28.1l1.9-.1l-1.4-.9l-1.8 .1z" color="#fe0"/><path d="M233.1 28.2l1.8-.1l-1.3-.9l-1.8 .1z" color="#ff0"/><path d="M231.3 28.3l1.8-.1l-1.3-.9l-1.8 .1z" color="#df0"/><path d="M229.5 28.4l1.8-.1l-1.3-.9l-1.8 .1z" color="#cf0"/><path d="M227.7 28.5l1.8-.1l-1.3-.9l-1.9 .1z" color="#af0"/><path d="M225.8 28.6l1.9-.1l-1.4-.9l-1.8 .1z" color="#8f0"/><path d="M224 28.7l1.8-.1l-1.3-.9l-1.8 .1z" color="#7f0"/><path d="M222.1 28.8l1.9-.1l-1.3-.9l-1.9 .1z" color="#5f0"/><path d="M220.3 28.9l1.8-.1l-1.3-.9l-1.8 .1z" color="#4f0"/><path d="M218.4 29l1.9-.1l-1.3-.9l-1.8 .1z" color="#2f0"/><path d="M216.6 29.2l1.8-.2l-1.2-.9l-1.9 .1z" color="#0f0"/><path d="M214.7 29.3l1.9-.1l-1.3-1l-1.8 .1z" color="#0f8"/><path d="M212.9 29.4l1.8-.1l-1.2-1l-1.9 .1z" color="#0fb"/><path d="M211 29.5l1.9-.1l-1.3-1l-1.8 .1z" color="#0ef"/><path d="M209.1 29.6l1.9-.1l-1.2-1l-1.9 .1z" color="#0af"/><path d="M207.3 29.7l1.8-.1l-1.2-1l-1.9 .1z" color="#07f"/><path d="M205.4 29.8l1.9-.1l-1.3-1l-1.8 .1z" color="#05f"/><path d="M203.5 29.9l1.9-.1l-1.2-1l-1.9 .1z" color="#01f"/><path d="M201.6 30l1.9-.1l-1.2-1l-1.9 .1z" color="#20f"/><path d="M199.7 30.1l1.9-.1l-1.2-1l-1.9 .1z" color="#50e"/><path d="M197.8 30.2l1.9-.1l-1.2-1l-1.9 .2z" color="#60d"/><path d="M195.9 30.3l1.9-.1l-1.2-.9l-1.9 .1z" color="#80c"/><path d="M194 30.4l1.9-.1l-1.2-.9l-1.9 .1z" color="#80b"/><path d="M192.1 30.5l1.9-.1l-1.2-.9l-1.9 .1z" color="#80a"/><path d="M190.2 30.6l1.9-.1l-1.2-.9l-1.9 .1z" color="#809"/><path d="M188.3 30.8l1.9-.2l-1.2-.9l-1.9 .1z" color="#709"/><path d="M182.5 31.1l1.9-.1l1.9-.1l2-.1l-1.2-1l-1.9 .1l-1.9 .1l-1.9 .1z" color="#708"/><path d="M180.5 31.2l2-.1l-1.1-1l-2 .1z" color="#709"/><path d="M178.6 31.3l1.9-.1l-1.1-1l-1.9 .1z" color="#809"/><path d="M176.6 31.4l2-.1l-1.1-1l-1.9 .1z" color="#80a"/><path d="M174.7 31.5l1.9-.1l-1-1l-2 .1z" color="#80b"/><path d="M170.8 31.7l1.9-.1l2-.1l-1.1-1l-1.9 .1l-2 .2z" color="#80c"/><path d="M168.8 31.9l2-.2l-1.1-.9l-1.9 .1z" color="#70c"/><path d="M164.9 32.1l2-.1l1.9-.1l-1-1l-2 .1l-1.9 .1z" color="#60d"/><path d="M162.9 32.2l2-.1l-1-1l-2 .1z" color="#60e"/><path d="M160.9 32.3l2-.1l-1-1l-2 .1z" color="#50e"/><path d="M158.9 32.4l2-.1l-1-1l-2 .1z" color="#30e"/><path d="M156.9 32.5l2-.1l-1-1l-1.9 .1z" color="#20f"/><path d="M154.9 32.6l2-.1l-.9-1l-2 .1z" color="#00f"/><path d="M152.9 32.8l2-.2l-.9-1l-2 .2z" color="#01f"/><path d="M150.9 32.9l2-.1l-.9-1l-2 .1z" color="#04f"/><path d="M148.9 33l2-.1l-.9-1l-2 .1z" color="#06f"/><path d="M146.9 33.1l2-.1l-.9-1l-2 .1z" color="#07f"/><path d="M144.9 33.2l2-.1l-.9-1l-2 .1z" color="#0af"/><path d="M142.9 33.3l2-.1l-.9-1l-2 .1z" color="#0fe"/><path d="M140.8 33.4l2.1-.1l-.9-1l-2.1 .1z" color="#0fb"/><path d="M138.8 33.6l2-.2l-.9-1l-2 .1z" color="#0f3"/><path d="M134.7 33.8l2.1-.1l2-.1l-.9-1.1l-2 .2l-2 .1z" color="#1f0"/><path d="M132.7 33.9l2-.1l-.8-1l-2.1 .1z" color="#3f0"/><path d="M130.6 34l2.1-.1l-.9-1l-2 .1z" color="#4f0"/><path d="M128.6 34.1l2-.1l-.8-1l-2.1 .1z" color="#6f0"/><path d="M126.5 34.3l2.1-.2l-.9-1l-2 .1z" color="#8f0"/><path d="M124.4 34.4l2.1-.1l-.8-1.1l-2.1 .1z" color="#9f0"/><path d="M122.3 34.5l2.1-.1l-.8-1.1l-2 .2z" color="#bf0"/><path d="M120.3 34.6l2-.1l-.7-1l-2.1 .1z" color="#df0"/><path d="M118.2 34.7l2.1-.1l-.8-1l-2.1 .1z" color="#ef0"/><path d="M116.1 34.9l2.1-.2l-.8-1l-2.1 .1z" color="#ff0"/><path d="M114 35l2.1-.1l-.8-1.1l-2 .1z" color="#fe0"/><path d="M111.9 35.1l2.1-.1l-.7-1.1l-2.1 .1z" color="#fd0"/><path d="M109.8 35.2l2.1-.1l-.7-1.1l-2.1 .2z" color="#fb0"/><path d="M247.2 28.4l1.8-.1l1.8-.1l-1.5-.9l-1.7 .1l-1.8 .1z" color="#fb0"/><path d="M245.4 28.5l1.8-.1l-1.4-.9l-1.8 .1z" color="#fc0"/><path d="M240 28.8l1.8-.1l1.8-.1l1.8-.1l-1.4-.9l-1.8 .1l-1.8 .1l-1.8 .1z" color="#fd0"/><path d="M236.3 29.1l1.8-.2l1.9-.1l-1.4-.9l-1.8 .1l-1.9 .1z" color="#ff0"/><path d="M232.7 29.3l1.8-.1l1.8-.1l-1.4-1l-1.8 .1l-1.8 .1z" color="#df0"/><path d="M230.8 29.4l1.9-.1l-1.4-1l-1.8 .1z" color="#bf0"/><path d="M229 29.5l1.8-.1l-1.3-1l-1.8 .1z" color="#9f0"/><path d="M227.1 29.6l1.9-.1l-1.3-1l-1.9 .1z" color="#6f0"/><path d="M225.3 29.7l1.8-.1l-1.3-1l-1.8 .1z" color="#5f0"/><path d="M223.4 29.8l1.9-.1l-1.3-1l-1.9 .1z" color="#4f0"/><path d="M221.6 29.9l1.8-.1l-1.3-1l-1.8 .1z" color="#2f0"/><path d="M219.7 30l1.9-.1l-1.3-1l-1.9 .1z" color="#1f0"/><path d="M217.9 30.1l1.8-.1l-1.3-1l-1.8 .2z" color="#0f8"/><path d="M216 30.2l1.9-.1l-1.3-.9l-1.9 .1z" color="#0fb"/><path d="M214.1 30.3l1.9-.1l-1.3-.9l-1.8 .1z" color="#0fe"/><path d="M212.3 30.4l1.8-.1l-1.2-.9l-1.9 .1z" color="#0cf"/><path d="M210.4 30.5l1.9-.1l-1.3-.9l-1.9 .1z" color="#09f"/><path d="M208.5 30.6l1.9-.1l-1.3-.9l-1.8 .1z" color="#05f"/><path d="M206.6 30.8l1.9-.2l-1.2-.9l-1.9 .1z" color="#02f"/><path d="M204.7 30.9l1.9-.1l-1.2-1l-1.9 .1z" color="#10f"/><path d="M202.8 31l1.9-.1l-1.2-1l-1.9 .1z" color="#50e"/><path d="M200.9 31.1l1.9-.1l-1.2-1l-1.9 .1z" color="#60e"/><path d="M199 31.2l1.9-.1l-1.2-1l-1.9 .1z" color="#70c"/><path d="M197.1 31.3l1.9-.1l-1.2-1l-1.9 .1z" color="#80b"/><path d="M195.2 31.4l1.9-.1l-1.2-1l-1.9 .1z" color="#80a"/><path d="M191.3 31.6l2-.1l1.9-.1l-1.2-1l-1.9 .1l-1.9 .1z" color="#809"/><path d="M189.4 31.7l1.9-.1l-1.1-1l-1.9 .2z" color="#709"/><path d="M183.6 32.1l1.9-.1l2-.1l1.9-.2l-1.1-.9l-2 .1l-1.9 .1l-1.9 .1z" color="#708"/><path d="M181.6 32.2l2-.1l-1.1-1l-2 .1z" color="#709"/><path d="M179.7 32.3l1.9-.1l-1.1-1l-1.9 .1z" color="#809"/><path d="M175.8 32.5l1.9-.1l2-.1l-1.1-1l-2 .1l-1.9 .1z" color="#80a"/><path d="M173.8 32.6l2-.1l-1.1-1l-2 .1z" color="#80b"/><path d="M171.8 32.8l2-.2l-1.1-1l-1.9 .1z" color="#80c"/><path d="M167.9 33l2-.1l1.9-.1l-1-1.1l-2 .2l-1.9 .1z" color="#70c"/><path d="M165.9 33.1l2-.1l-1-1l-2 .1z" color="#60d"/><path d="M163.9 33.2l2-.1l-1-1l-2 .1z" color="#60e"/><path d="M159.9 33.4l2-.1l2-.1l-1-1l-2 .1l-2 .1z" color="#50e"/><path d="M157.9 33.5l2-.1l-1-1l-2 .1z" color="#30e"/><path d="M155.9 33.7l2-.2l-1-1l-2 .1z" color="#20f"/><path d="M153.9 33.8l2-.1l-1-1.1l-2 .2z" color="#00f"/><path d="M151.9 33.9l2-.1l-1-1l-2 .1z" color="#02f"/><path d="M149.9 34l2-.1l-1-1l-2 .1z" color="#05f"/><path d="M147.8 34.1l2.1-.1l-1-1l-2 .1z" color="#06f"/><path d="M145.8 34.2l2-.1l-.9-1l-2 .1z" color="#09f"/><path d="M143.8 34.4l2-.2l-.9-1l-2 .1z" color="#0cf"/><path d="M141.7 34.5l2.1-.1l-.9-1.1l-2.1 .1z" color="#0fe"/><path d="M139.7 34.6l2-.1l-.9-1.1l-2 .2z" color="#0f8"/><path d="M137.6 34.7l2.1-.1l-.9-1l-2 .1z" color="#0f0"/><path d="M133.5 34.9l2.1-.1l2-.1l-.8-1l-2.1 .1l-2 .1z" color="#1f0"/><path d="M131.5 35.1l2-.2l-.8-1l-2.1 .1z" color="#3f0"/><path d="M129.4 35.2l2.1-.1l-.9-1.1l-2 .1z" color="#5f0"/><path d="M127.3 35.3l2.1-.1l-.8-1.1l-2.1 .2z" color="#6f0"/><path d="M125.2 35.4l2.1-.1l-.8-1l-2.1 .1z" color="#8f0"/><path d="M123.2 35.5l2-.1l-.8-1l-2.1 .1z" color="#9f0"/><path d="M121.1 35.7l2.1-.2l-.9-1l-2 .1z" color="#bf0"/><path d="M116.9 35.9l2.1-.1l2.1-.1l-.8-1.1l-2.1 .1l-2.1 .2z" color="#df0"/><path d="M114.8 36l2.1-.1l-.8-1l-2.1 .1z" color="#ef0"/><path d="M112.7 36.1l2.1-.1l-.8-1l-2.1 .1z" color="#fe0"/><path d="M110.5 36.3l2.2-.2l-.8-1l-2.1 .1z" color="#fc0"/><path d="M250.4 29.3l1.8-.1l-1.4-1l-1.8 .1z" color="#fc0"/><path d="M246.8 29.5l1.8-.1l1.8-.1l-1.4-1l-1.8 .1l-1.8 .1z" color="#fd0"/><path d="M243.2 29.7l1.8-.1l1.8-.1l-1.4-1l-1.8 .1l-1.8 .1z" color="#fe0"/><path d="M241.4 29.8l1.8-.1l-1.4-1l-1.8 .1z" color="#ff0"/><path d="M239.5 29.9l1.9-.1l-1.4-1l-1.9 .1z" color="#ef0"/><path d="M235.9 30.1l1.8-.1l1.8-.1l-1.4-1l-1.8 .2l-1.8 .1z" color="#df0"/><path d="M234 30.2l1.9-.1l-1.4-.9l-1.8 .1z" color="#bf0"/><path d="M232.2 30.3l1.8-.1l-1.3-.9l-1.9 .1z" color="#9f0"/><path d="M230.3 30.4l1.9-.1l-1.4-.9l-1.8 .1z" color="#7f0"/><path d="M228.5 30.5l1.8-.1l-1.3-.9l-1.9 .1z" color="#5f0"/><path d="M226.6 30.6l1.9-.1l-1.4-.9l-1.8 .1z" color="#3f0"/><path d="M224.8 30.8l1.8-.2l-1.3-.9l-1.9 .1z" color="#2f0"/><path d="M222.9 30.9l1.9-.1l-1.4-1l-1.8 .1z" color="#1f0"/><path d="M221 31l1.9-.1l-1.3-1l-1.9 .1z" color="#0f3"/><path d="M219.2 31.1l1.8-.1l-1.3-1l-1.8 .1z" color="#0fb"/><path d="M217.3 31.2l1.9-.1l-1.3-1l-1.9 .1z" color="#0ef"/><path d="M215.4 31.3l1.9-.1l-1.3-1l-1.9 .1z" color="#0cf"/><path d="M213.5 31.4l1.9-.1l-1.3-1l-1.8 .1z" color="#09f"/><path d="M211.6 31.5l1.9-.1l-1.2-1l-1.9 .1z" color="#06f"/><path d="M209.7 31.6l1.9-.1l-1.2-1l-1.9 .1z" color="#04f"/><path d="M207.8 31.7l1.9-.1l-1.2-1l-1.9 .2z" color="#00f"/><path d="M205.9 31.8l1.9-.1l-1.2-.9l-1.9 .1z" color="#30e"/><path d="M204 32l1.9-.2l-1.2-.9l-1.9 .1z" color="#60e"/><path d="M202.1 32.1l1.9-.1l-1.2-1l-1.9 .1z" color="#60d"/><path d="M200.2 32.2l1.9-.1l-1.2-1l-1.9 .1z" color="#80c"/><path d="M198.3 32.3l1.9-.1l-1.2-1l-1.9 .1z" color="#80b"/><path d="M196.4 32.4l1.9-.1l-1.2-1l-1.9 .1z" color="#80a"/><path d="M194.4 32.5l2-.1l-1.2-1l-1.9 .1z" color="#809"/><path d="M192.5 32.6l1.9-.1l-1.1-1l-2 .1z" color="#709"/><path d="M184.7 33.1l2-.1l1.9-.1l2-.2l1.9-.1l-1.2-1l-1.9 .1l-1.9 .2l-2 .1l-1.9 .1z" color="#708"/><path d="M182.8 33.2l1.9-.1l-1.1-1l-2 .1z" color="#709"/><path d="M178.8 33.4l2-.1l2-.1l-1.2-1l-1.9 .1l-2 .1z" color="#809"/><path d="M176.9 33.5l1.9-.1l-1.1-1l-1.9 .1z" color="#80a"/><path d="M172.9 33.8l2-.2l2-.1l-1.1-1l-2 .1l-2 .2z" color="#80b"/><path d="M170.9 33.9l2-.1l-1.1-1l-1.9 .1z" color="#80c"/><path d="M166.9 34.1l2-.1l2-.1l-1-1l-2 .1l-2 .1z" color="#70c"/><path d="M164.9 34.2l2-.1l-1-1l-2 .1z" color="#60d"/><path d="M160.9 34.5l2-.2l2-.1l-1-1l-2 .1l-2 .1z" color="#60e"/><path d="M158.9 34.6l2-.1l-1-1.1l-2 .1z" color="#50e"/><path d="M156.9 34.7l2-.1l-1-1.1l-2 .2z" color="#30e"/><path d="M154.9 34.8l2-.1l-1-1l-2 .1z" color="#20f"/><path d="M152.9 34.9l2-.1l-1-1l-2 .1z" color="#00f"/><path d="M150.8 35l2.1-.1l-1-1l-2 .1z" color="#02f"/><path d="M148.8 35.2l2-.2l-.9-1l-2.1 .1z" color="#05f"/><path d="M146.7 35.3l2.1-.1l-1-1.1l-2 .1z" color="#07f"/><path d="M144.7 35.4l2-.1l-.9-1.1l-2 .2z" color="#0af"/><path d="M142.6 35.5l2.1-.1l-.9-1l-2.1 .1z" color="#0ef"/><path d="M140.6 35.6l2-.1l-.9-1l-2 .1z" color="#0fb"/><path d="M136.5 35.9l2-.1l2.1-.2l-.9-1l-2.1 .1l-2 .1z" color="#0f3"/><path d="M134.4 36l2.1-.1l-.9-1.1l-2.1 .1z" color="#0f0"/><path d="M132.3 36.1l2.1-.1l-.9-1.1l-2 .2z" color="#2f0"/><path d="M130.2 36.2l2.1-.1l-.8-1l-2.1 .1z" color="#3f0"/><path d="M128.2 36.4l2-.2l-.8-1l-2.1 .1z" color="#5f0"/><path d="M126.1 36.5l2.1-.1l-.9-1.1l-2.1 .1z" color="#6f0"/><path d="M124 36.6l2.1-.1l-.9-1.1l-2 .1z" color="#8f0"/><path d="M121.9 36.7l2.1-.1l-.8-1.1l-2.1 .2z" color="#9f0"/><path d="M119.8 36.8l2.1-.1l-.8-1l-2.1 .1z" color="#bf0"/><path d="M115.5 37.1l2.1-.1l2.2-.2l-.8-1l-2.1 .1l-2.1 .1z" color="#df0"/><path d="M113.4 37.2l2.1-.1l-.7-1.1l-2.1 .1z" color="#ff0"/><path d="M111.3 37.3l2.1-.1l-.7-1.1l-2.2 .2z" color="#fd0"/><path d="M250.1 30.3l1.8-.1l1.8-.1l-1.5-.9l-1.8 .1l-1.8 .1z" color="#fd0"/><path d="M248.3 30.4l1.8-.1l-1.5-.9l-1.8 .1z" color="#fe0"/><path d="M244.6 30.6l1.8-.1l1.9-.1l-1.5-.9l-1.8 .1l-1.8 .1z" color="#ff0"/><path d="M242.8 30.8l1.8-.2l-1.4-.9l-1.8 .1z" color="#ef0"/><path d="M240.9 30.9l1.9-.1l-1.4-1l-1.9 .1z" color="#df0"/><path d="M239.1 31l1.8-.1l-1.4-1l-1.8 .1z" color="#cf0"/><path d="M237.3 31.1l1.8-.1l-1.4-1l-1.8 .1z" color="#bf0"/><path d="M235.4 31.2l1.9-.1l-1.4-1l-1.9 .1z" color="#9f0"/><path d="M233.6 31.3l1.8-.1l-1.4-1l-1.8 .1z" color="#8f0"/><path d="M231.7 31.4l1.9-.1l-1.4-1l-1.9 .1z" color="#6f0"/><path d="M229.8 31.5l1.9-.1l-1.4-1l-1.8 .1z" color="#4f0"/><path d="M228 31.6l1.8-.1l-1.3-1l-1.9 .1z" color="#2f0"/><path d="M226.1 31.7l1.9-.1l-1.4-1l-1.8 .2z" color="#1f0"/><path d="M224.2 31.8l1.9-.1l-1.3-.9l-1.9 .1z" color="#0f0"/><path d="M222.4 32l1.8-.2l-1.3-.9l-1.9 .1z" color="#0f3"/><path d="M220.5 32.1l1.9-.1l-1.4-1l-1.8 .1z" color="#0fb"/><path d="M218.6 32.2l1.9-.1l-1.3-1l-1.9 .1z" color="#0ef"/><path d="M216.7 32.3l1.9-.1l-1.3-1l-1.9 .1z" color="#0af"/><path d="M214.8 32.4l1.9-.1l-1.3-1l-1.9 .1z" color="#06f"/><path d="M212.9 32.5l1.9-.1l-1.3-1l-1.9 .1z" color="#04f"/><path d="M211 32.6l1.9-.1l-1.3-1l-1.9 .1z" color="#01f"/><path d="M209.1 32.7l1.9-.1l-1.3-1l-1.9 .1z" color="#20f"/><path d="M207.2 32.8l1.9-.1l-1.3-1l-1.9 .1z" color="#50e"/><path d="M205.3 33l1.9-.2l-1.3-1l-1.9 .2z" color="#60d"/><path d="M203.4 33.1l1.9-.1l-1.3-1l-1.9 .1z" color="#70c"/><path d="M201.4 33.2l2-.1l-1.3-1l-1.9 .1z" color="#80b"/><path d="M199.5 33.3l1.9-.1l-1.2-1l-1.9 .1z" color="#80a"/><path d="M195.6 33.5l2-.1l1.9-.1l-1.2-1l-1.9 .1l-2 .1z" color="#809"/><path d="M193.7 33.6l1.9-.1l-1.2-1l-1.9 .1z" color="#709"/><path d="M185.9 34.1l1.9-.1l2-.1l1.9-.2l2-.1l-1.2-1l-1.9 .1l-2 .2l-1.9 .1l-2 .1z" color="#708"/><path d="M179.9 34.4l2-.1l2-.1l2-.1l-1.2-1l-1.9 .1l-2 .1l-2 .1z" color="#709"/><path d="M178 34.6l1.9-.2l-1.1-1l-1.9 .1z" color="#809"/><path d="M174 34.8l2-.1l2-.1l-1.1-1.1l-2 .1l-2 .2z" color="#80a"/><path d="M172 34.9l2-.1l-1.1-1l-2 .1z" color="#80b"/><path d="M168 35.1l2-.1l2-.1l-1.1-1l-2 .1l-2 .1z" color="#80c"/><path d="M164 35.4l2-.1l2-.2l-1.1-1l-2 .1l-2 .1z" color="#70c"/><path d="M162 35.5l2-.1l-1.1-1.1l-2 .2z" color="#60d"/><path d="M159.9 35.6l2.1-.1l-1.1-1l-2 .1z" color="#60e"/><path d="M157.9 35.7l2-.1l-1-1l-2 .1z" color="#50e"/><path d="M155.9 35.9l2-.2l-1-1l-2 .1z" color="#30e"/><path d="M153.8 36l2.1-.1l-1-1.1l-2 .1z" color="#10f"/><path d="M151.8 36.1l2-.1l-.9-1.1l-2.1 .1z" color="#00f"/><path d="M149.7 36.2l2.1-.1l-1-1.1l-2 .2z" color="#02f"/><path d="M147.7 36.3l2-.1l-.9-1l-2.1 .1z" color="#05f"/><path d="M145.6 36.5l2.1-.2l-1-1l-2 .1z" color="#09f"/><path d="M143.6 36.6l2-.1l-.9-1.1l-2.1 .1z" color="#0cf"/><path d="M141.5 36.7l2.1-.1l-1-1.1l-2 .1z" color="#0fe"/><path d="M139.4 36.8l2.1-.1l-.9-1.1l-2.1 .2z" color="#0fb"/><path d="M137.4 36.9l2-.1l-.9-1l-2 .1z" color="#0f8"/><path d="M135.3 37.1l2.1-.2l-.9-1l-2.1 .1z" color="#0f3"/><path d="M133.2 37.2l2.1-.1l-.9-1.1l-2.1 .1z" color="#1f0"/><path d="M131.1 37.3l2.1-.1l-.9-1.1l-2.1 .1z" color="#2f0"/><path d="M129 37.4l2.1-.1l-.9-1.1l-2 .2z" color="#4f0"/><path d="M126.9 37.5l2.1-.1l-.8-1l-2.1 .1z" color="#5f0"/><path d="M124.8 37.7l2.1-.2l-.8-1l-2.1 .1z" color="#6f0"/><path d="M122.7 37.8l2.1-.1l-.8-1.1l-2.1 .1z" color="#8f0"/><path d="M120.6 37.9l2.1-.1l-.8-1.1l-2.1 .1z" color="#af0"/><path d="M118.4 38l2.2-.1l-.8-1.1l-2.2 .2z" color="#cf0"/><path d="M114.2 38.3l2.1-.1l2.1-.2l-.8-1l-2.1 .1l-2.1 .1z" color="#df0"/><path d="M112 38.4l2.2-.1l-.8-1.1l-2.1 .1z" color="#ff0"/><path d="M253.4 31.2l1.8-.1l-1.5-1l-1.8 .1z" color="#fd0"/><path d="M251.5 31.3l1.9-.1l-1.5-1l-1.8 .1z" color="#fe0"/><path d="M249.7 31.4l1.8-.1l-1.4-1l-1.8 .1z" color="#ff0"/><path d="M246.1 31.6l1.8-.1l1.8-.1l-1.4-1l-1.9 .1l-1.8 .1z" color="#ef0"/><path d="M244.2 31.7l1.9-.1l-1.5-1l-1.8 .2z" color="#df0"/><path d="M242.4 31.8l1.8-.1l-1.4-.9l-1.9 .1z" color="#cf0"/><path d="M240.5 31.9l1.9-.1l-1.5-.9l-1.8 .1z" color="#af0"/><path d="M238.7 32.1l1.8-.2l-1.4-.9l-1.8 .1z" color="#9f0"/><path d="M236.8 32.2l1.9-.1l-1.4-1l-1.9 .1z" color="#8f0"/><path d="M235 32.3l1.8-.1l-1.4-1l-1.8 .1z" color="#6f0"/><path d="M233.1 32.4l1.9-.1l-1.4-1l-1.9 .1z" color="#4f0"/><path d="M231.2 32.5l1.9-.1l-1.4-1l-1.9 .1z" color="#2f0"/><path d="M229.3 32.6l1.9-.1l-1.4-1l-1.8 .1z" color="#1f0"/><path d="M227.5 32.7l1.8-.1l-1.3-1l-1.9 .1z" color="#0f0"/><path d="M225.6 32.8l1.9-.1l-1.4-1l-1.9 .1z" color="#0f3"/><path d="M223.7 32.9l1.9-.1l-1.4-1l-1.8 .2z" color="#0f8"/><path d="M221.8 33.1l1.9-.2l-1.3-.9l-1.9 .1z" color="#0fe"/><path d="M219.9 33.2l1.9-.1l-1.3-1l-1.9 .1z" color="#0cf"/><path d="M218 33.3l1.9-.1l-1.3-1l-1.9 .1z" color="#07f"/><path d="M216.1 33.4l1.9-.1l-1.3-1l-1.9 .1z" color="#04f"/><path d="M214.2 33.5l1.9-.1l-1.3-1l-1.9 .1z" color="#01f"/><path d="M212.3 33.6l1.9-.1l-1.3-1l-1.9 .1z" color="#10f"/><path d="M210.4 33.7l1.9-.1l-1.3-1l-1.9 .1z" color="#30e"/><path d="M208.5 33.8l1.9-.1l-1.3-1l-1.9 .1z" color="#60e"/><path d="M206.5 34l2-.2l-1.3-1l-1.9 .2z" color="#70c"/><path d="M204.6 34.1l1.9-.1l-1.2-1l-1.9 .1z" color="#80c"/><path d="M202.7 34.2l1.9-.1l-1.2-1l-2 .1z" color="#80b"/><path d="M200.7 34.3l2-.1l-1.3-1l-1.9 .1z" color="#80a"/><path d="M198.8 34.4l1.9-.1l-1.2-1l-1.9 .1z" color="#809"/><path d="M194.9 34.7l1.9-.2l2-.1l-1.2-1l-2 .1l-1.9 .1z" color="#709"/><path d="M185 35.2l2-.1l2-.1l2-.1l1.9-.1l2-.1l-1.2-1.1l-2 .1l-1.9 .2l-2 .1l-1.9 .1l-2 .1z" color="#708"/><path d="M179.1 35.6l2-.1l2-.1l1.9-.2l-1.1-1l-2 .1l-2 .1l-1.9 .2z" color="#709"/><path d="M175.1 35.8l2-.1l2-.1l-1.1-1l-2 .1l-2 .1z" color="#809"/><path d="M171.1 36.1l2-.2l2-.1l-1.1-1l-2 .1l-2 .1z" color="#80a"/><path d="M167 36.3l2.1-.1l2-.1l-1.1-1.1l-2 .1l-2 .2z" color="#80b"/><path d="M165 36.4l2-.1l-1-1l-2 .1z" color="#80c"/><path d="M161 36.7l2-.2l2-.1l-1-1l-2 .1l-2.1 .1z" color="#70c"/><path d="M158.9 36.8l2.1-.1l-1.1-1.1l-2 .1z" color="#60d"/><path d="M156.9 36.9l2-.1l-1-1.1l-2 .2z" color="#60e"/><path d="M154.8 37l2.1-.1l-1-1l-2.1 .1z" color="#30e"/><path d="M152.8 37.1l2-.1l-1-1l-2 .1z" color="#20f"/><path d="M150.7 37.3l2.1-.2l-1-1l-2.1 .1z" color="#00f"/><path d="M148.6 37.4l2.1-.1l-1-1.1l-2 .1z" color="#04f"/><path d="M146.6 37.5l2-.1l-.9-1.1l-2.1 .2z" color="#07f"/><path d="M144.5 37.6l2.1-.1l-1-1l-2 .1z" color="#0af"/><path d="M142.4 37.8l2.1-.2l-.9-1l-2.1 .1z" color="#0ef"/><path d="M140.3 37.9l2.1-.1l-.9-1.1l-2.1 .1z" color="#0fe"/><path d="M138.3 38l2-.1l-.9-1.1l-2 .1z" color="#0fb"/><path d="M136.2 38.1l2.1-.1l-.9-1.1l-2.1 .2z" color="#0f8"/><path d="M134.1 38.3l2.1-.2l-.9-1l-2.1 .1z" color="#0f0"/><path d="M132 38.4l2.1-.1l-.9-1.1l-2.1 .1z" color="#1f0"/><path d="M129.9 38.5l2.1-.1l-.9-1.1l-2.1 .1z" color="#2f0"/><path d="M127.7 38.6l2.2-.1l-.9-1.1l-2.1 .1z" color="#4f0"/><path d="M125.6 38.8l2.1-.2l-.8-1.1l-2.1 .2z" color="#5f0"/><path d="M123.5 38.9l2.1-.1l-.8-1.1l-2.1 .1z" color="#7f0"/><path d="M121.4 39l2.1-.1l-.8-1.1l-2.1 .1z" color="#9f0"/><path d="M117.1 39.3l2.1-.2l2.2-.1l-.8-1.1l-2.2 .1l-2.1 .2z" color="#bf0"/><path d="M114.9 39.4l2.2-.1l-.8-1.1l-2.1 .1z" color="#df0"/><path d="M112.8 39.5l2.1-.1l-.7-1.1l-2.2 .1z" color="#ef0"/><path d="M254.9 32.2l1.8-.2l-1.5-.9l-1.8 .1z" color="#fe0"/><path d="M253 32.3l1.9-.1l-1.5-1l-1.9 .1z" color="#ff0"/><path d="M251.2 32.4l1.8-.1l-1.5-1l-1.8 .1z" color="#ef0"/><path d="M247.5 32.6l1.9-.1l1.8-.1l-1.5-1l-1.8 .1l-1.8 .1z" color="#df0"/><path d="M245.7 32.7l1.8-.1l-1.4-1l-1.9 .1z" color="#cf0"/><path d="M243.8 32.8l1.9-.1l-1.5-1l-1.8 .1z" color="#bf0"/><path d="M242 32.9l1.8-.1l-1.4-1l-1.9 .1z" color="#9f0"/><path d="M240.1 33l1.9-.1l-1.5-1l-1.8 .2z" color="#7f0"/><path d="M238.2 33.2l1.9-.2l-1.4-.9l-1.9 .1z" color="#6f0"/><path d="M236.4 33.3l1.8-.1l-1.4-1l-1.8 .1z" color="#5f0"/><path d="M234.5 33.4l1.9-.1l-1.4-1l-1.9 .1z" color="#3f0"/><path d="M232.6 33.5l1.9-.1l-1.4-1l-1.9 .1z" color="#1f0"/><path d="M230.7 33.6l1.9-.1l-1.4-1l-1.9 .1z" color="#0f0"/><path d="M228.8 33.7l1.9-.1l-1.4-1l-1.8 .1z" color="#0f3"/><path d="M227 33.8l1.8-.1l-1.3-1l-1.9 .1z" color="#0f8"/><path d="M225.1 33.9l1.9-.1l-1.4-1l-1.9 .1z" color="#0fb"/><path d="M223.2 34.1l1.9-.2l-1.4-1l-1.9 .2z" color="#0ef"/><path d="M221.3 34.2l1.9-.1l-1.4-1l-1.9 .1z" color="#0af"/><path d="M219.3 34.3l2-.1l-1.4-1l-1.9 .1z" color="#06f"/><path d="M217.4 34.4l1.9-.1l-1.3-1l-1.9 .1z" color="#01f"/><path d="M215.5 34.5l1.9-.1l-1.3-1l-1.9 .1z" color="#10f"/><path d="M213.6 34.6l1.9-.1l-1.3-1l-1.9 .1z" color="#30e"/><path d="M211.7 34.7l1.9-.1l-1.3-1l-1.9 .1z" color="#60e"/><path d="M209.7 34.9l2-.2l-1.3-1l-1.9 .1z" color="#70c"/><path d="M207.8 35l1.9-.1l-1.2-1.1l-2 .2z" color="#80c"/><path d="M205.9 35.1l1.9-.1l-1.3-1l-1.9 .1z" color="#80b"/><path d="M203.9 35.2l2-.1l-1.3-1l-1.9 .1z" color="#80a"/><path d="M202 35.3l1.9-.1l-1.2-1l-2 .1z" color="#809"/><path d="M198.1 35.6l1.9-.2l2-.1l-1.3-1l-1.9 .1l-2 .1z" color="#709"/><path d="M192.1 35.9l2-.1l2-.1l2-.1l-1.3-1.1l-1.9 .2l-2 .1l-1.9 .1z" color="#708"/><path d="M190.2 36l1.9-.1l-1.1-1l-2 .1z" color="#707"/><path d="M180.2 36.6l2-.1l2-.1l2-.1l2-.1l2-.2l-1.2-1l-2 .1l-2 .1l-1.9 .2l-2 .1l-2 .1z" color="#708"/><path d="M176.2 36.9l2-.1l2-.2l-1.1-1l-2 .1l-2 .1z" color="#709"/><path d="M172.2 37.1l2-.1l2-.1l-1.1-1.1l-2 .1l-2 .2z" color="#809"/><path d="M168.1 37.4l2-.2l2.1-.1l-1.1-1l-2 .1l-2.1 .1z" color="#80a"/><path d="M164 37.6l2.1-.1l2-.1l-1.1-1.1l-2 .1l-2 .1z" color="#80b"/><path d="M162 37.7l2-.1l-1-1.1l-2 .2z" color="#80c"/><path d="M159.9 37.8l2.1-.1l-1-1l-2.1 .1z" color="#70c"/><path d="M157.9 38l2-.2l-1-1l-2 .1z" color="#60d"/><path d="M155.8 38.1l2.1-.1l-1-1.1l-2.1 .1z" color="#60e"/><path d="M153.8 38.2l2-.1l-1-1.1l-2 .1z" color="#50e"/><path d="M151.7 38.3l2.1-.1l-1-1.1l-2.1 .2z" color="#20f"/><path d="M149.6 38.5l2.1-.2l-1-1l-2.1 .1z" color="#01f"/><path d="M147.5 38.6l2.1-.1l-1-1.1l-2 .1z" color="#05f"/><path d="M145.5 38.7l2-.1l-.9-1.1l-2.1 .1z" color="#09f"/><path d="M143.4 38.8l2.1-.1l-1-1.1l-2.1 .2z" color="#0cf"/><path d="M139.2 39.1l2.1-.1l2.1-.2l-1-1l-2.1 .1l-2 .1z" color="#0ef"/><path d="M137.1 39.2l2.1-.1l-.9-1.1l-2.1 .1z" color="#0fb"/><path d="M135 39.3l2.1-.1l-.9-1.1l-2.1 .2z" color="#0f3"/><path d="M132.8 39.5l2.2-.2l-.9-1l-2.1 .1z" color="#0f0"/><path d="M130.7 39.6l2.1-.1l-.8-1.1l-2.1 .1z" color="#1f0"/><path d="M128.6 39.7l2.1-.1l-.8-1.1l-2.2 .1z" color="#2f0"/><path d="M126.5 39.9l2.1-.2l-.9-1.1l-2.1 .2z" color="#4f0"/><path d="M124.3 40l2.2-.1l-.9-1.1l-2.1 .1z" color="#5f0"/><path d="M122.2 40.1l2.1-.1l-.8-1.1l-2.1 .1z" color="#8f0"/><path d="M120 40.2l2.2-.1l-.8-1.1l-2.2 .1z" color="#9f0"/><path d="M117.9 40.4l2.1-.2l-.8-1.1l-2.1 .2z" color="#af0"/><path d="M115.7 40.5l2.2-.1l-.8-1.1l-2.2 .1z" color="#bf0"/><path d="M113.6 40.6l2.1-.1l-.8-1.1l-2.1 .1z" color="#df0"/><path d="M256.4 33.1l1.8-.1l-1.5-1l-1.8 .2z" color="#ff0"/><path d="M252.7 33.4l1.8-.1l1.9-.2l-1.5-.9l-1.9 .1l-1.8 .1z" color="#df0"/><path d="M250.8 33.5l1.9-.1l-1.5-1l-1.8 .1z" color="#cf0"/><path d="M249 33.6l1.8-.1l-1.4-1l-1.9 .1z" color="#bf0"/><path d="M247.1 33.7l1.9-.1l-1.5-1l-1.8 .1z" color="#af0"/><path d="M245.3 33.8l1.8-.1l-1.4-1l-1.9 .1z" color="#8f0"/><path d="M243.4 33.9l1.9-.1l-1.5-1l-1.8 .1z" color="#6f0"/><path d="M241.5 34l1.9-.1l-1.4-1l-1.9 .1z" color="#5f0"/><path d="M239.7 34.2l1.8-.2l-1.4-1l-1.9 .2z" color="#4f0"/><path d="M237.8 34.3l1.9-.1l-1.5-1l-1.8 .1z" color="#2f0"/><path d="M235.9 34.4l1.9-.1l-1.4-1l-1.9 .1z" color="#0f0"/><path d="M234 34.5l1.9-.1l-1.4-1l-1.9 .1z" color="#0f3"/><path d="M232.1 34.6l1.9-.1l-1.4-1l-1.9 .1z" color="#0fb"/><path d="M230.2 34.7l1.9-.1l-1.4-1l-1.9 .1z" color="#0fe"/><path d="M228.3 34.8l1.9-.1l-1.4-1l-1.8 .1z" color="#0ef"/><path d="M226.4 35l1.9-.2l-1.3-1l-1.9 .1z" color="#0cf"/><path d="M224.5 35.1l1.9-.1l-1.3-1.1l-1.9 .2z" color="#0af"/><path d="M222.6 35.2l1.9-.1l-1.3-1l-1.9 .1z" color="#06f"/><path d="M220.7 35.3l1.9-.1l-1.3-1l-2 .1z" color="#02f"/><path d="M218.8 35.4l1.9-.1l-1.4-1l-1.9 .1z" color="#10f"/><path d="M216.8 35.5l2-.1l-1.4-1l-1.9 .1z" color="#30e"/><path d="M214.9 35.7l1.9-.2l-1.3-1l-1.9 .1z" color="#60e"/><path d="M213 35.8l1.9-.1l-1.3-1.1l-1.9 .1z" color="#70c"/><path d="M211 35.9l2-.1l-1.3-1.1l-2 .2z" color="#80c"/><path d="M207.1 36.1l2-.1l1.9-.1l-1.3-1l-1.9 .1l-1.9 .1z" color="#80a"/><path d="M205.2 36.2l1.9-.1l-1.2-1l-2 .1z" color="#809"/><path d="M199.3 36.6l2-.1l1.9-.1l2-.2l-1.3-1l-1.9 .1l-2 .1l-1.9 .2z" color="#709"/><path d="M193.4 37l1.9-.2l2-.1l2-.1l-1.2-1l-2 .1l-2 .1l-2 .1z" color="#708"/><path d="M191.4 37.1l2-.1l-1.3-1.1l-1.9 .1z" color="#707"/><path d="M179.3 37.8l2.1-.1l2-.1l2-.2l2-.1l2-.1l2-.1l-1.2-1.1l-2 .2l-2 .1l-2 .1l-2 .1l-2 .1l-2 .2z" color="#708"/><path d="M171.2 38.3l2.1-.1l2-.1l2-.2l2-.1l-1.1-1l-2 .1l-2 .1l-2 .1l-2.1 .1z" color="#709"/><path d="M165.1 38.7l2-.1l2.1-.2l2-.1l-1.1-1.1l-2 .2l-2 .1l-2.1 .1z" color="#809"/><path d="M163 38.8l2.1-.1l-1.1-1.1l-2 .1z" color="#80a"/><path d="M161 38.9l2-.1l-1-1.1l-2.1 .1z" color="#80b"/><path d="M158.9 39l2.1-.1l-1.1-1.1l-2 .2z" color="#80c"/><path d="M156.8 39.2l2.1-.2l-1-1l-2.1 .1z" color="#70c"/><path d="M154.8 39.3l2-.1l-1-1.1l-2 .1z" color="#60d"/><path d="M152.7 39.4l2.1-.1l-1-1.1l-2.1 .1z" color="#30e"/><path d="M150.6 39.6l2.1-.2l-1-1.1l-2.1 .2z" color="#00f"/><path d="M148.5 39.7l2.1-.1l-1-1.1l-2.1 .1z" color="#04f"/><path d="M146.4 39.8l2.1-.1l-1-1.1l-2 .1z" color="#06f"/><path d="M144.3 39.9l2.1-.1l-.9-1.1l-2.1 .1z" color="#0af"/><path d="M140.1 40.2l2.1-.1l2.1-.2l-.9-1.1l-2.1 .2l-2.1 .1z" color="#0cf"/><path d="M138 40.3l2.1-.1l-.9-1.1l-2.1 .1z" color="#0ef"/><path d="M135.9 40.4l2.1-.1l-.9-1.1l-2.1 .1z" color="#0f8"/><path d="M133.7 40.6l2.2-.2l-.9-1.1l-2.2 .2z" color="#0f3"/><path d="M131.6 40.7l2.1-.1l-.9-1.1l-2.1 .1z" color="#0f0"/><path d="M129.5 40.8l2.1-.1l-.9-1.1l-2.1 .1z" color="#1f0"/><path d="M127.3 41l2.2-.2l-.9-1.1l-2.1 .2z" color="#3f0"/><path d="M125.2 41.1l2.1-.1l-.8-1.1l-2.2 .1z" color="#4f0"/><path d="M123 41.2l2.2-.1l-.9-1.1l-2.1 .1z" color="#7f0"/><path d="M118.7 41.5l2.2-.1l2.1-.2l-.8-1.1l-2.2 .1l-2.1 .2z" color="#9f0"/><path d="M116.5 41.6l2.2-.1l-.8-1.1l-2.2 .1z" color="#af0"/><path d="M114.3 41.8l2.2-.2l-.8-1.1l-2.1 .1z" color="#df0"/><path d="M257.9 34.1l1.8-.1l-1.5-1l-1.8 .1z" color="#ef0"/><path d="M256.1 34.2l1.8-.1l-1.5-1l-1.9 .2z" color="#df0"/><path d="M254.2 34.4l1.9-.2l-1.6-.9l-1.8 .1z" color="#bf0"/><path d="M252.3 34.5l1.9-.1l-1.5-1l-1.9 .1z" color="#9f0"/><path d="M250.5 34.6l1.8-.1l-1.5-1l-1.8 .1z" color="#8f0"/><path d="M248.6 34.7l1.9-.1l-1.5-1l-1.9 .1z" color="#7f0"/><path d="M246.7 34.8l1.9-.1l-1.5-1l-1.8 .1z" color="#5f0"/><path d="M244.9 34.9l1.8-.1l-1.4-1l-1.9 .1z" color="#3f0"/><path d="M243 35l1.9-.1l-1.5-1l-1.9 .1z" color="#1f0"/><path d="M241.1 35.2l1.9-.2l-1.5-1l-1.8 .2z" color="#0f0"/><path d="M239.2 35.3l1.9-.1l-1.4-1l-1.9 .1z" color="#0f3"/><path d="M237.3 35.4l1.9-.1l-1.4-1l-1.9 .1z" color="#0fb"/><path d="M235.4 35.5l1.9-.1l-1.4-1l-1.9 .1z" color="#0ef"/><path d="M233.5 35.6l1.9-.1l-1.4-1l-1.9 .1z" color="#0cf"/><path d="M231.6 35.7l1.9-.1l-1.4-1l-1.9 .1z" color="#09f"/><path d="M229.7 35.9l1.9-.2l-1.4-1l-1.9 .1z" color="#07f"/><path d="M227.8 36l1.9-.1l-1.4-1.1l-1.9 .2z" color="#06f"/><path d="M225.9 36.1l1.9-.1l-1.4-1l-1.9 .1z" color="#05f"/><path d="M224 36.2l1.9-.1l-1.4-1l-1.9 .1z" color="#02f"/><path d="M222 36.3l2-.1l-1.4-1l-1.9 .1z" color="#10f"/><path d="M220.1 36.5l1.9-.2l-1.3-1l-1.9 .1z" color="#50e"/><path d="M218.2 36.6l1.9-.1l-1.3-1.1l-2 .1z" color="#60d"/><path d="M216.2 36.7l2-.1l-1.4-1.1l-1.9 .2z" color="#80c"/><path d="M214.3 36.8l1.9-.1l-1.3-1l-1.9 .1z" color="#80b"/><path d="M212.3 36.9l2-.1l-1.3-1l-2 .1z" color="#80a"/><path d="M210.4 37l1.9-.1l-1.3-1l-1.9 .1z" color="#809"/><path d="M202.5 37.5l2-.1l2-.1l1.9-.1l2-.2l-1.3-1l-2 .1l-1.9 .1l-2 .2l-1.9 .1z" color="#709"/><path d="M194.6 38l2-.1l2-.1l1.9-.1l2-.2l-1.2-1l-2 .1l-2 .1l-2 .1l-1.9 .2z" color="#708"/><path d="M190.6 38.3l2-.2l2-.1l-1.2-1l-2 .1l-2 .1z" color="#707"/><path d="M166.2 39.8l2-.2l2.1-.1l2-.1l2.1-.1l2-.2l2.1-.1l2-.1l2-.1l2-.2l2.1-.1l2-.1l2-.1l-1.2-1.1l-2 .1l-2 .1l-2 .2l-2 .1l-2.1 .1l-2 .1l-2 .2l-2 .1l-2.1 .1l-2 .1l-2.1 .2l-2 .1z" color="#708"/><path d="M164.1 39.9l2.1-.1l-1.1-1.1l-2.1 .1z" color="#709"/><path d="M162 40l2.1-.1l-1.1-1.1l-2 .1z" color="#809"/><path d="M159.9 40.1l2.1-.1l-1-1.1l-2.1 .1z" color="#80a"/><path d="M157.9 40.3l2-.2l-1-1.1l-2.1 .2z" color="#80b"/><path d="M155.8 40.4l2.1-.1l-1.1-1.1l-2 .1z" color="#80c"/><path d="M153.7 40.5l2.1-.1l-1-1.1l-2.1 .1z" color="#60e"/><path d="M151.6 40.7l2.1-.2l-1-1.1l-2.1 .2z" color="#30e"/><path d="M149.5 40.8l2.1-.1l-1-1.1l-2.1 .1z" color="#00f"/><path d="M147.4 40.9l2.1-.1l-1-1.1l-2.1 .1z" color="#04f"/><path d="M145.3 41l2.1-.1l-1-1.1l-2.1 .1z" color="#06f"/><path d="M143.1 41.2l2.2-.2l-1-1.1l-2.1 .2z" color="#09f"/><path d="M141 41.3l2.1-.1l-.9-1.1l-2.1 .1z" color="#0af"/><path d="M138.9 41.4l2.1-.1l-.9-1.1l-2.1 .1z" color="#0cf"/><path d="M136.8 41.6l2.1-.2l-.9-1.1l-2.1 .1z" color="#0fe"/><path d="M134.6 41.7l2.2-.1l-.9-1.2l-2.2 .2z" color="#0f8"/><path d="M132.5 41.8l2.1-.1l-.9-1.1l-2.1 .1z" color="#0f3"/><path d="M130.3 42l2.2-.2l-.9-1.1l-2.1 .1z" color="#0f0"/><path d="M128.2 42.1l2.1-.1l-.8-1.2l-2.2 .2z" color="#2f0"/><path d="M126 42.2l2.2-.1l-.9-1.1l-2.1 .1z" color="#3f0"/><path d="M123.8 42.4l2.2-.2l-.8-1.1l-2.2 .1z" color="#6f0"/><path d="M121.7 42.5l2.1-.1l-.8-1.2l-2.1 .2z" color="#8f0"/><path d="M119.5 42.6l2.2-.1l-.8-1.1l-2.2 .1z" color="#9f0"/><path d="M117.3 42.8l2.2-.2l-.8-1.1l-2.2 .1z" color="#af0"/><path d="M115.1 42.9l2.2-.1l-.8-1.2l-2.2 .2z" color="#cf0"/><path d="M259.4 35.1l1.9-.1l-1.6-1l-1.8 .1z" color="#df0"/><path d="M257.6 35.3l1.8-.2l-1.5-1l-1.8 .1z" color="#cf0"/><path d="M255.7 35.4l1.9-.1l-1.5-1.1l-1.9 .2z" color="#af0"/><path d="M253.9 35.5l1.8-.1l-1.5-1l-1.9 .1z" color="#7f0"/><path d="M252 35.6l1.9-.1l-1.6-1l-1.8 .1z" color="#5f0"/><path d="M250.1 35.7l1.9-.1l-1.5-1l-1.9 .1z" color="#3f0"/><path d="M248.2 35.8l1.9-.1l-1.5-1l-1.9 .1z" color="#2f0"/><path d="M246.4 36l1.8-.2l-1.5-1l-1.8 .1z" color="#0f0"/><path d="M244.5 36.1l1.9-.1l-1.5-1.1l-1.9 .1z" color="#0f8"/><path d="M242.6 36.2l1.9-.1l-1.5-1.1l-1.9 .2z" color="#0fb"/><path d="M240.7 36.3l1.9-.1l-1.5-1l-1.9 .1z" color="#0fe"/><path d="M238.8 36.4l1.9-.1l-1.5-1l-1.9 .1z" color="#0af"/><path d="M236.9 36.5l1.9-.1l-1.5-1l-1.9 .1z" color="#07f"/><path d="M235 36.7l1.9-.2l-1.5-1l-1.9 .1z" color="#06f"/><path d="M233.1 36.8l1.9-.1l-1.5-1.1l-1.9 .1z" color="#04f"/><path d="M231.1 36.9l2-.1l-1.5-1.1l-1.9 .2z" color="#01f"/><path d="M229.2 37l1.9-.1l-1.4-1l-1.9 .1z" color="#00f"/><path d="M227.3 37.1l1.9-.1l-1.4-1l-1.9 .1z" color="#10f"/><path d="M225.3 37.3l2-.2l-1.4-1l-1.9 .1z" color="#20f"/><path d="M223.4 37.4l1.9-.1l-1.3-1.1l-2 .1z" color="#60e"/><path d="M221.5 37.5l1.9-.1l-1.4-1.1l-1.9 .2z" color="#70c"/><path d="M219.5 37.6l2-.1l-1.4-1l-1.9 .1z" color="#80c"/><path d="M217.6 37.7l1.9-.1l-1.3-1l-2 .1z" color="#80a"/><path d="M215.6 37.9l2-.2l-1.4-1l-1.9 .1z" color="#809"/><path d="M213.7 38l1.9-.1l-1.3-1.1l-2 .1z" color="#709"/><path d="M195.8 39.1l2-.1l2-.2l2-.1l2-.1l2-.1l1.9-.2l2-.1l2-.1l2-.1l-1.4-1.1l-1.9 .1l-2 .2l-1.9 .1l-2 .1l-2 .1l-2 .2l-1.9 .1l-2 .1l-2 .1z" color="#708"/><path d="M191.8 39.3l2-.1l2-.1l-1.2-1.1l-2 .1l-2 .2z" color="#707"/><path d="M179.6 40.1l2-.1l2.1-.2l2-.1l2-.1l2.1-.1l2-.2l-1.2-1l-2 .1l-2 .1l-2.1 .1l-2 .2l-2 .1l-2 .1z" color="#708"/><path d="M177.6 40.2l2-.1l-1.1-1.1l-2.1 .1z" color="#707"/><path d="M167.2 40.9l2.1-.2l2.1-.1l2-.1l2.1-.2l2.1-.1l-1.2-1.1l-2 .2l-2.1 .1l-2 .1l-2.1 .1l-2 .2z" color="#000"/><path d="M165.2 41l2-.1l-1-1.1l-2.1 .1z" color="#707"/><path d="M163.1 41.1l2.1-.1l-1.1-1.1l-2.1 .1z" color="#708"/><path d="M161 41.2l2.1-.1l-1.1-1.1l-2.1 .1z" color="#709"/><path d="M158.9 41.4l2.1-.2l-1.1-1.1l-2 .2z" color="#809"/><path d="M156.8 41.5l2.1-.1l-1-1.1l-2.1 .1z" color="#80a"/><path d="M154.7 41.6l2.1-.1l-1-1.1l-2.1 .1z" color="#70c"/><path d="M152.6 41.8l2.1-.2l-1-1.1l-2.1 .2z" color="#60e"/><path d="M150.5 41.9l2.1-.1l-1-1.1l-2.1 .1z" color="#30e"/><path d="M148.4 42l2.1-.1l-1-1.1l-2.1 .1z" color="#00f"/><path d="M146.2 42.2l2.2-.2l-1-1.1l-2.1 .1z" color="#04f"/><path d="M144.1 42.3l2.1-.1l-.9-1.2l-2.2 .2z" color="#07f"/><path d="M142 42.4l2.1-.1l-1-1.1l-2.1 .1z" color="#09f"/><path d="M139.8 42.6l2.2-.2l-1-1.1l-2.1 .1z" color="#0af"/><path d="M137.7 42.7l2.1-.1l-.9-1.2l-2.1 .2z" color="#0ef"/><path d="M135.5 42.8l2.2-.1l-.9-1.1l-2.2 .1z" color="#0fb"/><path d="M133.4 43l2.1-.2l-.9-1.1l-2.1 .1z" color="#0f8"/><path d="M131.2 43.1l2.2-.1l-.9-1.2l-2.2 .2z" color="#0f3"/><path d="M129 43.2l2.2-.1l-.9-1.1l-2.1 .1z" color="#1f0"/><path d="M126.9 43.4l2.1-.2l-.8-1.1l-2.2 .1z" color="#3f0"/><path d="M124.7 43.5l2.2-.1l-.9-1.2l-2.2 .2z" color="#6f0"/><path d="M120.3 43.8l2.2-.2l2.2-.1l-.9-1.1l-2.1 .1l-2.2 .1z" color="#8f0"/><path d="M118.1 43.9l2.2-.1l-.8-1.2l-2.2 .2z" color="#9f0"/><path d="M115.9 44l2.2-.1l-.8-1.1l-2.2 .1z" color="#cf0"/><path d="M261 36.2l1.9-.2l-1.6-1l-1.9 .1z" color="#df0"/><path d="M259.1 36.3l1.9-.1l-1.6-1.1l-1.8 .2z" color="#bf0"/><path d="M257.3 36.4l1.8-.1l-1.5-1l-1.9 .1z" color="#8f0"/><path d="M255.4 36.5l1.9-.1l-1.6-1l-1.8 .1z" color="#4f0"/><path d="M253.5 36.6l1.9-.1l-1.5-1l-1.9 .1z" color="#2f0"/><path d="M251.6 36.7l1.9-.1l-1.5-1l-1.9 .1z" color="#0f0"/><path d="M249.8 36.9l1.8-.2l-1.5-1l-1.9 .1z" color="#0f8"/><path d="M247.9 37l1.9-.1l-1.6-1.1l-1.8 .2z" color="#0fb"/><path d="M246 37.1l1.9-.1l-1.5-1l-1.9 .1z" color="#0ef"/><path d="M244.1 37.2l1.9-.1l-1.5-1l-1.9 .1z" color="#0cf"/><path d="M242.2 37.3l1.9-.1l-1.5-1l-1.9 .1z" color="#09f"/><path d="M240.2 37.5l2-.2l-1.5-1l-1.9 .1z" color="#05f"/><path d="M238.3 37.6l1.9-.1l-1.4-1.1l-1.9 .1z" color="#02f"/><path d="M236.4 37.7l1.9-.1l-1.4-1.1l-1.9 .2z" color="#01f"/><path d="M234.5 37.8l1.9-.1l-1.4-1l-1.9 .1z" color="#10f"/><path d="M232.6 37.9l1.9-.1l-1.4-1l-2 .1z" color="#30e"/><path d="M230.6 38.1l2-.2l-1.5-1l-1.9 .1z" color="#50e"/><path d="M228.7 38.2l1.9-.1l-1.4-1.1l-1.9 .1z" color="#60e"/><path d="M226.7 38.3l2-.1l-1.4-1.1l-2 .2z" color="#60d"/><path d="M224.8 38.4l1.9-.1l-1.4-1l-1.9 .1z" color="#80c"/><path d="M222.8 38.6l2-.2l-1.4-1l-1.9 .1z" color="#80a"/><path d="M220.9 38.7l1.9-.1l-1.3-1.1l-2 .1z" color="#809"/><path d="M218.9 38.8l2-.1l-1.4-1.1l-1.9 .1z" color="#709"/><path d="M217 38.9l1.9-.1l-1.3-1.1l-2 .2z" color="#708"/><path d="M209.1 39.4l1.9-.1l2-.1l2-.2l2-.1l-1.4-1l-1.9 .1l-2 .1l-2 .1l-2 .1z" color="#000"/><path d="M207.1 39.5l2-.1l-1.4-1.1l-1.9 .2z" color="#707"/><path d="M195 40.3l2-.1l2.1-.2l2-.1l2-.1l2-.1l2-.2l-1.3-1l-2 .1l-2 .1l-2 .1l-2 .2l-2 .1l-2 .1z" color="#708"/><path d="M193 40.4l2-.1l-1.2-1.1l-2 .1z" color="#707"/><path d="M182.8 41.1l2.1-.2l2-.1l2-.1l2.1-.1l2-.2l-1.2-1.1l-2 .2l-2.1 .1l-2 .1l-2 .1l-2.1 .2z" color="#708"/><path d="M180.8 41.2l2-.1l-1.2-1.1l-2 .1z" color="#707"/><path d="M162.1 42.4l2.1-.2l2-.1l2.1-.1l2.1-.2l2.1-.1l2.1-.1l2-.1l2.1-.2l2.1-.1l-1.2-1.1l-2 .1l-2.1 .1l-2.1 .2l-2 .1l-2.1 .1l-2.1 .2l-2 .1l-2.1 .1l-2.1 .1z" color="#000"/><path d="M160 42.5l2.1-.1l-1.1-1.2l-2.1 .2z" color="#708"/><path d="M157.8 42.6l2.2-.1l-1.1-1.1l-2.1 .1z" color="#709"/><path d="M155.7 42.8l2.1-.2l-1-1.1l-2.1 .1z" color="#80b"/><path d="M153.6 42.9l2.1-.1l-1-1.2l-2.1 .2z" color="#70c"/><path d="M151.5 43l2.1-.1l-1-1.1l-2.1 .1z" color="#60e"/><path d="M149.3 43.2l2.2-.2l-1-1.1l-2.1 .1z" color="#20f"/><path d="M147.2 43.3l2.1-.1l-.9-1.2l-2.2 .2z" color="#01f"/><path d="M145.1 43.4l2.1-.1l-1-1.1l-2.1 .1z" color="#05f"/><path d="M140.8 43.7l2.1-.1l2.2-.2l-1-1.1l-2.1 .1l-2.2 .2z" color="#07f"/><path d="M138.6 43.8l2.2-.1l-1-1.1l-2.1 .1z" color="#0cf"/><path d="M136.5 44l2.1-.2l-.9-1.1l-2.2 .1z" color="#0fe"/><path d="M134.3 44.1l2.2-.1l-1-1.2l-2.1 .2z" color="#0fb"/><path d="M132.1 44.2l2.2-.1l-.9-1.1l-2.2 .1z" color="#0f8"/><path d="M129.9 44.4l2.2-.2l-.9-1.1l-2.2 .1z" color="#0f0"/><path d="M127.7 44.5l2.2-.1l-.9-1.2l-2.1 .2z" color="#2f0"/><path d="M125.6 44.7l2.1-.2l-.8-1.1l-2.2 .1z" color="#5f0"/><path d="M123.4 44.8l2.2-.1l-.9-1.2l-2.2 .1z" color="#7f0"/><path d="M121.2 44.9l2.2-.1l-.9-1.2l-2.2 .2z" color="#8f0"/><path d="M119 45.1l2.2-.2l-.9-1.1l-2.2 .1z" color="#9f0"/><path d="M116.7 45.2l2.3-.1l-.9-1.2l-2.2 .1z" color="#bf0"/><path d="M262.6 37.2l1.9-.1l-1.6-1.1l-1.9 .2z" color="#df0"/><path d="M260.7 37.3l1.9-.1l-1.6-1l-1.9 .1z" color="#bf0"/><path d="M258.8 37.4l1.9-.1l-1.6-1l-1.8 .1z" color="#8f0"/><path d="M257 37.5l1.8-.1l-1.5-1l-1.9 .1z" color="#5f0"/><path d="M255.1 37.7l1.9-.2l-1.6-1l-1.9 .1z" color="#3f0"/><path d="M253.2 37.8l1.9-.1l-1.6-1.1l-1.9 .1z" color="#1f0"/><path d="M251.3 37.9l1.9-.1l-1.6-1.1l-1.8 .2z" color="#0f3"/><path d="M249.4 38l1.9-.1l-1.5-1l-1.9 .1z" color="#0f8"/><path d="M247.5 38.1l1.9-.1l-1.5-1l-1.9 .1z" color="#0fe"/><path d="M245.6 38.3l1.9-.2l-1.5-1l-1.9 .1z" color="#0cf"/><path d="M243.6 38.4l2-.1l-1.5-1.1l-1.9 .1z" color="#09f"/><path d="M241.7 38.5l1.9-.1l-1.4-1.1l-2 .2z" color="#05f"/><path d="M239.8 38.6l1.9-.1l-1.5-1l-1.9 .1z" color="#02f"/><path d="M237.9 38.8l1.9-.2l-1.5-1l-1.9 .1z" color="#01f"/><path d="M235.9 38.9l2-.1l-1.5-1.1l-1.9 .1z" color="#10f"/><path d="M234 39l1.9-.1l-1.4-1.1l-1.9 .1z" color="#50e"/><path d="M232.1 39.1l1.9-.1l-1.4-1.1l-2 .2z" color="#60d"/><path d="M230.1 39.3l2-.2l-1.5-1l-1.9 .1z" color="#70c"/><path d="M228.2 39.4l1.9-.1l-1.4-1.1l-2 .1z" color="#80c"/><path d="M226.2 39.5l2-.1l-1.5-1.1l-1.9 .1z" color="#80b"/><path d="M224.2 39.6l2-.1l-1.4-1.1l-2 .2z" color="#80a"/><path d="M222.3 39.7l1.9-.1l-1.4-1l-1.9 .1z" color="#809"/><path d="M220.3 39.9l2-.2l-1.4-1l-2 .1z" color="#709"/><path d="M218.3 40l2-.1l-1.4-1.1l-1.9 .1z" color="#708"/><path d="M212.4 40.4l2-.2l2-.1l1.9-.1l-1.3-1.1l-2 .1l-2 .2l-2 .1z" color="#000"/><path d="M210.4 40.5l2-.1l-1.4-1.1l-1.9 .1z" color="#707"/><path d="M196.3 41.4l2-.1l2-.2l2.1-.1l2-.1l2-.1l2-.2l2-.1l-1.3-1.1l-2 .1l-2 .2l-2 .1l-2 .1l-2 .1l-2.1 .2l-2 .1z" color="#708"/><path d="M194.2 41.5l2.1-.1l-1.3-1.1l-2 .1z" color="#707"/><path d="M181.9 42.3l2.1-.1l2.1-.2l2-.1l2.1-.1l2-.1l2-.2l-1.2-1.1l-2 .2l-2.1 .1l-2 .1l-2 .1l-2.1 .2l-2 .1z" color="#708"/><path d="M179.9 42.4l2-.1l-1.1-1.1l-2.1 .1z" color="#707"/><path d="M165.2 43.4l2.1-.2l2.1-.1l2.1-.1l2.1-.2l2.1-.1l2.1-.1l2.1-.2l-1.2-1.1l-2.1 .2l-2 .1l-2.1 .1l-2.1 .1l-2.1 .2l-2.1 .1l-2 .1z" color="#000"/><path d="M163.1 43.5l2.1-.1l-1-1.2l-2.1 .2z" color="#707"/><path d="M161 43.6l2.1-.1l-1-1.1l-2.1 .1z" color="#708"/><path d="M158.9 43.8l2.1-.2l-1-1.1l-2.2 .1z" color="#709"/><path d="M156.8 43.9l2.1-.1l-1.1-1.2l-2.1 .2z" color="#80a"/><path d="M154.6 44l2.2-.1l-1.1-1.1l-2.1 .1z" color="#70c"/><path d="M152.5 44.2l2.1-.2l-1-1.1l-2.1 .1z" color="#60e"/><path d="M150.4 44.3l2.1-.1l-1-1.2l-2.2 .2z" color="#20f"/><path d="M148.2 44.4l2.2-.1l-1.1-1.1l-2.1 .1z" color="#01f"/><path d="M146.1 44.6l2.1-.2l-1-1.1l-2.1 .1z" color="#06f"/><path d="M143.9 44.7l2.2-.1l-1-1.2l-2.2 .2z" color="#07f"/><path d="M141.7 44.9l2.2-.2l-1-1.1l-2.1 .1z" color="#09f"/><path d="M139.6 45l2.1-.1l-.9-1.2l-2.2 .1z" color="#0ef"/><path d="M137.4 45.1l2.2-.1l-1-1.2l-2.1 .2z" color="#0fb"/><path d="M133 45.4l2.2-.1l2.2-.2l-.9-1.1l-2.2 .1l-2.2 .1z" color="#0f3"/><path d="M130.8 45.5l2.2-.1l-.9-1.2l-2.2 .2z" color="#1f0"/><path d="M128.6 45.7l2.2-.2l-.9-1.1l-2.2 .1z" color="#3f0"/><path d="M126.4 45.8l2.2-.1l-.9-1.2l-2.1 .2z" color="#6f0"/><path d="M122 46.1l2.2-.1l2.2-.2l-.8-1.1l-2.2 .1l-2.2 .1z" color="#8f0"/><path d="M119.8 46.2l2.2-.1l-.8-1.2l-2.2 .2z" color="#af0"/><path d="M117.6 46.4l2.2-.2l-.8-1.1l-2.3 .1z" color="#cf0"/><path d="M262.3 38.4l1.9-.2l1.9-.1l-1.6-1l-1.9 .1l-1.9 .1z" color="#df0"/><path d="M260.4 38.5l1.9-.1l-1.6-1.1l-1.9 .1z" color="#bf0"/><path d="M258.5 38.6l1.9-.1l-1.6-1.1l-1.8 .1z" color="#8f0"/><path d="M256.6 38.7l1.9-.1l-1.5-1.1l-1.9 .2z" color="#7f0"/><path d="M254.7 38.8l1.9-.1l-1.5-1l-1.9 .1z" color="#5f0"/><path d="M252.8 39l1.9-.2l-1.5-1l-1.9 .1z" color="#3f0"/><path d="M250.9 39.1l1.9-.1l-1.5-1.1l-1.9 .1z" color="#2f0"/><path d="M249 39.2l1.9-.1l-1.5-1.1l-1.9 .1z" color="#1f0"/><path d="M247.1 39.3l1.9-.1l-1.5-1.1l-1.9 .2z" color="#0f3"/><path d="M245.2 39.5l1.9-.2l-1.5-1l-2 .1z" color="#0fe"/><path d="M243.2 39.6l2-.1l-1.6-1.1l-1.9 .1z" color="#09f"/><path d="M241.3 39.7l1.9-.1l-1.5-1.1l-1.9 .1z" color="#06f"/><path d="M239.4 39.8l1.9-.1l-1.5-1.1l-1.9 .2z" color="#04f"/><path d="M237.4 40l2-.2l-1.5-1l-2 .1z" color="#01f"/><path d="M235.5 40.1l1.9-.1l-1.5-1.1l-1.9 .1z" color="#20f"/><path d="M233.5 40.2l2-.1l-1.5-1.1l-1.9 .1z" color="#50e"/><path d="M231.6 40.3l1.9-.1l-1.4-1.1l-2 .2z" color="#60e"/><path d="M229.6 40.5l2-.2l-1.5-1l-1.9 .1z" color="#70c"/><path d="M227.6 40.6l2-.1l-1.4-1.1l-2 .1z" color="#80c"/><path d="M225.7 40.7l1.9-.1l-1.4-1.1l-2 .1z" color="#80b"/><path d="M223.7 40.8l2-.1l-1.5-1.1l-1.9 .1z" color="#80a"/><path d="M221.7 41l2-.2l-1.4-1.1l-2 .2z" color="#809"/><path d="M217.7 41.2l2-.1l2-.1l-1.4-1.1l-2 .1l-1.9 .1z" color="#709"/><path d="M211.7 41.6l2-.1l2-.2l2-.1l-1.3-1.1l-2 .1l-2 .2l-2 .1z" color="#708"/><path d="M205.7 42l2-.1l2-.2l2-.1l-1.3-1.1l-2 .1l-2 .2l-2 .1z" color="#709"/><path d="M199.6 42.4l2-.2l2.1-.1l2-.1l-1.3-1.1l-2 .1l-2.1 .1l-2 .2z" color="#708"/><path d="M197.5 42.5l2.1-.1l-1.3-1.1l-2 .1z" color="#707"/><path d="M191.4 42.9l2.1-.1l2-.2l2-.1l-1.2-1.1l-2.1 .1l-2 .2l-2 .1z" color="#708"/><path d="M183.1 43.4l2.1-.1l2.1-.1l2-.2l2.1-.1l-1.2-1.1l-2.1 .1l-2 .1l-2.1 .2l-2.1 .1z" color="#709"/><path d="M174.8 44l2.1-.2l2.1-.1l2-.1l2.1-.2l-1.2-1.1l-2 .1l-2.1 .2l-2.1 .1l-2.1 .1z" color="#708"/><path d="M170.6 44.2l2.1-.1l2.1-.1l-1.2-1.2l-2.1 .2l-2.1 .1z" color="#707"/><path d="M168.5 44.4l2.1-.2l-1.2-1.1l-2.1 .1z" color="#708"/><path d="M164.2 44.6l2.1-.1l2.2-.1l-1.2-1.2l-2.1 .2l-2.1 .1z" color="#709"/><path d="M162.1 44.8l2.1-.2l-1.1-1.1l-2.1 .1z" color="#809"/><path d="M160 44.9l2.1-.1l-1.1-1.2l-2.1 .2z" color="#80a"/><path d="M157.8 45.1l2.2-.2l-1.1-1.1l-2.1 .1z" color="#80c"/><path d="M155.7 45.2l2.1-.1l-1-1.2l-2.2 .1z" color="#60e"/><path d="M153.5 45.3l2.2-.1l-1.1-1.2l-2.1 .2z" color="#20f"/><path d="M151.4 45.5l2.1-.2l-1-1.1l-2.1 .1z" color="#01f"/><path d="M149.2 45.6l2.2-.1l-1-1.2l-2.2 .1z" color="#05f"/><path d="M147 45.7l2.2-.1l-1-1.2l-2.1 .2z" color="#09f"/><path d="M144.9 45.9l2.1-.2l-.9-1.1l-2.2 .1z" color="#0cf"/><path d="M142.7 46l2.2-.1l-1-1.2l-2.2 .2z" color="#0ef"/><path d="M140.5 46.2l2.2-.2l-1-1.1l-2.1 .1z" color="#0fb"/><path d="M138.3 46.3l2.2-.1l-.9-1.2l-2.2 .1z" color="#0f0"/><path d="M136.1 46.4l2.2-.1l-.9-1.2l-2.2 .2z" color="#2f0"/><path d="M133.9 46.6l2.2-.2l-.9-1.1l-2.2 .1z" color="#3f0"/><path d="M131.7 46.7l2.2-.1l-.9-1.2l-2.2 .1z" color="#4f0"/><path d="M129.5 46.9l2.2-.2l-.9-1.2l-2.2 .2z" color="#6f0"/><path d="M127.3 47l2.2-.1l-.9-1.2l-2.2 .1z" color="#8f0"/><path d="M125.1 47.2l2.2-.2l-.9-1.2l-2.2 .2z" color="#af0"/><path d="M122.9 47.3l2.2-.1l-.9-1.2l-2.2 .1z" color="#bf0"/><path d="M120.6 47.4l2.3-.1l-.9-1.2l-2.2 .1z" color="#cf0"/><path d="M118.4 47.6l2.2-.2l-.8-1.2l-2.2 .2z" color="#df0"/><path d="M265.8 39.3l1.9-.1l-1.6-1.1l-1.9 .1z" color="#ff0"/><path d="M262 39.5l1.9-.1l1.9-.1l-1.6-1.1l-1.9 .2l-1.9 .1z" color="#df0"/><path d="M260.1 39.7l1.9-.2l-1.6-1l-1.9 .1z" color="#cf0"/><path d="M258.2 39.8l1.9-.1l-1.6-1.1l-1.9 .1z" color="#bf0"/><path d="M256.3 39.9l1.9-.1l-1.6-1.1l-1.9 .1z" color="#9f0"/><path d="M254.4 40l1.9-.1l-1.6-1.1l-1.9 .2z" color="#8f0"/><path d="M252.5 40.2l1.9-.2l-1.6-1l-1.9 .1z" color="#7f0"/><path d="M250.5 40.3l2-.1l-1.6-1.1l-1.9 .1z" color="#6f0"/><path d="M248.6 40.4l1.9-.1l-1.5-1.1l-1.9 .1z" color="#3f0"/><path d="M246.7 40.5l1.9-.1l-1.5-1.1l-1.9 .2z" color="#0f3"/><path d="M244.7 40.7l2-.2l-1.5-1l-2 .1z" color="#0ef"/><path d="M242.8 40.8l1.9-.1l-1.5-1.1l-1.9 .1z" color="#09f"/><path d="M240.8 40.9l2-.1l-1.5-1.1l-1.9 .1z" color="#06f"/><path d="M238.9 41l1.9-.1l-1.4-1.1l-2 .2z" color="#04f"/><path d="M236.9 41.2l2-.2l-1.5-1l-1.9 .1z" color="#01f"/><path d="M235 41.3l1.9-.1l-1.4-1.1l-2 .1z" color="#20f"/><path d="M233 41.4l2-.1l-1.5-1.1l-1.9 .1z" color="#50e"/><path d="M231 41.5l2-.1l-1.4-1.1l-2 .2z" color="#60d"/><path d="M229.1 41.7l1.9-.2l-1.4-1l-2 .1z" color="#70c"/><path d="M225.1 41.9l2-.1l2-.1l-1.5-1.1l-1.9 .1l-2 .1z" color="#80c"/><path d="M223.1 42.1l2-.2l-1.4-1.1l-2 .2z" color="#80b"/><path d="M221.1 42.2l2-.1l-1.4-1.1l-2 .1z" color="#80a"/><path d="M211.1 42.8l2-.1l2-.1l2-.2l2-.1l2-.1l-1.4-1.1l-2 .1l-2 .1l-2 .2l-2 .1l-2 .1z" color="#809"/><path d="M207 43.1l2-.1l2.1-.2l-1.4-1.1l-2 .2l-2 .1z" color="#709"/><path d="M200.9 43.5l2-.1l2.1-.2l2-.1l-1.3-1.1l-2 .1l-2.1 .1l-2 .2z" color="#708"/><path d="M198.8 43.6l2.1-.1l-1.3-1.1l-2.1 .1z" color="#707"/><path d="M194.7 43.9l2.1-.1l2-.2l-1.3-1.1l-2 .1l-2 .2z" color="#708"/><path d="M190.6 44.2l2-.2l2.1-.1l-1.2-1.1l-2.1 .1l-2.1 .1z" color="#709"/><path d="M171.7 45.4l2.1-.1l2.1-.2l2.1-.1l2.1-.2l2.1-.1l2.1-.1l2.1-.2l2.1-.1l2.1-.1l-1.3-1.2l-2 .2l-2.1 .1l-2.1 .1l-2.1 .2l-2 .1l-2.1 .1l-2.1 .2l-2.1 .1l-2.1 .1z" color="#809"/><path d="M167.5 45.7l2.1-.2l2.1-.1l-1.1-1.2l-2.1 .2l-2.2 .1z" color="#80a"/><path d="M161 46.1l2.2-.2l2.1-.1l2.2-.1l-1.2-1.2l-2.1 .1l-2.1 .2l-2.1 .1z" color="#80b"/><path d="M158.9 46.2l2.1-.1l-1-1.2l-2.2 .2z" color="#60d"/><path d="M156.7 46.4l2.2-.2l-1.1-1.1l-2.1 .1z" color="#30e"/><path d="M154.6 46.5l2.1-.1l-1-1.2l-2.2 .1z" color="#01f"/><path d="M152.4 46.6l2.2-.1l-1.1-1.2l-2.1 .2z" color="#05f"/><path d="M150.2 46.8l2.2-.2l-1-1.1l-2.2 .1z" color="#09f"/><path d="M148.1 46.9l2.1-.1l-1-1.2l-2.2 .1z" color="#0cf"/><path d="M145.9 47.1l2.2-.2l-1.1-1.2l-2.1 .2z" color="#0fe"/><path d="M143.7 47.2l2.2-.1l-1-1.2l-2.2 .1z" color="#0fb"/><path d="M141.5 47.4l2.2-.2l-1-1.2l-2.2 .2z" color="#0f0"/><path d="M139.3 47.5l2.2-.1l-1-1.2l-2.2 .1z" color="#3f0"/><path d="M137.1 47.6l2.2-.1l-1-1.2l-2.2 .1z" color="#6f0"/><path d="M132.6 47.9l2.3-.1l2.2-.2l-1-1.2l-2.2 .2l-2.2 .1z" color="#7f0"/><path d="M130.4 48.1l2.2-.2l-.9-1.2l-2.2 .2z" color="#9f0"/><path d="M128.2 48.2l2.2-.1l-.9-1.2l-2.2 .1z" color="#af0"/><path d="M126 48.4l2.2-.2l-.9-1.2l-2.2 .2z" color="#cf0"/><path d="M119.2 48.8l2.3-.2l2.2-.1l2.3-.1l-.9-1.2l-2.2 .1l-2.3 .1l-2.2 .2z" color="#df0"/><path d="M267.4 40.4l1.9-.2l-1.6-1l-1.9 .1z" color="#fe0"/><path d="M263.6 40.6l1.9-.1l1.9-.1l-1.6-1.1l-1.9 .1l-1.9 .1z" color="#ff0"/><path d="M259.8 40.9l1.9-.2l1.9-.1l-1.6-1.1l-1.9 .2l-1.9 .1z" color="#ef0"/><path d="M256 41.1l1.9-.1l1.9-.1l-1.6-1.1l-1.9 .1l-1.9 .1z" color="#df0"/><path d="M254 41.2l2-.1l-1.6-1.1l-1.9 .2z" color="#cf0"/><path d="M252.1 41.4l1.9-.2l-1.5-1l-2 .1z" color="#bf0"/><path d="M250.2 41.5l1.9-.1l-1.6-1.1l-1.9 .1z" color="#8f0"/><path d="M248.2 41.6l2-.1l-1.6-1.1l-1.9 .1z" color="#2f0"/><path d="M246.3 41.7l1.9-.1l-1.5-1.1l-2 .2z" color="#0f8"/><path d="M244.3 41.9l2-.2l-1.6-1l-1.9 .1z" color="#0ef"/><path d="M242.4 42l1.9-.1l-1.5-1.1l-2 .1z" color="#0af"/><path d="M240.4 42.1l2-.1l-1.6-1.1l-1.9 .1z" color="#07f"/><path d="M238.4 42.3l2-.2l-1.5-1.1l-2 .2z" color="#04f"/><path d="M236.5 42.4l1.9-.1l-1.5-1.1l-1.9 .1z" color="#00f"/><path d="M234.5 42.5l2-.1l-1.5-1.1l-2 .1z" color="#30e"/><path d="M232.5 42.6l2-.1l-1.5-1.1l-2 .1z" color="#60e"/><path d="M228.5 42.9l2-.1l2-.2l-1.5-1.1l-1.9 .2l-2 .1z" color="#60d"/><path d="M224.5 43.2l2-.2l2-.1l-1.4-1.1l-2 .1l-2 .2z" color="#70c"/><path d="M222.5 43.3l2-.1l-1.4-1.1l-2 .1z" color="#80c"/><path d="M216.5 43.7l2-.1l2-.2l2-.1l-1.4-1.1l-2 .1l-2 .1l-2 .2z" color="#80b"/><path d="M212.4 44l2-.2l2.1-.1l-1.4-1.1l-2 .1l-2 .1z" color="#80a"/><path d="M210.4 44.1l2-.1l-1.3-1.2l-2.1 .2z" color="#809"/><path d="M206.3 44.4l2-.2l2.1-.1l-1.4-1.1l-2 .1l-2 .1z" color="#709"/><path d="M202.2 44.6l2-.1l2.1-.1l-1.3-1.2l-2.1 .2l-2 .1z" color="#708"/><path d="M200.1 44.8l2.1-.2l-1.3-1.1l-2.1 .1z" color="#707"/><path d="M198.1 44.9l2-.1l-1.3-1.2l-2 .2z" color="#708"/><path d="M193.9 45.2l2.1-.2l2.1-.1l-1.3-1.1l-2.1 .1l-2.1 .1z" color="#709"/><path d="M189.7 45.5l2.1-.2l2.1-.1l-1.3-1.2l-2 .2l-2.1 .1z" color="#809"/><path d="M181.3 46l2.2-.1l2.1-.2l2.1-.1l2-.1l-1.2-1.2l-2.1 .1l-2.1 .2l-2.1 .1l-2.1 .1z" color="#80a"/><path d="M177.1 46.3l2.1-.2l2.1-.1l-1.2-1.2l-2.1 .2l-2.1 .1z" color="#80b"/><path d="M170.7 46.7l2.2-.1l2.1-.2l2.1-.1l-1.2-1.2l-2.1 .2l-2.1 .1l-2.1 .1z" color="#80c"/><path d="M162.1 47.3l2.2-.2l2.1-.1l2.2-.2l2.1-.1l-1.1-1.2l-2.1 .2l-2.2 .1l-2.1 .1l-2.2 .2z" color="#70c"/><path d="M160 47.4l2.1-.1l-1.1-1.2l-2.1 .1z" color="#60e"/><path d="M157.8 47.5l2.2-.1l-1.1-1.2l-2.2 .2z" color="#00f"/><path d="M155.6 47.7l2.2-.2l-1.1-1.1l-2.1 .1z" color="#05f"/><path d="M153.4 47.8l2.2-.1l-1-1.2l-2.2 .1z" color="#09f"/><path d="M151.3 48l2.1-.2l-1-1.2l-2.2 .2z" color="#0cf"/><path d="M149.1 48.1l2.2-.1l-1.1-1.2l-2.1 .1z" color="#0fe"/><path d="M146.9 48.3l2.2-.2l-1-1.2l-2.2 .2z" color="#0f3"/><path d="M144.7 48.4l2.2-.1l-1-1.2l-2.2 .1z" color="#0f0"/><path d="M142.5 48.6l2.2-.2l-1-1.2l-2.2 .2z" color="#2f0"/><path d="M140.3 48.7l2.2-.1l-1-1.2l-2.2 .1z" color="#6f0"/><path d="M138 48.8l2.3-.1l-1-1.2l-2.2 .1z" color="#af0"/><path d="M133.6 49.1l2.2-.1l2.2-.2l-.9-1.2l-2.2 .2l-2.3 .1z" color="#bf0"/><path d="M131.3 49.3l2.3-.2l-1-1.2l-2.2 .2z" color="#cf0"/><path d="M126.9 49.6l2.2-.2l2.2-.1l-.9-1.2l-2.2 .1l-2.2 .2z" color="#df0"/><path d="M124.6 49.7l2.3-.1l-.9-1.2l-2.3 .1z" color="#ef0"/><path d="M120.1 50l2.2-.1l2.3-.2l-.9-1.2l-2.2 .1l-2.3 .2z" color="#ff0"/><path d="M269.1 41.4l1.9-.1l-1.7-1.1l-1.9 .2z" color="#fe0"/><path d="M263.4 41.8l1.9-.1l1.9-.1l1.9-.2l-1.7-1l-1.9 .1l-1.9 .1l-1.9 .1z" color="#ff0"/><path d="M261.4 41.9l2-.1l-1.7-1.1l-1.9 .2z" color="#ef0"/><path d="M257.6 42.2l1.9-.1l1.9-.2l-1.6-1l-1.9 .1l-1.9 .1z" color="#df0"/><path d="M255.6 42.3l2-.1l-1.6-1.1l-2 .1z" color="#cf0"/><path d="M253.7 42.5l1.9-.2l-1.6-1.1l-1.9 .2z" color="#bf0"/><path d="M251.7 42.6l2-.1l-1.6-1.1l-1.9 .1z" color="#8f0"/><path d="M249.8 42.7l1.9-.1l-1.5-1.1l-2 .1z" color="#3f0"/><path d="M247.8 42.8l2-.1l-1.6-1.1l-1.9 .1z" color="#0f3"/><path d="M245.9 43l1.9-.2l-1.5-1.1l-2 .2z" color="#0fe"/><path d="M243.9 43.1l2-.1l-1.6-1.1l-1.9 .1z" color="#0cf"/><path d="M241.9 43.2l2-.1l-1.5-1.1l-2 .1z" color="#09f"/><path d="M239.9 43.4l2-.2l-1.5-1.1l-2 .2z" color="#05f"/><path d="M238 43.5l1.9-.1l-1.5-1.1l-1.9 .1z" color="#00f"/><path d="M236 43.6l2-.1l-1.5-1.1l-2 .1z" color="#20f"/><path d="M234 43.8l2-.2l-1.5-1.1l-2 .1z" color="#50e"/><path d="M232 43.9l2-.1l-1.5-1.2l-2 .2z" color="#60e"/><path d="M228 44.2l2-.2l2-.1l-1.5-1.1l-2 .1l-2 .1z" color="#60d"/><path d="M224 44.4l2-.1l2-.1l-1.5-1.2l-2 .2l-2 .1z" color="#70c"/><path d="M219.9 44.7l2-.1l2.1-.2l-1.5-1.1l-2 .1l-2 .2z" color="#80c"/><path d="M215.8 45l2.1-.2l2-.1l-1.4-1.1l-2 .1l-2.1 .1z" color="#80b"/><path d="M213.8 45.1l2-.1l-1.4-1.2l-2 .2z" color="#80a"/><path d="M209.7 45.4l2.1-.2l2-.1l-1.4-1.1l-2 .1l-2.1 .1z" color="#809"/><path d="M207.6 45.5l2.1-.1l-1.4-1.2l-2 .2z" color="#709"/><path d="M203.5 45.8l2.1-.2l2-.1l-1.3-1.1l-2.1 .1l-2 .1z" color="#708"/><path d="M201.4 45.9l2.1-.1l-1.3-1.2l-2.1 .2z" color="#707"/><path d="M199.4 46.1l2-.2l-1.3-1.1l-2 .1z" color="#708"/><path d="M195.2 46.3l2.1-.1l2.1-.1l-1.3-1.2l-2.1 .1l-2.1 .2z" color="#709"/><path d="M193.1 46.5l2.1-.2l-1.3-1.1l-2.1 .1z" color="#809"/><path d="M188.9 46.8l2.1-.2l2.1-.1l-1.3-1.2l-2.1 .2l-2 .1z" color="#80a"/><path d="M182.6 47.2l2.1-.2l2.1-.1l2.1-.1l-1.2-1.2l-2.1 .1l-2.1 .2l-2.2 .1z" color="#80b"/><path d="M178.3 47.5l2.1-.2l2.2-.1l-1.3-1.2l-2.1 .1l-2.1 .2z" color="#80c"/><path d="M174 47.7l2.2-.1l2.1-.1l-1.2-1.2l-2.1 .1l-2.1 .2z" color="#70c"/><path d="M163.2 48.5l2.2-.2l2.2-.1l2.1-.2l2.2-.1l2.1-.2l-1.1-1.1l-2.2 .1l-2.1 .1l-2.2 .2l-2.1 .1l-2.2 .2z" color="#60d"/><path d="M161.1 48.6l2.1-.1l-1.1-1.2l-2.1 .1z" color="#50e"/><path d="M158.9 48.7l2.2-.1l-1.1-1.2l-2.2 .1z" color="#00f"/><path d="M156.7 48.9l2.2-.2l-1.1-1.2l-2.2 .2z" color="#05f"/><path d="M154.5 49l2.2-.1l-1.1-1.2l-2.2 .1z" color="#09f"/><path d="M152.3 49.2l2.2-.2l-1.1-1.2l-2.1 .2z" color="#0ef"/><path d="M150.1 49.3l2.2-.1l-1-1.2l-2.2 .1z" color="#0fb"/><path d="M147.9 49.5l2.2-.2l-1-1.2l-2.2 .2z" color="#0f3"/><path d="M145.7 49.6l2.2-.1l-1-1.2l-2.2 .1z" color="#1f0"/><path d="M143.5 49.8l2.2-.2l-1-1.2l-2.2 .2z" color="#3f0"/><path d="M141.2 49.9l2.3-.1l-1-1.2l-2.2 .1z" color="#6f0"/><path d="M139 50.1l2.2-.2l-.9-1.2l-2.3 .1z" color="#af0"/><path d="M134.5 50.4l2.3-.2l2.2-.1l-1-1.3l-2.2 .2l-2.2 .1z" color="#bf0"/><path d="M132.3 50.5l2.2-.1l-.9-1.3l-2.3 .2z" color="#cf0"/><path d="M127.8 50.8l2.2-.1l2.3-.2l-1-1.2l-2.2 .1l-2.2 .2z" color="#df0"/><path d="M125.5 51l2.3-.2l-.9-1.2l-2.3 .1z" color="#ef0"/><path d="M120.9 51.3l2.3-.2l2.3-.1l-.9-1.3l-2.3 .2l-2.2 .1z" color="#ff0"/><path d="M270.8 42.5l1.9-.1l-1.7-1.1l-1.9 .1z" color="#ff0"/><path d="M268.9 42.7l1.9-.2l-1.7-1.1l-1.9 .2z" color="#ef0"/><path d="M265 42.9l1.9-.1l2-.1l-1.7-1.1l-1.9 .1l-1.9 .1z" color="#df0"/><path d="M263.1 43l1.9-.1l-1.6-1.1l-2 .1z" color="#cf0"/><path d="M261.1 43.2l2-.2l-1.7-1.1l-1.9 .2z" color="#bf0"/><path d="M259.2 43.3l1.9-.1l-1.6-1.1l-1.9 .1z" color="#af0"/><path d="M257.2 43.4l2-.1l-1.6-1.1l-2 .1z" color="#8f0"/><path d="M255.3 43.6l1.9-.2l-1.6-1.1l-1.9 .2z" color="#7f0"/><path d="M253.3 43.7l2-.1l-1.6-1.1l-2 .1z" color="#5f0"/><path d="M251.4 43.8l1.9-.1l-1.6-1.1l-1.9 .1z" color="#0f0"/><path d="M249.4 44l2-.2l-1.6-1.1l-2 .1z" color="#0fb"/><path d="M247.4 44.1l2-.1l-1.6-1.2l-1.9 .2z" color="#0ef"/><path d="M245.4 44.2l2-.1l-1.5-1.1l-2 .1z" color="#0af"/><path d="M243.5 44.4l1.9-.2l-1.5-1.1l-2 .1z" color="#07f"/><path d="M241.5 44.5l2-.1l-1.6-1.2l-2 .2z" color="#04f"/><path d="M239.5 44.6l2-.1l-1.6-1.1l-1.9 .1z" color="#00f"/><path d="M237.5 44.8l2-.2l-1.5-1.1l-2 .1z" color="#30e"/><path d="M235.5 44.9l2-.1l-1.5-1.2l-2 .2z" color="#50e"/><path d="M233.5 45l2-.1l-1.5-1.1l-2 .1z" color="#60e"/><path d="M229.5 45.3l2-.1l2-.2l-1.5-1.1l-2 .1l-2 .2z" color="#60d"/><path d="M225.4 45.6l2-.2l2.1-.1l-1.5-1.1l-2 .1l-2 .1z" color="#70c"/><path d="M221.3 45.8l2.1-.1l2-.1l-1.4-1.2l-2.1 .2l-2 .1z" color="#80c"/><path d="M217.2 46.1l2.1-.1l2-.2l-1.4-1.1l-2 .1l-2.1 .2z" color="#80b"/><path d="M215.2 46.3l2-.2l-1.4-1.1l-2 .1z" color="#80a"/><path d="M211.1 46.5l2-.1l2.1-.1l-1.4-1.2l-2 .1l-2.1 .2z" color="#809"/><path d="M209 46.7l2.1-.2l-1.4-1.1l-2.1 .1z" color="#709"/><path d="M204.9 46.9l2-.1l2.1-.1l-1.4-1.2l-2 .1l-2.1 .2z" color="#708"/><path d="M202.8 47.1l2.1-.2l-1.4-1.1l-2.1 .1z" color="#707"/><path d="M200.7 47.2l2.1-.1l-1.4-1.2l-2 .2z" color="#708"/><path d="M196.5 47.5l2.1-.1l2.1-.2l-1.3-1.1l-2.1 .1l-2.1 .1z" color="#709"/><path d="M194.4 47.7l2.1-.2l-1.3-1.2l-2.1 .2z" color="#809"/><path d="M188 48.1l2.2-.2l2.1-.1l2.1-.1l-1.3-1.2l-2.1 .1l-2.1 .2l-2.1 .1z" color="#80a"/><path d="M183.8 48.4l2.1-.2l2.1-.1l-1.2-1.2l-2.1 .1l-2.1 .2z" color="#80b"/><path d="M179.5 48.7l2.1-.2l2.2-.1l-1.2-1.2l-2.2 .1l-2.1 .2z" color="#80c"/><path d="M175.2 48.9l2.2-.1l2.1-.1l-1.2-1.2l-2.1 .1l-2.2 .1z" color="#70c"/><path d="M164.3 49.7l2.2-.2l2.2-.1l2.2-.2l2.1-.1l2.2-.2l-1.2-1.2l-2.1 .2l-2.2 .1l-2.1 .2l-2.2 .1l-2.2 .2z" color="#60d"/><path d="M162.2 49.8l2.1-.1l-1.1-1.2l-2.1 .1z" color="#50e"/><path d="M160 50l2.2-.2l-1.1-1.2l-2.2 .1z" color="#10f"/><path d="M157.8 50.1l2.2-.1l-1.1-1.3l-2.2 .2z" color="#02f"/><path d="M155.6 50.3l2.2-.2l-1.1-1.2l-2.2 .1z" color="#06f"/><path d="M153.4 50.4l2.2-.1l-1.1-1.3l-2.2 .2z" color="#0af"/><path d="M151.1 50.6l2.3-.2l-1.1-1.2l-2.2 .1z" color="#0ef"/><path d="M148.9 50.7l2.2-.1l-1-1.3l-2.2 .2z" color="#0f8"/><path d="M146.7 50.9l2.2-.2l-1-1.2l-2.2 .1z" color="#0f3"/><path d="M144.5 51l2.2-.1l-1-1.3l-2.2 .2z" color="#1f0"/><path d="M142.2 51.2l2.3-.2l-1-1.2l-2.3 .1z" color="#4f0"/><path d="M140 51.3l2.2-.1l-1-1.3l-2.2 .2z" color="#7f0"/><path d="M137.7 51.5l2.3-.2l-1-1.2l-2.2 .1z" color="#8f0"/><path d="M135.5 51.6l2.2-.1l-.9-1.3l-2.3 .2z" color="#9f0"/><path d="M133.2 51.8l2.3-.2l-1-1.2l-2.2 .1z" color="#af0"/><path d="M130.9 51.9l2.3-.1l-.9-1.3l-2.3 .2z" color="#bf0"/><path d="M128.7 52.1l2.2-.2l-.9-1.2l-2.2 .1z" color="#cf0"/><path d="M121.8 52.5l2.3-.1l2.3-.2l2.3-.1l-.9-1.3l-2.3 .2l-2.3 .1l-2.3 .2z" color="#df0"/><path d="M272.5 43.6l1.9-.1l-1.7-1.1l-1.9 .1z" color="#ef0"/><path d="M270.5 43.8l2-.2l-1.7-1.1l-1.9 .2z" color="#df0"/><path d="M268.6 43.9l1.9-.1l-1.6-1.1l-2 .1z" color="#cf0"/><path d="M266.7 44l1.9-.1l-1.7-1.1l-1.9 .1z" color="#bf0"/><path d="M264.7 44.2l2-.2l-1.7-1.1l-1.9 .1z" color="#9f0"/><path d="M262.8 44.3l1.9-.1l-1.6-1.2l-2 .2z" color="#8f0"/><path d="M260.8 44.4l2-.1l-1.7-1.1l-1.9 .1z" color="#6f0"/><path d="M258.9 44.6l1.9-.2l-1.6-1.1l-2 .1z" color="#4f0"/><path d="M256.9 44.7l2-.1l-1.7-1.2l-1.9 .2z" color="#3f0"/><path d="M254.9 44.8l2-.1l-1.6-1.1l-2 .1z" color="#1f0"/><path d="M253 45l1.9-.2l-1.6-1.1l-1.9 .1z" color="#0f8"/><path d="M251 45.1l2-.1l-1.6-1.2l-2 .2z" color="#0ef"/><path d="M249 45.2l2-.1l-1.6-1.1l-2 .1z" color="#0cf"/><path d="M247 45.4l2-.2l-1.6-1.1l-2 .1z" color="#09f"/><path d="M245 45.5l2-.1l-1.6-1.2l-1.9 .2z" color="#06f"/><path d="M243 45.6l2-.1l-1.5-1.1l-2 .1z" color="#02f"/><path d="M241 45.8l2-.2l-1.5-1.1l-2 .1z" color="#00f"/><path d="M239 45.9l2-.1l-1.5-1.2l-2 .2z" color="#30e"/><path d="M237 46l2-.1l-1.5-1.1l-2 .1z" color="#50e"/><path d="M235 46.2l2-.2l-1.5-1.1l-2 .1z" color="#60e"/><path d="M230.9 46.4l2.1-.1l2-.1l-1.5-1.2l-2 .2l-2 .1z" color="#60d"/><path d="M226.9 46.7l2-.1l2-.2l-1.4-1.1l-2.1 .1l-2 .2z" color="#70c"/><path d="M222.8 47l2-.1l2.1-.2l-1.5-1.1l-2 .1l-2.1 .1z" color="#80c"/><path d="M218.7 47.3l2-.2l2.1-.1l-1.5-1.2l-2 .2l-2.1 .1z" color="#80b"/><path d="M216.6 47.4l2.1-.1l-1.5-1.2l-2 .2z" color="#80a"/><path d="M212.5 47.7l2-.1l2.1-.2l-1.4-1.1l-2.1 .1l-2 .1z" color="#809"/><path d="M210.4 47.8l2.1-.1l-1.4-1.2l-2.1 .2z" color="#709"/><path d="M206.2 48.1l2.1-.1l2.1-.2l-1.4-1.1l-2.1 .1l-2 .1z" color="#708"/><path d="M204.1 48.3l2.1-.2l-1.3-1.2l-2.1 .2z" color="#707"/><path d="M202 48.4l2.1-.1l-1.3-1.2l-2.1 .1z" color="#708"/><path d="M197.8 48.7l2.1-.1l2.1-.2l-1.3-1.2l-2.1 .2l-2.1 .1z" color="#709"/><path d="M193.6 49l2.1-.2l2.1-.1l-1.3-1.2l-2.1 .2l-2.1 .1z" color="#809"/><path d="M189.3 49.3l2.1-.2l2.2-.1l-1.3-1.2l-2.1 .1l-2.2 .2z" color="#80a"/><path d="M185 49.6l2.2-.2l2.1-.1l-1.3-1.2l-2.1 .1l-2.1 .2z" color="#80b"/><path d="M180.7 49.9l2.2-.2l2.1-.1l-1.2-1.2l-2.2 .1l-2.1 .2z" color="#80c"/><path d="M176.4 50.2l2.2-.2l2.1-.1l-1.2-1.2l-2.1 .1l-2.2 .1z" color="#70c"/><path d="M169.9 50.6l2.1-.2l2.2-.1l2.2-.1l-1.2-1.3l-2.2 .2l-2.1 .1l-2.2 .2z" color="#60d"/><path d="M167.7 50.7l2.2-.1l-1.2-1.2l-2.2 .1z" color="#60e"/><path d="M165.5 50.9l2.2-.2l-1.2-1.2l-2.2 .2z" color="#60d"/><path d="M163.3 51l2.2-.1l-1.2-1.2l-2.1 .1z" color="#60e"/><path d="M161.1 51.2l2.2-.2l-1.1-1.2l-2.2 .2z" color="#30e"/><path d="M158.9 51.3l2.2-.1l-1.1-1.2l-2.2 .1z" color="#00f"/><path d="M156.7 51.5l2.2-.2l-1.1-1.2l-2.2 .2z" color="#04f"/><path d="M154.4 51.6l2.3-.1l-1.1-1.2l-2.2 .1z" color="#07f"/><path d="M152.2 51.8l2.2-.2l-1-1.2l-2.3 .2z" color="#0af"/><path d="M150 51.9l2.2-.1l-1.1-1.2l-2.2 .1z" color="#0fe"/><path d="M147.7 52.1l2.3-.2l-1.1-1.2l-2.2 .2z" color="#0f8"/><path d="M145.5 52.2l2.2-.1l-1-1.2l-2.2 .1z" color="#0f3"/><path d="M143.2 52.4l2.3-.2l-1-1.2l-2.3 .2z" color="#2f0"/><path d="M141 52.6l2.2-.2l-1-1.2l-2.2 .1z" color="#4f0"/><path d="M138.7 52.7l2.3-.1l-1-1.3l-2.3 .2z" color="#5f0"/><path d="M136.4 52.9l2.3-.2l-1-1.2l-2.2 .1z" color="#6f0"/><path d="M134.2 53l2.2-.1l-.9-1.3l-2.3 .2z" color="#8f0"/><path d="M131.9 53.2l2.3-.2l-1-1.2l-2.3 .1z" color="#9f0"/><path d="M127.3 53.5l2.3-.2l2.3-.1l-1-1.3l-2.2 .2l-2.3 .1z" color="#af0"/><path d="M125 53.6l2.3-.1l-.9-1.3l-2.3 .2z" color="#bf0"/><path d="M122.7 53.8l2.3-.2l-.9-1.2l-2.3 .1z" color="#cf0"/><path d="M274.2 44.7l1.9-.1l-1.7-1.1l-1.9 .1z" color="#df0"/><path d="M272.3 44.9l1.9-.2l-1.7-1.1l-2 .2z" color="#cf0"/><path d="M270.3 45l2-.1l-1.8-1.1l-1.9 .1z" color="#af0"/><path d="M268.4 45.1l1.9-.1l-1.7-1.1l-1.9 .1z" color="#9f0"/><path d="M266.4 45.3l2-.2l-1.7-1.1l-2 .2z" color="#6f0"/><path d="M264.4 45.4l2-.1l-1.7-1.1l-1.9 .1z" color="#4f0"/><path d="M262.5 45.6l1.9-.2l-1.6-1.1l-2 .1z" color="#2f0"/><path d="M260.5 45.7l2-.1l-1.7-1.2l-1.9 .2z" color="#0f0"/><path d="M258.5 45.8l2-.1l-1.6-1.1l-2 .1z" color="#0f3"/><path d="M256.6 46l1.9-.2l-1.6-1.1l-2 .1z" color="#0f8"/><path d="M254.6 46.1l2-.1l-1.7-1.2l-1.9 .2z" color="#0ef"/><path d="M252.6 46.2l2-.1l-1.6-1.1l-2 .1z" color="#0cf"/><path d="M250.6 46.4l2-.2l-1.6-1.1l-2 .1z" color="#0af"/><path d="M248.6 46.5l2-.1l-1.6-1.2l-2 .2z" color="#09f"/><path d="M246.6 46.6l2-.1l-1.6-1.1l-2 .1z" color="#05f"/><path d="M244.6 46.8l2-.2l-1.6-1.1l-2 .1z" color="#01f"/><path d="M242.6 46.9l2-.1l-1.6-1.2l-2 .2z" color="#10f"/><path d="M240.6 47.1l2-.2l-1.6-1.1l-2 .1z" color="#30e"/><path d="M236.5 47.3l2-.1l2.1-.1l-1.6-1.2l-2 .1l-2 .2z" color="#60e"/><path d="M232.4 47.6l2.1-.1l2-.2l-1.5-1.1l-2 .1l-2.1 .1z" color="#60d"/><path d="M228.4 47.9l2-.1l2-.2l-1.5-1.2l-2 .2l-2 .1z" color="#70c"/><path d="M224.2 48.2l2.1-.2l2.1-.1l-1.5-1.2l-2.1 .2l-2 .1z" color="#80c"/><path d="M220.1 48.5l2.1-.2l2-.1l-1.4-1.2l-2.1 .1l-2 .2z" color="#80b"/><path d="M218 48.6l2.1-.1l-1.4-1.2l-2.1 .1z" color="#80a"/><path d="M213.9 48.9l2.1-.2l2-.1l-1.4-1.2l-2.1 .2l-2 .1z" color="#809"/><path d="M211.8 49l2.1-.1l-1.4-1.2l-2.1 .1z" color="#709"/><path d="M207.6 49.3l2.1-.1l2.1-.2l-1.4-1.2l-2.1 .2l-2.1 .1z" color="#708"/><path d="M205.5 49.5l2.1-.2l-1.4-1.2l-2.1 .2z" color="#707"/><path d="M203.4 49.6l2.1-.1l-1.4-1.2l-2.1 .1z" color="#708"/><path d="M199.1 49.9l2.2-.1l2.1-.2l-1.4-1.2l-2.1 .2l-2.1 .1z" color="#709"/><path d="M194.9 50.2l2.1-.2l2.1-.1l-1.3-1.2l-2.1 .1l-2.1 .2z" color="#809"/><path d="M190.6 50.5l2.1-.2l2.2-.1l-1.3-1.2l-2.2 .1l-2.1 .2z" color="#80a"/><path d="M186.3 50.8l2.1-.2l2.2-.1l-1.3-1.2l-2.1 .1l-2.2 .2z" color="#80b"/><path d="M182 51.1l2.1-.2l2.2-.1l-1.3-1.2l-2.1 .1l-2.2 .2z" color="#80c"/><path d="M177.6 51.4l2.2-.2l2.2-.1l-1.3-1.2l-2.1 .1l-2.2 .2z" color="#70c"/><path d="M171 51.8l2.2-.1l2.2-.2l2.2-.1l-1.2-1.2l-2.2 .1l-2.2 .1l-2.1 .2z" color="#60d"/><path d="M164.4 52.3l2.2-.2l2.2-.1l2.2-.2l-1.1-1.2l-2.2 .1l-2.2 .2l-2.2 .1z" color="#60e"/><path d="M162.2 52.4l2.2-.1l-1.1-1.3l-2.2 .2z" color="#50e"/><path d="M160 52.6l2.2-.2l-1.1-1.2l-2.2 .1z" color="#20f"/><path d="M157.7 52.7l2.3-.1l-1.1-1.3l-2.2 .2z" color="#01f"/><path d="M155.5 52.9l2.2-.2l-1-1.2l-2.3 .1z" color="#05f"/><path d="M153.3 53l2.2-.1l-1.1-1.3l-2.2 .2z" color="#09f"/><path d="M151 53.2l2.3-.2l-1.1-1.2l-2.2 .1z" color="#0cf"/><path d="M148.8 53.4l2.2-.2l-1-1.3l-2.3 .2z" color="#0fe"/><path d="M146.5 53.5l2.3-.1l-1.1-1.3l-2.2 .1z" color="#0fb"/><path d="M144.2 53.7l2.3-.2l-1-1.3l-2.3 .2z" color="#0f3"/><path d="M142 53.8l2.2-.1l-1-1.3l-2.2 .2z" color="#1f0"/><path d="M139.7 54l2.3-.2l-1-1.2l-2.3 .1z" color="#2f0"/><path d="M137.4 54.1l2.3-.1l-1-1.3l-2.3 .2z" color="#4f0"/><path d="M135.1 54.3l2.3-.2l-1-1.2l-2.2 .1z" color="#5f0"/><path d="M132.8 54.5l2.3-.2l-.9-1.3l-2.3 .2z" color="#6f0"/><path d="M128.2 54.8l2.3-.2l2.3-.1l-.9-1.3l-2.3 .1l-2.3 .2z" color="#8f0"/><path d="M125.9 54.9l2.3-.1l-.9-1.3l-2.3 .1z" color="#9f0"/><path d="M123.6 55.1l2.3-.2l-.9-1.3l-2.3 .2z" color="#af0"/><path d="M275.9 45.9l2-.2l-1.8-1.1l-1.9 .1z" color="#cf0"/><path d="M274 46l1.9-.1l-1.7-1.2l-1.9 .2z" color="#bf0"/><path d="M272 46.2l2-.2l-1.7-1.1l-2 .1z" color="#9f0"/><path d="M270.1 46.3l1.9-.1l-1.7-1.2l-1.9 .1z" color="#7f0"/><path d="M268.1 46.4l2-.1l-1.7-1.2l-2 .2z" color="#4f0"/><path d="M266.1 46.6l2-.2l-1.7-1.1l-2 .1z" color="#2f0"/><path d="M264.2 46.7l1.9-.1l-1.7-1.2l-1.9 .2z" color="#0f0"/><path d="M262.2 46.8l2-.1l-1.7-1.1l-2 .1z" color="#0f8"/><path d="M260.2 47l2-.2l-1.7-1.1l-2 .1z" color="#0fe"/><path d="M258.2 47.1l2-.1l-1.7-1.2l-1.9 .2z" color="#0ef"/><path d="M256.2 47.2l2-.1l-1.6-1.1l-2 .1z" color="#0cf"/><path d="M254.2 47.4l2-.2l-1.6-1.1l-2 .1z" color="#0af"/><path d="M252.2 47.5l2-.1l-1.6-1.2l-2 .2z" color="#09f"/><path d="M250.2 47.7l2-.2l-1.6-1.1l-2 .1z" color="#07f"/><path d="M248.2 47.8l2-.1l-1.6-1.2l-2 .1z" color="#04f"/><path d="M246.2 47.9l2-.1l-1.6-1.2l-2 .2z" color="#01f"/><path d="M244.2 48.1l2-.2l-1.6-1.1l-2 .1z" color="#10f"/><path d="M242.1 48.2l2.1-.1l-1.6-1.2l-2 .2z" color="#30e"/><path d="M238.1 48.5l2-.1l2-.2l-1.5-1.1l-2.1 .1l-2 .1z" color="#60e"/><path d="M234 48.8l2-.1l2.1-.2l-1.6-1.2l-2 .2l-2.1 .1z" color="#60d"/><path d="M229.9 49.1l2-.2l2.1-.1l-1.6-1.2l-2 .2l-2 .1z" color="#70c"/><path d="M225.7 49.4l2.1-.2l2.1-.1l-1.5-1.2l-2.1 .1l-2.1 .2z" color="#80c"/><path d="M221.6 49.7l2-.2l2.1-.1l-1.5-1.2l-2 .1l-2.1 .2z" color="#80b"/><path d="M219.5 49.8l2.1-.1l-1.5-1.2l-2.1 .1z" color="#80a"/><path d="M215.3 50.1l2.1-.2l2.1-.1l-1.5-1.2l-2 .1l-2.1 .2z" color="#809"/><path d="M213.2 50.2l2.1-.1l-1.4-1.2l-2.1 .1z" color="#709"/><path d="M209 50.5l2.1-.1l2.1-.2l-1.4-1.2l-2.1 .2l-2.1 .1z" color="#708"/><path d="M206.9 50.7l2.1-.2l-1.4-1.2l-2.1 .2z" color="#707"/><path d="M204.7 50.8l2.2-.1l-1.4-1.2l-2.1 .1z" color="#708"/><path d="M200.5 51.1l2.1-.1l2.1-.2l-1.3-1.2l-2.1 .2l-2.2 .1z" color="#709"/><path d="M196.2 51.4l2.1-.1l2.2-.2l-1.4-1.2l-2.1 .1l-2.1 .2z" color="#809"/><path d="M191.9 51.7l2.1-.1l2.2-.2l-1.3-1.2l-2.2 .1l-2.1 .2z" color="#80a"/><path d="M187.6 52l2.1-.1l2.2-.2l-1.3-1.2l-2.2 .1l-2.1 .2z" color="#80b"/><path d="M183.2 52.3l2.2-.1l2.2-.2l-1.3-1.2l-2.2 .1l-2.1 .2z" color="#80c"/><path d="M178.8 52.6l2.2-.1l2.2-.2l-1.2-1.2l-2.2 .1l-2.2 .2z" color="#70c"/><path d="M172.2 53.1l2.2-.2l2.2-.1l2.2-.2l-1.2-1.2l-2.2 .1l-2.2 .2l-2.2 .1z" color="#60d"/><path d="M163.3 53.7l2.3-.2l2.2-.1l2.2-.2l2.2-.1l-1.2-1.3l-2.2 .2l-2.2 .1l-2.2 .2l-2.2 .1z" color="#60e"/><path d="M161.1 53.9l2.2-.2l-1.1-1.3l-2.2 .2z" color="#30e"/><path d="M158.9 54l2.2-.1l-1.1-1.3l-2.3 .1z" color="#00f"/><path d="M156.6 54.2l2.3-.2l-1.2-1.3l-2.2 .2z" color="#04f"/><path d="M154.4 54.3l2.2-.1l-1.1-1.3l-2.2 .1z" color="#06f"/><path d="M152.1 54.5l2.3-.2l-1.1-1.3l-2.3 .2z" color="#0af"/><path d="M149.8 54.6l2.3-.1l-1.1-1.3l-2.2 .2z" color="#0cf"/><path d="M147.6 54.8l2.2-.2l-1-1.2l-2.3 .1z" color="#0fe"/><path d="M145.3 55l2.3-.2l-1.1-1.3l-2.3 .2z" color="#0fb"/><path d="M143 55.1l2.3-.1l-1.1-1.3l-2.2 .1z" color="#0f3"/><path d="M140.7 55.3l2.3-.2l-1-1.3l-2.3 .2z" color="#0f0"/><path d="M138.4 55.4l2.3-.1l-1-1.3l-2.3 .1z" color="#2f0"/><path d="M136.1 55.6l2.3-.2l-1-1.3l-2.3 .2z" color="#3f0"/><path d="M133.8 55.8l2.3-.2l-1-1.3l-2.3 .2z" color="#5f0"/><path d="M131.5 55.9l2.3-.1l-1-1.3l-2.3 .1z" color="#6f0"/><path d="M126.8 56.2l2.4-.1l2.3-.2l-1-1.3l-2.3 .2l-2.3 .1z" color="#7f0"/><path d="M124.5 56.4l2.3-.2l-.9-1.3l-2.3 .2z" color="#9f0"/><path d="M277.7 47l1.9-.1l-1.7-1.2l-2 .2z" color="#bf0"/><path d="M275.7 47.2l2-.2l-1.8-1.1l-1.9 .1z" color="#9f0"/><path d="M273.8 47.3l1.9-.1l-1.7-1.2l-2 .2z" color="#7f0"/><path d="M271.8 47.4l2-.1l-1.8-1.1l-1.9 .1z" color="#5f0"/><path d="M269.8 47.6l2-.2l-1.7-1.1l-2 .1z" color="#3f0"/><path d="M267.8 47.7l2-.1l-1.7-1.2l-2 .2z" color="#1f0"/><path d="M265.9 47.9l1.9-.2l-1.7-1.1l-1.9 .1z" color="#0f3"/><path d="M263.9 48l2-.1l-1.7-1.2l-2 .1z" color="#0fb"/><path d="M261.9 48.1l2-.1l-1.7-1.2l-2 .2z" color="#0ef"/><path d="M259.9 48.3l2-.2l-1.7-1.1l-2 .1z" color="#0cf"/><path d="M257.9 48.4l2-.1l-1.7-1.2l-2 .1z" color="#0af"/><path d="M255.9 48.6l2-.2l-1.7-1.2l-2 .2z" color="#09f"/><path d="M253.9 48.7l2-.1l-1.7-1.2l-2 .1z" color="#07f"/><path d="M251.8 48.8l2.1-.1l-1.7-1.2l-2 .2z" color="#05f"/><path d="M249.8 49l2-.2l-1.6-1.1l-2 .1z" color="#02f"/><path d="M247.8 49.1l2-.1l-1.6-1.2l-2 .1z" color="#00f"/><path d="M245.8 49.3l2-.2l-1.6-1.2l-2 .2z" color="#10f"/><path d="M243.7 49.4l2.1-.1l-1.6-1.2l-2.1 .1z" color="#30e"/><path d="M239.6 49.7l2.1-.1l2-.2l-1.6-1.2l-2 .2l-2 .1z" color="#60e"/><path d="M235.5 50l2.1-.2l2-.1l-1.5-1.2l-2.1 .2l-2 .1z" color="#60d"/><path d="M231.4 50.3l2-.2l2.1-.1l-1.5-1.2l-2.1 .1l-2 .2z" color="#70c"/><path d="M227.2 50.6l2.1-.2l2.1-.1l-1.5-1.2l-2.1 .1l-2.1 .2z" color="#80c"/><path d="M223 50.9l2.1-.2l2.1-.1l-1.5-1.2l-2.1 .1l-2 .2z" color="#80b"/><path d="M221 51l2-.1l-1.4-1.2l-2.1 .1z" color="#80a"/><path d="M216.7 51.3l2.1-.1l2.2-.2l-1.5-1.2l-2.1 .1l-2.1 .2z" color="#809"/><path d="M214.6 51.5l2.1-.2l-1.4-1.2l-2.1 .1z" color="#709"/><path d="M210.4 51.8l2.1-.2l2.1-.1l-1.4-1.3l-2.1 .2l-2.1 .1z" color="#708"/><path d="M208.3 51.9l2.1-.1l-1.4-1.3l-2.1 .2z" color="#707"/><path d="M206.1 52.1l2.2-.2l-1.4-1.2l-2.2 .1z" color="#708"/><path d="M201.8 52.4l2.2-.2l2.1-.1l-1.4-1.3l-2.1 .2l-2.1 .1z" color="#709"/><path d="M197.5 52.7l2.2-.2l2.1-.1l-1.3-1.3l-2.2 .2l-2.1 .1z" color="#809"/><path d="M193.2 53l2.2-.2l2.1-.1l-1.3-1.3l-2.2 .2l-2.1 .1z" color="#80a"/><path d="M188.8 53.3l2.2-.2l2.2-.1l-1.3-1.3l-2.2 .2l-2.1 .1z" color="#80b"/><path d="M184.5 53.6l2.2-.2l2.1-.1l-1.2-1.3l-2.2 .2l-2.2 .1z" color="#80c"/><path d="M180.1 53.9l2.2-.2l2.2-.1l-1.3-1.3l-2.2 .2l-2.2 .1z" color="#70c"/><path d="M173.4 54.3l2.2-.1l2.3-.2l2.2-.1l-1.3-1.3l-2.2 .2l-2.2 .1l-2.2 .2z" color="#60d"/><path d="M164.5 55l2.2-.2l2.3-.1l2.2-.2l2.2-.2l-1.2-1.2l-2.2 .1l-2.2 .2l-2.2 .1l-2.3 .2z" color="#60e"/><path d="M162.2 55.1l2.3-.1l-1.2-1.3l-2.2 .2z" color="#30e"/><path d="M160 55.3l2.2-.2l-1.1-1.2l-2.2 .1z" color="#10f"/><path d="M157.7 55.5l2.3-.2l-1.1-1.3l-2.3 .2z" color="#01f"/><path d="M155.5 55.6l2.2-.1l-1.1-1.3l-2.2 .1z" color="#05f"/><path d="M153.2 55.8l2.3-.2l-1.1-1.3l-2.3 .2z" color="#07f"/><path d="M150.9 55.9l2.3-.1l-1.1-1.3l-2.3 .1z" color="#0af"/><path d="M148.6 56.1l2.3-.2l-1.1-1.3l-2.2 .2z" color="#0cf"/><path d="M146.3 56.3l2.3-.2l-1-1.3l-2.3 .2z" color="#0fe"/><path d="M144 56.4l2.3-.1l-1-1.3l-2.3 .1z" color="#0fb"/><path d="M141.7 56.6l2.3-.2l-1-1.3l-2.3 .2z" color="#0f3"/><path d="M139.4 56.7l2.3-.1l-1-1.3l-2.3 .1z" color="#1f0"/><path d="M137.1 56.9l2.3-.2l-1-1.3l-2.3 .2z" color="#2f0"/><path d="M134.8 57.1l2.3-.2l-1-1.3l-2.3 .2z" color="#4f0"/><path d="M132.4 57.2l2.4-.1l-1-1.3l-2.3 .1z" color="#5f0"/><path d="M130.1 57.4l2.3-.2l-.9-1.3l-2.3 .2z" color="#6f0"/><path d="M127.8 57.6l2.3-.2l-.9-1.3l-2.4 .1z" color="#7f0"/><path d="M125.4 57.7l2.4-.1l-1-1.4l-2.3 .2z" color="#9f0"/><path d="M279.5 48.2l1.9-.2l-1.8-1.1l-1.9 .1z" color="#9f0"/><path d="M277.5 48.3l2-.1l-1.8-1.2l-2 .2z" color="#8f0"/><path d="M275.5 48.5l2-.2l-1.8-1.1l-1.9 .1z" color="#6f0"/><path d="M273.5 48.6l2-.1l-1.7-1.2l-2 .1z" color="#4f0"/><path d="M271.6 48.7l1.9-.1l-1.7-1.2l-2 .2z" color="#2f0"/><path d="M269.6 48.9l2-.2l-1.8-1.1l-2 .1z" color="#0f0"/><path d="M267.6 49l2-.1l-1.8-1.2l-1.9 .2z" color="#0f8"/><path d="M265.6 49.2l2-.2l-1.7-1.1l-2 .1z" color="#0fb"/><path d="M263.6 49.3l2-.1l-1.7-1.2l-2 .1z" color="#0ef"/><path d="M261.6 49.5l2-.2l-1.7-1.2l-2 .2z" color="#0af"/><path d="M259.6 49.6l2-.1l-1.7-1.2l-2 .1z" color="#09f"/><path d="M257.5 49.7l2.1-.1l-1.7-1.2l-2 .2z" color="#07f"/><path d="M255.5 49.9l2-.2l-1.6-1.1l-2 .1z" color="#06f"/><path d="M253.5 50l2-.1l-1.6-1.2l-2.1 .1z" color="#04f"/><path d="M251.5 50.2l2-.2l-1.7-1.2l-2 .2z" color="#02f"/><path d="M249.4 50.3l2.1-.1l-1.7-1.2l-2 .1z" color="#00f"/><path d="M247.4 50.5l2-.2l-1.6-1.2l-2 .2z" color="#20f"/><path d="M245.3 50.6l2.1-.1l-1.6-1.2l-2.1 .1z" color="#30e"/><path d="M241.2 50.9l2.1-.1l2-.2l-1.6-1.2l-2 .2l-2.1 .1z" color="#60e"/><path d="M237.1 51.2l2-.1l2.1-.2l-1.6-1.2l-2 .1l-2.1 .2z" color="#60d"/><path d="M232.9 51.5l2.1-.2l2.1-.1l-1.6-1.2l-2.1 .1l-2 .2z" color="#70c"/><path d="M228.7 51.8l2.1-.2l2.1-.1l-1.5-1.2l-2.1 .1l-2.1 .2z" color="#80c"/><path d="M224.5 52.1l2.1-.2l2.1-.1l-1.5-1.2l-2.1 .1l-2.1 .2z" color="#80b"/><path d="M222.4 52.2l2.1-.1l-1.5-1.2l-2 .1z" color="#80a"/><path d="M218.2 52.5l2.1-.1l2.1-.2l-1.4-1.2l-2.2 .2l-2.1 .1z" color="#809"/><path d="M216.1 52.7l2.1-.2l-1.5-1.2l-2.1 .2z" color="#709"/><path d="M211.8 53l2.1-.2l2.2-.1l-1.5-1.2l-2.1 .1l-2.1 .2z" color="#708"/><path d="M209.7 53.1l2.1-.1l-1.4-1.2l-2.1 .1z" color="#707"/><path d="M207.5 53.3l2.2-.2l-1.4-1.2l-2.2 .2z" color="#708"/><path d="M203.2 53.6l2.2-.1l2.1-.2l-1.4-1.2l-2.1 .1l-2.2 .2z" color="#709"/><path d="M198.9 53.9l2.2-.1l2.1-.2l-1.4-1.2l-2.1 .1l-2.2 .2z" color="#809"/><path d="M194.5 54.2l2.2-.1l2.2-.2l-1.4-1.2l-2.1 .1l-2.2 .2z" color="#80a"/><path d="M190.2 54.5l2.1-.1l2.2-.2l-1.3-1.2l-2.2 .1l-2.2 .2z" color="#80b"/><path d="M185.8 54.8l2.2-.1l2.2-.2l-1.4-1.2l-2.1 .1l-2.2 .2z" color="#80c"/><path d="M181.3 55.2l2.2-.2l2.3-.2l-1.3-1.2l-2.2 .1l-2.2 .2z" color="#70c"/><path d="M174.6 55.6l2.3-.1l2.2-.2l2.2-.1l-1.2-1.3l-2.2 .1l-2.3 .2l-2.2 .1z" color="#60d"/><path d="M167.9 56.1l2.3-.1l2.2-.2l2.2-.2l-1.2-1.3l-2.2 .2l-2.2 .2l-2.3 .1z" color="#60e"/><path d="M165.7 56.3l2.2-.2l-1.2-1.3l-2.2 .2z" color="#50e"/><path d="M163.4 56.4l2.3-.1l-1.2-1.3l-2.3 .1z" color="#30e"/><path d="M161.1 56.6l2.3-.2l-1.2-1.3l-2.2 .2z" color="#20f"/><path d="M158.9 56.8l2.2-.2l-1.1-1.3l-2.3 .2z" color="#00f"/><path d="M156.6 56.9l2.3-.1l-1.2-1.3l-2.2 .1z" color="#02f"/><path d="M154.3 57.1l2.3-.2l-1.1-1.3l-2.3 .2z" color="#05f"/><path d="M152 57.2l2.3-.1l-1.1-1.3l-2.3 .1z" color="#07f"/><path d="M149.7 57.4l2.3-.2l-1.1-1.3l-2.3 .2z" color="#0af"/><path d="M147.4 57.6l2.3-.2l-1.1-1.3l-2.3 .2z" color="#0cf"/><path d="M145.1 57.7l2.3-.1l-1.1-1.3l-2.3 .1z" color="#0fe"/><path d="M142.8 57.9l2.3-.2l-1.1-1.3l-2.3 .2z" color="#0f8"/><path d="M140.4 58.1l2.4-.2l-1.1-1.3l-2.3 .1z" color="#0f0"/><path d="M138.1 58.2l2.3-.1l-1-1.4l-2.3 .2z" color="#1f0"/><path d="M135.8 58.4l2.3-.2l-1-1.3l-2.3 .2z" color="#3f0"/><path d="M133.4 58.6l2.4-.2l-1-1.3l-2.4 .1z" color="#4f0"/><path d="M131.1 58.7l2.3-.1l-1-1.4l-2.3 .2z" color="#6f0"/><path d="M128.7 58.9l2.4-.2l-1-1.3l-2.3 .2z" color="#7f0"/><path d="M126.3 59.1l2.4-.2l-.9-1.3l-2.4 .1z" color="#8f0"/><path d="M281.3 49.4l1.9-.2l-1.8-1.2l-1.9 .2z" color="#8f0"/><path d="M279.3 49.5l2-.1l-1.8-1.2l-2 .1z" color="#7f0"/><path d="M277.3 49.6l2-.1l-1.8-1.2l-2 .2z" color="#4f0"/><path d="M275.3 49.8l2-.2l-1.8-1.1l-2 .1z" color="#2f0"/><path d="M273.3 49.9l2-.1l-1.8-1.2l-1.9 .1z" color="#1f0"/><path d="M271.3 50.1l2-.2l-1.7-1.2l-2 .2z" color="#0f3"/><path d="M269.3 50.2l2-.1l-1.7-1.2l-2 .1z" color="#0f8"/><path d="M267.3 50.4l2-.2l-1.7-1.2l-2 .2z" color="#0fe"/><path d="M265.3 50.5l2-.1l-1.7-1.2l-2 .1z" color="#0cf"/><path d="M263.3 50.7l2-.2l-1.7-1.2l-2 .2z" color="#09f"/><path d="M261.3 50.8l2-.1l-1.7-1.2l-2 .1z" color="#07f"/><path d="M259.2 50.9l2.1-.1l-1.7-1.2l-2.1 .1z" color="#06f"/><path d="M257.2 51.1l2-.2l-1.7-1.2l-2 .2z" color="#04f"/><path d="M255.2 51.2l2-.1l-1.7-1.2l-2 .1z" color="#02f"/><path d="M253.1 51.4l2.1-.2l-1.7-1.2l-2 .2z" color="#01f"/><path d="M251.1 51.5l2-.1l-1.6-1.2l-2.1 .1z" color="#00f"/><path d="M249 51.7l2.1-.2l-1.7-1.2l-2 .2z" color="#20f"/><path d="M247 51.8l2-.1l-1.6-1.2l-2.1 .1z" color="#50e"/><path d="M242.8 52.1l2.1-.1l2.1-.2l-1.7-1.2l-2 .2l-2.1 .1z" color="#60e"/><path d="M238.7 52.4l2-.1l2.1-.2l-1.6-1.2l-2.1 .2l-2 .1z" color="#60d"/><path d="M234.5 52.7l2.1-.1l2.1-.2l-1.6-1.2l-2.1 .1l-2.1 .2z" color="#70c"/><path d="M230.3 53l2.1-.1l2.1-.2l-1.6-1.2l-2.1 .1l-2.1 .2z" color="#80c"/><path d="M226.1 53.3l2.1-.1l2.1-.2l-1.6-1.2l-2.1 .1l-2.1 .2z" color="#80b"/><path d="M223.9 53.5l2.2-.2l-1.6-1.2l-2.1 .1z" color="#80a"/><path d="M219.7 53.8l2.1-.2l2.1-.1l-1.5-1.3l-2.1 .2l-2.1 .1z" color="#809"/><path d="M217.5 53.9l2.2-.1l-1.5-1.3l-2.1 .2z" color="#709"/><path d="M213.3 54.2l2.1-.1l2.1-.2l-1.4-1.2l-2.2 .1l-2.1 .2z" color="#708"/><path d="M211.1 54.4l2.2-.2l-1.5-1.2l-2.1 .1z" color="#707"/><path d="M208.9 54.6l2.2-.2l-1.4-1.3l-2.2 .2z" color="#708"/><path d="M204.6 54.9l2.2-.2l2.1-.1l-1.4-1.3l-2.1 .2l-2.2 .1z" color="#709"/><path d="M200.3 55.2l2.1-.2l2.2-.1l-1.4-1.3l-2.1 .2l-2.2 .1z" color="#809"/><path d="M195.9 55.5l2.2-.2l2.2-.1l-1.4-1.3l-2.2 .2l-2.2 .1z" color="#80a"/><path d="M191.5 55.8l2.2-.1l2.2-.2l-1.4-1.3l-2.2 .2l-2.1 .1z" color="#80b"/><path d="M187.1 56.1l2.2-.1l2.2-.2l-1.3-1.3l-2.2 .2l-2.2 .1z" color="#80c"/><path d="M182.6 56.5l2.2-.2l2.3-.2l-1.3-1.3l-2.3 .2l-2.2 .2z" color="#70c"/><path d="M175.9 56.9l2.2-.1l2.3-.2l2.2-.1l-1.3-1.3l-2.2 .1l-2.2 .2l-2.3 .1z" color="#60d"/><path d="M169.1 57.4l2.3-.1l2.2-.2l2.3-.2l-1.3-1.3l-2.2 .2l-2.2 .2l-2.3 .1z" color="#60e"/><path d="M166.8 57.6l2.3-.2l-1.2-1.3l-2.2 .2z" color="#50e"/><path d="M162.3 57.9l2.3-.2l2.2-.1l-1.1-1.3l-2.3 .1l-2.3 .2z" color="#30e"/><path d="M160 58.1l2.3-.2l-1.2-1.3l-2.2 .2z" color="#10f"/><path d="M157.7 58.2l2.3-.1l-1.1-1.3l-2.3 .1z" color="#01f"/><path d="M155.4 58.4l2.3-.2l-1.1-1.3l-2.3 .2z" color="#02f"/><path d="M153.1 58.6l2.3-.2l-1.1-1.3l-2.3 .1z" color="#05f"/><path d="M150.8 58.7l2.3-.1l-1.1-1.4l-2.3 .2z" color="#07f"/><path d="M148.5 58.9l2.3-.2l-1.1-1.3l-2.3 .2z" color="#0af"/><path d="M146.1 59.1l2.4-.2l-1.1-1.3l-2.3 .1z" color="#0ef"/><path d="M143.8 59.2l2.3-.1l-1-1.4l-2.3 .2z" color="#0fb"/><path d="M141.5 59.4l2.3-.2l-1-1.3l-2.4 .2z" color="#0f3"/><path d="M139.1 59.6l2.4-.2l-1.1-1.3l-2.3 .1z" color="#0f0"/><path d="M136.8 59.7l2.3-.1l-1-1.4l-2.3 .2z" color="#1f0"/><path d="M134.4 59.9l2.4-.2l-1-1.3l-2.4 .2z" color="#4f0"/><path d="M132 60.1l2.4-.2l-1-1.3l-2.3 .1z" color="#6f0"/><path d="M129.7 60.3l2.3-.2l-.9-1.4l-2.4 .2z" color="#7f0"/><path d="M127.3 60.4l2.4-.1l-1-1.4l-2.4 .2z" color="#8f0"/><path d="M283.1 50.5l2-.1l-1.9-1.2l-1.9 .2z" color="#7f0"/><path d="M281.1 50.7l2-.2l-1.8-1.1l-2 .1z" color="#5f0"/><path d="M279.1 50.8l2-.1l-1.8-1.2l-2 .1z" color="#3f0"/><path d="M277.1 51l2-.2l-1.8-1.2l-2 .2z" color="#1f0"/><path d="M275.1 51.1l2-.1l-1.8-1.2l-2 .1z" color="#0f0"/><path d="M273.1 51.3l2-.2l-1.8-1.2l-2 .2z" color="#0f8"/><path d="M271.1 51.4l2-.1l-1.8-1.2l-2 .1z" color="#0fb"/><path d="M269.1 51.6l2-.2l-1.8-1.2l-2 .2z" color="#0fe"/><path d="M267 51.7l2.1-.1l-1.8-1.2l-2 .1z" color="#0af"/><path d="M263 52l2-.1l2-.2l-1.7-1.2l-2 .2l-2 .1z" color="#07f"/><path d="M260.9 52.2l2.1-.2l-1.7-1.2l-2.1 .1z" color="#06f"/><path d="M258.9 52.3l2-.1l-1.7-1.3l-2 .2z" color="#04f"/><path d="M256.9 52.5l2-.2l-1.7-1.2l-2 .1z" color="#01f"/><path d="M254.8 52.6l2.1-.1l-1.7-1.3l-2.1 .2z" color="#00f"/><path d="M252.7 52.8l2.1-.2l-1.7-1.2l-2 .1z" color="#10f"/><path d="M250.7 52.9l2-.1l-1.6-1.3l-2.1 .2z" color="#20f"/><path d="M246.5 53.2l2.1-.1l2.1-.2l-1.7-1.2l-2 .1l-2.1 .2z" color="#50e"/><path d="M242.4 53.5l2-.1l2.1-.2l-1.6-1.2l-2.1 .1l-2.1 .2z" color="#60e"/><path d="M240.3 53.7l2.1-.2l-1.7-1.2l-2 .1z" color="#60d"/><path d="M236.1 54l2.1-.2l2.1-.1l-1.6-1.3l-2.1 .2l-2.1 .1z" color="#70c"/><path d="M231.8 54.3l2.2-.2l2.1-.1l-1.6-1.3l-2.1 .2l-2.1 .1z" color="#80c"/><path d="M227.6 54.6l2.1-.2l2.1-.1l-1.5-1.3l-2.1 .2l-2.1 .1z" color="#80b"/><path d="M225.5 54.7l2.1-.1l-1.5-1.3l-2.2 .2z" color="#80a"/><path d="M221.2 55l2.1-.1l2.2-.2l-1.6-1.2l-2.1 .1l-2.1 .2z" color="#809"/><path d="M219 55.2l2.2-.2l-1.5-1.2l-2.2 .1z" color="#709"/><path d="M214.7 55.5l2.2-.1l2.1-.2l-1.5-1.3l-2.1 .2l-2.1 .1z" color="#708"/><path d="M212.6 55.7l2.1-.2l-1.4-1.3l-2.2 .2z" color="#707"/><path d="M210.4 55.8l2.2-.1l-1.5-1.3l-2.2 .2z" color="#708"/><path d="M206 56.2l2.2-.2l2.2-.2l-1.5-1.2l-2.1 .1l-2.2 .2z" color="#709"/><path d="M201.7 56.5l2.1-.2l2.2-.1l-1.4-1.3l-2.2 .1l-2.1 .2z" color="#809"/><path d="M197.2 56.8l2.3-.2l2.2-.1l-1.4-1.3l-2.2 .1l-2.2 .2z" color="#80a"/><path d="M192.8 57.1l2.2-.1l2.2-.2l-1.3-1.3l-2.2 .2l-2.2 .1z" color="#80b"/><path d="M188.4 57.4l2.2-.1l2.2-.2l-1.3-1.3l-2.2 .2l-2.2 .1z" color="#80c"/><path d="M183.9 57.8l2.2-.2l2.3-.2l-1.3-1.3l-2.3 .2l-2.2 .2z" color="#70c"/><path d="M177.1 58.3l2.3-.2l2.2-.2l2.3-.1l-1.3-1.3l-2.2 .1l-2.3 .2l-2.2 .1z" color="#60d"/><path d="M170.3 58.7l2.3-.1l2.3-.2l2.2-.1l-1.2-1.4l-2.3 .2l-2.2 .2l-2.3 .1z" color="#60e"/><path d="M168 58.9l2.3-.2l-1.2-1.3l-2.3 .2z" color="#50e"/><path d="M163.5 59.2l2.2-.1l2.3-.2l-1.2-1.3l-2.2 .1l-2.3 .2z" color="#30e"/><path d="M161.1 59.4l2.4-.2l-1.2-1.3l-2.3 .2z" color="#20f"/><path d="M158.8 59.6l2.3-.2l-1.1-1.3l-2.3 .1z" color="#00f"/><path d="M156.5 59.8l2.3-.2l-1.1-1.4l-2.3 .2z" color="#02f"/><path d="M154.2 59.9l2.3-.1l-1.1-1.4l-2.3 .2z" color="#04f"/><path d="M151.9 60.1l2.3-.2l-1.1-1.3l-2.3 .1z" color="#06f"/><path d="M149.5 60.3l2.4-.2l-1.1-1.4l-2.3 .2z" color="#09f"/><path d="M147.2 60.4l2.3-.1l-1-1.4l-2.4 .2z" color="#0cf"/><path d="M144.9 60.6l2.3-.2l-1.1-1.3l-2.3 .1z" color="#0fe"/><path d="M142.5 60.8l2.4-.2l-1.1-1.4l-2.3 .2z" color="#0f8"/><path d="M140.1 60.9l2.4-.1l-1-1.4l-2.4 .2z" color="#0f3"/><path d="M137.8 61.1l2.3-.2l-1-1.3l-2.3 .1z" color="#1f0"/><path d="M135.4 61.3l2.4-.2l-1-1.4l-2.4 .2z" color="#3f0"/><path d="M133 61.5l2.4-.2l-1-1.4l-2.4 .2z" color="#5f0"/><path d="M130.6 61.6l2.4-.1l-1-1.4l-2.3 .2z" color="#6f0"/><path d="M128.3 61.8l2.3-.2l-.9-1.3l-2.4 .1z" color="#7f0"/><path d="M284.9 51.7l2-.1l-1.8-1.2l-2 .1z" color="#6f0"/><path d="M282.9 51.9l2-.2l-1.8-1.2l-2 .2z" color="#5f0"/><path d="M280.9 52l2-.1l-1.8-1.2l-2 .1z" color="#2f0"/><path d="M278.9 52.2l2-.2l-1.8-1.2l-2 .2z" color="#0f0"/><path d="M276.9 52.3l2-.1l-1.8-1.2l-2 .1z" color="#0f3"/><path d="M274.9 52.5l2-.2l-1.8-1.2l-2 .2z" color="#0f8"/><path d="M272.9 52.6l2-.1l-1.8-1.2l-2 .1z" color="#0fb"/><path d="M270.8 52.8l2.1-.2l-1.8-1.2l-2 .2z" color="#0ef"/><path d="M268.8 52.9l2-.1l-1.7-1.2l-2.1 .1z" color="#0af"/><path d="M264.7 53.2l2.1-.1l2-.2l-1.8-1.2l-2 .2l-2 .1z" color="#07f"/><path d="M262.7 53.4l2-.2l-1.7-1.2l-2.1 .2z" color="#06f"/><path d="M260.6 53.5l2.1-.1l-1.8-1.2l-2 .1z" color="#04f"/><path d="M258.6 53.7l2-.2l-1.7-1.2l-2 .2z" color="#01f"/><path d="M256.5 53.8l2.1-.1l-1.7-1.2l-2.1 .1z" color="#00f"/><path d="M254.4 54l2.1-.2l-1.7-1.2l-2.1 .2z" color="#10f"/><path d="M252.3 54.1l2.1-.1l-1.7-1.2l-2 .1z" color="#20f"/><path d="M250.3 54.3l2-.2l-1.6-1.2l-2.1 .2z" color="#30e"/><path d="M248.2 54.5l2.1-.2l-1.7-1.2l-2.1 .1z" color="#50e"/><path d="M244 54.8l2.1-.2l2.1-.1l-1.7-1.3l-2.1 .2l-2 .1z" color="#60e"/><path d="M241.9 54.9l2.1-.1l-1.6-1.3l-2.1 .2z" color="#60d"/><path d="M237.7 55.2l2.1-.1l2.1-.2l-1.6-1.2l-2.1 .1l-2.1 .2z" color="#70c"/><path d="M233.4 55.5l2.1-.1l2.2-.2l-1.6-1.2l-2.1 .1l-2.2 .2z" color="#80c"/><path d="M229.1 55.9l2.2-.2l2.1-.2l-1.6-1.2l-2.1 .1l-2.1 .2z" color="#80b"/><path d="M227 56l2.1-.1l-1.5-1.3l-2.1 .1z" color="#80a"/><path d="M222.7 56.3l2.2-.1l2.1-.2l-1.5-1.3l-2.2 .2l-2.1 .1z" color="#809"/><path d="M220.5 56.5l2.2-.2l-1.5-1.3l-2.2 .2z" color="#709"/><path d="M211.8 57.1l2.2-.1l2.2-.2l2.2-.2l2.1-.1l-1.5-1.3l-2.1 .2l-2.2 .1l-2.1 .2l-2.2 .1z" color="#708"/><path d="M207.5 57.5l2.2-.2l2.1-.2l-1.4-1.3l-2.2 .2l-2.2 .2z" color="#709"/><path d="M203.1 57.8l2.2-.2l2.2-.1l-1.5-1.3l-2.2 .1l-2.1 .2z" color="#809"/><path d="M198.6 58.1l2.2-.2l2.3-.1l-1.4-1.3l-2.2 .1l-2.3 .2z" color="#80a"/><path d="M194.2 58.4l2.2-.1l2.2-.2l-1.4-1.3l-2.2 .2l-2.2 .1z" color="#80b"/><path d="M189.7 58.8l2.2-.2l2.3-.2l-1.4-1.3l-2.2 .2l-2.2 .1z" color="#80c"/><path d="M182.9 59.3l2.3-.2l2.3-.2l2.2-.1l-1.3-1.4l-2.3 .2l-2.2 .2l-2.3 .1z" color="#70c"/><path d="M178.4 59.6l2.3-.2l2.2-.1l-1.3-1.4l-2.2 .2l-2.3 .2z" color="#60d"/><path d="M171.5 60.1l2.3-.2l2.3-.1l2.3-.2l-1.3-1.3l-2.2 .1l-2.3 .2l-2.3 .1z" color="#60e"/><path d="M169.3 60.3l2.2-.2l-1.2-1.4l-2.3 .2z" color="#50e"/><path d="M164.6 60.6l2.3-.2l2.4-.1l-1.3-1.4l-2.3 .2l-2.2 .1z" color="#30e"/><path d="M162.3 60.8l2.3-.2l-1.1-1.4l-2.4 .2z" color="#20f"/><path d="M160 60.9l2.3-.1l-1.2-1.4l-2.3 .2z" color="#00f"/><path d="M157.7 61.1l2.3-.2l-1.2-1.3l-2.3 .2z" color="#01f"/><path d="M155.3 61.3l2.4-.2l-1.2-1.3l-2.3 .1z" color="#04f"/><path d="M153 61.5l2.3-.2l-1.1-1.4l-2.3 .2z" color="#06f"/><path d="M150.6 61.6l2.4-.1l-1.1-1.4l-2.4 .2z" color="#09f"/><path d="M148.3 61.8l2.3-.2l-1.1-1.3l-2.3 .1z" color="#0cf"/><path d="M145.9 62l2.4-.2l-1.1-1.4l-2.3 .2z" color="#0fe"/><path d="M143.6 62.2l2.3-.2l-1-1.4l-2.4 .2z" color="#0fb"/><path d="M141.2 62.3l2.4-.1l-1.1-1.4l-2.4 .1z" color="#0f8"/><path d="M138.8 62.5l2.4-.2l-1.1-1.4l-2.3 .2z" color="#0f0"/><path d="M136.4 62.7l2.4-.2l-1-1.4l-2.4 .2z" color="#2f0"/><path d="M134 62.9l2.4-.2l-1-1.4l-2.4 .2z" color="#4f0"/><path d="M131.6 63l2.4-.1l-1-1.4l-2.4 .1z" color="#5f0"/><path d="M129.2 63.2l2.4-.2l-1-1.4l-2.3 .2z" color="#6f0"/><path d="M286.8 53l2-.2l-1.9-1.2l-2 .1z" color="#5f0"/><path d="M284.8 53.1l2-.1l-1.9-1.3l-2 .2z" color="#4f0"/><path d="M282.8 53.3l2-.2l-1.9-1.2l-2 .1z" color="#1f0"/><path d="M280.8 53.4l2-.1l-1.9-1.3l-2 .2z" color="#0f0"/><path d="M278.7 53.6l2.1-.2l-1.9-1.2l-2 .1z" color="#0f8"/><path d="M276.7 53.7l2-.1l-1.8-1.3l-2 .2z" color="#0fb"/><path d="M274.7 53.9l2-.2l-1.8-1.2l-2 .1z" color="#0fe"/><path d="M272.6 54l2.1-.1l-1.8-1.3l-2.1 .2z" color="#0cf"/><path d="M270.6 54.2l2-.2l-1.8-1.2l-2 .1z" color="#0af"/><path d="M266.5 54.5l2-.2l2.1-.1l-1.8-1.3l-2 .2l-2.1 .1z" color="#07f"/><path d="M264.4 54.6l2.1-.1l-1.8-1.3l-2 .2z" color="#06f"/><path d="M262.4 54.8l2-.2l-1.7-1.2l-2.1 .1z" color="#04f"/><path d="M260.3 54.9l2.1-.1l-1.8-1.3l-2 .2z" color="#02f"/><path d="M258.2 55.1l2.1-.2l-1.7-1.2l-2.1 .1z" color="#00f"/><path d="M256.1 55.3l2.1-.2l-1.7-1.3l-2.1 .2z" color="#10f"/><path d="M254 55.4l2.1-.1l-1.7-1.3l-2.1 .1z" color="#20f"/><path d="M252 55.6l2-.2l-1.7-1.3l-2 .2z" color="#30e"/><path d="M249.9 55.7l2.1-.1l-1.7-1.3l-2.1 .2z" color="#50e"/><path d="M245.6 56l2.2-.1l2.1-.2l-1.7-1.2l-2.1 .1l-2.1 .2z" color="#60e"/><path d="M243.5 56.2l2.1-.2l-1.6-1.2l-2.1 .1z" color="#60d"/><path d="M239.3 56.5l2.1-.2l2.1-.1l-1.6-1.3l-2.1 .2l-2.1 .1z" color="#70c"/><path d="M235 56.8l2.2-.1l2.1-.2l-1.6-1.3l-2.2 .2l-2.1 .1z" color="#80c"/><path d="M230.7 57.1l2.2-.1l2.1-.2l-1.6-1.3l-2.1 .2l-2.2 .2z" color="#80b"/><path d="M228.6 57.3l2.1-.2l-1.6-1.2l-2.1 .1z" color="#80a"/><path d="M224.2 57.6l2.2-.1l2.2-.2l-1.6-1.3l-2.1 .2l-2.2 .1z" color="#809"/><path d="M222.1 57.8l2.1-.2l-1.5-1.3l-2.2 .2z" color="#709"/><path d="M213.3 58.4l2.2-.1l2.2-.2l2.2-.2l2.2-.1l-1.6-1.3l-2.1 .1l-2.2 .2l-2.2 .2l-2.2 .1z" color="#708"/><path d="M208.9 58.8l2.2-.2l2.2-.2l-1.5-1.3l-2.1 .2l-2.2 .2z" color="#709"/><path d="M204.5 59.1l2.2-.2l2.2-.1l-1.4-1.3l-2.2 .1l-2.2 .2z" color="#809"/><path d="M202.3 59.3l2.2-.2l-1.4-1.3l-2.3 .1z" color="#80a"/><path d="M195.6 59.8l2.2-.2l2.2-.2l2.3-.1l-1.5-1.4l-2.2 .2l-2.2 .2l-2.2 .1z" color="#80b"/><path d="M191.1 60.1l2.2-.2l2.3-.1l-1.4-1.4l-2.3 .2l-2.2 .2z" color="#80c"/><path d="M184.2 60.6l2.3-.2l2.3-.1l2.3-.2l-1.4-1.3l-2.2 .1l-2.3 .2l-2.3 .2z" color="#70c"/><path d="M179.7 60.9l2.3-.1l2.2-.2l-1.3-1.3l-2.2 .1l-2.3 .2z" color="#60d"/><path d="M175.1 61.3l2.3-.2l2.3-.2l-1.3-1.3l-2.3 .2l-2.3 .1z" color="#60e"/><path d="M170.5 61.6l2.3-.1l2.3-.2l-1.3-1.4l-2.3 .2l-2.2 .2z" color="#50e"/><path d="M165.8 62l2.4-.2l2.3-.2l-1.2-1.3l-2.4 .1l-2.3 .2z" color="#30e"/><path d="M163.5 62.1l2.3-.1l-1.2-1.4l-2.3 .2z" color="#20f"/><path d="M161.2 62.3l2.3-.2l-1.2-1.3l-2.3 .1z" color="#00f"/><path d="M158.8 62.5l2.4-.2l-1.2-1.4l-2.3 .2z" color="#01f"/><path d="M156.5 62.7l2.3-.2l-1.1-1.4l-2.4 .2z" color="#04f"/><path d="M154.1 62.8l2.4-.1l-1.2-1.4l-2.3 .2z" color="#05f"/><path d="M151.8 63l2.3-.2l-1.1-1.3l-2.4 .1z" color="#07f"/><path d="M149.4 63.2l2.4-.2l-1.2-1.4l-2.3 .2z" color="#0af"/><path d="M147 63.4l2.4-.2l-1.1-1.4l-2.4 .2z" color="#0ef"/><path d="M144.6 63.6l2.4-.2l-1.1-1.4l-2.3 .2z" color="#0fe"/><path d="M142.2 63.7l2.4-.1l-1-1.4l-2.4 .1z" color="#0fb"/><path d="M139.9 63.9l2.3-.2l-1-1.4l-2.4 .2z" color="#0f3"/><path d="M137.5 64.1l2.4-.2l-1.1-1.4l-2.4 .2z" color="#1f0"/><path d="M135 64.3l2.5-.2l-1.1-1.4l-2.4 .2z" color="#2f0"/><path d="M132.6 64.4l2.4-.1l-1-1.4l-2.4 .1z" color="#4f0"/><path d="M130.2 64.6l2.4-.2l-1-1.4l-2.4 .2z" color="#5f0"/><path d="M288.7 54.2l2-.2l-1.9-1.2l-2 .2z" color="#5f0"/><path d="M286.7 54.4l2-.2l-1.9-1.2l-2 .1z" color="#3f0"/><path d="M284.7 54.5l2-.1l-1.9-1.3l-2 .2z" color="#1f0"/><path d="M282.6 54.7l2.1-.2l-1.9-1.2l-2 .1z" color="#0f3"/><path d="M280.6 54.8l2-.1l-1.8-1.3l-2.1 .2z" color="#0f8"/><path d="M278.6 55l2-.2l-1.9-1.2l-2 .1z" color="#0fb"/><path d="M276.5 55.1l2.1-.1l-1.9-1.3l-2 .2z" color="#0fe"/><path d="M274.5 55.3l2-.2l-1.8-1.2l-2.1 .1z" color="#0cf"/><path d="M272.4 55.4l2.1-.1l-1.9-1.3l-2 .2z" color="#0af"/><path d="M268.3 55.7l2-.1l2.1-.2l-1.8-1.2l-2.1 .1l-2 .2z" color="#07f"/><path d="M266.2 55.9l2.1-.2l-1.8-1.2l-2.1 .1z" color="#06f"/><path d="M264.1 56.1l2.1-.2l-1.8-1.3l-2 .2z" color="#04f"/><path d="M262.1 56.2l2-.1l-1.7-1.3l-2.1 .1z" color="#02f"/><path d="M260 56.4l2.1-.2l-1.8-1.3l-2.1 .2z" color="#00f"/><path d="M257.9 56.5l2.1-.1l-1.8-1.3l-2.1 .2z" color="#10f"/><path d="M255.8 56.7l2.1-.2l-1.8-1.2l-2.1 .1z" color="#20f"/><path d="M253.7 56.8l2.1-.1l-1.8-1.3l-2 .2z" color="#30e"/><path d="M251.6 57l2.1-.2l-1.7-1.2l-2.1 .1z" color="#50e"/><path d="M247.3 57.3l2.1-.1l2.2-.2l-1.7-1.3l-2.1 .2l-2.2 .1z" color="#60e"/><path d="M243.1 57.6l2.1-.1l2.1-.2l-1.7-1.3l-2.1 .2l-2.1 .1z" color="#60d"/><path d="M240.9 57.8l2.2-.2l-1.7-1.3l-2.1 .2z" color="#70c"/><path d="M236.6 58.1l2.2-.1l2.1-.2l-1.6-1.3l-2.1 .2l-2.2 .1z" color="#80c"/><path d="M232.3 58.4l2.2-.1l2.1-.2l-1.6-1.3l-2.1 .2l-2.2 .1z" color="#80b"/><path d="M230.2 58.6l2.1-.2l-1.6-1.3l-2.1 .2z" color="#80a"/><path d="M225.8 58.9l2.2-.1l2.2-.2l-1.6-1.3l-2.2 .2l-2.2 .1z" color="#809"/><path d="M223.6 59.1l2.2-.2l-1.6-1.3l-2.1 .2z" color="#709"/><path d="M214.8 59.8l2.2-.2l2.2-.2l2.2-.1l2.2-.2l-1.5-1.3l-2.2 .1l-2.2 .2l-2.2 .2l-2.2 .1z" color="#708"/><path d="M210.4 60.1l2.2-.2l2.2-.1l-1.5-1.4l-2.2 .2l-2.2 .2z" color="#709"/><path d="M205.9 60.4l2.3-.1l2.2-.2l-1.5-1.3l-2.2 .1l-2.2 .2z" color="#809"/><path d="M203.7 60.6l2.2-.2l-1.4-1.3l-2.2 .2z" color="#80a"/><path d="M196.9 61.1l2.3-.2l2.3-.1l2.2-.2l-1.4-1.3l-2.3 .1l-2.2 .2l-2.2 .2z" color="#80b"/><path d="M192.4 61.5l2.3-.2l2.2-.2l-1.3-1.3l-2.3 .1l-2.2 .2z" color="#80c"/><path d="M185.6 62l2.3-.2l2.2-.2l2.3-.1l-1.3-1.4l-2.3 .2l-2.3 .1l-2.3 .2z" color="#70c"/><path d="M181 62.3l2.3-.2l2.3-.1l-1.4-1.4l-2.2 .2l-2.3 .1z" color="#60d"/><path d="M176.4 62.7l2.3-.2l2.3-.2l-1.3-1.4l-2.3 .2l-2.3 .2z" color="#60e"/><path d="M169.4 63.2l2.3-.2l2.4-.2l2.3-.1l-1.3-1.4l-2.3 .2l-2.3 .1l-2.3 .2z" color="#50e"/><path d="M167.1 63.4l2.3-.2l-1.2-1.4l-2.4 .2z" color="#30e"/><path d="M164.7 63.5l2.4-.1l-1.3-1.4l-2.3 .1z" color="#20f"/><path d="M162.4 63.7l2.3-.2l-1.2-1.4l-2.3 .2z" color="#10f"/><path d="M160 63.9l2.4-.2l-1.2-1.4l-2.4 .2z" color="#01f"/><path d="M157.6 64.1l2.4-.2l-1.2-1.4l-2.3 .2z" color="#04f"/><path d="M155.3 64.3l2.3-.2l-1.1-1.4l-2.4 .1z" color="#05f"/><path d="M152.9 64.4l2.4-.1l-1.2-1.5l-2.3 .2z" color="#07f"/><path d="M150.5 64.6l2.4-.2l-1.1-1.4l-2.4 .2z" color="#0af"/><path d="M148.1 64.8l2.4-.2l-1.1-1.4l-2.4 .2z" color="#0cf"/><path d="M143.3 65.2l2.4-.2l2.4-.2l-1.1-1.4l-2.4 .2l-2.4 .1z" color="#0fe"/><path d="M140.9 65.3l2.4-.1l-1.1-1.5l-2.3 .2z" color="#0f8"/><path d="M138.5 65.5l2.4-.2l-1-1.4l-2.4 .2z" color="#0f3"/><path d="M136.1 65.7l2.4-.2l-1-1.4l-2.5 .2z" color="#1f0"/><path d="M133.6 65.9l2.5-.2l-1.1-1.4l-2.4 .1z" color="#2f0"/><path d="M131.2 66.1l2.4-.2l-1-1.5l-2.4 .2z" color="#4f0"/><path d="M290.6 55.5l2-.2l-1.9-1.3l-2 .2z" color="#4f0"/><path d="M288.6 55.6l2-.1l-1.9-1.3l-2 .2z" color="#2f0"/><path d="M286.6 55.8l2-.2l-1.9-1.2l-2 .1z" color="#0f0"/><path d="M284.5 55.9l2.1-.1l-1.9-1.3l-2.1 .2z" color="#0f3"/><path d="M282.5 56.1l2-.2l-1.9-1.2l-2 .1z" color="#0fb"/><path d="M280.4 56.2l2.1-.1l-1.9-1.3l-2 .2z" color="#0fe"/><path d="M278.4 56.4l2-.2l-1.8-1.2l-2.1 .1z" color="#0ef"/><path d="M276.3 56.5l2.1-.1l-1.9-1.3l-2 .2z" color="#0af"/><path d="M274.2 56.7l2.1-.2l-1.8-1.2l-2.1 .1z" color="#09f"/><path d="M272.2 56.9l2-.2l-1.8-1.3l-2.1 .2z" color="#07f"/><path d="M268 57.2l2.1-.2l2.1-.1l-1.9-1.3l-2 .1l-2.1 .2z" color="#06f"/><path d="M265.9 57.3l2.1-.1l-1.8-1.3l-2.1 .2z" color="#04f"/><path d="M263.8 57.5l2.1-.2l-1.8-1.2l-2 .1z" color="#02f"/><path d="M261.7 57.7l2.1-.2l-1.7-1.3l-2.1 .2z" color="#00f"/><path d="M259.6 57.8l2.1-.1l-1.7-1.3l-2.1 .1z" color="#10f"/><path d="M257.5 58l2.1-.2l-1.7-1.3l-2.1 .2z" color="#20f"/><path d="M255.4 58.1l2.1-.1l-1.7-1.3l-2.1 .1z" color="#30e"/><path d="M251.2 58.5l2.1-.2l2.1-.2l-1.7-1.3l-2.1 .2l-2.2 .2z" color="#50e"/><path d="M249 58.6l2.2-.1l-1.8-1.3l-2.1 .1z" color="#60e"/><path d="M244.7 58.9l2.2-.1l2.1-.2l-1.7-1.3l-2.1 .2l-2.1 .1z" color="#60d"/><path d="M242.6 59.1l2.1-.2l-1.6-1.3l-2.2 .2z" color="#70c"/><path d="M238.3 59.4l2.1-.1l2.2-.2l-1.7-1.3l-2.1 .2l-2.2 .1z" color="#80c"/><path d="M233.9 59.8l2.2-.2l2.2-.2l-1.7-1.3l-2.1 .2l-2.2 .1z" color="#80b"/><path d="M231.8 59.9l2.1-.1l-1.6-1.4l-2.1 .2z" color="#80a"/><path d="M227.4 60.3l2.2-.2l2.2-.2l-1.6-1.3l-2.2 .2l-2.2 .1z" color="#809"/><path d="M225.2 60.4l2.2-.1l-1.6-1.4l-2.2 .2z" color="#709"/><path d="M216.3 61.1l2.3-.2l2.2-.1l2.2-.2l2.2-.2l-1.6-1.3l-2.2 .2l-2.2 .1l-2.2 .2l-2.2 .2z" color="#708"/><path d="M211.9 61.5l2.2-.2l2.2-.2l-1.5-1.3l-2.2 .1l-2.2 .2z" color="#709"/><path d="M207.4 61.8l2.2-.2l2.3-.1l-1.5-1.4l-2.2 .2l-2.3 .1z" color="#809"/><path d="M205.2 62l2.2-.2l-1.5-1.4l-2.2 .2z" color="#80a"/><path d="M198.4 62.5l2.2-.2l2.3-.2l2.3-.1l-1.5-1.4l-2.2 .2l-2.3 .1l-2.3 .2z" color="#80b"/><path d="M193.8 62.8l2.3-.1l2.3-.2l-1.5-1.4l-2.2 .2l-2.3 .2z" color="#80c"/><path d="M186.9 63.4l2.3-.2l2.3-.2l2.3-.2l-1.4-1.3l-2.3 .1l-2.2 .2l-2.3 .2z" color="#70c"/><path d="M182.3 63.7l2.3-.2l2.3-.1l-1.3-1.4l-2.3 .1l-2.3 .2z" color="#60d"/><path d="M177.7 64.1l2.3-.2l2.3-.2l-1.3-1.4l-2.3 .2l-2.3 .2z" color="#60e"/><path d="M170.6 64.6l2.4-.2l2.3-.2l2.4-.1l-1.3-1.4l-2.3 .1l-2.4 .2l-2.3 .2z" color="#50e"/><path d="M168.3 64.8l2.3-.2l-1.2-1.4l-2.3 .2z" color="#30e"/><path d="M165.9 65l2.4-.2l-1.2-1.4l-2.4 .1z" color="#20f"/><path d="M163.6 65.1l2.3-.1l-1.2-1.5l-2.3 .2z" color="#10f"/><path d="M161.2 65.3l2.4-.2l-1.2-1.4l-2.4 .2z" color="#01f"/><path d="M158.8 65.5l2.4-.2l-1.2-1.4l-2.4 .2z" color="#02f"/><path d="M156.4 65.7l2.4-.2l-1.2-1.4l-2.3 .2z" color="#04f"/><path d="M154 65.9l2.4-.2l-1.1-1.4l-2.4 .1z" color="#06f"/><path d="M151.6 66l2.4-.1l-1.1-1.5l-2.4 .2z" color="#0af"/><path d="M149.2 66.2l2.4-.2l-1.1-1.4l-2.4 .2z" color="#0cf"/><path d="M146.8 66.4l2.4-.2l-1.1-1.4l-2.4 .2z" color="#0ef"/><path d="M144.4 66.6l2.4-.2l-1.1-1.4l-2.4 .2z" color="#0fe"/><path d="M142 66.8l2.4-.2l-1.1-1.4l-2.4 .1z" color="#0fb"/><path d="M139.6 67l2.4-.2l-1.1-1.5l-2.4 .2z" color="#0f3"/><path d="M137.1 67.1l2.5-.1l-1.1-1.5l-2.4 .2z" color="#0f0"/><path d="M134.7 67.3l2.4-.2l-1-1.4l-2.5 .2z" color="#2f0"/><path d="M132.2 67.5l2.5-.2l-1.1-1.4l-2.4 .2z" color="#3f0"/><path d="M292.6 56.7l2-.1l-2-1.3l-2 .2z" color="#3f0"/><path d="M290.5 56.9l2.1-.2l-2-1.2l-2 .1z" color="#1f0"/><path d="M288.5 57l2-.1l-1.9-1.3l-2 .2z" color="#0f3"/><path d="M286.4 57.2l2.1-.2l-1.9-1.2l-2.1 .1z" color="#0f8"/><path d="M284.4 57.3l2-.1l-1.9-1.3l-2 .2z" color="#0fb"/><path d="M282.3 57.5l2.1-.2l-1.9-1.2l-2.1 .1z" color="#0fe"/><path d="M280.2 57.7l2.1-.2l-1.9-1.3l-2 .2z" color="#0ef"/><path d="M278.2 57.8l2-.1l-1.8-1.3l-2.1 .1z" color="#0af"/><path d="M276.1 58l2.1-.2l-1.9-1.3l-2.1 .2z" color="#09f"/><path d="M274 58.1l2.1-.1l-1.9-1.3l-2 .2z" color="#07f"/><path d="M271.9 58.3l2.1-.2l-1.8-1.2l-2.1 .1z" color="#06f"/><path d="M269.8 58.5l2.1-.2l-1.8-1.3l-2.1 .2z" color="#05f"/><path d="M267.7 58.6l2.1-.1l-1.8-1.3l-2.1 .1z" color="#04f"/><path d="M265.6 58.8l2.1-.2l-1.8-1.3l-2.1 .2z" color="#02f"/><path d="M263.5 59l2.1-.2l-1.8-1.3l-2.1 .2z" color="#00f"/><path d="M259.3 59.3l2.1-.2l2.1-.1l-1.8-1.3l-2.1 .1l-2.1 .2z" color="#10f"/><path d="M257.2 59.4l2.1-.1l-1.8-1.3l-2.1 .1z" color="#20f"/><path d="M252.9 59.8l2.1-.2l2.2-.2l-1.8-1.3l-2.1 .2l-2.1 .2z" color="#50e"/><path d="M250.7 59.9l2.2-.1l-1.7-1.3l-2.2 .1z" color="#60e"/><path d="M246.4 60.3l2.2-.2l2.1-.2l-1.7-1.3l-2.1 .2l-2.2 .1z" color="#60d"/><path d="M244.3 60.4l2.1-.1l-1.7-1.4l-2.1 .2z" color="#70c"/><path d="M239.9 60.8l2.2-.2l2.2-.2l-1.7-1.3l-2.2 .2l-2.1 .1z" color="#80c"/><path d="M235.6 61.1l2.2-.2l2.1-.1l-1.6-1.4l-2.2 .2l-2.2 .2z" color="#80b"/><path d="M233.4 61.3l2.2-.2l-1.7-1.3l-2.1 .1z" color="#80a"/><path d="M229 61.6l2.2-.2l2.2-.1l-1.6-1.4l-2.2 .2l-2.2 .2z" color="#809"/><path d="M226.8 61.8l2.2-.2l-1.6-1.3l-2.2 .1z" color="#709"/><path d="M217.9 62.5l2.2-.2l2.2-.2l2.3-.1l2.2-.2l-1.6-1.4l-2.2 .2l-2.2 .2l-2.2 .1l-2.3 .2z" color="#708"/><path d="M213.4 62.8l2.2-.2l2.3-.1l-1.6-1.4l-2.2 .2l-2.2 .2z" color="#709"/><path d="M208.9 63.2l2.2-.2l2.3-.2l-1.5-1.3l-2.3 .1l-2.2 .2z" color="#809"/><path d="M206.6 63.3l2.3-.1l-1.5-1.4l-2.2 .2z" color="#80a"/><path d="M199.8 63.9l2.3-.2l2.3-.2l2.2-.2l-1.4-1.3l-2.3 .1l-2.3 .2l-2.2 .2z" color="#80b"/><path d="M195.2 64.2l2.3-.2l2.3-.1l-1.4-1.4l-2.3 .2l-2.3 .1z" color="#80c"/><path d="M190.6 64.6l2.3-.2l2.3-.2l-1.4-1.4l-2.3 .2l-2.3 .2z" color="#70c"/><path d="M183.6 65.1l2.4-.2l2.3-.1l2.3-.2l-1.4-1.4l-2.3 .2l-2.3 .1l-2.3 .2z" color="#60d"/><path d="M179 65.5l2.3-.2l2.3-.2l-1.3-1.4l-2.3 .2l-2.3 .2z" color="#60e"/><path d="M174.3 65.8l2.3-.1l2.4-.2l-1.3-1.4l-2.4 .1l-2.3 .2z" color="#50e"/><path d="M169.5 66.2l2.4-.2l2.4-.2l-1.3-1.4l-2.4 .2l-2.3 .2z" color="#30e"/><path d="M167.2 66.4l2.3-.2l-1.2-1.4l-2.4 .2z" color="#20f"/><path d="M164.8 66.6l2.4-.2l-1.3-1.4l-2.3 .1z" color="#10f"/><path d="M162.4 66.8l2.4-.2l-1.2-1.5l-2.4 .2z" color="#01f"/><path d="M160 66.9l2.4-.1l-1.2-1.5l-2.4 .2z" color="#02f"/><path d="M157.6 67.1l2.4-.2l-1.2-1.4l-2.4 .2z" color="#04f"/><path d="M155.2 67.3l2.4-.2l-1.2-1.4l-2.4 .2z" color="#06f"/><path d="M152.8 67.5l2.4-.2l-1.2-1.4l-2.4 .1z" color="#09f"/><path d="M150.4 67.7l2.4-.2l-1.2-1.5l-2.4 .2z" color="#0af"/><path d="M147.9 67.9l2.5-.2l-1.2-1.5l-2.4 .2z" color="#0cf"/><path d="M145.5 68.1l2.4-.2l-1.1-1.5l-2.4 .2z" color="#0ef"/><path d="M143.1 68.2l2.4-.1l-1.1-1.5l-2.4 .2z" color="#0fb"/><path d="M140.6 68.4l2.5-.2l-1.1-1.4l-2.4 .2z" color="#0f8"/><path d="M138.2 68.6l2.4-.2l-1-1.4l-2.5 .1z" color="#0f0"/><path d="M135.7 68.8l2.5-.2l-1.1-1.5l-2.4 .2z" color="#1f0"/><path d="M133.2 69l2.5-.2l-1-1.5l-2.5 .2z" color="#3f0"/><path d="M294.5 58l2.1-.2l-2-1.2l-2 .1z" color="#2f0"/><path d="M292.5 58.2l2-.2l-1.9-1.3l-2.1 .2z" color="#0f0"/><path d="M290.4 58.3l2.1-.1l-2-1.3l-2 .1z" color="#0f3"/><path d="M288.4 58.5l2-.2l-1.9-1.3l-2.1 .2z" color="#0f8"/><path d="M286.3 58.6l2.1-.1l-2-1.3l-2 .1z" color="#0fb"/><path d="M284.2 58.8l2.1-.2l-1.9-1.3l-2.1 .2z" color="#0fe"/><path d="M282.1 59l2.1-.2l-1.9-1.3l-2.1 .2z" color="#0cf"/><path d="M280.1 59.1l2-.1l-1.9-1.3l-2 .1z" color="#0af"/><path d="M278 59.3l2.1-.2l-1.9-1.3l-2.1 .2z" color="#09f"/><path d="M275.9 59.5l2.1-.2l-1.9-1.3l-2.1 .1z" color="#07f"/><path d="M273.8 59.6l2.1-.1l-1.9-1.4l-2.1 .2z" color="#06f"/><path d="M271.7 59.8l2.1-.2l-1.9-1.3l-2.1 .2z" color="#05f"/><path d="M269.6 59.9l2.1-.1l-1.9-1.3l-2.1 .1z" color="#04f"/><path d="M267.5 60.1l2.1-.2l-1.9-1.3l-2.1 .2z" color="#02f"/><path d="M265.3 60.3l2.2-.2l-1.9-1.3l-2.1 .2z" color="#01f"/><path d="M263.2 60.4l2.1-.1l-1.8-1.3l-2.1 .1z" color="#00f"/><path d="M261.1 60.6l2.1-.2l-1.8-1.3l-2.1 .2z" color="#10f"/><path d="M258.9 60.8l2.2-.2l-1.8-1.3l-2.1 .1z" color="#20f"/><path d="M256.8 60.9l2.1-.1l-1.7-1.4l-2.2 .2z" color="#30e"/><path d="M254.6 61.1l2.2-.2l-1.8-1.3l-2.1 .2z" color="#50e"/><path d="M252.5 61.3l2.1-.2l-1.7-1.3l-2.2 .1z" color="#60e"/><path d="M248.2 61.6l2.1-.2l2.2-.1l-1.8-1.4l-2.1 .2l-2.2 .2z" color="#60d"/><path d="M243.8 62l2.2-.2l2.2-.2l-1.8-1.3l-2.1 .1l-2.2 .2z" color="#70c"/><path d="M241.6 62.1l2.2-.1l-1.7-1.4l-2.2 .2z" color="#80c"/><path d="M237.2 62.5l2.2-.2l2.2-.2l-1.7-1.3l-2.1 .1l-2.2 .2z" color="#80b"/><path d="M235 62.6l2.2-.1l-1.6-1.4l-2.2 .2z" color="#80a"/><path d="M230.6 63l2.2-.2l2.2-.2l-1.6-1.3l-2.2 .1l-2.2 .2z" color="#809"/><path d="M228.4 63.2l2.2-.2l-1.6-1.4l-2.2 .2z" color="#709"/><path d="M219.4 63.9l2.3-.2l2.2-.2l2.3-.2l2.2-.1l-1.6-1.4l-2.2 .2l-2.3 .1l-2.2 .2l-2.2 .2z" color="#708"/><path d="M214.9 64.2l2.3-.2l2.2-.1l-1.5-1.4l-2.3 .1l-2.2 .2z" color="#709"/><path d="M210.4 64.6l2.3-.2l2.2-.2l-1.5-1.4l-2.3 .2l-2.2 .2z" color="#809"/><path d="M205.8 64.9l2.3-.2l2.3-.1l-1.5-1.4l-2.3 .1l-2.2 .2z" color="#80a"/><path d="M201.2 65.3l2.3-.2l2.3-.2l-1.4-1.4l-2.3 .2l-2.3 .2z" color="#80b"/><path d="M196.6 65.6l2.3-.1l2.3-.2l-1.4-1.4l-2.3 .1l-2.3 .2z" color="#80c"/><path d="M192 66l2.3-.2l2.3-.2l-1.4-1.4l-2.3 .2l-2.3 .2z" color="#70c"/><path d="M185 66.5l2.3-.1l2.4-.2l2.3-.2l-1.4-1.4l-2.3 .2l-2.3 .1l-2.4 .2z" color="#60d"/><path d="M180.3 66.9l2.4-.2l2.3-.2l-1.4-1.4l-2.3 .2l-2.3 .2z" color="#60e"/><path d="M175.6 67.3l2.3-.2l2.4-.2l-1.3-1.4l-2.4 .2l-2.3 .1z" color="#50e"/><path d="M170.8 67.7l2.4-.2l2.4-.2l-1.3-1.5l-2.4 .2l-2.4 .2z" color="#30e"/><path d="M168.4 67.8l2.4-.1l-1.3-1.5l-2.3 .2z" color="#20f"/><path d="M166 68l2.4-.2l-1.2-1.4l-2.4 .2z" color="#10f"/><path d="M163.6 68.2l2.4-.2l-1.2-1.4l-2.4 .2z" color="#01f"/><path d="M161.2 68.4l2.4-.2l-1.2-1.4l-2.4 .1z" color="#02f"/><path d="M158.8 68.6l2.4-.2l-1.2-1.5l-2.4 .2z" color="#04f"/><path d="M156.4 68.8l2.4-.2l-1.2-1.5l-2.4 .2z" color="#06f"/><path d="M154 69l2.4-.2l-1.2-1.5l-2.4 .2z" color="#09f"/><path d="M149.1 69.3l2.4-.1l2.5-.2l-1.2-1.5l-2.4 .2l-2.5 .2z" color="#0af"/><path d="M146.6 69.5l2.5-.2l-1.2-1.4l-2.4 .2z" color="#0ef"/><path d="M144.2 69.7l2.4-.2l-1.1-1.4l-2.4 .1z" color="#0fb"/><path d="M141.7 69.9l2.5-.2l-1.1-1.5l-2.5 .2z" color="#0f8"/><path d="M139.2 70.1l2.5-.2l-1.1-1.5l-2.4 .2z" color="#0f3"/><path d="M136.8 70.3l2.4-.2l-1-1.5l-2.5 .2z" color="#1f0"/><path d="M134.3 70.5l2.5-.2l-1.1-1.5l-2.5 .2z" color="#2f0"/><path d="M296.5 59.3l2.1-.2l-2-1.3l-2.1 .2z" color="#2f0"/><path d="M294.5 59.5l2-.2l-2-1.3l-2 .2z" color="#0f0"/><path d="M292.4 59.6l2.1-.1l-2-1.3l-2.1 .1z" color="#0f8"/><path d="M290.3 59.8l2.1-.2l-2-1.3l-2 .2z" color="#0fb"/><path d="M288.2 59.9l2.1-.1l-1.9-1.3l-2.1 .1z" color="#0fe"/><path d="M286.2 60.1l2-.2l-1.9-1.3l-2.1 .2z" color="#0ef"/><path d="M284.1 60.3l2.1-.2l-2-1.3l-2.1 .2z" color="#0cf"/><path d="M279.9 60.6l2.1-.2l2.1-.1l-2-1.3l-2 .1l-2.1 .2z" color="#09f"/><path d="M277.8 60.8l2.1-.2l-1.9-1.3l-2.1 .2z" color="#07f"/><path d="M275.7 60.9l2.1-.1l-1.9-1.3l-2.1 .1z" color="#06f"/><path d="M273.6 61.1l2.1-.2l-1.9-1.3l-2.1 .2z" color="#05f"/><path d="M271.4 61.3l2.2-.2l-1.9-1.3l-2.1 .1z" color="#04f"/><path d="M269.3 61.4l2.1-.1l-1.8-1.4l-2.1 .2z" color="#02f"/><path d="M267.2 61.6l2.1-.2l-1.8-1.3l-2.2 .2z" color="#01f"/><path d="M262.9 62l2.1-.2l2.2-.2l-1.9-1.3l-2.1 .1l-2.1 .2z" color="#00f"/><path d="M260.7 62.1l2.2-.1l-1.8-1.4l-2.2 .2z" color="#20f"/><path d="M258.6 62.3l2.1-.2l-1.8-1.3l-2.1 .1z" color="#30e"/><path d="M256.4 62.5l2.2-.2l-1.8-1.4l-2.2 .2z" color="#50e"/><path d="M252.1 62.8l2.2-.2l2.1-.1l-1.8-1.4l-2.1 .2l-2.2 .1z" color="#60e"/><path d="M249.9 63l2.2-.2l-1.8-1.4l-2.1 .2z" color="#60d"/><path d="M245.5 63.3l2.2-.2l2.2-.1l-1.7-1.4l-2.2 .2l-2.2 .2z" color="#70c"/><path d="M241.1 63.7l2.2-.2l2.2-.2l-1.7-1.3l-2.2 .1l-2.2 .2z" color="#80c"/><path d="M238.9 63.8l2.2-.1l-1.7-1.4l-2.2 .2z" color="#80b"/><path d="M236.7 64l2.2-.2l-1.7-1.3l-2.2 .1z" color="#80a"/><path d="M232.2 64.4l2.3-.2l2.2-.2l-1.7-1.4l-2.2 .2l-2.2 .2z" color="#809"/><path d="M227.8 64.7l2.2-.2l2.2-.1l-1.6-1.4l-2.2 .2l-2.2 .1z" color="#709"/><path d="M221 65.3l2.3-.2l2.2-.2l2.3-.2l-1.6-1.4l-2.3 .2l-2.2 .2l-2.3 .2z" color="#708"/><path d="M216.5 65.6l2.3-.2l2.2-.1l-1.6-1.4l-2.2 .1l-2.3 .2z" color="#709"/><path d="M211.9 66l2.3-.2l2.3-.2l-1.6-1.4l-2.2 .2l-2.3 .2z" color="#809"/><path d="M207.3 66.3l2.3-.1l2.3-.2l-1.5-1.4l-2.3 .1l-2.3 .2z" color="#80a"/><path d="M202.7 66.7l2.3-.2l2.3-.2l-1.5-1.4l-2.3 .2l-2.3 .2z" color="#80b"/><path d="M198.1 67.1l2.3-.2l2.3-.2l-1.5-1.4l-2.3 .2l-2.3 .1z" color="#80c"/><path d="M193.4 67.4l2.4-.1l2.3-.2l-1.5-1.5l-2.3 .2l-2.3 .2z" color="#70c"/><path d="M186.4 68l2.3-.2l2.4-.2l2.3-.2l-1.4-1.4l-2.3 .2l-2.4 .2l-2.3 .1z" color="#60d"/><path d="M181.6 68.4l2.4-.2l2.4-.2l-1.4-1.5l-2.3 .2l-2.4 .2z" color="#60e"/><path d="M176.9 68.7l2.4-.1l2.3-.2l-1.3-1.5l-2.4 .2l-2.3 .2z" color="#50e"/><path d="M174.5 68.9l2.4-.2l-1.3-1.4l-2.4 .2z" color="#30e"/><path d="M172.1 69.1l2.4-.2l-1.3-1.4l-2.4 .2z" color="#20f"/><path d="M167.3 69.5l2.4-.2l2.4-.2l-1.3-1.4l-2.4 .1l-2.4 .2z" color="#10f"/><path d="M164.9 69.7l2.4-.2l-1.3-1.5l-2.4 .2z" color="#00f"/><path d="M162.5 69.9l2.4-.2l-1.3-1.5l-2.4 .2z" color="#02f"/><path d="M160 70.1l2.5-.2l-1.3-1.5l-2.4 .2z" color="#04f"/><path d="M157.6 70.3l2.4-.2l-1.2-1.5l-2.4 .2z" color="#05f"/><path d="M155.1 70.5l2.5-.2l-1.2-1.5l-2.4 .2z" color="#07f"/><path d="M152.7 70.7l2.4-.2l-1.1-1.5l-2.5 .2z" color="#09f"/><path d="M150.2 70.8l2.5-.1l-1.2-1.5l-2.4 .1z" color="#0af"/><path d="M147.8 71l2.4-.2l-1.1-1.5l-2.5 .2z" color="#0cf"/><path d="M145.3 71.2l2.5-.2l-1.2-1.5l-2.4 .2z" color="#0fe"/><path d="M142.8 71.4l2.5-.2l-1.1-1.5l-2.5 .2z" color="#0f8"/><path d="M140.3 71.6l2.5-.2l-1.1-1.5l-2.5 .2z" color="#0f3"/><path d="M137.8 71.8l2.5-.2l-1.1-1.5l-2.4 .2z" color="#1f0"/><path d="M135.3 72l2.5-.2l-1-1.5l-2.5 .2z" color="#2f0"/><path d="M298.5 60.6l2.1-.2l-2-1.3l-2.1 .2z" color="#1f0"/><path d="M296.5 60.8l2-.2l-2-1.3l-2 .2z" color="#0f0"/><path d="M294.4 60.9l2.1-.1l-2-1.3l-2.1 .1z" color="#0f8"/><path d="M292.3 61.1l2.1-.2l-2-1.3l-2.1 .2z" color="#0fb"/><path d="M290.2 61.3l2.1-.2l-2-1.3l-2.1 .1z" color="#0fe"/><path d="M288.1 61.4l2.1-.1l-2-1.4l-2 .2z" color="#0ef"/><path d="M286 61.6l2.1-.2l-1.9-1.3l-2.1 .2z" color="#0cf"/><path d="M283.9 61.8l2.1-.2l-1.9-1.3l-2.1 .1z" color="#0af"/><path d="M281.8 61.9l2.1-.1l-1.9-1.4l-2.1 .2z" color="#09f"/><path d="M279.7 62.1l2.1-.2l-1.9-1.3l-2.1 .2z" color="#07f"/><path d="M277.6 62.3l2.1-.2l-1.9-1.3l-2.1 .1z" color="#06f"/><path d="M273.3 62.6l2.1-.1l2.2-.2l-1.9-1.4l-2.1 .2l-2.2 .2z" color="#05f"/><path d="M271.2 62.8l2.1-.2l-1.9-1.3l-2.1 .1z" color="#02f"/><path d="M269 63l2.2-.2l-1.9-1.4l-2.1 .2z" color="#01f"/><path d="M264.7 63.3l2.2-.2l2.1-.1l-1.8-1.4l-2.2 .2l-2.1 .2z" color="#00f"/><path d="M262.6 63.5l2.1-.2l-1.8-1.3l-2.2 .1z" color="#10f"/><path d="M260.4 63.7l2.2-.2l-1.9-1.4l-2.1 .2z" color="#20f"/><path d="M258.2 63.8l2.2-.1l-1.8-1.4l-2.2 .2z" color="#30e"/><path d="M256 64l2.2-.2l-1.8-1.3l-2.1 .1z" color="#50e"/><path d="M253.9 64.2l2.1-.2l-1.7-1.4l-2.2 .2z" color="#60e"/><path d="M249.5 64.5l2.2-.1l2.2-.2l-1.8-1.4l-2.2 .2l-2.2 .1z" color="#60d"/><path d="M247.3 64.7l2.2-.2l-1.8-1.4l-2.2 .2z" color="#70c"/><path d="M242.8 65.1l2.3-.2l2.2-.2l-1.8-1.4l-2.2 .2l-2.2 .2z" color="#80c"/><path d="M240.6 65.2l2.2-.1l-1.7-1.4l-2.2 .1z" color="#80b"/><path d="M238.4 65.4l2.2-.2l-1.7-1.4l-2.2 .2z" color="#80a"/><path d="M233.9 65.8l2.3-.2l2.2-.2l-1.7-1.4l-2.2 .2l-2.3 .2z" color="#809"/><path d="M229.4 66.1l2.3-.1l2.2-.2l-1.7-1.4l-2.2 .1l-2.2 .2z" color="#709"/><path d="M222.6 66.7l2.3-.2l2.3-.2l2.2-.2l-1.6-1.4l-2.3 .2l-2.2 .2l-2.3 .2z" color="#708"/><path d="M218.1 67l2.2-.1l2.3-.2l-1.6-1.4l-2.2 .1l-2.3 .2z" color="#709"/><path d="M213.5 67.4l2.3-.2l2.3-.2l-1.6-1.4l-2.3 .2l-2.3 .2z" color="#809"/><path d="M208.9 67.8l2.3-.2l2.3-.2l-1.6-1.4l-2.3 .2l-2.3 .1z" color="#80a"/><path d="M204.2 68.1l2.3-.1l2.4-.2l-1.6-1.5l-2.3 .2l-2.3 .2z" color="#80b"/><path d="M199.5 68.5l2.4-.2l2.3-.2l-1.5-1.4l-2.3 .2l-2.3 .2z" color="#80c"/><path d="M194.9 68.9l2.3-.2l2.3-.2l-1.4-1.4l-2.3 .2l-2.4 .1z" color="#70c"/><path d="M187.8 69.5l2.3-.2l2.4-.2l2.4-.2l-1.5-1.5l-2.3 .2l-2.4 .2l-2.3 .2z" color="#60d"/><path d="M183 69.8l2.4-.1l2.4-.2l-1.4-1.5l-2.4 .2l-2.4 .2z" color="#60e"/><path d="M178.2 70.2l2.4-.2l2.4-.2l-1.4-1.4l-2.3 .2l-2.4 .1z" color="#50e"/><path d="M175.8 70.4l2.4-.2l-1.3-1.5l-2.4 .2z" color="#30e"/><path d="M173.4 70.6l2.4-.2l-1.3-1.5l-2.4 .2z" color="#20f"/><path d="M168.6 71l2.4-.2l2.4-.2l-1.3-1.5l-2.4 .2l-2.4 .2z" color="#10f"/><path d="M166.1 71.2l2.5-.2l-1.3-1.5l-2.4 .2z" color="#00f"/><path d="M163.7 71.4l2.4-.2l-1.2-1.5l-2.4 .2z" color="#01f"/><path d="M161.3 71.6l2.4-.2l-1.2-1.5l-2.5 .2z" color="#02f"/><path d="M158.8 71.8l2.5-.2l-1.3-1.5l-2.4 .2z" color="#05f"/><path d="M153.9 72.2l2.4-.2l2.5-.2l-1.2-1.5l-2.5 .2l-2.4 .2z" color="#07f"/><path d="M151.4 72.4l2.5-.2l-1.2-1.5l-2.5 .1z" color="#09f"/><path d="M148.9 72.6l2.5-.2l-1.2-1.6l-2.4 .2z" color="#0cf"/><path d="M146.4 72.8l2.5-.2l-1.1-1.6l-2.5 .2z" color="#0fe"/><path d="M143.9 73l2.5-.2l-1.1-1.6l-2.5 .2z" color="#0f8"/><path d="M141.4 73.2l2.5-.2l-1.1-1.6l-2.5 .2z" color="#0f3"/><path d="M138.9 73.4l2.5-.2l-1.1-1.6l-2.5 .2z" color="#0f0"/><path d="M136.4 73.6l2.5-.2l-1.1-1.6l-2.5 .2z" color="#2f0"/><path d="M300.6 61.9l2.1-.1l-2.1-1.4l-2.1 .2z" color="#1f0"/><path d="M298.5 62.1l2.1-.2l-2.1-1.3l-2 .2z" color="#0f0"/><path d="M296.4 62.3l2.1-.2l-2-1.3l-2.1 .1z" color="#0f3"/><path d="M294.3 62.4l2.1-.1l-2-1.4l-2.1 .2z" color="#0f8"/><path d="M292.2 62.6l2.1-.2l-2-1.3l-2.1 .2z" color="#0fb"/><path d="M290.1 62.8l2.1-.2l-2-1.3l-2.1 .1z" color="#0fe"/><path d="M288 63l2.1-.2l-2-1.4l-2.1 .2z" color="#0ef"/><path d="M285.9 63.1l2.1-.1l-2-1.4l-2.1 .2z" color="#0cf"/><path d="M283.8 63.3l2.1-.2l-2-1.3l-2.1 .1z" color="#0af"/><path d="M281.6 63.5l2.2-.2l-2-1.4l-2.1 .2z" color="#09f"/><path d="M279.5 63.6l2.1-.1l-1.9-1.4l-2.1 .2z" color="#07f"/><path d="M277.4 63.8l2.1-.2l-1.9-1.3l-2.2 .2z" color="#06f"/><path d="M275.2 64l2.2-.2l-2-1.3l-2.1 .1z" color="#05f"/><path d="M273.1 64.2l2.1-.2l-1.9-1.4l-2.1 .2z" color="#04f"/><path d="M270.9 64.3l2.2-.1l-1.9-1.4l-2.2 .2z" color="#02f"/><path d="M268.8 64.5l2.1-.2l-1.9-1.3l-2.1 .1z" color="#01f"/><path d="M266.6 64.7l2.2-.2l-1.9-1.4l-2.2 .2z" color="#00f"/><path d="M264.4 64.9l2.2-.2l-1.9-1.4l-2.1 .2z" color="#10f"/><path d="M262.2 65l2.2-.1l-1.8-1.4l-2.2 .2z" color="#20f"/><path d="M260 65.2l2.2-.2l-1.8-1.3l-2.2 .1z" color="#30e"/><path d="M255.7 65.6l2.2-.2l2.1-.2l-1.8-1.4l-2.2 .2l-2.1 .2z" color="#50e"/><path d="M253.5 65.8l2.2-.2l-1.8-1.4l-2.2 .2z" color="#60e"/><path d="M251.2 65.9l2.3-.1l-1.8-1.4l-2.2 .1z" color="#60d"/><path d="M246.8 66.3l2.2-.2l2.2-.2l-1.7-1.4l-2.2 .2l-2.2 .2z" color="#70c"/><path d="M244.6 66.5l2.2-.2l-1.7-1.4l-2.3 .2z" color="#80c"/><path d="M242.3 66.7l2.3-.2l-1.8-1.4l-2.2 .1z" color="#80b"/><path d="M240.1 66.8l2.2-.1l-1.7-1.5l-2.2 .2z" color="#80a"/><path d="M235.6 67.2l2.3-.2l2.2-.2l-1.7-1.4l-2.2 .2l-2.3 .2z" color="#809"/><path d="M233.3 67.4l2.3-.2l-1.7-1.4l-2.2 .2z" color="#709"/><path d="M222 68.3l2.2-.2l2.3-.2l2.3-.2l2.3-.1l2.2-.2l-1.6-1.4l-2.3 .1l-2.2 .2l-2.3 .2l-2.3 .2l-2.3 .2z" color="#708"/><path d="M219.7 68.5l2.3-.2l-1.7-1.4l-2.2 .1z" color="#709"/><path d="M212.7 69l2.3-.1l2.3-.2l2.4-.2l-1.6-1.5l-2.3 .2l-2.3 .2l-2.3 .2z" color="#809"/><path d="M210.4 69.2l2.3-.2l-1.5-1.4l-2.3 .2z" color="#80a"/><path d="M203.4 69.8l2.3-.2l2.4-.2l2.3-.2l-1.5-1.4l-2.4 .2l-2.3 .1l-2.3 .2z" color="#80b"/><path d="M198.7 70.2l2.3-.2l2.4-.2l-1.5-1.5l-2.4 .2l-2.3 .2z" color="#80c"/><path d="M196.3 70.4l2.4-.2l-1.5-1.5l-2.3 .2z" color="#70c"/><path d="M189.2 71l2.4-.2l2.3-.2l2.4-.2l-1.4-1.5l-2.4 .2l-2.4 .2l-2.3 .2z" color="#60d"/><path d="M184.4 71.3l2.4-.2l2.4-.1l-1.4-1.5l-2.4 .2l-2.4 .1z" color="#60e"/><path d="M179.6 71.7l2.4-.2l2.4-.2l-1.4-1.5l-2.4 .2l-2.4 .2z" color="#50e"/><path d="M177.2 71.9l2.4-.2l-1.4-1.5l-2.4 .2z" color="#30e"/><path d="M174.7 72.1l2.5-.2l-1.4-1.5l-2.4 .2z" color="#20f"/><path d="M169.9 72.5l2.4-.2l2.4-.2l-1.3-1.5l-2.4 .2l-2.4 .2z" color="#10f"/><path d="M167.4 72.7l2.5-.2l-1.3-1.5l-2.5 .2z" color="#00f"/><path d="M165 72.9l2.4-.2l-1.3-1.5l-2.4 .2z" color="#01f"/><path d="M162.5 73.1l2.5-.2l-1.3-1.5l-2.4 .2z" color="#02f"/><path d="M160 73.3l2.5-.2l-1.2-1.5l-2.5 .2z" color="#05f"/><path d="M157.6 73.5l2.4-.2l-1.2-1.5l-2.5 .2z" color="#06f"/><path d="M155.1 73.7l2.5-.2l-1.3-1.5l-2.4 .2z" color="#07f"/><path d="M152.6 73.9l2.5-.2l-1.2-1.5l-2.5 .2z" color="#09f"/><path d="M150.1 74.1l2.5-.2l-1.2-1.5l-2.5 .2z" color="#0cf"/><path d="M147.6 74.3l2.5-.2l-1.2-1.5l-2.5 .2z" color="#0fe"/><path d="M145.1 74.5l2.5-.2l-1.2-1.5l-2.5 .2z" color="#0f8"/><path d="M142.6 74.7l2.5-.2l-1.2-1.5l-2.5 .2z" color="#0f3"/><path d="M140 74.9l2.6-.2l-1.2-1.5l-2.5 .2z" color="#0f0"/><path d="M137.5 75.1l2.5-.2l-1.1-1.5l-2.5 .2z" color="#2f0"/><path d="M302.7 63.3l2-.2l-2-1.3l-2.1 .1z" color="#1f0"/><path d="M300.6 63.5l2.1-.2l-2.1-1.4l-2.1 .2z" color="#0f0"/><path d="M298.5 63.6l2.1-.1l-2.1-1.4l-2.1 .2z" color="#0f3"/><path d="M296.4 63.8l2.1-.2l-2.1-1.3l-2.1 .1z" color="#0f8"/><path d="M292.1 64.2l2.1-.2l2.2-.2l-2.1-1.4l-2.1 .2l-2.1 .2z" color="#0fb"/><path d="M290 64.3l2.1-.1l-2-1.4l-2.1 .2z" color="#0fe"/><path d="M285.8 64.7l2.1-.2l2.1-.2l-2-1.3l-2.1 .1l-2.1 .2z" color="#0ef"/><path d="M283.6 64.8l2.2-.1l-2-1.4l-2.2 .2z" color="#0af"/><path d="M279.3 65.2l2.2-.2l2.1-.2l-2-1.3l-2.1 .1l-2.1 .2z" color="#07f"/><path d="M277.2 65.4l2.1-.2l-1.9-1.4l-2.2 .2z" color="#06f"/><path d="M275 65.6l2.2-.2l-2-1.4l-2.1 .2z" color="#04f"/><path d="M272.8 65.7l2.2-.1l-1.9-1.4l-2.2 .1z" color="#02f"/><path d="M270.7 65.9l2.1-.2l-1.9-1.4l-2.1 .2z" color="#01f"/><path d="M268.5 66.1l2.2-.2l-1.9-1.4l-2.2 .2z" color="#00f"/><path d="M266.3 66.3l2.2-.2l-1.9-1.4l-2.2 .2z" color="#10f"/><path d="M261.9 66.6l2.2-.2l2.2-.1l-1.9-1.4l-2.2 .1l-2.2 .2z" color="#20f"/><path d="M259.7 66.8l2.2-.2l-1.9-1.4l-2.1 .2z" color="#30e"/><path d="M257.5 67l2.2-.2l-1.8-1.4l-2.2 .2z" color="#50e"/><path d="M255.3 67.2l2.2-.2l-1.8-1.4l-2.2 .2z" color="#60e"/><path d="M250.8 67.5l2.2-.1l2.3-.2l-1.8-1.4l-2.3 .1l-2.2 .2z" color="#60d"/><path d="M248.6 67.7l2.2-.2l-1.8-1.4l-2.2 .2z" color="#70c"/><path d="M246.3 67.9l2.3-.2l-1.8-1.4l-2.2 .2z" color="#80c"/><path d="M241.8 68.3l2.3-.2l2.2-.2l-1.7-1.4l-2.3 .2l-2.2 .1z" color="#80a"/><path d="M237.3 68.6l2.3-.1l2.2-.2l-1.7-1.5l-2.2 .2l-2.3 .2z" color="#809"/><path d="M235 68.8l2.3-.2l-1.7-1.4l-2.3 .2z" color="#709"/><path d="M223.6 69.8l2.3-.2l2.3-.2l2.3-.2l2.3-.2l2.2-.2l-1.7-1.4l-2.2 .2l-2.3 .1l-2.3 .2l-2.3 .2l-2.2 .2z" color="#708"/><path d="M219 70.1l2.3-.1l2.3-.2l-1.6-1.5l-2.3 .2l-2.4 .2z" color="#709"/><path d="M214.3 70.5l2.3-.2l2.4-.2l-1.7-1.4l-2.3 .2l-2.3 .1z" color="#809"/><path d="M209.6 70.9l2.4-.2l2.3-.2l-1.6-1.5l-2.3 .2l-2.3 .2z" color="#80a"/><path d="M204.9 71.3l2.4-.2l2.3-.2l-1.5-1.5l-2.4 .2l-2.3 .2z" color="#80b"/><path d="M200.2 71.7l2.3-.2l2.4-.2l-1.5-1.5l-2.4 .2l-2.3 .2z" color="#80c"/><path d="M197.8 71.9l2.4-.2l-1.5-1.5l-2.4 .2z" color="#70c"/><path d="M190.6 72.5l2.4-.2l2.4-.2l2.4-.2l-1.5-1.5l-2.4 .2l-2.3 .2l-2.4 .2z" color="#60d"/><path d="M185.8 72.9l2.4-.2l2.4-.2l-1.4-1.5l-2.4 .1l-2.4 .2z" color="#60e"/><path d="M181 73.3l2.4-.2l2.4-.2l-1.4-1.6l-2.4 .2l-2.4 .2z" color="#50e"/><path d="M178.5 73.5l2.5-.2l-1.4-1.6l-2.4 .2z" color="#30e"/><path d="M176.1 73.7l2.4-.2l-1.3-1.6l-2.5 .2z" color="#20f"/><path d="M171.2 74.1l2.4-.2l2.5-.2l-1.4-1.6l-2.4 .2l-2.4 .2z" color="#10f"/><path d="M168.7 74.3l2.5-.2l-1.3-1.6l-2.5 .2z" color="#00f"/><path d="M166.2 74.5l2.5-.2l-1.3-1.6l-2.4 .2z" color="#01f"/><path d="M163.8 74.7l2.4-.2l-1.2-1.6l-2.5 .2z" color="#02f"/><path d="M161.3 74.9l2.5-.2l-1.3-1.6l-2.5 .2z" color="#04f"/><path d="M156.3 75.3l2.5-.2l2.5-.2l-1.3-1.6l-2.4 .2l-2.5 .2z" color="#06f"/><path d="M153.8 75.5l2.5-.2l-1.2-1.6l-2.5 .2z" color="#07f"/><path d="M151.3 75.7l2.5-.2l-1.2-1.6l-2.5 .2z" color="#0af"/><path d="M148.8 75.9l2.5-.2l-1.2-1.6l-2.5 .2z" color="#0fe"/><path d="M146.2 76.1l2.6-.2l-1.2-1.6l-2.5 .2z" color="#0f8"/><path d="M143.7 76.3l2.5-.2l-1.1-1.6l-2.5 .2z" color="#0f3"/><path d="M141.1 76.5l2.6-.2l-1.1-1.6l-2.6 .2z" color="#0f0"/><path d="M138.6 76.7l2.5-.2l-1.1-1.6l-2.5 .2z" color="#1f0"/><path d="M304.8 64.7l2.1-.2l-2.2-1.4l-2 .2z" color="#1f0"/><path d="M302.6 64.8l2.2-.1l-2.1-1.4l-2.1 .2z" color="#0f0"/><path d="M298.4 65.2l2.1-.2l2.1-.2l-2-1.3l-2.1 .1l-2.1 .2z" color="#0f3"/><path d="M296.3 65.4l2.1-.2l-2-1.4l-2.2 .2z" color="#0f8"/><path d="M294.2 65.5l2.1-.1l-2.1-1.4l-2.1 .2z" color="#0fb"/><path d="M287.8 66.1l2.1-.2l2.1-.2l2.2-.2l-2.1-1.3l-2.1 .1l-2.1 .2l-2.1 .2z" color="#0fe"/><path d="M285.6 66.2l2.2-.1l-2-1.4l-2.2 .1z" color="#0cf"/><path d="M283.5 66.4l2.1-.2l-2-1.4l-2.1 .2z" color="#09f"/><path d="M281.3 66.6l2.2-.2l-2-1.4l-2.2 .2z" color="#07f"/><path d="M279.1 66.8l2.2-.2l-2-1.4l-2.1 .2z" color="#06f"/><path d="M276.9 67l2.2-.2l-1.9-1.4l-2.2 .2z" color="#05f"/><path d="M274.8 67.1l2.1-.1l-1.9-1.4l-2.2 .1z" color="#02f"/><path d="M272.6 67.3l2.2-.2l-2-1.4l-2.1 .2z" color="#01f"/><path d="M270.4 67.5l2.2-.2l-1.9-1.4l-2.2 .2z" color="#00f"/><path d="M266 67.9l2.2-.2l2.2-.2l-1.9-1.4l-2.2 .2l-2.2 .1z" color="#10f"/><path d="M263.8 68.1l2.2-.2l-1.9-1.5l-2.2 .2z" color="#20f"/><path d="M259.3 68.4l2.3-.2l2.2-.1l-1.9-1.5l-2.2 .2l-2.2 .2z" color="#30e"/><path d="M257.1 68.6l2.2-.2l-1.8-1.4l-2.2 .2z" color="#50e"/><path d="M254.9 68.8l2.2-.2l-1.8-1.4l-2.3 .2z" color="#60e"/><path d="M252.6 69l2.3-.2l-1.9-1.4l-2.2 .1z" color="#60d"/><path d="M250.4 69.2l2.2-.2l-1.8-1.5l-2.2 .2z" color="#70c"/><path d="M248.1 69.3l2.3-.1l-1.8-1.5l-2.3 .2z" color="#80b"/><path d="M243.6 69.7l2.3-.2l2.2-.2l-1.8-1.4l-2.2 .2l-2.3 .2z" color="#80a"/><path d="M241.3 69.9l2.3-.2l-1.8-1.4l-2.2 .2z" color="#809"/><path d="M236.8 70.3l2.3-.2l2.2-.2l-1.7-1.4l-2.3 .1l-2.3 .2z" color="#709"/><path d="M225.2 71.2l2.4-.1l2.3-.2l2.3-.2l2.3-.2l2.3-.2l-1.8-1.5l-2.2 .2l-2.3 .2l-2.3 .2l-2.3 .2l-2.3 .2z" color="#708"/><path d="M218.2 71.8l2.4-.2l2.3-.2l2.3-.2l-1.6-1.4l-2.3 .2l-2.3 .1l-2.4 .2z" color="#709"/><path d="M213.5 72.2l2.4-.2l2.3-.2l-1.6-1.5l-2.3 .2l-2.3 .2z" color="#809"/><path d="M211.2 72.4l2.3-.2l-1.5-1.5l-2.4 .2z" color="#80a"/><path d="M206.4 72.8l2.4-.2l2.4-.2l-1.6-1.5l-2.3 .2l-2.4 .2z" color="#80b"/><path d="M201.7 73.2l2.4-.2l2.3-.2l-1.5-1.5l-2.4 .2l-2.3 .2z" color="#80c"/><path d="M196.9 73.6l2.4-.2l2.4-.2l-1.5-1.5l-2.4 .2l-2.4 .2z" color="#70c"/><path d="M192.1 74l2.4-.2l2.4-.2l-1.5-1.5l-2.4 .2l-2.4 .2z" color="#60d"/><path d="M187.2 74.4l2.4-.2l2.5-.2l-1.5-1.5l-2.4 .2l-2.4 .2z" color="#60e"/><path d="M184.8 74.6l2.4-.2l-1.4-1.5l-2.4 .2z" color="#50e"/><path d="M179.9 75l2.4-.2l2.5-.2l-1.4-1.5l-2.4 .2l-2.5 .2z" color="#30e"/><path d="M177.4 75.2l2.5-.2l-1.4-1.5l-2.4 .2z" color="#20f"/><path d="M172.5 75.6l2.5-.2l2.4-.2l-1.3-1.5l-2.5 .2l-2.4 .2z" color="#10f"/><path d="M170 75.8l2.5-.2l-1.3-1.5l-2.5 .2z" color="#00f"/><path d="M167.5 76l2.5-.2l-1.3-1.5l-2.5 .2z" color="#01f"/><path d="M165 76.2l2.5-.2l-1.3-1.5l-2.4 .2z" color="#02f"/><path d="M162.5 76.4l2.5-.2l-1.2-1.5l-2.5 .2z" color="#04f"/><path d="M160 76.6l2.5-.2l-1.2-1.5l-2.5 .2z" color="#05f"/><path d="M157.5 76.9l2.5-.3l-1.2-1.5l-2.5 .2z" color="#06f"/><path d="M155 77.1l2.5-.2l-1.2-1.6l-2.5 .2z" color="#07f"/><path d="M152.5 77.3l2.5-.2l-1.2-1.6l-2.5 .2z" color="#0af"/><path d="M149.9 77.5l2.6-.2l-1.2-1.6l-2.5 .2z" color="#0fe"/><path d="M147.4 77.7l2.5-.2l-1.1-1.6l-2.6 .2z" color="#0f8"/><path d="M144.8 77.9l2.6-.2l-1.2-1.6l-2.5 .2z" color="#0f3"/><path d="M142.3 78.1l2.5-.2l-1.1-1.6l-2.6 .2z" color="#0f0"/><path d="M139.7 78.3l2.6-.2l-1.2-1.6l-2.5 .2z" color="#1f0"/></g><path d="M211 72.4L210.9 72.2L210.3 70.8L209.6 69.3L208.8 67.8L208.8 67.7L209.1 66.2L208 64.7L207.8 64.4L206.7 63.3L205.4 61.9L204 60.6L202.4 59.2L201 58.1L200.8 57.9L198.9 56.7L197.1 55.4L195.7 54.1L194.3 52.9L193 51.6L191.7 50.4L190.7 49.2L189.8 48L189 46.9L188.9 46.8L188 45.6L187.5 45.5L185.1 45.3L183.1 45.5L180.6 45.3L178.3 45.2L175.9 45.1L173.8 45.3L173.5 45.3L171.5 45.2L169.1 45.1L166.8 45L164.4 44.8L162.1 44.8L161.9 44.8L159.4 44.3L158.5 43.8L156.2 42.7L156.7 41.5L156.7 41.4L158.1 40.5L158.6 40.2L159.6 39.7L161 39L161.2 38.9L162.7 38.4L164.2 37.8L165.6 37.5L166 37.4L167.7 37L169.2 36.3L169.7 36.1L170.8 35.8L172.3 35.2L173.1 34.8L173.7 34.5L175.1 33.8L175.3 33.6L176.1 32.9L176.5 32.5L176.1 31.4L175.7 30.6L175.7 30.4L175.2 29.4L174.7 28.4L175 28.1L175.6 27.4L175.9 27L176.2 26.3L176.6 25.9L178.3 25.7L180.5 25.8L181.6 26.1L183.3 26.5L184.9 26.9L186 27.1L188.2 27.7L189.6 28.5L189.9 28.6L192 29.5L193.6 30.1L194.4 30.4L196.8 31.3L197.5 31.6L199 32.3L201.4 33.2L201.4 33.2L203.9 34.1L205.2 34.5L206.9 35L208.1 35.2L210.9 35.8L211.4 35.9L213.7 36.3L215.7 36.7L216.5 36.9L219.1 37.3L220.5 37.6L221.9 37.8L224.3 38.1L226.1 38.4L225.9 39.2L225.4 39.6L224.6 39.9L223.4 40.6L223 40.9L222.3 41.4L221 42.1L220.3 42.2L219.2 42.4L217.3 42.6L215.7 43.1L214.4 43.8L214.4 43.8L215.7 45L217.1 46.1L218.5 47.3L220 48.5L221.5 49.7L222.9 50.9L224.5 52.1L226 53.3L227.4 54.6L228.8 55.9L230.1 57.2L231.5 58.5L233.2 59.8L234.8 61.2L236.5 62.5L238.2 63.9L240.6 65.2L240.6 65.2L242.9 66.6L245.1 68L247.1 69.4M183.1 74.7L181.4 73.2L179.6 71.7L179.5 71.6L177.8 70.3L176 68.8L174.4 67.4L172.8 65.9L171.4 64.5L170 63.1L168.8 61.8L167.6 60.4L166.4 59L165.4 57.7L164.4 56.4L163.3 55.1L162.2 53.8L161.1 52.5L161.3 51.4L161.7 51.1L162.2 49.9L162.2 49.8L161.6 48.6L160.8 47.3L158.9 46.3L158.8 46.2L156.5 45.1L155.2 44.7L153.4 44.1L152.2 43.8L150.1 43.1L150.7 42.1L151 41.9L151.9 41L152.2 40.6L152.9 39.6L152.9 39.4L153.3 38.2L153.4 37.9L154.9 37.1L154.9 37L155.9 35.9L156 35.8L156.9 34.7L157 34.7L158.4 34.1L159.2 33.5L159.3 32.7L159.6 32.4L159.7 31.3L159.7 31.1L159.7 30.3L159.9 29.2L159.9 29.2L160.8 28.2L160.8 28.1L161.3 27.1L161.5 26.8L163 26.3L163.2 26.1L163.8 25.2L163.9 25M183.8 24L184.5 24.2L187.2 24.8L187.3 24.8L190 25.4L190.5 25.6L193 26.3L193.3 26.4L195.1 27.3L197.1 28.2L197.7 28.5L199.4 29.1L201.1 29.6L202.1 30L204.4 30.6L205 30.8L207 31.8L208.9 32.6L209.3 32.7L212.2 33.6L212.4 33.7L215.4 34.4L215.7 34.5L218.6 35.3L219 35.4L221.4 35.9L222.9 36.3L224.6 36.7L227.2 37.1L227.6 37.1L229.5 37.3L231.7 37.3L234.2 37.6L235 37.8L235 38.2L234.6 39L234.6 39.4L234.1 40.2L234 40.6L234.2 41.3L234.8 42.5L236.4 43.6L238 44.7L239.7 45.9L241.5 47L243.2 48.2L244.9 49.3L246.7 50.5L248.5 51.7L250 53L251.5 54.2L253 55.5L254.5 56.8L255.7 58.1L256.1 58.7L256.2 59.5L256.7 60.9L256.7 60.9L257.8 62.4L258.7 63.8L259.2 64.5L259.4 65.3L259.5 66.7L259.5 66.8L259.5 68.4M161 76.6L161 74.9L160.9 74.4L160.4 73.3L159.5 71.7L158.6 70.2L157.8 68.7L157 67.2L156 65.7L155.1 64.3L154.8 63.7L154.8 62.8L154.6 61.3L154 59.9L153.9 59.5L153.4 58.6L154.2 57.1L154.2 57L155.4 55.6L155.4 55.6L155.8 54.2L155.9 53.4L156 52.9L156.6 51.5L156.6 51.5L156.8 50.2L157 49.3L157.1 48.9L157.2 47.6L154.7 46.6L154.4 46.5L151.5 45.6L151.2 45.5L148.3 44.4L148.1 44.4L145.5 43.4L145.8 42.2L146 41.9L146.4 41L146.9 40.4L147.4 39.7L148 39.1L148.3 38.5L148.2 37.4L148.2 36.9L148.2 36.3L148.5 35.2L148.6 34.9L149.2 34L149.5 33.6L150.1 32.9L150.5 32.4L150.7 31.8L151.2 30.9L151.3 30.7L152.1 29.7L152.1 29.7L151.9 28.7L151.7 27.7L151.7 27.1L151.7 26.7L151.8 25.7M195.5 23.4L196.5 24.3L197.6 25.2L198.3 25.8L198.7 26.1L199.9 27L199.9 27.1L202.1 27.9L203.8 28.6L204.6 28.8L207.1 29.6L207.4 29.7L209.9 30.6L210.8 30.9L212.8 31.4L214.1 31.8L215.7 32.3L217.5 32.9L218.4 33.3L220.5 34.2L221.9 34.7L224.1 35.1L224.7 35.2L227.2 35.5L229.3 35.6L231.5 35.8L231.7 35.8L234.3 36.2L236.7 36.4L237.7 36.5L239 36.6L241.9 37.2L242.4 37.3L242.4 37.5L242 38.5L241.9 38.7L240.8 39.4L240.3 39.8L239.8 40.1L239.6 41L239.4 41.4L239.6 42.2L241.6 43.3L242.8 43.9L243.8 44.3L246 45.4L248.2 46.5L249.7 47.3L250.5 47.6L253.4 48.7L254.2 49L256.7 49.8L258.9 50.7L259.5 50.9L261.3 52.1L263.1 53.4L264.9 54.6L266.7 55.9L268.6 57.1L270.6 58.4L272.7 59.7L275.1 61L274.7 61.9L275.1 62.5L275.9 63.9L276.4 64.8L276.8 65.4L278 66.9M150.2 77.5L149.1 75.9L148 74.3L147 72.7L145.9 71.2L145.2 69.6L144.6 68.1L143.9 66.6L143.2 65.2L143.2 65L143.7 63.6L144 62.7L144.5 62.1L145.2 61L145.1 60.6L144.6 59.2L144.7 57.8L144.7 57.3L145.3 56.3L145.8 55.6L146.1 54.9L146.5 53.5L146.6 53.5L148.1 52.6L149.3 52L149.8 51.7L150.1 50.6L150.4 49.6L150.5 49.3L150.9 48L148.2 47L147.8 46.9L145.2 46.3L142.8 46.2L142.5 46L140.2 45L139.1 44.4L136.6 44.1L135.3 44L135.9 43.2L136.7 42.8L137.4 42.4L137.2 41.5L137.1 40.4L137.3 39.5L137.4 39.2L137.9 38L138.1 37.8L139.6 37L141 36.7L141.4 36.6L141.8 35.6L141.8 34.5L141.8 34.5L142.1 33.4L142.3 32.7L142.4 32.3L142.7 31.2L142.8 30.9L142.9 30.2L143.1 29.1L143.2 29L143.9 28.1L144.1 27.7L145.2 27L145.4 26.9L145.7 26M205 22.9L205 23.4L205.2 23.8L205.6 24.8L205.9 25.6L205.8 25.7L205 26.4L205.1 26.8L205.7 26.9L208.2 27.3L208.9 27.6L211.3 28.4L212 28.7L214.7 29.2L214.9 29.2L217.6 29.9L218.1 30.1L219.9 31L221.7 32L223.5 32.9L224.1 33.2L226.3 33.9L227 33.9L229.2 33.9L231.4 34.1L233.7 34.3L234.9 34.4L236.2 34.6L238.9 35L239.8 35.2L242.1 35.8L243.9 35.7L245.6 36L246.8 36.3L249.6 36.7L251.6 36.7L251.7 36.7L251.7 36.8L249.9 37L248.5 37.5L247.3 38L246.6 38.2L245.8 38.4L245.9 39.4L246 40.1L245.9 40.6L245.9 41.5L245.8 41.8L247.3 42.5L248.1 42.8L250.9 43.9L251.7 44.1L254 44.9L255.8 45.4L258.5 45.8L258.6 45.9L258.8 45.8L260.4 45.6L260.7 45.7L262.7 46.8L264.8 47.9L266.9 49.1L269.1 50.2L269.9 50.6L271.9 51.4L274.5 52.5L276.2 53.4L277 53.7L280.5 54.8L280.8 54.9L282.9 56L285.3 57.3L287.7 58.5L290.3 59.8L291.4 61.2L292.4 62.6L292.6 62.9L292.9 64.1L292.9 64.6L292 65.7L291.9 65.7M131 65.8L131.6 64.5L132.1 63.6L133.2 62.9L133.8 62.6L134.2 61.4L134.5 60L134.5 59.9L134.3 58.5L134.8 57.1L134.8 57.1L135 55.7L135.3 54.5L135.7 54.3L137.2 53.8L138.7 52.7L138.8 52.7L140.8 52.3L142.3 51.3L142.4 51.1L142.9 49.8L142.9 49.1L143.1 48.5L142 48L140.7 47.4L138.6 46.7L137.2 46.4L135.9 46.1L133.7 46.3L131.1 45.9L129.9 45.6L128.3 45.2L126.9 44.6L126.4 43.4L125.9 42.2L125.9 42L125.9 41.1L125.9 39.9L126.2 39.5L127 38.7L127.5 38.3L128.2 37.5L128.6 37L129.3 36.3L129.9 35.8L130.3 35.1L130.8 34.3L131 34L131.6 32.9L131.7 32.7L132.3 31.8L132.5 31.1L132.6 30.7L133.7 30.1L134.9 29.6L135.2 29.4L136.2 28.5L136.3 28.3L137 27.4L137.3 27.1L138 26.4M212.7 22.5L213.1 23.4L213.2 23.8L213.4 24.3L213.7 25.3L213.9 25.7L214.2 26.3L215.3 26.7L216.4 27.1L218.9 28L219.1 28L222.1 28.8L222.3 28.8L224.5 29.1L226.9 29.6L227.3 29.7L229.5 30.5L231.4 31.2L231.9 31.4L234.7 32.3L235.2 32.4L237.5 33.2L238.6 33.4L240.7 33.5L243.2 33.8L243.9 33.9L246 34.3L248.5 34.6L248.9 34.7L251.5 35.2L253.7 35.5L253.9 35.5L257 36.4L256.5 37.3L255.2 37.7L255.1 37.7L254.1 38.4L252.5 38.7L251.1 39.1L250.9 39.1L249.5 39.5L248.9 40.4L248.9 40.6L249.2 41.6L251.7 42.6L251.7 42.6L254.9 43.6L255.6 43.8L257.6 43.6L260.2 44L261.9 44.3L263.3 44.6L266 45L267 45.2L269.6 46.3L270.7 46.7L272.6 47.4L274.9 48.1L276 48.4L278.8 49.5L280.8 50.5L281.3 50.7L284.1 51.8L286.7 52.9L286.9 53L289.7 54.1L292.4 55.3L293.4 55.8M122.7 53.8L122.7 53.8L124.4 52.8L126.5 52.3L127.1 52.2L128.5 51.8L129.8 50.7L129.9 50.5L131.8 50.5L132.3 50.5L132.4 50.5L133.9 49.6L136 49.2L138.5 49.5L139.1 48.8L137.6 48.3L135.7 48.8L133.3 48.8L130.6 48.2L128.2 48.3L128.1 48.2L125.2 47.3L124.4 47.2L122.6 47L119.9 46.4L119.6 46.3L117.2 45.2L116.8 44L116.4 42.8L116 41.7L115.5 40.5L115.6 40.3L116.1 39.3L116.5 38.4L118.5 38.1L118.6 38L119.8 36.9L119.8 36.8L120.3 35.7L120.7 35.2L121.5 34.5L122 34.1L123 33.4L123.3 33L123.6 32.3L123.9 31.2L124 31.1L125.6 30.5L126.6 30L127.1 29.8L128.1 28.9L128.3 28.7L129.8 28L130 27.8L131 27L131.1 26.8M216.4 22.3L217.7 23.2L219 24L220.3 24.9L221.8 25.8L222 25.9L224.5 26.3L225.5 26.6L228 27.5L228.4 27.6L230.4 28.4L232.2 28.9L233.4 29.2L235.2 29.7L236.8 30.1L238.3 30.4L240.5 30.9L241.3 31.1L243.5 31.8L245.1 32.3L246.5 32.7L247.8 32.8L250 32.9L252.5 33.3L253 33.3L256 34.2L256.1 34.2L258.7 35.2L260.7 35.9L261.3 36.1L261.3 36.3L261.4 37.3L261.3 37.7L261.2 38.4L260.8 38.7L259.6 39.3L258 39.6L257.2 39.8L256.5 40L255.1 40.5L253.4 40.8L251.7 41.1L251.6 41.4L252.7 41.8L254.8 41.7L257 41.8L258.8 42.1L259.8 42.3L262.1 42.4L264.8 42.8L265.3 42.9L268 43.5L270.5 43.7L270.6 43.8L273.7 44.8L274.8 45.2L277 45.8L278.6 46.2M109.8 35.1L111.3 34.3L111.5 34L112.2 32.9L112.4 32.7L113.1 31.8L113.7 31.6L115.4 31L117.3 30.6L117.4 30.5L118.5 29.5L118.6 29.4L119.4 28.4L119.5 28.1L120.5 27.3M221.2 22L223.1 22.9L224.1 23.3L225.5 23.7L227.1 24.1L228.8 24.5L230.1 24.8L232.6 25.1L232.9 25.2L235.6 26.1L236.1 26.2L238.5 26.9L239.3 27.1L241.3 27.1L243.5 27.3L244.7 27.6L246.4 27.9L248.2 27.8L250.2 27.8M107.3 31.6L109.2 31.3L109.9 30.9L110.7 30.4L111.8 29.8L112.2 29.5L113.5 28.7L113.6 28.6L115 27.6M225.8 21.8L228.6 22.4L229.1 22.6L231.4 23.1L232.6 23.3L234.3 23.7L236.4 23.8L237.7 24L238.7 24.1L241.4 24.8L241.7 24.8L243.9 25L245.8 25M106.3 30.2L106.7 30.1L107.8 29.3L108.3 29L109.2 28.2L109.6 27.9M237.9 21.2L238 21.2L239.9 21.2" fill="none" stroke="#303030" stroke-width="0.35" opacity="0.6"/><g stroke-width="0.7"><line x1="104.9" y1="28.1" x2="239.7" y2="21.1" stroke="#a0a0a0"/><line x1="239.7" y1="21.1" x2="306.9" y2="64.5" stroke="#606060"/></g><g stroke="#222" stroke-width="0.9"><line x1="140.8" y1="232.8" x2="287.5" y2="207.5" /><line x1="140.8" y1="232.8" x2="109.4" y2="156.6" /><line x1="287.5" y1="207.5" x2="306.9" y2="64.5" /><line x1="154.5" y1="230.5" x2="155.4" y2="232.5" /><line x1="217.4" y1="219.6" x2="218.7" y2="221.5" /><line x1="275.8" y1="209.5" x2="277.4" y2="211.3" /><line x1="137.4" y1="224.7" x2="134.3" y2="225.2" /><line x1="128.2" y1="202.3" x2="125.2" y2="202.8" /><line x1="120.1" y1="182.5" x2="117.3" y2="182.9" /><line x1="112.8" y1="164.9" x2="110.2" y2="165.2" /><line x1="289.1" y1="196" x2="291.2" y2="198.4" /><line x1="295.7" y1="147.2" x2="298" y2="149.3" /><line x1="302.9" y1="93.5" x2="305.4" y2="95.3" /></g><g font-family="Liberation Sans, sans-serif" fill="#000" stroke="#000" stroke-width="0.2"><text transform="matrix(0.729 0.510 -0.167 1.188 304.8 99.9)" font-size="10" text-anchor="start">0.08</text><text transform="matrix(0.651 0.607 -0.167 1.188 297 153.7)" font-size="10" text-anchor="start">0.04</text><text transform="matrix(0.596 0.661 -0.167 1.188 289.9 202.3)" font-size="10" text-anchor="start">0.00</text><text transform="matrix(0.139 -1.132 0.675 0.390 316 178)" font-size="10" text-anchor="start">MR (%)</text><text transform="matrix(0.452 0.696 -1.174 0.249 150.8 236.3)" font-size="10" text-anchor="start">-0.25</text><text transform="matrix(0.465 0.664 -1.174 0.249 214.9 223.6)" font-size="10" text-anchor="start">0.00</text><text transform="matrix(0.514 0.613 -1.125 0.239 273.4 213.6)" font-size="10" text-anchor="start">0.25</text><text transform="translate(208.3 251.4) rotate(-11) scale(1.08 1) skewX(8)" font-size="10.5" text-anchor="start">μ<tspan font-size="7" dy="1.5">0</tspan><tspan dy="-1.5">H( Tesla)</tspan></text><text transform="translate(108.3 169) rotate(-7) scale(1.18 0.95) skewX(8)" font-size="9.2" text-anchor="end">3.5</text><text transform="translate(114.8 186.4) rotate(-7) scale(1.18 0.95) skewX(8)" font-size="9.8" text-anchor="end">3.0</text><text transform="translate(121.3 206.2) rotate(-7) scale(1.18 0.95) skewX(8)" font-size="10.5" text-anchor="end">2.5</text><text transform="translate(131.5 229.2) rotate(-7) scale(1.2 0.95) skewX(8)" font-size="11.5" text-anchor="end">2.0</text><text transform="translate(81.2 172.8) rotate(71.7) scale(0.71 1.15) skewX(-8)" font-size="10.5" text-anchor="start">Temperature (K)</text></g><defs><linearGradient id="cb" x1="0" y1="0" x2="0" y2="1"><stop offset="0.0000" stop-color="#7a0000"/><stop offset="0.2024" stop-color="#f00"/><stop offset="0.3345" stop-color="#f00"/><stop offset="0.3619" stop-color="#ff3c00"/><stop offset="0.3952" stop-color="#ff8000"/><stop offset="0.4417" stop-color="#ffbe00"/><stop offset="0.5012" stop-color="#ff0"/><stop offset="0.5440" stop-color="#c8ff00"/><stop offset="0.5964" stop-color="#80ff00"/><stop offset="0.6381" stop-color="#40ff00"/><stop offset="0.6821" stop-color="#0f0"/><stop offset="0.6988" stop-color="#00ff80"/><stop offset="0.7250" stop-color="#0ff"/><stop offset="0.7655" stop-color="#0096ff"/><stop offset="0.8048" stop-color="#004bff"/><stop offset="0.8440" stop-color="#00f"/><stop offset="0.8976" stop-color="#5c00ec"/><stop offset="0.9333" stop-color="#8400c6"/><stop offset="0.9667" stop-color="#8400a0"/><stop offset="1.0000" stop-color="#760076"/></linearGradient></defs><rect x="334.3" y="62.6" width="13.699999999999989" height="2.2" fill="#fff" stroke="#999" stroke-width="0.6"/><rect x="334.3" y="64.6" width="13.699999999999989" height="160.6" fill="url(#cb)"/><rect x="334.3" y="224.89999999999998" width="13.699999999999989" height="1" fill="#000"/><path d="M334.3 62.6V225.7 M348.0 62.6V225.7" stroke="#777" stroke-width="0.6" fill="none"/><line x1="348.0" y1="72.6" x2="351.0" y2="72.6" stroke="#444" stroke-width="0.8"/><line x1="348.0" y1="148.8" x2="351.0" y2="148.8" stroke="#444" stroke-width="0.8"/><line x1="348.0" y1="225.0" x2="351.0" y2="225.0" stroke="#444" stroke-width="0.8"/><g font-family="Liberation Sans, sans-serif" font-size="10.3" fill="#000"><text x="354.5" y="76.3">0.08</text><text x="354.5" y="152.4">0.04</text><text x="355" y="228.6">0</text><text x="323.5" y="57.6">MR (%)</text></g><text x="73.5" y="7.7" font-family="DejaVu Sans Condensed, DejaVu Sans, Liberation Sans, sans-serif" font-size="9.6" fill="#000" stroke="#000" stroke-width="0.22" textLength="281.5" lengthAdjust="spacingAndGlyphs">Oscillatory and negative MR in NiBi <tspan font-size="8" dy="2.4">3</tspan><tspan dy="-2.4"> nanowires with Ni impurity</tspan></text></svg></body></html>
